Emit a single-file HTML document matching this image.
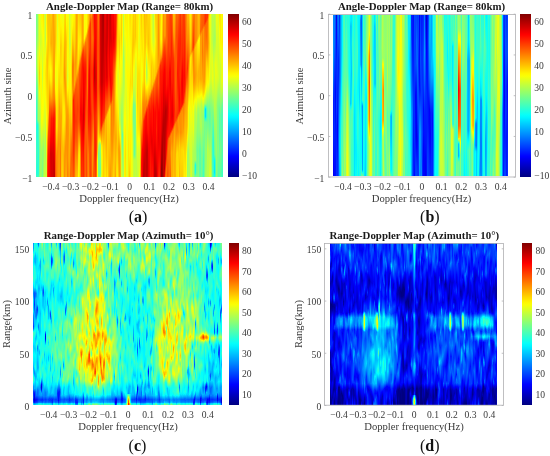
<!DOCTYPE html><html><head><meta charset="utf-8"><style>
*{margin:0;padding:0}
html,body{width:550px;height:456px;background:#fff;overflow:hidden}
body{position:relative;font-family:'Liberation Serif',serif}
.hm{position:absolute;overflow:hidden}
.hm i{position:absolute;top:0;bottom:0;width:1px;display:block}
.cb{position:absolute;background:linear-gradient(to top,#000080,#000090,#0000a0,#0000b0,#0000c0,#0000d0,#0000e1,#0000f1,#0002ff,#0012ff,#0022ff,#0033ff,#0043ff,#0053ff,#0063ff,#0073ff,#0084ff,#0094ff,#00a4ff,#00b4ff,#00c4ff,#00d4ff,#00e5ff,#00f5ff,#06fff9,#16ffe9,#26ffd9,#37ffc8,#47ffb8,#57ffa8,#67ff98,#77ff88,#88ff77,#98ff67,#a8ff57,#b8ff47,#c8ff37,#d9ff26,#e9ff16,#f9ff06,#fff500,#ffe500,#ffd500,#ffc400,#ffb400,#ffa400,#ff9400,#ff8400,#ff7300,#ff6300,#ff5300,#ff4300,#ff3300,#ff2200,#ff1200,#ff0200,#f10000,#e10000,#d00000,#c00000,#b00000,#a00000,#900000,#800000)}
svg{position:absolute;left:0;top:0}
#w{position:absolute;left:0;top:0;width:550px;height:456px;background:#fff;filter:blur(0.35px)}
</style></head><body><div id="w"><div class="hm" style="left:36px;top:14px;width:187px;height:163px"><i style="left:0px;background:linear-gradient(#74ff8b 0px,#96ff69 50.5px,#7aff85 64.5px,#4bffb4 82.5px,#32ffcd 107.5px,#26ffd9 112.5px,#3dffc2 138.5px,#26ffd9 159.5px,#39ffc6 163px)"></i><i style="left:1px;background:linear-gradient(#8aff75 0px,#8eff71 20.5px,#caff35 42.5px,#c1ff3e 52.5px,#6fff90 75.5px,#65ff9a 89.5px,#68ff97 105.5px,#4effb1 107.5px,#1dffe2 110.5px,#16ffe9 112.5px,#38ffc7 138.5px,#1dffe2 158.5px,#42ffbd 163px)"></i><i style="left:2px;background:linear-gradient(#c8ff37 0px,#c1ff3e 25.5px,#ebff14 47.5px,#ddff22 66.5px,#b0ff4f 91.5px,#a5ff5a 105.5px,#8aff75 107.5px,#56ffa9 110.5px,#4affb5 112.5px,#2bffd4 142.5px,#2bffd4 159.5px,#44ffbb 163px)"></i><i style="left:3px;background:linear-gradient(#eeff11 0px,#e1ff1e 26.5px,#fffc00 40.5px,#ffd000 58.5px,#ffd600 67.5px,#fbff04 78.5px,#b8ff47 93.5px,#a0ff5f 107.5px,#8bff74 113.5px,#71ff8e 134.5px,#7cff83 161.5px,#7eff81 163px)"></i><i style="left:4px;background:linear-gradient(#edff12 0px,#cfff30 28.5px,#efff10 48.5px,#fff900 58.5px,#fffa00 69.5px,#eeff11 78.5px,#ceff31 95.5px,#c2ff3d 110.5px,#9aff65 131.5px,#9aff65 163px)"></i><i style="left:5px;background:linear-gradient(#fff600 0px,#f7ff08 11.5px,#daff25 26.5px,#f8ff07 53.5px,#fff800 71.5px,#faff05 107.5px,#a4ff5b 137.5px,#8dff72 163px)"></i><i style="left:6px;background:linear-gradient(#fff400 0px,#f9ff06 16.5px,#c4ff3b 59.5px,#ddff22 72.5px,#fffe00 86.5px,#faff05 105.5px,#94ff6b 138.5px,#73ff8c 163px)"></i><i style="left:7px;background:linear-gradient(#ffe600 0px,#fffe00 21.5px,#eaff15 41.5px,#feff01 71.5px,#f9ff06 95.5px,#dbff24 111.5px,#97ff68 133.5px,#97ff68 145.5px,#a5ff5a 163px)"></i><i style="left:8px;background:linear-gradient(#d7ff28 0px,#e1ff1e 34.5px,#fffc00 53.5px,#f9ff06 78.5px,#dcff23 100.5px,#d5ff2a 116.5px,#b1ff4e 135.5px,#c8ff37 163px)"></i><i style="left:9px;background:linear-gradient(#c4ff3b 0px,#beff41 25.5px,#f1ff0e 41.5px,#fff900 47.5px,#ffe900 59.5px,#faff05 85.5px,#a8ff57 125.5px,#a2ff5d 139.5px,#c8ff37 161.5px,#c8ff37 163px)"></i><i style="left:10px;background:linear-gradient(#fff700 0px,#ffff00 26.5px,#ffd400 45.5px,#ffd800 67.5px,#ffff00 102.5px,#f2ff0d 123.5px,#d2ff2d 147.5px,#d2ff2d 163px)"></i><i style="left:11px;background:linear-gradient(#ffc900 0px,#ffd900 25.5px,#ffc200 47.5px,#ffe000 103.5px,#ffcd00 116.5px,#ff8500 128.5px,#ff4800 145.5px,#ff2d00 163px)"></i><i style="left:12px;background:linear-gradient(#ffc600 0px,#ffca00 36.5px,#ffe700 55.5px,#ffca00 82.5px,#ffc400 97.5px,#ff7600 110.5px,#ff4a00 117.5px,#ff0e00 140.5px,#ff0200 163px)"></i><i style="left:13px;background:linear-gradient(#ffbf00 0px,#ffd700 35.5px,#fff200 52.5px,#ffdc00 64.5px,#ff8000 88.5px,#ff4a00 98.5px,#ff3c00 105.5px,#ff3500 120.5px,#ff0200 143.5px,#f70000 163px)"></i><i style="left:14px;background:linear-gradient(#ffc800 0px,#ffbb00 29.5px,#ffe900 45.5px,#fffe00 56.5px,#ffed00 66.5px,#ff9300 85.5px,#ff5400 95.5px,#ff3100 105.5px,#ff1700 119.5px,#f90000 128.5px,#d90000 139.5px,#e50000 163px)"></i><i style="left:15px;background:linear-gradient(#ffce00 0px,#ffb400 18.5px,#ffad00 29.5px,#fff300 56.5px,#ffed00 66.5px,#ffac00 82.5px,#ff4d00 95.5px,#ff1a00 104.5px,#fb0000 125.5px,#d50000 140.5px,#d70000 163px)"></i><i style="left:16px;background:linear-gradient(#ffb000 0px,#ffb200 28.5px,#ffd200 57.5px,#ffbc00 70.5px,#ff9000 84.5px,#ff1e00 104.5px,#fb0000 125.5px,#db0000 139.5px,#d50000 163px)"></i><i style="left:17px;background:linear-gradient(#ffa100 0px,#ffa800 27.5px,#ffa200 63.5px,#ff8200 84.5px,#ff0f00 104.5px,#fa0000 119.5px,#e40000 132.5px,#cd0000 148.5px,#c80000 163px)"></i><i style="left:18px;background:linear-gradient(#ffbd00 0px,#ffa700 23.5px,#ffa300 39.5px,#ffac00 63.5px,#ff9200 79.5px,#ff7a00 85.5px,#ff2b00 98.5px,#ff1700 105.5px,#ff0d00 124.5px,#fa0000 133.5px,#c40000 159.5px,#c30000 163px)"></i><i style="left:19px;background:linear-gradient(#ffc700 0px,#ffbf00 27.5px,#fcff03 54.5px,#f2ff0d 65.5px,#fff800 74.5px,#ffcf00 84.5px,#ff8a00 94.5px,#ff6a00 104.5px,#ff6d00 117.5px,#ff4f00 135.5px,#ff5300 163px)"></i><i style="left:20px;background:linear-gradient(#ffe200 0px,#ffe900 25.5px,#fff200 42.5px,#f8ff07 53.5px,#efff10 66.5px,#fffa00 78.5px,#ffe000 95.5px,#ffe100 112.5px,#ffbb00 127.5px,#ff8b00 142.5px,#ff7500 163px)"></i><i style="left:21px;background:linear-gradient(#ddff22 0px,#e8ff17 24.5px,#fdff02 43.5px,#f7ff08 67.5px,#fff700 76.5px,#ffd900 96.5px,#ffd400 112.5px,#ffa600 128.5px,#ff8b00 137.5px,#ff8c00 153.5px,#ff9100 163px)"></i><i style="left:22px;background:linear-gradient(#fff100 0px,#f9ff06 16.5px,#f4ff0b 29.5px,#fff700 46.5px,#ffb400 101.5px,#ffa300 117.5px,#ff8f00 129.5px,#ff9c00 163px)"></i><i style="left:23px;background:linear-gradient(#fff100 0px,#fffc00 35.5px,#ffcf00 73.5px,#ffa300 93.5px,#ffa700 115.5px,#ff9400 129.5px,#ff9e00 163px)"></i><i style="left:24px;background:linear-gradient(#fbff04 0px,#fff400 12.5px,#ffce00 33.5px,#ffe000 67.5px,#ffab00 99.5px,#ff9900 118.5px,#ff7a00 138.5px,#ff7900 163px)"></i><i style="left:25px;background:linear-gradient(#f6ff09 0px,#fff900 11.5px,#ffd500 31.5px,#ffe300 68.5px,#ffc200 87.5px,#ffa900 102.5px,#ffb400 128.5px,#ffc500 157.5px,#ffc500 163px)"></i><i style="left:26px;background:linear-gradient(#edff12 0px,#fffa00 15.5px,#ffeb00 32.5px,#ffe400 68.5px,#ffda00 97.5px,#ffdd00 113.5px,#ffbf00 133.5px,#ffd600 163px)"></i><i style="left:27px;background:linear-gradient(#eeff11 0px,#fffa00 17.5px,#ffc600 58.5px,#ffd200 73.5px,#fff100 95.5px,#ffe800 112.5px,#ffb900 140.5px,#ffbd00 163px)"></i><i style="left:28px;background:linear-gradient(#ffe400 0px,#ffce00 16.5px,#ffad00 36.5px,#ff9400 63.5px,#ffb700 76.5px,#ffe800 92.5px,#ffea00 106.5px,#ffc300 124.5px,#ff9a00 141.5px,#ff8f00 163px)"></i><i style="left:29px;background:linear-gradient(#ffd900 0px,#ffb400 30.5px,#ffb900 49.5px,#ff9c00 70.5px,#ffaf00 86.5px,#ffc900 102.5px,#ffb700 115.5px,#ff9100 133.5px,#ff9c00 149.5px,#ffa600 163px)"></i><i style="left:30px;background:linear-gradient(#f6ff09 0px,#fff900 10.5px,#ffcd00 27.5px,#ffd300 63.5px,#ffab00 88.5px,#ff8e00 114.5px,#ff9400 136.5px,#ffad00 163px)"></i><i style="left:31px;background:linear-gradient(#fbff04 0px,#fff100 17.5px,#fff500 30.5px,#f7ff08 40.5px,#d8ff27 62.5px,#edff12 71.5px,#fff800 76.5px,#ffa200 95.5px,#ff9200 109.5px,#ff8d00 146.5px,#ff7f00 163px)"></i><i style="left:32px;background:linear-gradient(#f4ff0b 0px,#fff900 31.5px,#efff10 64.5px,#fff900 73.5px,#ffa300 101.5px,#ff9500 119.5px,#ffa300 143.5px,#ff9000 163px)"></i><i style="left:33px;background:linear-gradient(#ccff33 0px,#c7ff38 27.5px,#fffa00 52.5px,#fff500 64.5px,#fff100 82.5px,#ffb900 106.5px,#ffb300 125.5px,#ffa800 152.5px,#ff9d00 163px)"></i><i style="left:34px;background:linear-gradient(#e7ff18 0px,#cfff30 29.5px,#fffd00 54.5px,#fff500 76.5px,#ff9600 125.5px,#ff6400 163px)"></i><i style="left:35px;background:linear-gradient(#edff12 0px,#fff900 24.5px,#ffdc00 55.5px,#ffe000 94.5px,#ffc400 107.5px,#ff7900 128.5px,#ff5e00 144.5px,#ff6f00 163px)"></i><i style="left:36px;background:linear-gradient(#f6ff09 0px,#fff900 11.5px,#ffb200 34.5px,#ff7800 52.5px,#ff7b00 62.5px,#ffa300 80.5px,#ff8200 86.5px,#ff6a00 111.5px,#ff5200 140.5px,#ff6700 163px)"></i><i style="left:37px;background:linear-gradient(#fffd00 0px,#ffd300 25.5px,#ff7b00 50.5px,#ff8700 75.5px,#ff1c00 86.5px,#ff1f00 101.5px,#ff2b00 120.5px,#ff2f00 137.5px,#ff5500 161.5px,#ff5500 163px)"></i><i style="left:38px;background:linear-gradient(#fff200 0px,#ffd100 33.5px,#ffa500 50.5px,#ffae00 70.5px,#ff4200 81.5px,#ff2200 101.5px,#ff3000 123.5px,#ff7100 163px)"></i><i style="left:39px;background:linear-gradient(#ffcd00 0px,#ffbf00 27.5px,#ff9800 48.5px,#ffa800 65.5px,#ff5300 75.5px,#ff3500 107.5px,#ff5500 123.5px,#ff8e00 143.5px,#ffab00 163px)"></i><i style="left:40px;background:linear-gradient(#ffa500 0px,#ff9f00 37.5px,#ffb200 59.5px,#ff5a00 70.5px,#ff3900 107.5px,#ff5c00 126.5px,#ffb400 158.5px,#ffb800 163px)"></i><i style="left:41px;background:linear-gradient(#ffb000 0px,#ffcb00 39.5px,#ffce00 54.5px,#ff6e00 65.5px,#ff3a00 94.5px,#ff4800 110.5px,#ff7900 134.5px,#ffbf00 160.5px,#ffc100 163px)"></i><i style="left:42px;background:linear-gradient(#ffd400 0px,#ffeb00 18.5px,#fff900 32.5px,#ffdd00 49.5px,#ff7000 60.5px,#ff4600 95.5px,#ff5500 108.5px,#ffa500 127.5px,#ffdb00 140.5px,#fffc00 163px)"></i><i style="left:43px;background:linear-gradient(#ffca00 0px,#ffe100 15.5px,#fff400 27.5px,#ffdd00 39.5px,#ffca00 44.5px,#ff5800 54.5px,#ff4800 65.5px,#ff3b00 105.5px,#ff5f00 114.5px,#ffd900 133.5px,#ffee00 141.5px,#ffe400 163px)"></i><i style="left:44px;background:linear-gradient(#ffc500 0px,#ffdd00 15.5px,#fff000 26.5px,#ffd800 37.5px,#ffca00 40.5px,#ff7a00 46.5px,#ff5300 50.5px,#ff1400 84.5px,#fd0000 97.5px,#ff0700 106.5px,#ff5000 123.5px,#ff8a00 138.5px,#ff9a00 163px)"></i><i style="left:45px;background:linear-gradient(#ffb800 0px,#ffcd00 26.5px,#ffb600 36.5px,#ff4700 44.5px,#ff2500 58.5px,#ff0b00 85.5px,#f80000 99.5px,#ff0700 116.5px,#ff3400 163px)"></i><i style="left:46px;background:linear-gradient(#ffa500 0px,#ffa800 26.5px,#ff9a00 32.5px,#ff3200 40.5px,#ff1100 53.5px,#ff1a00 82.5px,#f90000 101.5px,#f10000 115.5px,#ff0600 125.5px,#ff2a00 147.5px,#ff3800 163px)"></i><i style="left:47px;background:linear-gradient(#ffbf00 0px,#ffbf00 24.5px,#ffb400 28.5px,#ff4300 36.5px,#ff0700 54.5px,#f70000 71.5px,#d40000 101.5px,#e40000 115.5px,#ff0400 127.5px,#ff1f00 147.5px,#ff2a00 163px)"></i><i style="left:48px;background:linear-gradient(#f3ff0c 0px,#faff05 22.5px,#fffd00 24.5px,#ff9800 30.5px,#ff7500 32.5px,#ff2400 48.5px,#ff0a00 59.5px,#f80000 90.5px,#fd0000 105.5px,#ff2d00 122.5px,#ff4d00 136.5px,#ff4800 163px)"></i><i style="left:49px;background:linear-gradient(#fffb00 0px,#fffc00 20.5px,#ffe400 22.5px,#ff7b00 28.5px,#ff2000 50.5px,#ff0c00 61.5px,#ff2500 85.5px,#ff5600 116.5px,#ff5f00 148.5px,#ff6600 163px)"></i><i style="left:50px;background:linear-gradient(#faff05 0px,#feff01 17.5px,#ff9000 24.5px,#ff7c00 29.5px,#ff3f00 54.5px,#ff3f00 70.5px,#ff6000 116.5px,#ff4700 143.5px,#ff4700 163px)"></i><i style="left:51px;background:linear-gradient(#ffe400 0px,#ffde00 13.5px,#ff7a00 21.5px,#ff7600 58.5px,#ff7700 72.5px,#ff4a00 97.5px,#ff5c00 116.5px,#ff7300 143.5px,#ff7000 163px)"></i><i style="left:52px;background:linear-gradient(#ffc500 0px,#ffc100 9.5px,#ff6100 17.5px,#ff5c00 36.5px,#ff1f00 61.5px,#ff0900 86.5px,#ff1400 107.5px,#ff4e00 126.5px,#ff7b00 140.5px,#ff8b00 163px)"></i><i style="left:53px;background:linear-gradient(#ff9e00 0px,#ff9d00 5.5px,#ff4700 13.5px,#ff3e00 32.5px,#ff0c00 49.5px,#f80000 55.5px,#ea0000 72.5px,#ff0400 97.5px,#ff4d00 132.5px,#ff5b00 156.5px,#ff6000 163px)"></i><i style="left:54px;background:linear-gradient(#ff8600 0px,#ff8000 2.5px,#ff3600 9.5px,#ff1f00 64.5px,#ff0900 99.5px,#ff4500 136.5px,#ff3d00 163px)"></i><i style="left:55px;background:linear-gradient(#ffac00 0px,#ff7300 5.5px,#ff5e00 28.5px,#ff3400 55.5px,#ff4000 82.5px,#ff2d00 101.5px,#ff6100 135.5px,#ff5500 163px)"></i><i style="left:56px;background:linear-gradient(#ff6e00 0px,#ff5d00 2.5px,#ff7000 23.5px,#ff3200 58.5px,#ff4000 77.5px,#ff5000 104.5px,#ff8f00 133.5px,#ff9000 150.5px,#ff8800 163px)"></i><i style="left:57px;background:linear-gradient(#ff3300 0px,#ff5700 24.5px,#ff3a00 37.5px,#ff0500 55.5px,#ff0400 68.5px,#ff3500 93.5px,#ff8900 120.5px,#ff8b00 132.5px,#ff5a00 159.5px,#ff5a00 163px)"></i><i style="left:58px;background:linear-gradient(#ff0200 0px,#ff0c00 23.5px,#f90000 32.5px,#c00000 53.5px,#c20000 64.5px,#ff0100 83.5px,#ff2400 105.5px,#ff3500 141.5px,#ff5900 163px)"></i><i style="left:59px;background:linear-gradient(#ff1200 0px,#f90000 30.5px,#d30000 62.5px,#e80000 77.5px,#ff0600 88.5px,#ff2a00 104.5px,#ff2300 121.5px,#ff1e00 137.5px,#ff4400 163px)"></i><i style="left:60px;background:linear-gradient(#ff1b00 0px,#ff0c00 44.5px,#f70000 54.5px,#ee0000 66.5px,#ff0400 81.5px,#ff3700 101.5px,#ff3e00 139.5px,#ff6000 147.5px,#ff7100 163px)"></i><i style="left:61px;background:linear-gradient(#ff5000 0px,#ff4c00 26.5px,#ff4e00 78.5px,#ff7800 109.5px,#ffb600 133.5px,#ffff00 146.5px,#faff05 163px)"></i><i style="left:62px;background:linear-gradient(#ff7600 0px,#ff5200 32.5px,#ff5900 57.5px,#ff5400 74.5px,#ff7700 90.5px,#ffd600 120.5px,#ffeb00 125.5px,#f6ff09 127.5px,#baff45 131.5px,#70ff8f 139.5px,#77ff88 163px)"></i><i style="left:63px;background:linear-gradient(#ff3900 0px,#ff2f00 45.5px,#ff2c00 72.5px,#ff5400 87.5px,#ff7d00 102.5px,#ffa500 118.5px,#ffcc00 122.5px,#fff100 125.5px,#f5ff0a 126.5px,#a6ff59 129.5px,#8cff73 131.5px,#6eff91 158.5px,#78ff87 163px)"></i><i style="left:64px;background:linear-gradient(#d40000 0px,#e00000 56.5px,#e50000 68.5px,#ff0400 80.5px,#ff2e00 99.5px,#ff3e00 109.5px,#ff5300 114.5px,#ff8a00 118.5px,#ffde00 125.5px,#fff300 126.5px,#ecff13 127.5px,#9fff60 130.5px,#94ff6b 131.5px,#69ff96 158.5px,#89ff76 161.5px,#96ff69 163px)"></i><i style="left:65px;background:linear-gradient(#c80000 0px,#c40000 59.5px,#ca0000 70.5px,#f20000 87.5px,#ff0600 101.5px,#ff1c00 111.5px,#ff7500 117.5px,#ff9600 121.5px,#ffb700 126.5px,#ffee00 131.5px,#faff05 136.5px,#e1ff1e 147.5px,#dcff23 159.5px,#ebff14 163px)"></i><i style="left:66px;background:linear-gradient(#ae0000 0px,#cc0000 68.5px,#ff0200 89.5px,#ff3000 108.5px,#ff4b00 110.5px,#ff8e00 114.5px,#ffe300 133.5px,#fff000 143.5px,#ffe600 163px)"></i><i style="left:67px;background:linear-gradient(#a90000 0px,#be0000 31.5px,#e00000 67.5px,#ff0500 81.5px,#ff3800 106.5px,#ff8c00 111.5px,#ffc900 132.5px,#ffce00 149.5px,#ffd000 163px)"></i><i style="left:68px;background:linear-gradient(#e30000 0px,#e20000 38.5px,#e10000 60.5px,#ec0000 71.5px,#ff0500 81.5px,#ff3b00 102.5px,#ff3c00 103.5px,#ff9200 109.5px,#ffd600 135.5px,#ffdf00 163px)"></i><i style="left:69px;background:linear-gradient(#f20000 0px,#dd0000 31.5px,#f70000 65.5px,#ff1300 73.5px,#ff5700 91.5px,#ff6300 100.5px,#ff8b00 103.5px,#ffb800 106.5px,#ffbf00 129.5px,#ffe600 159.5px,#ffe700 163px)"></i><i style="left:70px;background:linear-gradient(#d70000 0px,#cd0000 39.5px,#e10000 63.5px,#ff0300 71.5px,#ff5400 87.5px,#ff6a00 98.5px,#ffb700 103.5px,#ffaa00 126.5px,#ffd300 163px)"></i><i style="left:71px;background:linear-gradient(#c70000 0px,#d10000 24.5px,#f10000 42.5px,#ea0000 62.5px,#ff0600 70.5px,#ff5700 87.5px,#ff6b00 95.5px,#ffc600 100.5px,#ffce00 102.5px,#ffce00 143.5px,#ffe600 163px)"></i><i style="left:72px;background:linear-gradient(#e80000 0px,#ff0400 38.5px,#ff1d00 66.5px,#ff6c00 88.5px,#ff7200 92.5px,#ffd300 98.5px,#ffc500 133.5px,#ffbb00 154.5px,#ffbc00 163px)"></i><i style="left:73px;background:linear-gradient(#d20000 0px,#df0000 31.5px,#ff0600 61.5px,#ff3400 73.5px,#ff7600 88.5px,#ff8200 90.5px,#ffe100 95.5px,#ffdc00 107.5px,#ffa100 163px)"></i><i style="left:74px;background:linear-gradient(#c80000 0px,#d70000 23.5px,#ff0400 40.5px,#ff0400 50.5px,#f30000 66.5px,#ff0500 72.5px,#ff4700 87.5px,#ffa500 92.5px,#ffb200 97.5px,#ffac00 119.5px,#ffb500 141.5px,#ff9400 163px)"></i><i style="left:75px;background:linear-gradient(#f00000 0px,#e40000 26.5px,#ff0600 42.5px,#ff0b00 59.5px,#ff0b00 74.5px,#ff1c00 81.5px,#ff3c00 86.5px,#ff7600 90.5px,#ff7e00 103.5px,#ff8b00 121.5px,#ffa800 145.5px,#ffae00 163px)"></i><i style="left:76px;background:linear-gradient(#fa0000 0px,#f40000 28.5px,#ff0700 40.5px,#ff2000 58.5px,#ff2300 69.5px,#ff7c00 86.5px,#ff8900 87.5px,#ff8d00 105.5px,#ff8f00 127.5px,#ffbe00 159.5px,#ffbf00 163px)"></i><i style="left:77px;background:linear-gradient(#f90000 0px,#e80000 24.5px,#ff0200 33.5px,#ff3c00 49.5px,#ff5e00 71.5px,#ff7500 82.5px,#ff8b00 111.5px,#ffcd00 152.5px,#ffd200 163px)"></i><i style="left:78px;background:linear-gradient(#ff1400 0px,#fb0000 23.5px,#ff0a00 31.5px,#ff4300 47.5px,#ff7800 60.5px,#ff8c00 70.5px,#ff9c00 106.5px,#ffc900 144.5px,#ffc200 163px)"></i><i style="left:79px;background:linear-gradient(#ff1500 0px,#ff0f00 19.5px,#ff3300 33.5px,#ff6a00 46.5px,#ffae00 57.5px,#ffcf00 83.5px,#ffa900 124.5px,#ffb700 146.5px,#ffa700 163px)"></i><i style="left:80px;background:linear-gradient(#ff3500 0px,#ff7d00 30.5px,#ff9900 37.5px,#ffd600 48.5px,#fff900 61.5px,#fffc00 78.5px,#ffbf00 111.5px,#ffad00 124.5px,#ffdf00 156.5px,#ffe100 163px)"></i><i style="left:81px;background:linear-gradient(#ffa500 0px,#ffd400 31.5px,#faff05 50.5px,#e8ff17 62.5px,#f7ff08 81.5px,#fff300 90.5px,#ffdd00 107.5px,#ffc900 134.5px,#ffee00 163px)"></i><i style="left:82px;background:linear-gradient(#ffeb00 0px,#ffd400 26.5px,#fff700 43.5px,#f1ff0e 50.5px,#dfff20 63.5px,#e6ff19 84.5px,#fffa00 98.5px,#ffc600 119.5px,#ffa100 135.5px,#ffac00 146.5px,#ffc700 163px)"></i><i style="left:83px;background:linear-gradient(#fffd00 0px,#ffe700 14.5px,#ffca00 28.5px,#ffd700 41.5px,#fcff03 60.5px,#c2ff3d 98.5px,#c7ff38 106.5px,#f7ff08 115.5px,#fff200 118.5px,#ffa500 132.5px,#ff9b00 138.5px,#ff9f00 163px)"></i><i style="left:84px;background:linear-gradient(#fff400 0px,#ffe900 24.5px,#fcff03 45.5px,#f8ff07 67.5px,#c4ff3b 92.5px,#beff41 106.5px,#e6ff19 117.5px,#fff900 123.5px,#ffbf00 138.5px,#ffb300 163px)"></i><i style="left:85px;background:linear-gradient(#ffd100 0px,#ffcc00 21.5px,#fffd00 48.5px,#e0ff1f 69.5px,#9aff65 101.5px,#97ff68 118.5px,#97ff68 123.5px,#c7ff38 142.5px,#cdff32 159.5px,#dbff24 163px)"></i><i style="left:86px;background:linear-gradient(#fff300 0px,#fffc00 25.5px,#ceff31 66.5px,#b3ff4c 87.5px,#9cff63 105.5px,#92ff6d 115.5px,#63ff9c 120.5px,#74ff8b 131.5px,#b2ff4d 157.5px,#c0ff3f 163px)"></i><i style="left:87px;background:linear-gradient(#bfff40 0px,#c0ff3f 21.5px,#9bff64 44.5px,#b0ff4f 67.5px,#c5ff3a 86.5px,#cdff32 116.5px,#b4ff4b 121.5px,#acff53 153.5px,#b4ff4b 161.5px,#b7ff48 163px)"></i><i style="left:88px;background:linear-gradient(#f4ff0b 0px,#ecff13 20.5px,#bbff44 46.5px,#bdff42 68.5px,#feff01 105.5px,#fff400 143.5px,#fff700 163px)"></i><i style="left:89px;background:linear-gradient(#ffeb00 0px,#faff05 19.5px,#e6ff19 33.5px,#efff10 57.5px,#e5ff1a 79.5px,#fffe00 106.5px,#ffeb00 126.5px,#ffde00 141.5px,#ffed00 163px)"></i><i style="left:90px;background:linear-gradient(#fff200 0px,#fdff02 33.5px,#fffa00 54.5px,#efff10 68.5px,#ddff22 85.5px,#efff10 116.5px,#fffd00 133.5px,#e0ff1f 163px)"></i><i style="left:91px;background:linear-gradient(#fff100 0px,#fff900 21.5px,#f0ff0f 43.5px,#fff800 62.5px,#f8ff07 80.5px,#e9ff16 106.5px,#eaff15 163px)"></i><i style="left:92px;background:linear-gradient(#ffff00 0px,#f0ff0f 43.5px,#fff800 60.5px,#fff800 74.5px,#f0ff0f 94.5px,#faff05 108.5px,#ffe600 132.5px,#ffe300 163px)"></i><i style="left:93px;background:linear-gradient(#ffe600 0px,#faff05 31.5px,#f0ff0f 47.5px,#fff900 61.5px,#ffea00 81.5px,#fff500 110.5px,#fff100 141.5px,#ffc600 161.5px,#ffc500 163px)"></i><i style="left:94px;background:linear-gradient(#ffdf00 0px,#fffc00 37.5px,#ffdd00 68.5px,#fff200 84.5px,#f9ff06 93.5px,#f4ff0b 105.5px,#fff500 119.5px,#ffe400 161.5px,#ffe400 163px)"></i><i style="left:95px;background:linear-gradient(#fff200 0px,#ffeb00 55.5px,#ffe700 70.5px,#faff05 85.5px,#edff12 99.5px,#fffa00 120.5px,#fffe00 140.5px,#ebff14 163px)"></i><i style="left:96px;background:linear-gradient(#ffea00 0px,#ffc900 35.5px,#ffde00 72.5px,#faff05 82.5px,#c0ff3f 95.5px,#b9ff46 104.5px,#deff21 129.5px,#eaff15 155.5px,#e9ff16 163px)"></i><i style="left:97px;background:linear-gradient(#ffce00 0px,#ffc500 30.5px,#ffe600 45.5px,#faff05 55.5px,#d4ff2b 71.5px,#93ff6c 86.5px,#71ff8e 91.5px,#71ff8e 104.5px,#97ff68 125.5px,#96ff69 141.5px,#c5ff3a 146.5px,#c3ff3c 163px)"></i><i style="left:98px;background:linear-gradient(#ffd700 0px,#ffcf00 28.5px,#fff700 46.5px,#f3ff0c 54.5px,#d6ff29 70.5px,#9cff63 86.5px,#75ff8a 90.5px,#65ff9a 140.5px,#7eff81 142.5px,#b1ff4e 145.5px,#b9ff46 147.5px,#b8ff47 163px)"></i><i style="left:99px;background:linear-gradient(#ffc800 0px,#ffc800 22.5px,#fff100 35.5px,#f7ff08 40.5px,#d4ff2b 53.5px,#cdff32 75.5px,#b1ff4e 86.5px,#8aff75 91.5px,#79ff86 109.5px,#86ff79 136.5px,#90ff6f 141.5px,#b8ff47 146.5px,#c7ff38 163px)"></i><i style="left:100px;background:linear-gradient(#ffe400 0px,#ffe300 25.5px,#faff05 39.5px,#ddff22 56.5px,#eaff15 72.5px,#fffb00 84.5px,#f8ff07 104.5px,#beff41 133.5px,#b8ff47 163px)"></i><i style="left:101px;background:linear-gradient(#ffe700 0px,#ffe700 26.5px,#ffef00 47.5px,#ffcd00 81.5px,#fff000 118.5px,#f8ff07 127.5px,#d1ff2e 146.5px,#c0ff3f 163px)"></i><i style="left:102px;background:linear-gradient(#fff200 0px,#fffd00 17.5px,#ebff14 32.5px,#fffb00 44.5px,#ffdf00 59.5px,#ffdb00 88.5px,#ffe600 114.5px,#fcff03 124.5px,#d2ff2d 139.5px,#d2ff2d 163px)"></i><i style="left:103px;background:linear-gradient(#e6ff19 0px,#eaff15 33.5px,#fffa00 44.5px,#ffe000 59.5px,#ffd700 92.5px,#ffcd00 108.5px,#ffec00 120.5px,#faff05 126.5px,#dcff23 138.5px,#dbff24 151.5px,#feff01 163px)"></i><i style="left:104px;background:linear-gradient(#ffe600 0px,#fff600 34.5px,#ffe800 72.5px,#ffbb00 106.5px,#ffb700 120.5px,#ffc500 136.5px,#ffa900 163px)"></i><i style="left:105px;background:linear-gradient(#ffca00 0px,#ffe000 19.5px,#f9ff06 50.5px,#efff10 66.5px,#fff800 81.5px,#ffbe00 106.5px,#ff7400 121.5px,#ff5a00 126.5px,#ff1400 146.5px,#ff0d00 151.5px,#ff1a00 163px)"></i><i style="left:106px;background:linear-gradient(#ffea00 0px,#ffe600 34.5px,#fcff03 57.5px,#fff600 66.5px,#ff9b00 89.5px,#ff8a00 101.5px,#ff8600 106.5px,#ff3400 126.5px,#ff0000 135.5px,#f30000 163px)"></i><i style="left:107px;background:linear-gradient(#ffdc00 0px,#fff300 32.5px,#ffdd00 67.5px,#ff8b00 88.5px,#ff7400 96.5px,#ff7000 102.5px,#ff3900 107.5px,#ff0900 121.5px,#f70000 133.5px,#bb0000 161.5px,#bb0000 163px)"></i><i style="left:108px;background:linear-gradient(#ffb900 0px,#ffd800 42.5px,#ffc900 67.5px,#ff8b00 88.5px,#ff7900 95.5px,#ff7700 98.5px,#ff1800 106.5px,#fa0000 125.5px,#c90000 149.5px,#c30000 163px)"></i><i style="left:109px;background:linear-gradient(#ffc800 0px,#ffc500 28.5px,#fcff03 55.5px,#f9ff06 65.5px,#fff500 70.5px,#ff9200 87.5px,#ff8400 90.5px,#ff7e00 95.5px,#ff1400 102.5px,#fb0000 115.5px,#d20000 139.5px,#cd0000 163px)"></i><i style="left:110px;background:linear-gradient(#ffbf00 0px,#ffe100 28.5px,#f9ff06 37.5px,#b3ff4c 50.5px,#aaff55 58.5px,#c1ff3e 65.5px,#fffb00 73.5px,#ff8700 87.5px,#ff8500 91.5px,#ff2600 97.5px,#ff1300 98.5px,#ff0a00 101.5px,#fb0000 116.5px,#c10000 138.5px,#bf0000 163px)"></i><i style="left:111px;background:linear-gradient(#ffcd00 0px,#ffd600 30.5px,#fffa00 41.5px,#cfff30 57.5px,#d3ff2c 64.5px,#ffff00 72.5px,#ff9000 89.5px,#ff3300 95.5px,#ff0e00 116.5px,#f50000 122.5px,#c70000 136.5px,#c60000 152.5px,#ca0000 163px)"></i><i style="left:112px;background:linear-gradient(#ffda00 0px,#ffc200 29.5px,#ffe100 44.5px,#fbff04 56.5px,#f2ff0d 64.5px,#fff800 70.5px,#ffa200 84.5px,#ff3600 91.5px,#ff2000 101.5px,#ff1200 118.5px,#f90000 130.5px,#eb0000 151.5px,#ea0000 163px)"></i><i style="left:113px;background:linear-gradient(#ffd400 0px,#ffd400 33.5px,#fffa00 61.5px,#ffe900 70.5px,#ffb200 80.5px,#ff3f00 87.5px,#ff1900 95.5px,#ff0e00 106.5px,#f90000 134.5px,#ff0400 163px)"></i><i style="left:114px;background:linear-gradient(#ffed00 0px,#ffe200 45.5px,#ffe100 66.5px,#ffba00 77.5px,#ff4700 84.5px,#ff1200 99.5px,#f90000 115.5px,#fb0000 128.5px,#ff1900 151.5px,#ff1700 163px)"></i><i style="left:115px;background:linear-gradient(#edff12 0px,#f7ff08 28.5px,#fff500 35.5px,#ffc800 52.5px,#ffc000 69.5px,#ffad00 74.5px,#ff4b00 80.5px,#ff3100 85.5px,#ff1200 97.5px,#ff0300 112.5px,#e80000 127.5px,#ff0500 143.5px,#ff1100 161.5px,#ff1100 163px)"></i><i style="left:116px;background:linear-gradient(#cdff32 0px,#dbff24 26.5px,#fffd00 37.5px,#ffd800 48.5px,#ffd500 61.5px,#ffc800 70.5px,#ff9d00 73.5px,#ff5a00 77.5px,#ff1d00 92.5px,#ff1400 103.5px,#ff0800 116.5px,#ef0000 126.5px,#ed0000 137.5px,#ff0500 147.5px,#ff1b00 163px)"></i><i style="left:117px;background:linear-gradient(#bbff44 0px,#c9ff36 24.5px,#fff900 41.5px,#ffd000 55.5px,#ffc400 67.5px,#ff5600 74.5px,#ff0000 95.5px,#fb0000 105.5px,#fa0000 127.5px,#eb0000 141.5px,#fa0000 163px)"></i><i style="left:118px;background:linear-gradient(#eeff11 0px,#e4ff1b 26.5px,#fffb00 40.5px,#ffd500 56.5px,#ffcf00 64.5px,#ff7100 70.5px,#ff6100 74.5px,#ff0c00 98.5px,#f90000 124.5px,#c70000 148.5px,#bc0000 163px)"></i><i style="left:119px;background:linear-gradient(#ffcc00 0px,#fff100 27.5px,#ffc700 56.5px,#ffc200 61.5px,#ff6700 67.5px,#ff3700 83.5px,#ff0600 98.5px,#fa0000 126.5px,#b80000 159.5px,#b60000 163px)"></i><i style="left:120px;background:linear-gradient(#ffcc00 0px,#ffd300 30.5px,#ffc200 52.5px,#ffc200 57.5px,#ff6200 64.5px,#ff1500 88.5px,#ff1300 100.5px,#ff2100 116.5px,#fa0000 137.5px,#c80000 158.5px,#c50000 163px)"></i><i style="left:121px;background:linear-gradient(#ffbe00 0px,#ffb500 35.5px,#ffaf00 54.5px,#ff5b00 61.5px,#ff4900 72.5px,#ff0b00 91.5px,#ff0700 104.5px,#f30000 163px)"></i><i style="left:122px;background:linear-gradient(#ff9900 0px,#ff9200 25.5px,#ff9400 40.5px,#ffa900 51.5px,#ff6800 57.5px,#ff6900 69.5px,#ff3700 83.5px,#ff0000 98.5px,#eb0000 124.5px,#ff0400 143.5px,#ff1d00 161.5px,#ff1d00 163px)"></i><i style="left:123px;background:linear-gradient(#ffbe00 0px,#ffa200 44.5px,#ff9700 48.5px,#ff4900 54.5px,#ff3900 72.5px,#ff0000 98.5px,#f40000 129.5px,#ff0700 140.5px,#ff2500 158.5px,#ff2700 163px)"></i><i style="left:124px;background:linear-gradient(#ffd100 0px,#ffec00 24.5px,#ffd000 33.5px,#ff9200 44.5px,#ff2a00 51.5px,#ff1800 59.5px,#ff1000 84.5px,#fd0000 112.5px,#ee0000 147.5px,#df0000 163px)"></i><i style="left:125px;background:linear-gradient(#fffb00 0px,#fffa00 25.5px,#ffd100 35.5px,#ffac00 40.5px,#ff6800 45.5px,#ff3e00 48.5px,#ff1f00 57.5px,#ff0d00 76.5px,#fa0000 87.5px,#e70000 114.5px,#920000 155.5px,#8f0000 163px)"></i><i style="left:126px;background:linear-gradient(#ffd900 0px,#ffb600 27.5px,#ff9d00 33.5px,#ff4f00 43.5px,#ff3f00 44.5px,#ff1800 57.5px,#fa0000 90.5px,#cb0000 111.5px,#b00000 127.5px,#9e0000 163px)"></i><i style="left:127px;background:linear-gradient(#ff9500 0px,#ff9200 14.5px,#ff8400 25.5px,#ff3700 40.5px,#ff0200 60.5px,#b40000 114.5px,#c80000 145.5px,#c50000 163px)"></i><i style="left:128px;background:linear-gradient(#ffa600 0px,#ff9c00 21.5px,#ff4500 33.5px,#fe0000 55.5px,#f00000 78.5px,#bc0000 105.5px,#b70000 125.5px,#ba0000 146.5px,#b10000 154.5px,#f90000 163px)"></i><i style="left:129px;background:linear-gradient(#ffa500 0px,#ff9000 21.5px,#ff6f00 26.5px,#ff2300 44.5px,#ff0a00 59.5px,#fa0000 78.5px,#b80000 97.5px,#bd0000 113.5px,#d50000 135.5px,#d30000 144.5px,#ff0500 150.5px,#ff6d00 163px)"></i><i style="left:130px;background:linear-gradient(#ff6c00 0px,#ff6d00 28.5px,#ff2500 54.5px,#ff1b00 70.5px,#fc0000 80.5px,#c20000 96.5px,#c70000 106.5px,#f90000 130.5px,#ff0300 134.5px,#ff7300 154.5px,#ff7200 163px)"></i><i style="left:131px;background:linear-gradient(#ff5c00 0px,#ff5d00 25.5px,#ff2200 55.5px,#ff1000 70.5px,#fa0000 77.5px,#d30000 93.5px,#d70000 103.5px,#ff0400 117.5px,#ff1400 124.5px,#ff2a00 126.5px,#ff5700 136.5px,#ff6800 144.5px,#ff5100 163px)"></i><i style="left:132px;background:linear-gradient(#ff5b00 0px,#ff2a00 51.5px,#fc0000 78.5px,#f40000 98.5px,#ff0600 111.5px,#ff1700 121.5px,#ff1f00 122.5px,#ff5000 124.5px,#ff6200 126.5px,#ff7900 134.5px,#ff6300 156.5px,#ff6300 163px)"></i><i style="left:133px;background:linear-gradient(#ff4900 0px,#ff4200 36.5px,#ff1800 50.5px,#fd0000 58.5px,#fe0000 71.5px,#ff1600 91.5px,#ff0f00 115.5px,#ff1100 119.5px,#ff1f00 120.5px,#ff7b00 124.5px,#ff7100 146.5px,#ff7400 163px)"></i><i style="left:134px;background:linear-gradient(#ff3a00 0px,#ff3e00 25.5px,#ff3200 40.5px,#fb0000 57.5px,#ef0000 70.5px,#ff0200 88.5px,#fe0000 107.5px,#ff1400 117.5px,#ff7200 121.5px,#ff8200 122.5px,#ff7f00 129.5px,#ff8800 139.5px,#ff6300 160.5px,#ff6200 163px)"></i><i style="left:135px;background:linear-gradient(#ff4600 0px,#ff2200 30.5px,#ff2300 62.5px,#fb0000 88.5px,#eb0000 103.5px,#ff0500 112.5px,#ff1300 115.5px,#ff7f00 119.5px,#ff8b00 120.5px,#ff9500 128.5px,#ffb100 138.5px,#ffaa00 163px)"></i><i style="left:136px;background:linear-gradient(#ff6e00 0px,#ff2800 44.5px,#ff1b00 68.5px,#fa0000 84.5px,#e30000 101.5px,#ff0100 112.5px,#ff1000 113.5px,#ff8000 117.5px,#ff8a00 127.5px,#ffa700 138.5px,#ffb200 163px)"></i><i style="left:137px;background:linear-gradient(#ffbc00 0px,#ff9f00 17.5px,#ff6800 30.5px,#ff2e00 44.5px,#ff1d00 59.5px,#ff1800 81.5px,#fe0000 102.5px,#ff1000 110.5px,#ff8100 115.5px,#ff9a00 125.5px,#ffb500 137.5px,#ffc000 163px)"></i><i style="left:138px;background:linear-gradient(#ffb900 0px,#ff9600 24.5px,#ff4a00 48.5px,#ff4300 60.5px,#ff3a00 75.5px,#ff1f00 95.5px,#ff3100 107.5px,#ff3400 108.5px,#ff8700 112.5px,#ff9900 114.5px,#ffb700 126.5px,#ffb100 154.5px,#ffb500 163px)"></i><i style="left:139px;background:linear-gradient(#ff8e00 0px,#ff6300 26.5px,#ff5700 52.5px,#ff6000 69.5px,#ff3e00 102.5px,#ff4400 106.5px,#ff8a00 110.5px,#ffb700 146.5px,#ffb700 163px)"></i><i style="left:140px;background:linear-gradient(#ff6300 0px,#ff4c00 21.5px,#ff5c00 47.5px,#ff3e00 97.5px,#ff3300 103.5px,#ff5b00 106.5px,#ff7a00 108.5px,#ff8800 119.5px,#ffd800 140.5px,#ffdb00 160.5px,#ffda00 163px)"></i><i style="left:141px;background:linear-gradient(#ff6600 0px,#ff2d00 44.5px,#ff1400 59.5px,#ff2b00 74.5px,#ff4000 88.5px,#ff2d00 101.5px,#ff8800 106.5px,#ff8000 115.5px,#ffdd00 138.5px,#ffe000 154.5px,#ffdd00 163px)"></i><i style="left:142px;background:linear-gradient(#ff5a00 0px,#ff2500 29.5px,#ff1300 72.5px,#ff2700 98.5px,#ff2c00 99.5px,#ff8f00 103.5px,#ff9900 105.5px,#ff9000 117.5px,#ffd100 138.5px,#ffe700 163px)"></i><i style="left:143px;background:linear-gradient(#ff4500 0px,#ff2600 26.5px,#ff1d00 41.5px,#ff2600 61.5px,#ff0300 83.5px,#ff1100 96.5px,#ff1e00 97.5px,#ff8600 101.5px,#ffa100 118.5px,#ffd200 131.5px,#ffd600 141.5px,#ffb800 161.5px,#ffb700 163px)"></i><i style="left:144px;background:linear-gradient(#ff3200 0px,#ff2000 29.5px,#ff2f00 61.5px,#ff1a00 86.5px,#ff1e00 94.5px,#ff8f00 99.5px,#ff8e00 118.5px,#ffce00 135.5px,#ffd400 146.5px,#ffcd00 163px)"></i><i style="left:145px;background:linear-gradient(#ff5400 0px,#ff3700 24.5px,#ff2b00 46.5px,#ff0300 68.5px,#ff0c00 83.5px,#ff1b00 92.5px,#ff8300 96.5px,#ff9000 97.5px,#ff9500 118.5px,#ffd700 135.5px,#ffd900 145.5px,#ffca00 163px)"></i><i style="left:146px;background:linear-gradient(#ff4900 0px,#ff2300 41.5px,#fb0000 57.5px,#f10000 72.5px,#ff0600 84.5px,#ff1200 89.5px,#ff1d00 90.5px,#ff8800 94.5px,#ff9700 100.5px,#ff9f00 118.5px,#ffda00 135.5px,#ffd900 145.5px,#ffcb00 163px)"></i><i style="left:147px;background:linear-gradient(#ff3700 0px,#ff3100 34.5px,#ff0c00 61.5px,#ff1500 84.5px,#ff2f00 88.5px,#ff7f00 92.5px,#ff9600 113.5px,#ffe100 137.5px,#ffdf00 163px)"></i><i style="left:148px;background:linear-gradient(#ff3f00 0px,#ff0700 61.5px,#ff1a00 77.5px,#ff6d00 88.5px,#ff8a00 90.5px,#ffa100 103.5px,#ffe800 150.5px,#fff100 163px)"></i><i style="left:149px;background:linear-gradient(#ff6c00 0px,#ff3d00 38.5px,#ff2800 64.5px,#ff2e00 70.5px,#ff9100 86.5px,#ffb200 102.5px,#ffd200 134.5px,#ffee00 163px)"></i><i style="left:150px;background:linear-gradient(#ff8800 0px,#ff8600 26.5px,#ff4300 58.5px,#ff4900 63.5px,#ff9c00 78.5px,#ffb100 102.5px,#ffbf00 119.5px,#fdff02 141.5px,#f0ff0f 163px)"></i><i style="left:151px;background:linear-gradient(#ffb500 0px,#ff8e00 24.5px,#ff2f00 54.5px,#ff6600 66.5px,#ff7f00 71.5px,#ffc100 95.5px,#ffcf00 111.5px,#fff600 121.5px,#f0ff0f 125.5px,#aaff55 138.5px,#9dff62 150.5px,#9fff60 163px)"></i><i style="left:152px;background:linear-gradient(#ffb800 0px,#ff8400 29.5px,#ff5b00 47.5px,#ff8a00 63.5px,#ff9c00 72.5px,#fffd00 93.5px,#f9ff06 102.5px,#f6ff09 113.5px,#c3ff3c 127.5px,#9dff62 138.5px,#a2ff5d 151.5px,#adff52 163px)"></i><i style="left:153px;background:linear-gradient(#ffdc00 0px,#ffad00 24.5px,#ff8700 41.5px,#ff9f00 44.5px,#ffc500 55.5px,#ffc400 67.5px,#ffeb00 82.5px,#f9ff06 88.5px,#dcff23 99.5px,#d4ff2b 121.5px,#9eff61 163px)"></i><i style="left:154px;background:linear-gradient(#fff200 0px,#ffd500 25.5px,#ffae00 39.5px,#ffe800 43.5px,#fff100 47.5px,#ffdc00 63.5px,#ffed00 82.5px,#f8ff07 94.5px,#dbff24 123.5px,#caff35 157.5px,#c8ff37 163px)"></i><i style="left:155px;background:linear-gradient(#ffd500 0px,#ffb500 26.5px,#ff9500 37.5px,#ffd900 41.5px,#ffdc00 43.5px,#ffcf00 58.5px,#fff700 87.5px,#f4ff0b 101.5px,#d4ff2b 126.5px,#d7ff28 163px)"></i><i style="left:156px;background:linear-gradient(#ff9b00 0px,#ff7900 18.5px,#ff5c00 33.5px,#ff5e00 35.5px,#ffa400 39.5px,#ffce00 61.5px,#fff900 83.5px,#eaff15 97.5px,#dfff20 113.5px,#bbff44 135.5px,#abff54 163px)"></i><i style="left:157px;background:linear-gradient(#ff7a00 0px,#ff5500 16.5px,#ff3800 30.5px,#ff3d00 33.5px,#ff7c00 37.5px,#ff9d00 68.5px,#fcff03 92.5px,#edff12 101.5px,#eaff15 114.5px,#acff53 138.5px,#a6ff59 163px)"></i><i style="left:158px;background:linear-gradient(#ff7400 0px,#ff6600 30.5px,#ffa400 35.5px,#ff8f00 64.5px,#ffb300 74.5px,#fbff04 87.5px,#c6ff39 97.5px,#b0ff4f 123.5px,#a3ff5c 145.5px,#63ff9c 151.5px,#5bffa4 158.5px,#81ff7e 163px)"></i><i style="left:159px;background:linear-gradient(#ff9600 0px,#ff8600 28.5px,#ffc200 33.5px,#ff9e00 61.5px,#ffaf00 70.5px,#ffef00 82.5px,#f9ff06 85.5px,#bcff43 95.5px,#adff52 103.5px,#9fff60 136.5px,#a5ff5a 145.5px,#97ff68 146.5px,#23ffdc 150.5px,#15ffea 151.5px,#1bffe4 158.5px,#2bffd4 159.5px,#86ff79 163px)"></i><i style="left:160px;background:linear-gradient(#ff9300 0px,#ff8e00 26.5px,#ffc800 30.5px,#ffcb00 34.5px,#ffab00 59.5px,#ffb700 68.5px,#fff400 82.5px,#faff05 85.5px,#c2ff3d 98.5px,#98ff67 119.5px,#7eff81 134.5px,#82ff7d 146.5px,#5dffa2 151.5px,#6bff94 159.5px,#8aff75 163px)"></i><i style="left:161px;background:linear-gradient(#ffa500 0px,#ffa200 23.5px,#ffa500 24.5px,#ffe600 28.5px,#ffdb00 39.5px,#ffb800 61.5px,#ffc700 71.5px,#fff000 79.5px,#faff05 82.5px,#abff54 95.5px,#9cff63 103.5px,#87ff78 120.5px,#67ff98 137.5px,#78ff87 163px)"></i><i style="left:162px;background:linear-gradient(#ffba00 0px,#ffb200 21.5px,#ffb900 22.5px,#fffe00 26.5px,#ffd500 42.5px,#ffb200 57.5px,#ffb500 67.5px,#ffd600 76.5px,#fdff02 82.5px,#a7ff58 94.5px,#95ff6a 101.5px,#90ff6f 117.5px,#70ff8f 135.5px,#86ff79 163px)"></i><i style="left:163px;background:linear-gradient(#ffae00 0px,#ffb000 19.5px,#ffda00 22.5px,#fff700 24.5px,#ffe000 36.5px,#ffb300 52.5px,#ffb500 64.5px,#ffe400 77.5px,#faff05 82.5px,#b0ff4f 94.5px,#a0ff5f 102.5px,#94ff6b 115.5px,#5cffa3 136.5px,#64ff9b 163px)"></i><i style="left:164px;background:linear-gradient(#ff7f00 0px,#ff6800 17.5px,#ff9f00 22.5px,#ffaa00 64.5px,#ffd400 74.5px,#feff01 81.5px,#beff41 91.5px,#acff53 99.5px,#acff53 111.5px,#5cffa3 137.5px,#5affa5 163px)"></i><i style="left:165px;background:linear-gradient(#ff6400 0px,#ff6100 15.5px,#ff9b00 20.5px,#ffab00 55.5px,#ffad00 65.5px,#ffd500 74.5px,#ffff00 80.5px,#b4ff4b 90.5px,#9fff60 97.5px,#adff52 112.5px,#79ff86 138.5px,#71ff8e 163px)"></i><i style="left:166px;background:linear-gradient(#ff6000 0px,#ff5900 13.5px,#ff8700 17.5px,#ff7900 38.5px,#ffa100 62.5px,#ffbd00 72.5px,#faff05 83.5px,#abff54 94.5px,#99ff66 101.5px,#8bff74 118.5px,#57ffa8 163px)"></i><i style="left:167px;background:linear-gradient(#ff5900 0px,#ff5c00 11.5px,#ff9500 15.5px,#ff9a00 27.5px,#ff9300 43.5px,#ff9f00 67.5px,#ffce00 78.5px,#ffff00 84.5px,#a4ff5b 95.5px,#91ff6e 102.5px,#8dff72 114.5px,#6aff95 131.5px,#45ffba 146.5px,#42ffbd 163px)"></i><i style="left:168px;background:linear-gradient(#ff4600 0px,#ff3d00 9.5px,#ff7900 13.5px,#ff9500 60.5px,#ff9e00 67.5px,#ffd800 77.5px,#ffff00 81.5px,#b1ff4e 89.5px,#48ffb7 94.5px,#3affc5 96.5px,#33ffcc 102.5px,#60ff9f 106.5px,#74ff8b 108.5px,#71ff8e 132.5px,#69ff96 150.5px,#72ff8d 163px)"></i><i style="left:169px;background:linear-gradient(#ff2f00 0px,#ff2a00 7.5px,#ff6600 11.5px,#ff7e00 30.5px,#ff9b00 44.5px,#ffb900 61.5px,#ffd500 70.5px,#ffff00 77.5px,#9eff61 89.5px,#84ff7b 90.5px,#10ffef 93.5px,#00eeff 94.5px,#00deff 95.5px,#00e0ff 102.5px,#00eeff 103.5px,#0bfff4 104.5px,#61ff9e 107.5px,#71ff8e 108.5px,#8eff71 130.5px,#94ff6b 150.5px,#a1ff5e 163px)"></i><i style="left:170px;background:linear-gradient(#ff3700 0px,#ff3400 5.5px,#ff6a00 9.5px,#ff6a00 22.5px,#ff8b00 35.5px,#ffcd00 48.5px,#ffe300 59.5px,#fff000 68.5px,#fbff04 72.5px,#91ff6e 89.5px,#38ffc7 94.5px,#2effd1 96.5px,#29ffd6 102.5px,#4affb5 105.5px,#6cff93 108.5px,#aaff55 159.5px,#abff54 163px)"></i><i style="left:171px;background:linear-gradient(#ff3600 0px,#ff3900 3.5px,#ff6f00 7.5px,#ff8300 33.5px,#ffdf00 54.5px,#fffb00 68.5px,#d7ff28 76.5px,#61ff9e 94.5px,#56ffa9 102.5px,#95ff6a 121.5px,#baff45 134.5px,#b6ff49 163px)"></i><i style="left:172px;background:linear-gradient(#ff8100 0px,#ffae00 5.5px,#ffa200 28.5px,#fff500 66.5px,#f6ff09 70.5px,#7bff84 91.5px,#64ff9b 100.5px,#77ff88 114.5px,#b4ff4b 136.5px,#b6ff49 163px)"></i><i style="left:173px;background:linear-gradient(#ffd500 0px,#fff500 3.5px,#ffd400 29.5px,#ffea00 45.5px,#fcff03 60.5px,#dfff20 70.5px,#63ff9c 94.5px,#56ffa9 103.5px,#72ff8d 116.5px,#b6ff49 140.5px,#d4ff2b 161.5px,#d4ff2b 163px)"></i><i style="left:174px;background:linear-gradient(#fbff04 0px,#f3ff0c 2.5px,#d9ff26 63.5px,#adff52 79.5px,#67ff98 99.5px,#67ff98 111.5px,#96ff69 128.5px,#c7ff38 145.5px,#d8ff27 163px)"></i><i style="left:175px;background:linear-gradient(#cdff32 0px,#c9ff36 25.5px,#e2ff1d 48.5px,#d5ff2a 66.5px,#81ff7e 93.5px,#78ff87 110.5px,#8bff74 131.5px,#a7ff58 156.5px,#a8ff57 163px)"></i><i style="left:176px;background:linear-gradient(#b0ff4f 0px,#bbff44 25.5px,#e6ff19 46.5px,#edff12 65.5px,#c8ff37 77.5px,#7eff81 95.5px,#3bffc4 131.5px,#45ffba 145.5px,#5cffa3 163px)"></i><i style="left:177px;background:linear-gradient(#bfff40 0px,#a7ff58 29.5px,#e0ff1f 61.5px,#d2ff2d 74.5px,#49ffb6 115.5px,#26ffd9 128.5px,#29ffd6 144.5px,#35ffca 160.5px,#3cffc3 163px)"></i><i style="left:178px;background:linear-gradient(#b4ff4b 0px,#a1ff5e 25.5px,#d7ff28 50.5px,#c9ff36 66.5px,#b6ff49 95.5px,#8dff72 117.5px,#5bffa4 140.5px,#3effc1 142.5px,#07fff8 145.5px,#00f8ff 148.5px,#00e8ff 158.5px,#01fffe 160.5px,#21ffde 163px)"></i><i style="left:179px;background:linear-gradient(#cbff34 0px,#acff53 24.5px,#cbff34 37.5px,#eeff11 51.5px,#e6ff19 63.5px,#bdff42 84.5px,#81ff7e 140.5px,#4cffb3 146.5px,#40ffbf 159.5px,#59ffa6 163px)"></i><i style="left:180px;background:linear-gradient(#f1ff0e 0px,#deff21 19.5px,#d5ff2a 33.5px,#ebff14 58.5px,#d6ff29 71.5px,#a4ff5b 91.5px,#9fff60 119.5px,#89ff76 163px)"></i><i style="left:181px;background:linear-gradient(#f2ff0d 0px,#deff21 21.5px,#d5ff2a 37.5px,#e2ff1d 61.5px,#c7ff38 72.5px,#89ff76 89.5px,#81ff7e 101.5px,#7dff82 147.5px,#78ff87 163px)"></i><i style="left:182px;background:linear-gradient(#e3ff1c 0px,#ceff31 45.5px,#d6ff29 64.5px,#9cff63 80.5px,#76ff89 94.5px,#7aff85 116.5px,#87ff78 135.5px,#56ffa9 161.5px,#56ffa9 163px)"></i><i style="left:183px;background:linear-gradient(#ffe600 0px,#faff05 16.5px,#d7ff28 47.5px,#c6ff39 64.5px,#a6ff59 78.5px,#5affa5 99.5px,#55ffaa 116.5px,#6dff92 141.5px,#60ff9f 163px)"></i><i style="left:184px;background:linear-gradient(#ffe700 0px,#ffec00 23.5px,#f8ff07 33.5px,#ceff31 51.5px,#c5ff3a 71.5px,#92ff6d 87.5px,#63ff9c 101.5px,#5fffa0 115.5px,#79ff86 136.5px,#5cffa3 163px)"></i><i style="left:185px;background:linear-gradient(#f8ff07 0px,#fff800 28.5px,#f5ff0a 38.5px,#e6ff19 53.5px,#e9ff16 67.5px,#c4ff3b 77.5px,#5bffa4 96.5px,#4affb5 106.5px,#57ffa8 122.5px,#66ff99 137.5px,#49ffb6 163px)"></i><i style="left:186px;background:linear-gradient(#fffb00 0px,#ffeb00 27.5px,#faff05 40.5px,#ebff14 54.5px,#ecff13 66.5px,#c6ff39 75.5px,#65ff9a 91.5px,#50ffaf 100.5px,#5dffa2 128.5px,#3dffc2 163px)"></i></div><div class="hm" style="left:333px;top:15px;width:175px;height:161px"><i style="left:0px;background:linear-gradient(#0085ff 0px,#0093ff 42.5px,#006eff 63.5px,#001fff 85.5px,#001cff 101.5px,#0022ff 123.5px,#0000fb 150.5px,#0000f2 161px)"></i><i style="left:1px;background:linear-gradient(#007dff 0px,#0071ff 28.5px,#0040ff 52.5px,#0028ff 70.5px,#0029ff 87.5px,#002cff 109.5px,#0008ff 154.5px,#0008ff 161px)"></i><i style="left:2px;background:linear-gradient(#0056ff 0px,#003fff 35.5px,#002cff 52.5px,#0001ff 77.5px,#0008ff 101.5px,#001cff 122.5px,#0009ff 150.5px,#000bff 161px)"></i><i style="left:3px;background:linear-gradient(#0000e5 0px,#0005ff 23.5px,#0025ff 46.5px,#002dff 75.5px,#003dff 90.5px,#001bff 116.5px,#002eff 150.5px,#002dff 161px)"></i><i style="left:4px;background:linear-gradient(#0061ff 0px,#0040ff 32.5px,#0031ff 58.5px,#001cff 78.5px,#000fff 97.5px,#0000fb 110.5px,#0007ff 125.5px,#0028ff 147.5px,#0029ff 161px)"></i><i style="left:5px;background:linear-gradient(#007bff 0px,#0065ff 18.5px,#0021ff 45.5px,#0022ff 60.5px,#0064ff 120.5px,#0058ff 145.5px,#004eff 161px)"></i><i style="left:6px;background:linear-gradient(#002bff 0px,#0050ff 30.5px,#004eff 54.5px,#00b6ff 108.5px,#00d5ff 126.5px,#00caff 142.5px,#00b2ff 161px)"></i><i style="left:7px;background:linear-gradient(#008bff 0px,#0091ff 46.5px,#0098ff 65.5px,#00e9ff 104.5px,#00f4ff 137.5px,#00e1ff 161px)"></i><i style="left:8px;background:linear-gradient(#00c7ff 0px,#00c8ff 38.5px,#00fcff 81.5px,#4affb5 120.5px,#5affa5 161px)"></i><i style="left:9px;background:linear-gradient(#00f2ff 0px,#00fbff 33.5px,#18ffe7 48.5px,#3effc1 69.5px,#48ffb7 105.5px,#52ffad 130.5px,#93ff6c 157.5px,#94ff6b 161px)"></i><i style="left:10px;background:linear-gradient(#44ffbb 0px,#40ffbf 44.5px,#57ffa8 72.5px,#7bff84 130.5px,#6aff95 161px)"></i><i style="left:11px;background:linear-gradient(#45ffba 0px,#58ffa7 29.5px,#55ffaa 52.5px,#80ff7f 93.5px,#8aff75 117.5px,#a0ff5f 139.5px,#97ff68 161px)"></i><i style="left:12px;background:linear-gradient(#1dffe2 0px,#39ffc6 21.5px,#5dffa2 53.5px,#69ff96 96.5px,#83ff7c 117.5px,#99ff66 136.5px,#8eff71 161px)"></i><i style="left:13px;background:linear-gradient(#2fffd0 0px,#4bffb4 19.5px,#5bffa4 35.5px,#5affa5 62.5px,#83ff7c 80.5px,#b0ff4f 99.5px,#dcff23 147.5px,#daff25 161px)"></i><i style="left:14px;background:linear-gradient(#20ffdf 0px,#52ffad 54.5px,#7eff81 70.5px,#baff45 88.5px,#e3ff1c 127.5px,#f8ff07 161px)"></i><i style="left:15px;background:linear-gradient(#2bffd4 0px,#20ffdf 35.5px,#24ffdb 55.5px,#4effb1 72.5px,#9fff60 100.5px,#b7ff48 119.5px,#c8ff37 143.5px,#d6ff29 161px)"></i><i style="left:16px;background:linear-gradient(#1cffe3 0px,#0ffff0 37.5px,#01fffe 56.5px,#21ffde 72.5px,#5effa1 98.5px,#75ff8a 124.5px,#9bff64 146.5px,#9cff63 161px)"></i><i style="left:17px;background:linear-gradient(#00f4ff 0px,#00f0ff 5.5px,#00c7ff 11.5px,#00ddff 32.5px,#00efff 52.5px,#00cfff 88.5px,#00e8ff 90.5px,#00f8ff 91.5px,#3affc5 95.5px,#5dffa2 118.5px,#74ff8b 161px)"></i><i style="left:18px;background:linear-gradient(#00e8ff 0px,#00e8ff 5.5px,#00cfff 11.5px,#00deff 28.5px,#00c8ff 58.5px,#00efff 88.5px,#05fffa 90.5px,#47ffb8 95.5px,#56ffa9 110.5px,#34ffcb 137.5px,#3effc1 161px)"></i><i style="left:19px;background:linear-gradient(#00fdff 0px,#0ffff0 12.5px,#35ffca 28.5px,#29ffd6 43.5px,#20ffdf 59.5px,#52ffad 97.5px,#31ffce 142.5px,#31ffce 161px)"></i><i style="left:20px;background:linear-gradient(#31ffce 0px,#32ffcd 28.5px,#55ffaa 59.5px,#3cffc3 78.5px,#15ffea 106.5px,#22ffdd 130.5px,#22ffdd 161px)"></i><i style="left:21px;background:linear-gradient(#0bfff4 0px,#2affd5 50.5px,#10ffef 69.5px,#00f9ff 79.5px,#00e0ff 103.5px,#00e1ff 127.5px,#00e6ff 153.5px,#00e5ff 161px)"></i><i style="left:22px;background:linear-gradient(#24ffdb 0px,#31ffce 42.5px,#0afff5 84.5px,#00f7ff 95.5px,#00f0ff 135.5px,#06fff9 158.5px,#07fff8 161px)"></i><i style="left:23px;background:linear-gradient(#35ffca 0px,#37ffc8 37.5px,#36ffc9 55.5px,#15ffea 86.5px,#09fff6 119.5px,#00f5ff 131.5px,#00f4ff 145.5px,#05fffa 161px)"></i><i style="left:24px;background:linear-gradient(#08fff7 0px,#1fffe0 17.5px,#44ffbb 36.5px,#38ffc7 49.5px,#07fff8 72.5px,#0cfff3 85.5px,#35ffca 107.5px,#29ffd6 122.5px,#0ffff0 140.5px,#20ffdf 161px)"></i><i style="left:25px;background:linear-gradient(#00f5ff 0px,#00f1ff 58.5px,#00f6ff 73.5px,#08fff7 81.5px,#2bffd4 99.5px,#20ffdf 125.5px,#00fbff 156.5px,#00faff 161px)"></i><i style="left:26px;background:linear-gradient(#00f6ff 0px,#00eaff 11.5px,#00e9ff 51.5px,#00e9ff 60.5px,#00d9ff 81.5px,#05fffa 104.5px,#16ffe9 131.5px,#1bffe4 161px)"></i><i style="left:27px;background:linear-gradient(#00c3ff 0px,#0080ff 5.5px,#007bff 8.5px,#00b1ff 46.5px,#00b9ff 49.5px,#00f8ff 53.5px,#12ffed 55.5px,#16ffe9 79.5px,#00fbff 116.5px,#06fff9 141.5px,#1cffe3 161px)"></i><i style="left:28px;background:linear-gradient(#006bff 0px,#0059ff 7.5px,#007dff 39.5px,#0084ff 49.5px,#00abff 56.5px,#00eeff 85.5px,#00d2ff 91.5px,#00f6ff 113.5px,#00faff 137.5px,#1dffe2 154.5px,#64ff9b 161px)"></i><i style="left:29px;background:linear-gradient(#00caff 0px,#00cbff 35.5px,#05fffa 64.5px,#34ffcb 84.5px,#29ffd6 85.5px,#0ffff0 86.5px,#00f4ff 87.5px,#00a1ff 90.5px,#0093ff 91.5px,#009bff 111.5px,#009aff 134.5px,#00abff 154.5px,#00beff 155.5px,#08fff7 157.5px,#76ff89 161px)"></i><i style="left:30px;background:linear-gradient(#4cffb3 0px,#4dffb2 56.5px,#4bffb4 84.5px,#09fff6 91.5px,#18ffe7 120.5px,#04fffb 148.5px,#05fffa 154.5px,#49ffb6 161px)"></i><i style="left:31px;background:linear-gradient(#2bffd4 0px,#3cffc3 23.5px,#5bffa4 45.5px,#47ffb8 68.5px,#1affe5 102.5px,#00faff 141.5px,#00e4ff 161px)"></i><i style="left:32px;background:linear-gradient(#49ffb6 0px,#4cffb3 36.5px,#20ffdf 54.5px,#00ffff 69.5px,#00edff 118.5px,#00d4ff 156.5px,#00d4ff 161px)"></i><i style="left:33px;background:linear-gradient(#76ff89 0px,#85ff7a 35.5px,#6aff95 48.5px,#00feff 72.5px,#00f2ff 83.5px,#06fff9 96.5px,#16ffe9 114.5px,#05fffa 141.5px,#1cffe3 161px)"></i><i style="left:34px;background:linear-gradient(#8dff72 0px,#9fff60 27.5px,#abff54 48.5px,#90ff6f 69.5px,#63ff9c 92.5px,#67ff98 128.5px,#6aff95 149.5px,#70ff8f 161px)"></i><i style="left:35px;background:linear-gradient(#b4ff4b 0px,#c1ff3e 21.5px,#fffa00 33.5px,#ffd400 41.5px,#ffb000 67.5px,#ffcf00 105.5px,#faff05 113.5px,#92ff6d 129.5px,#97ff68 161px)"></i><i style="left:36px;background:linear-gradient(#e7ff18 0px,#e3ff1c 16.5px,#fffb00 19.5px,#ff8100 40.5px,#ff5100 67.5px,#ff6a00 88.5px,#ff8700 105.5px,#feff01 122.5px,#c0ff3f 130.5px,#d1ff2e 161px)"></i><i style="left:37px;background:linear-gradient(#a9ff56 0px,#92ff6d 19.5px,#85ff7a 28.5px,#b2ff4d 42.5px,#ecff13 67.5px,#e0ff1f 105.5px,#d9ff26 108.5px,#f4ff0b 130.5px,#e9ff16 161px)"></i><i style="left:38px;background:linear-gradient(#71ff8e 0px,#71ff8e 36.5px,#6cff93 57.5px,#9eff61 92.5px,#bfff40 118.5px,#daff25 143.5px,#daff25 161px)"></i><i style="left:39px;background:linear-gradient(#30ffcf 0px,#37ffc8 37.5px,#3bffc4 54.5px,#78ff87 82.5px,#7bff84 126.5px,#74ff8b 161px)"></i><i style="left:40px;background:linear-gradient(#2dffd2 0px,#18ffe7 11.5px,#00fbff 22.5px,#00f0ff 36.5px,#06fff9 52.5px,#1fffe0 81.5px,#2fffd0 106.5px,#58ffa7 161px)"></i><i style="left:41px;background:linear-gradient(#00ecff 0px,#00e9ff 5.5px,#00c8ff 11.5px,#00cfff 32.5px,#00dbff 51.5px,#00d2ff 68.5px,#00fcff 73.5px,#13ffec 77.5px,#64ff9b 110.5px,#6cff93 126.5px,#68ff97 153.5px,#69ff96 161px)"></i><i style="left:42px;background:linear-gradient(#0efff1 0px,#09fff6 5.5px,#00eeff 9.5px,#00e0ff 14.5px,#00d8ff 37.5px,#00cfff 68.5px,#04fffb 74.5px,#3affc5 97.5px,#39ffc6 119.5px,#31ffce 161px)"></i><i style="left:43px;background:linear-gradient(#63ff9c 0px,#39ffc6 67.5px,#49ffb6 102.5px,#2fffd0 137.5px,#35ffca 161px)"></i><i style="left:44px;background:linear-gradient(#29ffd6 0px,#4fffb0 55.5px,#5fffa0 77.5px,#44ffbb 107.5px,#60ff9f 137.5px,#59ffa6 161px)"></i><i style="left:45px;background:linear-gradient(#86ff79 0px,#48ffb7 49.5px,#4affb5 81.5px,#2dffd2 105.5px,#4cffb3 135.5px,#3bffc4 161px)"></i><i style="left:46px;background:linear-gradient(#87ff78 0px,#79ff86 33.5px,#7dff82 59.5px,#59ffa6 81.5px,#16ffe9 108.5px,#17ffe8 124.5px,#2effd1 154.5px,#2effd1 161px)"></i><i style="left:47px;background:linear-gradient(#5affa5 0px,#6aff95 24.5px,#7bff84 42.5px,#5affa5 63.5px,#0efff1 92.5px,#00f8ff 99.5px,#00e9ff 112.5px,#04fffb 133.5px,#00f7ff 161px)"></i><i style="left:48px;background:linear-gradient(#7bff84 0px,#8fff70 32.5px,#78ff87 49.5px,#1bffe4 88.5px,#11ffee 105.5px,#27ffd8 135.5px,#2effd1 161px)"></i><i style="left:49px;background:linear-gradient(#b4ff4b 0px,#b1ff4e 31.5px,#a4ff5b 42.5px,#fffb00 49.5px,#ffde00 58.5px,#ffb600 75.5px,#ffc000 94.5px,#ffb700 105.5px,#fffe00 114.5px,#a3ff5c 125.5px,#8bff74 143.5px,#6eff91 159.5px,#6eff91 161px)"></i><i style="left:50px;background:linear-gradient(#a3ff5c 0px,#a0ff5f 43.5px,#f8ff07 49.5px,#fff400 52.5px,#ff8600 75.5px,#ff9700 94.5px,#ffab00 105.5px,#feff01 113.5px,#b0ff4f 121.5px,#b7ff48 161px)"></i><i style="left:51px;background:linear-gradient(#8dff72 0px,#9bff64 43.5px,#91ff6e 66.5px,#99ff66 88.5px,#5bffa4 130.5px,#6bff94 144.5px,#88ff77 161px)"></i><i style="left:52px;background:linear-gradient(#8eff71 0px,#92ff6d 37.5px,#72ff8d 69.5px,#9cff63 100.5px,#89ff76 116.5px,#52ffad 139.5px,#5cffa3 161px)"></i><i style="left:53px;background:linear-gradient(#91ff6e 0px,#97ff68 36.5px,#7eff81 59.5px,#7dff82 85.5px,#7eff81 104.5px,#8cff73 127.5px,#60ff9f 159.5px,#60ff9f 161px)"></i><i style="left:54px;background:linear-gradient(#9eff61 0px,#b7ff48 61.5px,#97ff68 76.5px,#58ffa7 97.5px,#52ffad 111.5px,#88ff77 143.5px,#8eff71 161px)"></i><i style="left:55px;background:linear-gradient(#97ff68 0px,#8aff75 52.5px,#77ff88 89.5px,#5affa5 111.5px,#79ff86 142.5px,#71ff8e 161px)"></i><i style="left:56px;background:linear-gradient(#a6ff59 0px,#9fff60 46.5px,#66ff99 97.5px,#5effa1 108.5px,#7bff84 125.5px,#99ff66 141.5px,#9dff62 161px)"></i><i style="left:57px;background:linear-gradient(#70ff8f 0px,#72ff8d 25.5px,#87ff78 46.5px,#55ffaa 94.5px,#49ffb6 95.5px,#07fff8 98.5px,#00d0ff 101.5px,#00cfff 118.5px,#02fffd 144.5px,#09fff6 154.5px,#25ffda 156.5px,#71ff8e 161px)"></i><i style="left:58px;background:linear-gradient(#8eff71 0px,#91ff6e 36.5px,#60ff9f 69.5px,#22ffdd 94.5px,#05fffa 96.5px,#00bcff 100.5px,#00b3ff 102.5px,#00c3ff 119.5px,#00edff 143.5px,#00f1ff 154.5px,#09fff6 156.5px,#45ffba 161px)"></i><i style="left:59px;background:linear-gradient(#6cff93 0px,#43ffbc 38.5px,#37ffc8 58.5px,#3effc1 79.5px,#31ffce 105.5px,#30ffcf 134.5px,#2cffd3 159.5px,#2dffd2 161px)"></i><i style="left:60px;background:linear-gradient(#2effd1 0px,#1effe1 39.5px,#46ffb9 78.5px,#4bffb4 105.5px,#5effa1 161px)"></i><i style="left:61px;background:linear-gradient(#2affd5 0px,#30ffcf 36.5px,#4fffb0 86.5px,#74ff8b 155.5px,#73ff8c 161px)"></i><i style="left:62px;background:linear-gradient(#6aff95 0px,#7aff85 41.5px,#6eff91 66.5px,#8dff72 102.5px,#7bff84 161px)"></i><i style="left:63px;background:linear-gradient(#b7ff48 0px,#b0ff4f 36.5px,#abff54 55.5px,#9aff65 76.5px,#a9ff56 108.5px,#7aff85 142.5px,#78ff87 161px)"></i><i style="left:64px;background:linear-gradient(#d4ff2b 0px,#d9ff26 27.5px,#f1ff0e 49.5px,#d9ff26 70.5px,#98ff67 103.5px,#8aff75 150.5px,#88ff77 161px)"></i><i style="left:65px;background:linear-gradient(#cfff30 0px,#f8ff07 38.5px,#fff100 53.5px,#faff05 70.5px,#b0ff4f 98.5px,#b0ff4f 113.5px,#d9ff26 156.5px,#d9ff26 161px)"></i><i style="left:66px;background:linear-gradient(#c6ff39 0px,#e6ff19 44.5px,#fffd00 60.5px,#f4ff0b 97.5px,#f3ff0c 118.5px,#d5ff2a 144.5px,#d7ff28 161px)"></i><i style="left:67px;background:linear-gradient(#ebff14 0px,#fffe00 23.5px,#f5ff0a 47.5px,#f9ff06 66.5px,#e0ff1f 92.5px,#faff05 151.5px,#fcff03 161px)"></i><i style="left:68px;background:linear-gradient(#fff700 0px,#f6ff09 21.5px,#dbff24 87.5px,#d9ff26 105.5px,#dfff20 125.5px,#cbff34 158.5px,#caff35 161px)"></i><i style="left:69px;background:linear-gradient(#adff52 0px,#c8ff37 47.5px,#afff50 88.5px,#caff35 110.5px,#d8ff27 126.5px,#adff52 158.5px,#adff52 161px)"></i><i style="left:70px;background:linear-gradient(#bfff40 0px,#a5ff5a 35.5px,#9cff63 57.5px,#72ff8d 80.5px,#8dff72 136.5px,#72ff8d 161px)"></i><i style="left:71px;background:linear-gradient(#8eff71 0px,#7dff82 60.5px,#50ffaf 103.5px,#5dffa2 125.5px,#82ff7d 152.5px,#83ff7c 161px)"></i><i style="left:72px;background:linear-gradient(#4fffb0 0px,#64ff9b 26.5px,#62ff9d 79.5px,#58ffa7 99.5px,#69ff96 120.5px,#41ffbe 145.5px,#45ffba 161px)"></i><i style="left:73px;background:linear-gradient(#6bff94 0px,#36ffc9 71.5px,#55ffaa 126.5px,#45ffba 158.5px,#45ffba 161px)"></i><i style="left:74px;background:linear-gradient(#3bffc4 0px,#4dffb2 27.5px,#27ffd8 62.5px,#2bffd4 103.5px,#4fffb0 128.5px,#37ffc8 161px)"></i><i style="left:75px;background:linear-gradient(#00e1ff 0px,#00f8ff 32.5px,#05fffa 53.5px,#2dffd2 74.5px,#20ffdf 105.5px,#30ffcf 129.5px,#32ffcd 152.5px,#36ffc9 161px)"></i><i style="left:76px;background:linear-gradient(#00ebff 0px,#00e4ff 24.5px,#00d7ff 42.5px,#05fffa 66.5px,#1affe5 85.5px,#06fff9 118.5px,#3cffc3 159.5px,#3cffc3 161px)"></i><i style="left:77px;background:linear-gradient(#00d2ff 0px,#00b3ff 23.5px,#00a4ff 42.5px,#00c2ff 64.5px,#00f3ff 88.5px,#00ecff 107.5px,#00daff 129.5px,#00f6ff 145.5px,#09fff6 153.5px,#11ffee 161px)"></i><i style="left:78px;background:linear-gradient(#001eff 0px,#0035ff 16.5px,#005fff 37.5px,#007dff 76.5px,#00a9ff 104.5px,#00b7ff 132.5px,#00b1ff 161px)"></i><i style="left:79px;background:linear-gradient(#001aff 0px,#0010ff 28.5px,#002fff 55.5px,#007bff 97.5px,#0074ff 117.5px,#0058ff 159.5px,#0058ff 161px)"></i><i style="left:80px;background:linear-gradient(#0008ff 0px,#0021ff 56.5px,#0036ff 81.5px,#0013ff 129.5px,#0025ff 161px)"></i><i style="left:81px;background:linear-gradient(#0049ff 0px,#0039ff 52.5px,#002fff 73.5px,#002fff 122.5px,#0018ff 145.5px,#0005ff 161px)"></i><i style="left:82px;background:linear-gradient(#0043ff 0px,#003bff 32.5px,#0046ff 50.5px,#0026ff 65.5px,#0000fe 80.5px,#000cff 121.5px,#0037ff 149.5px,#003aff 161px)"></i><i style="left:83px;background:linear-gradient(#003fff 0px,#0066ff 28.5px,#0057ff 48.5px,#0022ff 67.5px,#000bff 76.5px,#0000fa 102.5px,#0000e7 119.5px,#0003ff 132.5px,#0039ff 151.5px,#0041ff 161px)"></i><i style="left:84px;background:linear-gradient(#0035ff 0px,#006aff 48.5px,#0050ff 76.5px,#0028ff 106.5px,#0006ff 125.5px,#0016ff 139.5px,#0035ff 158.5px,#0036ff 161px)"></i><i style="left:85px;background:linear-gradient(#0043ff 0px,#0040ff 24.5px,#0029ff 48.5px,#0046ff 73.5px,#0053ff 91.5px,#003cff 120.5px,#0038ff 148.5px,#0033ff 161px)"></i><i style="left:86px;background:linear-gradient(#0000f7 0px,#0005ff 47.5px,#000aff 70.5px,#0071ff 104.5px,#009aff 120.5px,#009eff 161px)"></i><i style="left:87px;background:linear-gradient(#002dff 0px,#0040ff 26.5px,#0048ff 44.5px,#0023ff 75.5px,#0096ff 116.5px,#0097ff 129.5px,#0081ff 154.5px,#0081ff 161px)"></i><i style="left:88px;background:linear-gradient(#0015ff 0px,#0029ff 32.5px,#003aff 56.5px,#003eff 72.5px,#003bff 81.5px,#0061ff 116.5px,#006aff 137.5px,#008cff 159.5px,#008cff 161px)"></i><i style="left:89px;background:linear-gradient(#001eff 0px,#0030ff 33.5px,#002dff 63.5px,#0040ff 121.5px,#0023ff 150.5px,#0024ff 161px)"></i><i style="left:90px;background:linear-gradient(#002bff 0px,#003cff 23.5px,#0054ff 44.5px,#0039ff 68.5px,#0005ff 94.5px,#000eff 116.5px,#0000f8 132.5px,#0002ff 161px)"></i><i style="left:91px;background:linear-gradient(#007aff 0px,#0093ff 37.5px,#006cff 63.5px,#001eff 100.5px,#0000fd 147.5px,#0000fd 161px)"></i><i style="left:92px;background:linear-gradient(#001aff 0px,#0031ff 16.5px,#0055ff 35.5px,#004cff 56.5px,#001eff 96.5px,#0010ff 128.5px,#0000f9 143.5px,#0000ec 161px)"></i><i style="left:93px;background:linear-gradient(#0000c6 0px,#0000e1 18.5px,#0002ff 38.5px,#0028ff 79.5px,#0019ff 111.5px,#0013ff 135.5px,#0005ff 161px)"></i><i style="left:94px;background:linear-gradient(#0008ff 0px,#0013ff 32.5px,#0012ff 59.5px,#0019ff 89.5px,#001fff 114.5px,#0042ff 150.5px,#0045ff 161px)"></i><i style="left:95px;background:linear-gradient(#0044ff 0px,#005cff 26.5px,#003dff 65.5px,#000fff 86.5px,#000dff 106.5px,#0030ff 138.5px,#003aff 161px)"></i><i style="left:96px;background:linear-gradient(#00b0ff 0px,#00acff 27.5px,#0083ff 55.5px,#004aff 75.5px,#0000fb 94.5px,#0009ff 128.5px,#0034ff 161px)"></i><i style="left:97px;background:linear-gradient(#00c4ff 0px,#0091ff 60.5px,#0063ff 78.5px,#0013ff 97.5px,#0000fd 119.5px,#000aff 135.5px,#0025ff 158.5px,#0025ff 161px)"></i><i style="left:98px;background:linear-gradient(#00a4ff 0px,#00a2ff 27.5px,#00b9ff 49.5px,#00a2ff 62.5px,#0020ff 96.5px,#0027ff 143.5px,#002bff 161px)"></i><i style="left:99px;background:linear-gradient(#00d5ff 0px,#00ceff 39.5px,#00abff 60.5px,#005aff 79.5px,#0010ff 99.5px,#0008ff 108.5px,#001dff 133.5px,#0027ff 161px)"></i><i style="left:100px;background:linear-gradient(#2cffd3 0px,#1fffe0 24.5px,#00f9ff 41.5px,#00a7ff 72.5px,#007fff 88.5px,#0063ff 126.5px,#0074ff 159.5px,#0074ff 161px)"></i><i style="left:101px;background:linear-gradient(#1cffe3 0px,#00f9ff 62.5px,#00ebff 105.5px,#00d5ff 130.5px,#00e0ff 161px)"></i><i style="left:102px;background:linear-gradient(#42ffbd 0px,#39ffc6 29.5px,#1affe5 55.5px,#31ffce 101.5px,#08fff7 140.5px,#06fff9 161px)"></i><i style="left:103px;background:linear-gradient(#c0ff3f 0px,#9eff61 47.5px,#1cffe3 121.5px,#0ffff0 145.5px,#00fcff 159.5px,#00fcff 161px)"></i><i style="left:104px;background:linear-gradient(#b4ff4b 0px,#baff45 36.5px,#12ffed 123.5px,#06fff9 161px)"></i><i style="left:105px;background:linear-gradient(#7cff83 0px,#94ff6b 16.5px,#b9ff46 35.5px,#afff50 51.5px,#44ffbb 98.5px,#26ffd9 119.5px,#3bffc4 143.5px,#4fffb0 161px)"></i><i style="left:106px;background:linear-gradient(#a9ff56 0px,#b1ff4e 23.5px,#80ff7f 54.5px,#7eff81 86.5px,#7aff85 107.5px,#a2ff5d 136.5px,#95ff6a 161px)"></i><i style="left:107px;background:linear-gradient(#a0ff5f 0px,#b2ff4d 32.5px,#afff50 57.5px,#c7ff38 116.5px,#cfff30 141.5px,#c0ff3f 161px)"></i><i style="left:108px;background:linear-gradient(#a2ff5d 0px,#c4ff3b 33.5px,#baff45 61.5px,#bcff43 83.5px,#b7ff48 101.5px,#dcff23 127.5px,#c6ff39 161px)"></i><i style="left:109px;background:linear-gradient(#6cff93 0px,#84ff7b 12.5px,#c1ff3e 31.5px,#ccff33 47.5px,#c4ff3b 76.5px,#b9ff46 115.5px,#caff35 146.5px,#c4ff3b 161px)"></i><i style="left:110px;background:linear-gradient(#63ff9c 0px,#96ff69 52.5px,#a2ff5d 104.5px,#b7ff48 134.5px,#bfff40 161px)"></i><i style="left:111px;background:linear-gradient(#0ffff0 0px,#43ffbc 41.5px,#5bffa4 65.5px,#6fff90 84.5px,#8bff74 102.5px,#7fff80 130.5px,#9fff60 159.5px,#9fff60 161px)"></i><i style="left:112px;background:linear-gradient(#1fffe0 0px,#2effd1 29.5px,#41ffbe 62.5px,#5dffa2 134.5px,#6fff90 161px)"></i><i style="left:113px;background:linear-gradient(#15ffea 0px,#37ffc8 63.5px,#85ff7a 128.5px,#73ff8c 144.5px,#5bffa4 161px)"></i><i style="left:114px;background:linear-gradient(#31ffce 0px,#19ffe6 16.5px,#00faff 29.5px,#00f6ff 41.5px,#08fff7 49.5px,#52ffad 72.5px,#55ffaa 85.5px,#46ffb9 103.5px,#64ff9b 127.5px,#3effc1 159.5px,#3effc1 161px)"></i><i style="left:115px;background:linear-gradient(#27ffd8 0px,#3effc1 33.5px,#1effe1 48.5px,#03fffc 61.5px,#13ffec 71.5px,#6aff95 95.5px,#84ff7b 112.5px,#74ff8b 130.5px,#6aff95 147.5px,#6fff90 161px)"></i><i style="left:116px;background:linear-gradient(#14ffeb 0px,#11ffee 32.5px,#1cffe3 57.5px,#5affa5 84.5px,#7cff83 146.5px,#83ff7c 161px)"></i><i style="left:117px;background:linear-gradient(#34ffcb 0px,#1dffe2 29.5px,#0ffff0 46.5px,#28ffd7 61.5px,#86ff79 89.5px,#90ff6f 104.5px,#8dff72 136.5px,#96ff69 161px)"></i><i style="left:118px;background:linear-gradient(#52ffad 0px,#25ffda 39.5px,#32ffcd 63.5px,#62ff9d 80.5px,#e2ff1d 118.5px,#e5ff1a 134.5px,#c8ff37 161px)"></i><i style="left:119px;background:linear-gradient(#3fffc0 0px,#3cffc3 24.5px,#19ffe6 27.5px,#00fcff 29.5px,#00e7ff 31.5px,#00f0ff 65.5px,#06fff9 75.5px,#2fffd0 94.5px,#32ffcd 108.5px,#3effc1 109.5px,#c4ff3b 114.5px,#d2ff2d 115.5px,#ddff22 139.5px,#b9ff46 161px)"></i><i style="left:120px;background:linear-gradient(#4affb5 0px,#53ffac 24.5px,#31ffce 27.5px,#08fff7 30.5px,#03fffc 33.5px,#1dffe2 65.5px,#1effe1 98.5px,#20ffdf 108.5px,#2cffd3 109.5px,#a4ff5b 114.5px,#afff50 115.5px,#8eff71 158.5px,#8eff71 161px)"></i><i style="left:121px;background:linear-gradient(#33ffcc 0px,#4cffb3 17.5px,#5dffa2 29.5px,#53ffac 51.5px,#4dffb2 71.5px,#62ff9d 102.5px,#5fffa0 121.5px,#50ffaf 144.5px,#55ffaa 161px)"></i><i style="left:122px;background:linear-gradient(#7eff81 0px,#69ff96 33.5px,#44ffbb 63.5px,#67ff98 97.5px,#4fffb0 114.5px,#38ffc7 130.5px,#39ffc6 161px)"></i><i style="left:123px;background:linear-gradient(#4affb5 0px,#57ffa8 33.5px,#36ffc9 71.5px,#3effc1 101.5px,#36ffc9 120.5px,#77ff88 152.5px,#7aff85 161px)"></i><i style="left:124px;background:linear-gradient(#7eff81 0px,#6fff90 36.5px,#6eff91 66.5px,#52ffad 104.5px,#4cffb3 124.5px,#3fffc0 131.5px,#50ffaf 142.5px,#68ff97 149.5px,#72ff8d 161px)"></i><i style="left:125px;background:linear-gradient(#a1ff5e 0px,#9fff60 13.5px,#ecff13 20.5px,#fff800 26.5px,#ff8800 46.5px,#ff2000 65.5px,#fb0000 74.5px,#ff0d00 82.5px,#ff5400 104.5px,#ff6000 110.5px,#ffcd00 122.5px,#fff300 123.5px,#caff35 124.5px,#17ffe8 127.5px,#00dfff 128.5px,#00c5ff 129.5px,#00b1ff 140.5px,#00c0ff 141.5px,#00feff 143.5px,#5dffa2 146.5px,#6dff92 147.5px,#70ff8f 161px)"></i><i style="left:126px;background:linear-gradient(#92ff6d 0px,#a1ff5e 15.5px,#e1ff1e 20.5px,#fffe00 25.5px,#ffae00 41.5px,#ff5300 65.5px,#ff2600 75.5px,#ff4d00 95.5px,#ff6c00 110.5px,#ffdc00 122.5px,#fff600 123.5px,#b6ff49 125.5px,#48ffb7 128.5px,#34ffcb 129.5px,#00fdff 137.5px,#00f4ff 140.5px,#00fdff 141.5px,#59ffa6 146.5px,#61ff9e 148.5px,#5affa5 161px)"></i><i style="left:127px;background:linear-gradient(#7dff82 0px,#84ff7b 12.5px,#b1ff4e 16.5px,#e0ff1f 20.5px,#fffa00 28.5px,#ff9900 60.5px,#ff5200 75.5px,#ff7700 108.5px,#ff8300 111.5px,#ffff00 127.5px,#9bff64 137.5px,#85ff7a 139.5px,#7eff81 161px)"></i><i style="left:128px;background:linear-gradient(#48ffb7 0px,#60ff9f 27.5px,#37ffc8 57.5px,#47ffb8 87.5px,#2affd5 119.5px,#3dffc2 146.5px,#37ffc8 161px)"></i><i style="left:129px;background:linear-gradient(#8fff70 0px,#8dff72 45.5px,#5dffa2 73.5px,#47ffb8 121.5px,#3dffc2 149.5px,#3fffc0 161px)"></i><i style="left:130px;background:linear-gradient(#7fff80 0px,#8eff71 21.5px,#9eff61 36.5px,#82ff7d 49.5px,#5bffa4 64.5px,#53ffac 94.5px,#24ffdb 145.5px,#20ffdf 161px)"></i><i style="left:131px;background:linear-gradient(#75ff8a 0px,#8cff73 32.5px,#52ffad 64.5px,#25ffda 130.5px,#00fbff 151.5px,#00f4ff 161px)"></i><i style="left:132px;background:linear-gradient(#69ff96 0px,#64ff9b 30.5px,#65ff9a 57.5px,#4effb1 98.5px,#42ffbd 123.5px,#12ffed 161px)"></i><i style="left:133px;background:linear-gradient(#5bffa4 0px,#69ff96 48.5px,#4bffb4 66.5px,#20ffdf 86.5px,#27ffd8 103.5px,#2bffd4 119.5px,#07fff8 147.5px,#08fff7 161px)"></i><i style="left:134px;background:linear-gradient(#2effd1 0px,#22ffdd 25.5px,#00faff 32.5px,#00bdff 45.5px,#00c3ff 66.5px,#00c0ff 114.5px,#01fffe 125.5px,#37ffc8 135.5px,#21ffde 161px)"></i><i style="left:135px;background:linear-gradient(#00d1ff 0px,#00dcff 26.5px,#00a1ff 46.5px,#00a8ff 82.5px,#00abff 103.5px,#00a7ff 115.5px,#00ffff 126.5px,#45ffba 135.5px,#29ffd6 161px)"></i><i style="left:136px;background:linear-gradient(#26ffd9 0px,#0efff1 25.5px,#00faff 29.5px,#00afff 45.5px,#00abff 64.5px,#00caff 102.5px,#00daff 115.5px,#04fffb 121.5px,#5fffa0 135.5px,#5cffa3 161px)"></i><i style="left:137px;background:linear-gradient(#a0ff5f 0px,#87ff78 26.5px,#5affa5 53.5px,#6aff95 70.5px,#77ff88 86.5px,#3effc1 130.5px,#4bffb4 161px)"></i><i style="left:138px;background:linear-gradient(#91ff6e 0px,#9fff60 22.5px,#b4ff4b 39.5px,#d7ff28 46.5px,#fffd00 68.5px,#ffed00 86.5px,#fff200 105.5px,#fff600 110.5px,#f6ff09 112.5px,#7fff80 124.5px,#64ff9b 146.5px,#64ff9b 161px)"></i><i style="left:139px;background:linear-gradient(#7cff83 0px,#97ff68 21.5px,#a9ff56 35.5px,#eaff15 46.5px,#fff900 55.5px,#ffa900 79.5px,#ffa000 86.5px,#ffc400 110.5px,#fbff04 116.5px,#70ff8f 129.5px,#84ff7b 161px)"></i><i style="left:140px;background:linear-gradient(#73ff8c 0px,#8bff74 14.5px,#afff50 32.5px,#f2ff0d 45.5px,#fff800 57.5px,#ff9c00 85.5px,#ffb500 110.5px,#fffe00 117.5px,#39ffc6 135.5px,#2effd1 161px)"></i><i style="left:141px;background:linear-gradient(#47ffb8 0px,#5bffa4 41.5px,#54ffab 56.5px,#9dff62 87.5px,#96ff69 102.5px,#5cffa3 109.5px,#01fffe 122.5px,#00daff 129.5px,#00f4ff 139.5px,#00f1ff 161px)"></i><i style="left:142px;background:linear-gradient(#22ffdd 0px,#1effe1 32.5px,#24ffdb 64.5px,#09fff6 102.5px,#00feff 103.5px,#009eff 108.5px,#0094ff 110.5px,#0092ff 130.5px,#00adff 132.5px,#00f4ff 136.5px,#00feff 138.5px,#05fffa 161px)"></i><i style="left:143px;background:linear-gradient(#35ffca 0px,#38ffc7 30.5px,#22ffdd 54.5px,#1cffe3 72.5px,#00f9ff 85.5px,#00e3ff 99.5px,#00e3ff 102.5px,#00c8ff 104.5px,#0082ff 108.5px,#007bff 110.5px,#0079ff 126.5px,#0074ff 130.5px,#008bff 132.5px,#00cbff 136.5px,#00d1ff 138.5px,#00ceff 161px)"></i><i style="left:144px;background:linear-gradient(#3bffc4 0px,#38ffc7 37.5px,#16ffe9 61.5px,#00fbff 71.5px,#00c8ff 90.5px,#00c9ff 104.5px,#00c2ff 110.5px,#00d8ff 128.5px,#00e3ff 133.5px,#00f4ff 139.5px,#08fff7 154.5px,#0cfff3 161px)"></i><i style="left:145px;background:linear-gradient(#35ffca 0px,#34ffcb 54.5px,#00fcff 89.5px,#00f8ff 108.5px,#0efff1 132.5px,#15ffea 161px)"></i><i style="left:146px;background:linear-gradient(#2cffd3 0px,#3bffc4 29.5px,#42ffbd 47.5px,#1bffe4 78.5px,#00f9ff 96.5px,#00e6ff 113.5px,#00e9ff 133.5px,#00b3ff 156.5px,#00b4ff 161px)"></i><i style="left:147px;background:linear-gradient(#58ffa7 0px,#54ffab 32.5px,#2effd1 48.5px,#00fcff 62.5px,#00ceff 80.5px,#0096ff 85.5px,#007bff 125.5px,#0081ff 155.5px,#0095ff 161px)"></i><i style="left:148px;background:linear-gradient(#1bffe4 0px,#3fffc0 31.5px,#30ffcf 46.5px,#00faff 68.5px,#00e1ff 79.5px,#0092ff 85.5px,#0091ff 91.5px,#008cff 110.5px,#0079ff 132.5px,#008cff 161px)"></i><i style="left:149px;background:linear-gradient(#27ffd8 0px,#2dffd2 29.5px,#1effe1 60.5px,#19ffe6 78.5px,#00fbff 84.5px,#00e9ff 92.5px,#00e8ff 114.5px,#00e4ff 140.5px,#00d7ff 156.5px,#00e1ff 161px)"></i><i style="left:150px;background:linear-gradient(#20ffdf 0px,#4cffb3 64.5px,#1bffe4 99.5px,#1fffe0 148.5px,#1bffe4 161px)"></i><i style="left:151px;background:linear-gradient(#59ffa6 0px,#5dffa2 31.5px,#3affc5 59.5px,#2fffd0 102.5px,#0efff1 135.5px,#1affe5 161px)"></i><i style="left:152px;background:linear-gradient(#0afff5 0px,#21ffde 14.5px,#4bffb4 32.5px,#43ffbc 43.5px,#10ffef 64.5px,#00faff 95.5px,#00a4ff 126.5px,#00a5ff 140.5px,#00bbff 161px)"></i><i style="left:153px;background:linear-gradient(#00f4ff 0px,#07fff8 13.5px,#2bffd4 34.5px,#1effe1 50.5px,#00fbff 79.5px,#00c3ff 104.5px,#00b8ff 136.5px,#00ceff 161px)"></i><i style="left:154px;background:linear-gradient(#0dfff2 0px,#0ffff0 25.5px,#17ffe8 45.5px,#13ffec 66.5px,#14ffeb 83.5px,#00f9ff 96.5px,#00ecff 111.5px,#06fff9 134.5px,#32ffcd 158.5px,#32ffcd 161px)"></i><i style="left:155px;background:linear-gradient(#31ffce 0px,#1effe1 40.5px,#3bffc4 71.5px,#33ffcc 96.5px,#3dffc2 118.5px,#2bffd4 142.5px,#36ffc9 161px)"></i><i style="left:156px;background:linear-gradient(#19ffe6 0px,#12ffed 43.5px,#25ffda 69.5px,#2effd1 95.5px,#32ffcd 113.5px,#22ffdd 136.5px,#36ffc9 161px)"></i><i style="left:157px;background:linear-gradient(#45ffba 0px,#43ffbc 79.5px,#38ffc7 103.5px,#5fffa0 151.5px,#5fffa0 161px)"></i><i style="left:158px;background:linear-gradient(#72ff8d 0px,#72ff8d 33.5px,#8bff74 65.5px,#8dff72 101.5px,#59ffa6 132.5px,#3dffc2 161px)"></i><i style="left:159px;background:linear-gradient(#9dff62 0px,#8bff74 31.5px,#7eff81 69.5px,#90ff6f 91.5px,#75ff8a 105.5px,#42ffbd 123.5px,#46ffb9 136.5px,#69ff96 158.5px,#6aff95 161px)"></i><i style="left:160px;background:linear-gradient(#7fff80 0px,#76ff89 31.5px,#95ff6a 57.5px,#7eff81 86.5px,#4affb5 122.5px,#57ffa8 135.5px,#8eff71 157.5px,#90ff6f 161px)"></i><i style="left:161px;background:linear-gradient(#89ff76 0px,#98ff67 28.5px,#a8ff57 51.5px,#a9ff56 65.5px,#81ff7e 79.5px,#4bffb4 95.5px,#45ffba 109.5px,#6bff94 154.5px,#6bff94 161px)"></i><i style="left:162px;background:linear-gradient(#b8ff47 0px,#ddff22 33.5px,#ccff33 51.5px,#65ff9a 103.5px,#63ff9c 118.5px,#8fff70 142.5px,#89ff76 161px)"></i><i style="left:163px;background:linear-gradient(#d2ff2d 0px,#aaff55 55.5px,#97ff68 76.5px,#c0ff3f 120.5px,#d7ff28 138.5px,#c8ff37 161px)"></i><i style="left:164px;background:linear-gradient(#e1ff1e 0px,#f0ff0f 27.5px,#cfff30 53.5px,#deff21 87.5px,#d4ff2b 122.5px,#dcff23 144.5px,#d2ff2d 161px)"></i><i style="left:165px;background:linear-gradient(#f2ff0d 0px,#d3ff2c 44.5px,#efff10 71.5px,#c2ff3d 108.5px,#beff41 161px)"></i><i style="left:166px;background:linear-gradient(#c1ff3e 0px,#e5ff1a 81.5px,#c2ff3d 103.5px,#88ff77 133.5px,#8aff75 151.5px,#8fff70 161px)"></i><i style="left:167px;background:linear-gradient(#bcff43 0px,#bbff44 32.5px,#b7ff48 49.5px,#55ffaa 95.5px,#48ffb7 118.5px,#3effc1 136.5px,#2dffd2 157.5px,#2cffd3 161px)"></i><i style="left:168px;background:linear-gradient(#7eff81 0px,#84ff7b 29.5px,#9bff64 49.5px,#82ff7d 64.5px,#2cffd3 102.5px,#23ffdc 119.5px,#22ffdd 137.5px,#0bfff4 161px)"></i><i style="left:169px;background:linear-gradient(#00e0ff 0px,#00e4ff 28.5px,#00e8ff 49.5px,#00efff 65.5px,#00cdff 79.5px,#0092ff 98.5px,#0089ff 115.5px,#008eff 148.5px,#008cff 161px)"></i><i style="left:170px;background:linear-gradient(#0048ff 0px,#0045ff 27.5px,#002bff 54.5px,#002eff 78.5px,#001dff 96.5px,#0025ff 124.5px,#0018ff 150.5px,#001bff 161px)"></i><i style="left:171px;background:linear-gradient(#0030ff 0px,#0024ff 24.5px,#0005ff 56.5px,#0000f9 85.5px,#000bff 107.5px,#002fff 143.5px,#0045ff 161px)"></i><i style="left:172px;background:linear-gradient(#004bff 0px,#0055ff 30.5px,#0030ff 77.5px,#0037ff 102.5px,#001fff 126.5px,#0044ff 161px)"></i><i style="left:173px;background:linear-gradient(#002bff 0px,#0046ff 27.5px,#0049ff 42.5px,#0020ff 71.5px,#0028ff 96.5px,#0013ff 122.5px,#0018ff 161px)"></i><i style="left:174px;background:linear-gradient(#0043ff 0px,#004dff 36.5px,#0006ff 70.5px,#001bff 122.5px,#002dff 150.5px,#002dff 161px)"></i></div><div class="hm" style="left:33px;top:243px;width:189px;height:162px"><i style="left:0px;background:linear-gradient(#0096ff 0px,#00abff 5.5px,#00fbff 9.5px,#37ffc8 11.5px,#00f4ff 16.5px,#00ebff 19.5px,#11ffee 23.5px,#14ffeb 30.5px,#3cffc3 35.5px,#00fbff 40.5px,#00c1ff 45.5px,#0083ff 50.5px,#009fff 53.5px,#00d7ff 56.5px,#00c9ff 64.5px,#00ecff 68.5px,#0095ff 72.5px,#0064ff 79.5px,#003fff 83.5px,#0065ff 85.5px,#01fffe 88.5px,#3bffc4 89.5px,#45ffba 91.5px,#00ffff 98.5px,#00ceff 103.5px,#06fff9 111.5px,#00f5ff 117.5px,#00acff 125.5px,#00cfff 129.5px,#0efff1 132.5px,#3cffc3 135.5px,#38ffc7 137.5px,#06fff9 139.5px,#0097ff 143.5px,#0083ff 146.5px,#003eff 148.5px,#002eff 150.5px,#0040ff 154.5px,#0015ff 156.5px,#0035ff 158.5px,#0058ff 159.5px,#00c2ff 160.5px,#12ffed 162px)"></i><i style="left:1px;background:linear-gradient(#0ffff0 0px,#36ffc9 6.5px,#06fff9 11.5px,#00c0ff 15.5px,#00c1ff 18.5px,#08fff7 22.5px,#25ffda 23.5px,#2cffd3 28.5px,#24ffdb 34.5px,#10ffef 42.5px,#00f1ff 44.5px,#009dff 47.5px,#005dff 49.5px,#004dff 52.5px,#004fff 56.5px,#002fff 61.5px,#0059ff 65.5px,#00b2ff 71.5px,#00c9ff 78.5px,#00c2ff 83.5px,#05fffa 87.5px,#35ffca 90.5px,#00fcff 95.5px,#00e7ff 101.5px,#00cdff 105.5px,#02fffd 110.5px,#00f1ff 115.5px,#00e8ff 119.5px,#00f4ff 123.5px,#00e2ff 125.5px,#0097ff 128.5px,#008cff 130.5px,#00b1ff 132.5px,#00ebff 134.5px,#00fdff 137.5px,#00b6ff 143.5px,#00b6ff 145.5px,#001eff 149.5px,#0000fd 151.5px,#0000c5 156.5px,#0000ef 158.5px,#0014ff 159.5px,#007fff 160.5px,#00ccff 162px)"></i><i style="left:2px;background:linear-gradient(#16ffe9 0px,#1fffe0 6.5px,#02fffd 8.5px,#00beff 12.5px,#00b0ff 19.5px,#00f1ff 23.5px,#22ffdd 29.5px,#1affe5 35.5px,#00e6ff 38.5px,#00e2ff 44.5px,#0062ff 50.5px,#0076ff 53.5px,#00b3ff 56.5px,#00aeff 62.5px,#00b3ff 64.5px,#0081ff 69.5px,#0085ff 73.5px,#00c6ff 77.5px,#00dbff 82.5px,#0cfff3 86.5px,#18ffe7 89.5px,#00f0ff 92.5px,#00c5ff 95.5px,#00f0ff 101.5px,#00ceff 106.5px,#02fffd 112.5px,#00f2ff 118.5px,#26ffd9 123.5px,#02fffd 126.5px,#00b4ff 130.5px,#00aeff 133.5px,#00d5ff 138.5px,#00aeff 145.5px,#005eff 148.5px,#004aff 153.5px,#0000fe 156.5px,#0001ff 157.5px,#0035ff 159.5px,#009bff 160.5px,#00e6ff 162px)"></i><i style="left:3px;background:linear-gradient(#0cfff3 0px,#2affd5 7.5px,#00fdff 11.5px,#00d5ff 15.5px,#00e5ff 22.5px,#03fffc 34.5px,#00d8ff 39.5px,#0afff5 43.5px,#01fffe 45.5px,#008fff 50.5px,#009eff 53.5px,#00c1ff 55.5px,#009cff 62.5px,#005cff 66.5px,#006dff 72.5px,#009bff 75.5px,#00d2ff 77.5px,#01fffe 86.5px,#00beff 93.5px,#00ddff 96.5px,#0cfff3 98.5px,#32ffcd 101.5px,#00f6ff 107.5px,#00edff 114.5px,#00ddff 119.5px,#00e6ff 125.5px,#00beff 133.5px,#00feff 138.5px,#00e2ff 142.5px,#0093ff 148.5px,#006cff 152.5px,#0006ff 156.5px,#0023ff 158.5px,#0045ff 159.5px,#00aeff 160.5px,#00fcff 162px)"></i><i style="left:4px;background:linear-gradient(#00ceff 0px,#05fffa 2.5px,#17ffe8 8.5px,#00eeff 13.5px,#00e2ff 17.5px,#00f0ff 22.5px,#00f3ff 30.5px,#00d7ff 36.5px,#00f0ff 44.5px,#00c7ff 53.5px,#00dcff 60.5px,#00ceff 61.5px,#004bff 64.5px,#0032ff 66.5px,#006dff 69.5px,#00dbff 73.5px,#00faff 76.5px,#00ddff 83.5px,#00fcff 85.5px,#13ffec 86.5px,#00f6ff 95.5px,#21ffde 100.5px,#00ecff 101.5px,#0095ff 103.5px,#007dff 105.5px,#00a5ff 107.5px,#00d8ff 109.5px,#00ccff 114.5px,#00afff 120.5px,#00afff 125.5px,#01fffe 131.5px,#00f5ff 134.5px,#00d9ff 136.5px,#04fffb 139.5px,#00d8ff 142.5px,#007aff 146.5px,#0067ff 149.5px,#0069ff 152.5px,#0016ff 156.5px,#0033ff 158.5px,#0052ff 159.5px,#00b7ff 160.5px,#03fffc 162px)"></i><i style="left:5px;background:linear-gradient(#0051ff 0px,#0089ff 2.5px,#00f1ff 4.5px,#25ffda 5.5px,#2bffd4 9.5px,#04fffb 16.5px,#00f7ff 21.5px,#00e1ff 25.5px,#06fff9 30.5px,#00e7ff 40.5px,#00b1ff 45.5px,#00e8ff 61.5px,#00c6ff 67.5px,#00f9ff 78.5px,#0081ff 82.5px,#007dff 84.5px,#00afff 86.5px,#00f5ff 88.5px,#0afff5 93.5px,#00caff 106.5px,#00e9ff 113.5px,#00b9ff 124.5px,#00e6ff 128.5px,#0cfff3 131.5px,#00d7ff 141.5px,#007bff 147.5px,#007bff 152.5px,#002fff 156.5px,#0053ff 158.5px,#0077ff 159.5px,#00e2ff 160.5px,#33ffcc 162px)"></i><i style="left:6px;background:linear-gradient(#02fffd 0px,#45ffba 6.5px,#27ffd8 15.5px,#2effd1 17.5px,#00f1ff 19.5px,#00c1ff 22.5px,#00f5ff 28.5px,#00d6ff 35.5px,#00f3ff 39.5px,#00b3ff 45.5px,#00d2ff 49.5px,#00ecff 53.5px,#00dcff 59.5px,#00d7ff 65.5px,#00d9ff 72.5px,#00d9ff 78.5px,#00bbff 88.5px,#00ffff 94.5px,#00e3ff 100.5px,#09fff6 104.5px,#04fffb 105.5px,#00b8ff 108.5px,#00b6ff 110.5px,#03fffc 113.5px,#0cfff3 116.5px,#10ffef 125.5px,#1effe1 130.5px,#00fcff 133.5px,#00d5ff 137.5px,#009fff 146.5px,#009cff 151.5px,#0060ff 154.5px,#0036ff 156.5px,#0058ff 158.5px,#007dff 159.5px,#00e8ff 160.5px,#3affc5 162px)"></i><i style="left:7px;background:linear-gradient(#3cffc3 0px,#3bffc4 6.5px,#1effe1 13.5px,#09fff6 14.5px,#00aeff 18.5px,#00a5ff 23.5px,#00feff 34.5px,#00efff 42.5px,#00e6ff 47.5px,#01fffe 52.5px,#00e8ff 59.5px,#00e7ff 65.5px,#00c0ff 70.5px,#00d2ff 74.5px,#00d8ff 81.5px,#00d0ff 88.5px,#06fff9 93.5px,#21ffde 105.5px,#00ffff 110.5px,#46ffb9 117.5px,#25ffda 124.5px,#4bffb4 131.5px,#05fffa 138.5px,#008cff 142.5px,#0074ff 144.5px,#00acff 148.5px,#009cff 152.5px,#0036ff 156.5px,#003dff 157.5px,#007fff 159.5px,#00efff 160.5px,#45ffba 162px)"></i><i style="left:8px;background:linear-gradient(#7bff84 0px,#3affc5 9.5px,#25ffda 18.5px,#19ffe6 24.5px,#56ffa9 30.5px,#53ffac 32.5px,#19ffe6 36.5px,#00f7ff 40.5px,#00c9ff 44.5px,#00e3ff 47.5px,#00fdff 48.5px,#15ffea 50.5px,#00efff 57.5px,#00f1ff 63.5px,#00fbff 74.5px,#2bffd4 82.5px,#00fcff 89.5px,#07fff8 95.5px,#30ffcf 100.5px,#15ffea 107.5px,#41ffbe 114.5px,#06fff9 120.5px,#1fffe0 127.5px,#1fffe0 133.5px,#08fff7 134.5px,#00c5ff 136.5px,#0000fb 141.5px,#0000d0 143.5px,#0000df 145.5px,#0000fc 146.5px,#008dff 149.5px,#00adff 150.5px,#009bff 152.5px,#002fff 156.5px,#0034ff 157.5px,#0074ff 159.5px,#00e2ff 160.5px,#36ffc9 162px)"></i><i style="left:9px;background:linear-gradient(#aeff51 0px,#37ffc8 8.5px,#2effd1 17.5px,#22ffdd 28.5px,#24ffdb 34.5px,#0ffff0 40.5px,#00edff 42.5px,#0095ff 47.5px,#0093ff 50.5px,#00c8ff 54.5px,#00d0ff 62.5px,#05fffa 67.5px,#06fff9 85.5px,#18ffe7 102.5px,#2bffd4 107.5px,#3dffc2 111.5px,#00ffff 116.5px,#00e4ff 119.5px,#0cfff3 122.5px,#3affc5 125.5px,#22ffdd 128.5px,#00f7ff 131.5px,#00dcff 135.5px,#007fff 141.5px,#0086ff 144.5px,#009fff 146.5px,#0087ff 152.5px,#0025ff 156.5px,#0042ff 158.5px,#0064ff 159.5px,#00ccff 160.5px,#1bffe4 162px)"></i><i style="left:10px;background:linear-gradient(#1fffe0 0px,#4affb5 7.5px,#23ffdc 12.5px,#00faff 14.5px,#00cfff 17.5px,#00f8ff 20.5px,#34ffcb 22.5px,#0dfff2 31.5px,#36ffc9 37.5px,#00faff 41.5px,#0055ff 47.5px,#0042ff 49.5px,#0076ff 52.5px,#00b6ff 54.5px,#00d5ff 64.5px,#0cfff3 68.5px,#2effd1 72.5px,#16ffe9 79.5px,#10ffef 84.5px,#04fffb 90.5px,#21ffde 106.5px,#38ffc7 111.5px,#0cfff3 119.5px,#2fffd0 124.5px,#18ffe7 135.5px,#16ffe9 137.5px,#01fffe 138.5px,#00beff 142.5px,#00acff 147.5px,#0084ff 153.5px,#0041ff 156.5px,#0047ff 157.5px,#0087ff 159.5px,#00f5ff 160.5px,#49ffb6 162px)"></i><i style="left:11px;background:linear-gradient(#65ff9a 0px,#74ff8b 12.5px,#49ffb6 16.5px,#0ffff0 18.5px,#0dfff2 20.5px,#4dffb2 23.5px,#32ffcd 37.5px,#00feff 45.5px,#00d3ff 51.5px,#00e1ff 57.5px,#00dfff 61.5px,#00cbff 66.5px,#07fff8 73.5px,#47ffb8 82.5px,#0afff5 90.5px,#00f3ff 98.5px,#0ffff0 103.5px,#21ffde 105.5px,#06fff9 107.5px,#00c5ff 111.5px,#09fff6 119.5px,#22ffdd 128.5px,#39ffc6 132.5px,#00f6ff 141.5px,#0094ff 147.5px,#007dff 153.5px,#0043ff 156.5px,#0079ff 159.5px,#00d8ff 160.5px,#20ffdf 162px)"></i><i style="left:12px;background:linear-gradient(#36ffc9 0px,#3cffc3 6.5px,#57ffa8 12.5px,#37ffc8 18.5px,#57ffa8 22.5px,#45ffba 37.5px,#00f6ff 45.5px,#00d1ff 49.5px,#00e3ff 54.5px,#00ccff 58.5px,#0bfff4 71.5px,#37ffc8 83.5px,#11ffee 87.5px,#0081ff 89.5px,#0010ff 91.5px,#0000da 93.5px,#0000eb 95.5px,#0009ff 96.5px,#00e0ff 101.5px,#04fffb 102.5px,#22ffdd 105.5px,#00fcff 116.5px,#1cffe3 121.5px,#00f2ff 125.5px,#04fffb 127.5px,#34ffcb 131.5px,#00faff 140.5px,#007aff 149.5px,#0071ff 153.5px,#0034ff 156.5px,#004eff 158.5px,#006aff 159.5px,#00cdff 160.5px,#17ffe8 162px)"></i><i style="left:13px;background:linear-gradient(#19ffe6 0px,#34ffcb 5.5px,#4cffb3 10.5px,#4cffb3 17.5px,#64ff9b 23.5px,#1affe5 30.5px,#1fffe0 36.5px,#31ffce 41.5px,#00f5ff 46.5px,#00faff 57.5px,#00eeff 62.5px,#12ffed 66.5px,#38ffc7 71.5px,#18ffe7 80.5px,#08fff7 87.5px,#25ffda 107.5px,#00f3ff 113.5px,#00deff 117.5px,#00faff 122.5px,#00f2ff 126.5px,#15ffea 132.5px,#00f3ff 136.5px,#00d3ff 143.5px,#0093ff 149.5px,#0085ff 153.5px,#0044ff 156.5px,#005bff 158.5px,#0077ff 159.5px,#00d8ff 160.5px,#22ffdd 162px)"></i><i style="left:14px;background:linear-gradient(#06fff9 0px,#29ffd6 6.5px,#44ffbb 11.5px,#36ffc9 16.5px,#62ff9d 22.5px,#40ffbf 26.5px,#06fff9 31.5px,#38ffc7 40.5px,#00f9ff 48.5px,#00feff 53.5px,#008fff 58.5px,#0090ff 60.5px,#00c1ff 62.5px,#00e8ff 63.5px,#0bfff4 71.5px,#0bfff4 78.5px,#20ffdf 83.5px,#0ffff0 88.5px,#4bffb4 94.5px,#26ffd9 102.5px,#20ffdf 107.5px,#00fcff 113.5px,#13ffec 130.5px,#00fdff 135.5px,#12ffed 139.5px,#00f9ff 142.5px,#00a3ff 148.5px,#00a4ff 152.5px,#0053ff 156.5px,#0068ff 158.5px,#0082ff 159.5px,#00e1ff 160.5px,#29ffd6 162px)"></i><i style="left:15px;background:linear-gradient(#2fffd0 0px,#48ffb7 10.5px,#4effb1 18.5px,#63ff9c 23.5px,#24ffdb 30.5px,#50ffaf 38.5px,#2fffd0 46.5px,#00f9ff 58.5px,#00ecff 60.5px,#00a4ff 63.5px,#00a6ff 66.5px,#00bdff 71.5px,#00ceff 75.5px,#01fffe 77.5px,#31ffce 82.5px,#24ffdb 89.5px,#47ffb8 94.5px,#3effc1 95.5px,#01fffe 97.5px,#00e1ff 99.5px,#00f6ff 101.5px,#30ffcf 103.5px,#0dfff2 108.5px,#00f0ff 111.5px,#00bbff 114.5px,#00c0ff 116.5px,#0bfff4 119.5px,#36ffc9 126.5px,#0bfff4 134.5px,#1dffe2 139.5px,#00f1ff 145.5px,#00b3ff 152.5px,#003eff 156.5px,#0055ff 158.5px,#0072ff 159.5px,#00d6ff 160.5px,#21ffde 162px)"></i><i style="left:16px;background:linear-gradient(#6cff93 0px,#75ff8a 5.5px,#17ffe8 11.5px,#21ffde 14.5px,#31ffce 17.5px,#3dffc2 29.5px,#2affd5 47.5px,#00faff 51.5px,#00f4ff 56.5px,#10ffef 64.5px,#00e7ff 67.5px,#00beff 70.5px,#00d5ff 73.5px,#00feff 76.5px,#49ffb6 81.5px,#44ffbb 85.5px,#29ffd6 89.5px,#5dffa2 95.5px,#37ffc8 102.5px,#19ffe6 108.5px,#00f6ff 112.5px,#0efff1 118.5px,#40ffbf 123.5px,#0bfff4 131.5px,#00f2ff 142.5px,#00d2ff 149.5px,#00a0ff 152.5px,#0045ff 155.5px,#003aff 157.5px,#0074ff 159.5px,#00deff 160.5px,#2effd1 162px)"></i><i style="left:17px;background:linear-gradient(#48ffb7 0px,#7aff85 6.5px,#22ffdd 12.5px,#00fdff 14.5px,#00f9ff 17.5px,#1dffe2 23.5px,#40ffbf 29.5px,#1fffe0 38.5px,#00f8ff 43.5px,#00c9ff 51.5px,#0bfff4 59.5px,#06fff9 64.5px,#00f8ff 66.5px,#0068ff 69.5px,#003cff 71.5px,#0048ff 73.5px,#0089ff 75.5px,#00f2ff 77.5px,#27ffd8 83.5px,#23ffdc 89.5px,#44ffbb 95.5px,#3effc1 101.5px,#1dffe2 109.5px,#04fffb 110.5px,#00dfff 113.5px,#00eaff 120.5px,#00c4ff 125.5px,#00d6ff 127.5px,#0efff1 129.5px,#1effe1 133.5px,#00f3ff 141.5px,#00c9ff 145.5px,#00adff 151.5px,#0031ff 156.5px,#004cff 158.5px,#006cff 159.5px,#00d1ff 160.5px,#1dffe2 162px)"></i><i style="left:18px;background:linear-gradient(#009bff 0px,#00cdff 3.5px,#02fffd 5.5px,#1cffe3 7.5px,#03fffc 9.5px,#004eff 15.5px,#0031ff 18.5px,#0051ff 21.5px,#00adff 24.5px,#11ffee 26.5px,#4dffb2 27.5px,#5effa1 32.5px,#38ffc7 35.5px,#00f6ff 38.5px,#00cfff 42.5px,#00f9ff 54.5px,#1fffe0 62.5px,#04fffb 71.5px,#00b6ff 75.5px,#00b6ff 78.5px,#00f1ff 81.5px,#0efff1 85.5px,#37ffc8 90.5px,#1fffe0 97.5px,#63ff9c 112.5px,#10ffef 122.5px,#2fffd0 135.5px,#1cffe3 138.5px,#00e3ff 141.5px,#00b6ff 144.5px,#00cbff 150.5px,#0088ff 153.5px,#0041ff 155.5px,#002fff 157.5px,#0057ff 159.5px,#00b3ff 160.5px,#00f5ff 162px)"></i><i style="left:19px;background:linear-gradient(#6aff95 0px,#1effe1 12.5px,#00e4ff 13.5px,#008bff 15.5px,#0065ff 17.5px,#0077ff 19.5px,#00e3ff 22.5px,#15ffea 23.5px,#46ffb9 24.5px,#56ffa9 27.5px,#4affb5 34.5px,#02fffd 38.5px,#00e8ff 42.5px,#04fffb 49.5px,#32ffcd 60.5px,#44ffbb 67.5px,#37ffc8 72.5px,#38ffc7 90.5px,#27ffd8 96.5px,#62ff9d 107.5px,#42ffbd 109.5px,#00f4ff 112.5px,#00d1ff 115.5px,#07fff8 121.5px,#39ffc6 127.5px,#23ffdc 129.5px,#00f4ff 131.5px,#00c8ff 134.5px,#00e9ff 141.5px,#00d1ff 144.5px,#00dbff 149.5px,#00a7ff 152.5px,#0024ff 156.5px,#0023ff 158.5px,#002dff 159.5px,#0079ff 160.5px,#00adff 162px)"></i><i style="left:20px;background:linear-gradient(#85ff7a 0px,#26ffd9 13.5px,#1effe1 15.5px,#00faff 17.5px,#04fffb 19.5px,#5affa5 23.5px,#4bffb4 30.5px,#4affb5 34.5px,#00f9ff 38.5px,#00e0ff 41.5px,#00ebff 43.5px,#00adff 45.5px,#009cff 47.5px,#01fffe 55.5px,#4affb5 72.5px,#52ffad 77.5px,#4bffb4 85.5px,#3cffc3 103.5px,#54ffab 108.5px,#2effd1 114.5px,#34ffcb 126.5px,#00fcff 129.5px,#0efff1 132.5px,#26ffd9 133.5px,#00f5ff 140.5px,#00d8ff 146.5px,#00c8ff 150.5px,#008bff 153.5px,#0051ff 155.5px,#0044ff 156.5px,#0067ff 158.5px,#008aff 159.5px,#00f3ff 160.5px,#43ffbc 162px)"></i><i style="left:21px;background:linear-gradient(#63ff9c 0px,#53ffac 5.5px,#6bff94 10.5px,#51ffae 18.5px,#67ff98 23.5px,#23ffdc 31.5px,#09fff6 39.5px,#0efff1 41.5px,#00e6ff 44.5px,#01fffe 48.5px,#00eeff 53.5px,#11ffee 61.5px,#1bffe4 74.5px,#00f9ff 77.5px,#1affe5 80.5px,#2effd1 82.5px,#62ff9d 89.5px,#47ffb8 96.5px,#5effa1 106.5px,#61ff9e 114.5px,#00f9ff 124.5px,#00f0ff 127.5px,#12ffed 129.5px,#23ffdc 132.5px,#00f3ff 141.5px,#00c0ff 146.5px,#00aaff 152.5px,#004cff 156.5px,#006dff 158.5px,#0091ff 159.5px,#00fcff 160.5px,#4effb1 162px)"></i><i style="left:22px;background:linear-gradient(#39ffc6 0px,#62ff9d 4.5px,#77ff88 13.5px,#92ff6d 21.5px,#73ff8c 25.5px,#2effd1 31.5px,#0afff5 49.5px,#3affc5 57.5px,#18ffe7 65.5px,#00feff 75.5px,#20ffdf 82.5px,#4affb5 88.5px,#00f2ff 92.5px,#00c5ff 94.5px,#00ceff 96.5px,#14ffeb 98.5px,#47ffb8 99.5px,#6aff95 101.5px,#6cff93 106.5px,#79ff86 114.5px,#33ffcc 122.5px,#12ffed 138.5px,#00eaff 141.5px,#00b1ff 145.5px,#00a0ff 152.5px,#003eff 156.5px,#0055ff 158.5px,#0072ff 159.5px,#00d6ff 160.5px,#20ffdf 162px)"></i><i style="left:23px;background:linear-gradient(#00b6ff 0px,#00fdff 3.5px,#6aff95 6.5px,#70ff8f 12.5px,#a6ff59 19.5px,#7cff83 24.5px,#3bffc4 32.5px,#3affc5 37.5px,#02fffd 44.5px,#10ffef 58.5px,#12ffed 69.5px,#05fffa 74.5px,#35ffca 80.5px,#33ffcc 85.5px,#5cffa3 89.5px,#3cffc3 95.5px,#5dffa2 101.5px,#41ffbe 107.5px,#6cff93 114.5px,#46ffb9 123.5px,#26ffd9 131.5px,#1bffe4 138.5px,#00eeff 141.5px,#00baff 145.5px,#0092ff 152.5px,#003fff 156.5px,#0059ff 158.5px,#0076ff 159.5px,#00d9ff 160.5px,#23ffdc 162px)"></i><i style="left:24px;background:linear-gradient(#78ff87 0px,#69ff96 6.5px,#66ff99 11.5px,#87ff78 17.5px,#38ffc7 24.5px,#59ffa6 33.5px,#43ffbc 37.5px,#00fcff 42.5px,#00e8ff 56.5px,#0bfff4 59.5px,#19ffe6 63.5px,#1bffe4 74.5px,#4cffb3 80.5px,#1dffe2 85.5px,#6bff94 100.5px,#2affd5 109.5px,#4bffb4 116.5px,#37ffc8 123.5px,#0cfff3 128.5px,#40ffbf 137.5px,#08fff7 141.5px,#004bff 147.5px,#0029ff 150.5px,#003dff 154.5px,#0042ff 157.5px,#007dff 159.5px,#00e7ff 160.5px,#36ffc9 162px)"></i><i style="left:25px;background:linear-gradient(#07fff8 0px,#4bffb4 7.5px,#41ffbe 11.5px,#74ff8b 17.5px,#66ff99 28.5px,#4cffb3 33.5px,#00faff 39.5px,#00f1ff 45.5px,#00e5ff 52.5px,#00e6ff 57.5px,#12ffed 61.5px,#4fffb0 69.5px,#36ffc9 74.5px,#1fffe0 78.5px,#2dffd2 92.5px,#44ffbb 102.5px,#64ff9b 107.5px,#5effa1 114.5px,#1effe1 119.5px,#2fffd0 125.5px,#26ffd9 130.5px,#42ffbd 135.5px,#00f0ff 138.5px,#007aff 144.5px,#0017ff 149.5px,#000dff 154.5px,#0006ff 157.5px,#0035ff 159.5px,#0093ff 160.5px,#00d6ff 162px)"></i><i style="left:26px;background:linear-gradient(#00a4ff 0px,#00aeff 4.5px,#00f4ff 8.5px,#74ff8b 16.5px,#6dff92 26.5px,#40ffbf 30.5px,#05fffa 33.5px,#00e0ff 36.5px,#02fffd 39.5px,#17ffe8 41.5px,#12ffed 47.5px,#00e4ff 51.5px,#00e2ff 55.5px,#0dfff2 61.5px,#49ffb6 67.5px,#42ffbd 74.5px,#2cffd3 78.5px,#71ff8e 85.5px,#5affa5 95.5px,#49ffb6 103.5px,#7dff82 111.5px,#5bffa4 115.5px,#1affe5 119.5px,#23ffdc 122.5px,#3affc5 126.5px,#1dffe2 132.5px,#00f9ff 136.5px,#00d0ff 140.5px,#0021ff 148.5px,#001eff 151.5px,#0032ff 154.5px,#0037ff 157.5px,#0064ff 159.5px,#00c2ff 160.5px,#06fff9 162px)"></i><i style="left:27px;background:linear-gradient(#0026ff 0px,#004aff 3.5px,#00aeff 8.5px,#00dfff 15.5px,#00d9ff 19.5px,#00f9ff 21.5px,#4effb1 24.5px,#19ffe6 32.5px,#10ffef 36.5px,#1fffe0 41.5px,#00f7ff 47.5px,#00bcff 53.5px,#02fffd 62.5px,#49ffb6 72.5px,#45ffba 79.5px,#84ff7b 86.5px,#5bffa4 90.5px,#3affc5 93.5px,#57ffa8 100.5px,#44ffbb 105.5px,#81ff7e 111.5px,#64ff9b 115.5px,#30ffcf 119.5px,#2dffd2 120.5px,#00fcff 122.5px,#0090ff 128.5px,#0092ff 131.5px,#00d9ff 134.5px,#00faff 135.5px,#1bffe4 136.5px,#0efff1 139.5px,#00f0ff 142.5px,#0082ff 146.5px,#0070ff 149.5px,#0084ff 152.5px,#0040ff 156.5px,#0057ff 158.5px,#0073ff 159.5px,#00d5ff 160.5px,#1dffe2 162px)"></i><i style="left:28px;background:linear-gradient(#7bff84 0px,#80ff7f 6.5px,#4affb5 11.5px,#75ff8a 18.5px,#73ff8c 19.5px,#04fffb 24.5px,#06fff9 27.5px,#34ffcb 31.5px,#11ffee 36.5px,#0afff5 42.5px,#00d7ff 47.5px,#00b4ff 53.5px,#00d9ff 57.5px,#07fff8 60.5px,#2fffd0 75.5px,#73ff8c 80.5px,#66ff99 86.5px,#45ffba 90.5px,#41ffbe 92.5px,#3effc1 96.5px,#54ffab 103.5px,#58ffa7 107.5px,#9aff65 112.5px,#89ff76 115.5px,#39ffc6 120.5px,#44ffbb 124.5px,#5affa5 128.5px,#20ffdf 136.5px,#00f5ff 142.5px,#00c5ff 152.5px,#0059ff 156.5px,#006fff 158.5px,#008cff 159.5px,#00efff 160.5px,#3bffc4 162px)"></i><i style="left:29px;background:linear-gradient(#7dff82 0px,#62ff9d 7.5px,#3dffc2 12.5px,#62ff9d 19.5px,#4fffb0 25.5px,#47ffb8 31.5px,#12ffed 38.5px,#00f6ff 43.5px,#00d4ff 49.5px,#00d8ff 58.5px,#0ffff0 63.5px,#4cffb3 70.5px,#40ffbf 77.5px,#47ffb8 78.5px,#0dfff2 83.5px,#00f2ff 89.5px,#00f1ff 92.5px,#00ffff 93.5px,#1cffe3 95.5px,#61ff9e 102.5px,#4bffb4 114.5px,#38ffc7 118.5px,#5fffa0 122.5px,#51ffae 128.5px,#12ffed 131.5px,#24ffdb 133.5px,#65ff9a 135.5px,#72ff8d 137.5px,#04fffb 144.5px,#00e0ff 151.5px,#0095ff 154.5px,#005fff 156.5px,#0070ff 158.5px,#0089ff 159.5px,#00e7ff 160.5px,#2dffd2 162px)"></i><i style="left:30px;background:linear-gradient(#27ffd8 0px,#2affd5 6.5px,#00feff 9.5px,#00adff 13.5px,#00a9ff 16.5px,#00ffff 23.5px,#23ffdc 26.5px,#33ffcc 32.5px,#15ffea 39.5px,#0bfff4 49.5px,#00f5ff 54.5px,#00e5ff 59.5px,#08fff7 63.5px,#36ffc9 69.5px,#23ffdc 76.5px,#6aff95 88.5px,#54ffab 91.5px,#34ffcb 95.5px,#50ffaf 101.5px,#45ffba 107.5px,#55ffaa 114.5px,#02fffd 117.5px,#0099ff 121.5px,#00a0ff 123.5px,#08fff7 126.5px,#68ff97 128.5px,#86ff79 133.5px,#77ff88 137.5px,#00fdff 142.5px,#00beff 147.5px,#00b5ff 152.5px,#0054ff 156.5px,#0060ff 158.5px,#0074ff 159.5px,#00ccff 160.5px,#09fff6 162px)"></i><i style="left:31px;background:linear-gradient(#49ffb6 0px,#47ffb8 3.5px,#0efff1 6.5px,#00b5ff 9.5px,#005eff 13.5px,#005bff 16.5px,#009dff 19.5px,#00f0ff 21.5px,#25ffda 22.5px,#33ffcc 24.5px,#00f5ff 31.5px,#0afff5 35.5px,#36ffc9 40.5px,#24ffdb 47.5px,#05fffa 52.5px,#2cffd3 58.5px,#03fffc 63.5px,#27ffd8 71.5px,#24ffdb 75.5px,#65ff9a 80.5px,#6cff93 88.5px,#44ffbb 93.5px,#52ffad 98.5px,#31ffce 103.5px,#5dffa2 109.5px,#47ffb8 113.5px,#2fffd0 116.5px,#20ffdf 120.5px,#01fffe 123.5px,#12ffed 125.5px,#5bffa4 128.5px,#71ff8e 131.5px,#5bffa4 137.5px,#00f6ff 142.5px,#00d5ff 144.5px,#00e6ff 150.5px,#00c7ff 152.5px,#005eff 155.5px,#004aff 156.5px,#0060ff 158.5px,#007dff 159.5px,#00e2ff 160.5px,#2bffd4 162px)"></i><i style="left:32px;background:linear-gradient(#80ff7f 0px,#60ff9f 4.5px,#2dffd2 8.5px,#49ffb6 16.5px,#10ffef 26.5px,#14ffeb 33.5px,#43ffbc 39.5px,#05fffa 55.5px,#1dffe2 60.5px,#00feff 61.5px,#0079ff 65.5px,#0057ff 67.5px,#0061ff 69.5px,#009eff 71.5px,#05fffa 73.5px,#7bff84 79.5px,#69ff96 85.5px,#67ff98 89.5px,#43ffbc 93.5px,#6fff90 99.5px,#71ff8e 105.5px,#84ff7b 110.5px,#79ff86 115.5px,#80ff7f 119.5px,#58ffa7 124.5px,#7cff83 130.5px,#51ffae 135.5px,#4dffb2 139.5px,#00fcff 144.5px,#00e6ff 151.5px,#00b9ff 153.5px,#0070ff 155.5px,#005bff 156.5px,#0073ff 158.5px,#0086ff 159.5px,#00e1ff 160.5px,#29ffd6 162px)"></i><i style="left:33px;background:linear-gradient(#64ff9b 0px,#38ffc7 3.5px,#00faff 6.5px,#0afff5 9.5px,#4affb5 11.5px,#4affb5 16.5px,#1cffe3 29.5px,#61ff9e 36.5px,#4effb1 41.5px,#07fff8 48.5px,#00f8ff 57.5px,#0095ff 61.5px,#0096ff 64.5px,#00fdff 69.5px,#0bfff4 72.5px,#7fff80 78.5px,#87ff78 88.5px,#4cffb3 91.5px,#1bffe4 94.5px,#30ffcf 96.5px,#87ff78 101.5px,#90ff6f 104.5px,#6bff94 110.5px,#76ff89 121.5px,#5effa1 138.5px,#00f7ff 143.5px,#00e6ff 147.5px,#00dbff 151.5px,#0054ff 156.5px,#0059ff 157.5px,#0096ff 159.5px,#01fffe 160.5px,#53ffac 162px)"></i><i style="left:34px;background:linear-gradient(#7cff83 0px,#6fff90 4.5px,#2effd1 11.5px,#33ffcc 17.5px,#66ff99 25.5px,#3cffc3 31.5px,#34ffcb 36.5px,#00f5ff 46.5px,#00e8ff 50.5px,#13ffec 53.5px,#4bffb4 68.5px,#4affb5 73.5px,#97ff68 79.5px,#6aff95 86.5px,#30ffcf 92.5px,#6cff93 99.5px,#8cff73 101.5px,#73ff8c 104.5px,#32ffcd 108.5px,#43ffbc 114.5px,#80ff7f 124.5px,#70ff8f 131.5px,#8aff75 136.5px,#6dff92 138.5px,#03fffc 142.5px,#00dfff 145.5px,#00c3ff 151.5px,#007dff 154.5px,#004fff 156.5px,#0066ff 158.5px,#0081ff 159.5px,#00e2ff 160.5px,#27ffd8 162px)"></i><i style="left:35px;background:linear-gradient(#3cffc3 0px,#7eff81 4.5px,#76ff89 9.5px,#24ffdb 15.5px,#7aff85 25.5px,#49ffb6 31.5px,#3dffc2 37.5px,#11ffee 44.5px,#00fdff 58.5px,#64ff9b 66.5px,#56ffa9 70.5px,#49ffb6 74.5px,#70ff8f 80.5px,#4effb1 88.5px,#56ffa9 94.5px,#b7ff48 100.5px,#a6ff59 102.5px,#63ff9c 106.5px,#52ffad 110.5px,#20ffdf 114.5px,#3bffc4 117.5px,#71ff8e 121.5px,#72ff8d 127.5px,#9cff63 133.5px,#6dff92 136.5px,#00f9ff 140.5px,#00c8ff 143.5px,#00aaff 151.5px,#0075ff 154.5px,#0048ff 156.5px,#0057ff 158.5px,#006cff 159.5px,#00c5ff 160.5px,#00fdff 162px)"></i><i style="left:36px;background:linear-gradient(#16ffe9 0px,#7aff85 8.5px,#69ff96 12.5px,#4affb5 16.5px,#6fff90 21.5px,#97ff68 24.5px,#84ff7b 27.5px,#46ffb9 32.5px,#3bffc4 48.5px,#00ffff 53.5px,#00e7ff 57.5px,#00feff 59.5px,#56ffa9 65.5px,#56ffa9 68.5px,#2affd5 72.5px,#3effc1 75.5px,#8cff73 80.5px,#84ff7b 83.5px,#49ffb6 87.5px,#6eff91 96.5px,#9aff65 106.5px,#3bffc4 114.5px,#5affa5 118.5px,#83ff7c 122.5px,#75ff8a 129.5px,#73ff8c 133.5px,#02fffd 139.5px,#00d7ff 143.5px,#00e4ff 148.5px,#00c9ff 150.5px,#0035ff 155.5px,#002cff 157.5px,#0060ff 159.5px,#00c4ff 160.5px,#09fff6 162px)"></i><i style="left:37px;background:linear-gradient(#6eff91 0px,#9fff60 8.5px,#74ff8b 11.5px,#07fff8 16.5px,#07fff8 20.5px,#79ff86 26.5px,#87ff78 28.5px,#41ffbe 33.5px,#53ffac 41.5px,#02fffd 53.5px,#19ffe6 57.5px,#4bffb4 63.5px,#5bffa4 65.5px,#55ffaa 71.5px,#2cffd3 76.5px,#4cffb3 79.5px,#8aff75 82.5px,#81ff7e 85.5px,#37ffc8 91.5px,#3effc1 97.5px,#65ff9a 99.5px,#c6ff39 102.5px,#dbff24 105.5px,#7dff82 111.5px,#7eff81 125.5px,#55ffaa 128.5px,#7bff84 131.5px,#5effa1 135.5px,#05fffa 141.5px,#00d9ff 150.5px,#0099ff 153.5px,#003fff 156.5px,#0054ff 158.5px,#0072ff 159.5px,#00d6ff 160.5px,#23ffdc 162px)"></i><i style="left:38px;background:linear-gradient(#21ffde 0px,#68ff97 4.5px,#8cff73 6.5px,#8aff75 7.5px,#03fffc 11.5px,#00ecff 14.5px,#07fff8 16.5px,#83ff7c 22.5px,#54ffab 29.5px,#43ffbc 31.5px,#02fffd 34.5px,#00c5ff 38.5px,#00e5ff 42.5px,#0dfff2 45.5px,#0bfff4 50.5px,#45ffba 56.5px,#7bff84 68.5px,#80ff7f 71.5px,#07fff8 76.5px,#02fffd 78.5px,#6dff92 83.5px,#84ff7b 87.5px,#68ff97 96.5px,#b2ff4d 104.5px,#96ff69 107.5px,#5affa5 110.5px,#67ff98 113.5px,#88ff77 116.5px,#70ff8f 129.5px,#13ffec 142.5px,#00fdff 146.5px,#00e6ff 150.5px,#009fff 153.5px,#0048ff 156.5px,#004dff 157.5px,#008cff 159.5px,#00f9ff 160.5px,#51ffae 162px)"></i><i style="left:39px;background:linear-gradient(#18ffe7 0px,#69ff96 7.5px,#42ffbd 20.5px,#6aff95 26.5px,#8fff70 30.5px,#72ff8d 32.5px,#05fffa 36.5px,#00efff 40.5px,#0cfff3 44.5px,#26ffd9 50.5px,#4dffb2 54.5px,#2effd1 60.5px,#70ff8f 68.5px,#59ffa6 73.5px,#3bffc4 77.5px,#84ff7b 87.5px,#8fff70 93.5px,#a9ff56 98.5px,#5fffa0 110.5px,#90ff6f 118.5px,#6eff91 125.5px,#7bff84 130.5px,#2cffd3 142.5px,#01fffe 149.5px,#00c6ff 152.5px,#0060ff 155.5px,#004eff 156.5px,#0066ff 158.5px,#0085ff 159.5px,#00eaff 160.5px,#32ffcd 162px)"></i><i style="left:40px;background:linear-gradient(#5effa1 0px,#52ffad 5.5px,#70ff8f 8.5px,#2affd5 13.5px,#00f2ff 15.5px,#0092ff 19.5px,#008bff 21.5px,#00b4ff 23.5px,#0dfff2 25.5px,#7dff82 27.5px,#9aff65 28.5px,#8fff70 31.5px,#52ffad 35.5px,#62ff9d 41.5px,#23ffdc 48.5px,#28ffd7 60.5px,#77ff88 66.5px,#56ffa9 72.5px,#a7ff58 80.5px,#91ff6e 88.5px,#7dff82 93.5px,#77ff88 102.5px,#58ffa7 106.5px,#bbff44 119.5px,#abff54 121.5px,#52ffad 126.5px,#00f5ff 133.5px,#00c4ff 137.5px,#00baff 140.5px,#00fbff 144.5px,#0bfff4 146.5px,#00ecff 150.5px,#008aff 154.5px,#0058ff 156.5px,#0067ff 158.5px,#007bff 159.5px,#00d3ff 160.5px,#12ffed 162px)"></i><i style="left:41px;background:linear-gradient(#49ffb6 0px,#57ffa8 4.5px,#5cffa3 6.5px,#12ffed 11.5px,#00f5ff 16.5px,#00e4ff 20.5px,#0dfff2 22.5px,#56ffa9 26.5px,#76ff89 29.5px,#62ff9d 35.5px,#81ff7e 41.5px,#62ff9d 47.5px,#2fffd0 50.5px,#2dffd2 53.5px,#0bfff4 60.5px,#29ffd6 63.5px,#79ff86 67.5px,#e0ff1f 80.5px,#abff54 87.5px,#abff54 93.5px,#7cff83 98.5px,#70ff8f 102.5px,#48ffb7 106.5px,#afff50 112.5px,#97ff68 115.5px,#6fff90 118.5px,#75ff8a 122.5px,#2affd5 128.5px,#20ffdf 133.5px,#00f9ff 137.5px,#00e1ff 144.5px,#03fffc 149.5px,#00e4ff 152.5px,#0071ff 156.5px,#0080ff 158.5px,#0097ff 159.5px,#00f3ff 160.5px,#33ffcc 162px)"></i><i style="left:42px;background:linear-gradient(#03fffc 0px,#29ffd6 6.5px,#35ffca 7.5px,#04fffb 11.5px,#12ffed 24.5px,#65ff9a 29.5px,#63ff9c 39.5px,#39ffc6 46.5px,#1dffe2 53.5px,#02fffd 57.5px,#2affd5 61.5px,#46ffb9 64.5px,#38ffc7 68.5px,#54ffab 70.5px,#dbff24 75.5px,#dcff23 78.5px,#9dff62 84.5px,#afff50 88.5px,#c8ff37 91.5px,#95ff6a 97.5px,#90ff6f 101.5px,#62ff9d 105.5px,#8eff71 111.5px,#70ff8f 114.5px,#37ffc8 117.5px,#45ffba 120.5px,#68ff97 124.5px,#44ffbb 129.5px,#61ff9e 133.5px,#4cffb3 138.5px,#19ffe6 141.5px,#18ffe7 149.5px,#00f9ff 151.5px,#0045ff 155.5px,#0021ff 157.5px,#002bff 159.5px,#00a8ff 162px)"></i><i style="left:43px;background:linear-gradient(#3dffc2 0px,#77ff88 14.5px,#44ffbb 20.5px,#10ffef 24.5px,#06fff9 29.5px,#43ffbc 32.5px,#73ff8c 34.5px,#4affb5 39.5px,#03fffc 49.5px,#21ffde 55.5px,#33ffcc 59.5px,#7fff80 64.5px,#83ff7c 70.5px,#d6ff29 76.5px,#b9ff46 82.5px,#bdff42 88.5px,#92ff6d 95.5px,#d1ff2e 100.5px,#afff50 106.5px,#66ff99 111.5px,#7bff84 114.5px,#a6ff59 118.5px,#9bff64 124.5px,#90ff6f 125.5px,#2dffd2 128.5px,#15ffea 130.5px,#43ffbc 133.5px,#92ff6d 136.5px,#86ff79 138.5px,#08fff7 143.5px,#00f3ff 151.5px,#00abff 153.5px,#0030ff 156.5px,#001dff 159.5px,#0092ff 162px)"></i><i style="left:44px;background:linear-gradient(#70ff8f 0px,#74ff8b 6.5px,#6dff92 12.5px,#6cff93 21.5px,#6fff90 27.5px,#a2ff5d 32.5px,#93ff6c 35.5px,#46ffb9 40.5px,#1affe5 49.5px,#63ff9c 55.5px,#58ffa7 63.5px,#9cff63 70.5px,#acff53 76.5px,#84ff7b 82.5px,#86ff79 89.5px,#beff41 94.5px,#c4ff3b 99.5px,#f1ff0e 104.5px,#d1ff2e 107.5px,#90ff6f 111.5px,#d5ff2a 117.5px,#b3ff4c 125.5px,#47ffb8 130.5px,#4effb1 132.5px,#9cff63 135.5px,#9bff64 138.5px,#22ffdd 144.5px,#00f2ff 151.5px,#00c3ff 153.5px,#0040ff 156.5px,#0021ff 159.5px,#009bff 162px)"></i><i style="left:45px;background:linear-gradient(#29ffd6 0px,#46ffb9 4.5px,#6dff92 6.5px,#3dffc2 21.5px,#7dff82 29.5px,#98ff67 32.5px,#40ffbf 37.5px,#4fffb0 42.5px,#17ffe8 46.5px,#24ffdb 49.5px,#65ff9a 54.5px,#50ffaf 64.5px,#90ff6f 69.5px,#acff53 78.5px,#99ff66 88.5px,#d3ff2c 93.5px,#b7ff48 97.5px,#94ff6b 101.5px,#b9ff46 106.5px,#afff50 111.5px,#f2ff0d 115.5px,#e4ff1b 121.5px,#e4ff1b 125.5px,#70ff8f 130.5px,#57ffa8 135.5px,#56ffa9 139.5px,#1bffe4 146.5px,#00f9ff 151.5px,#00a3ff 154.5px,#006dff 156.5px,#0082ff 158.5px,#009eff 159.5px,#02fffd 160.5px,#48ffb7 162px)"></i><i style="left:46px;background:linear-gradient(#9cff63 0px,#6aff95 12.5px,#57ffa8 16.5px,#29ffd6 20.5px,#69ff96 26.5px,#56ffa9 40.5px,#20ffdf 46.5px,#4affb5 52.5px,#12ffed 59.5px,#49ffb6 68.5px,#a9ff56 73.5px,#a4ff5b 76.5px,#63ff9c 81.5px,#64ff9b 85.5px,#95ff6a 88.5px,#fffd00 92.5px,#fdff02 95.5px,#b2ff4d 100.5px,#c8ff37 104.5px,#e7ff18 108.5px,#d8ff27 112.5px,#fff600 116.5px,#ffcf00 126.5px,#fff400 128.5px,#53ffac 134.5px,#21ffde 138.5px,#13ffec 150.5px,#00f4ff 152.5px,#007aff 156.5px,#008cff 158.5px,#00a7ff 159.5px,#08fff7 160.5px,#4dffb2 162px)"></i><i style="left:47px;background:linear-gradient(#efff10 0px,#d3ff2c 3.5px,#6bff94 9.5px,#99ff66 14.5px,#64ff9b 20.5px,#8bff74 26.5px,#58ffa7 37.5px,#06fff9 44.5px,#27ffd8 47.5px,#64ff9b 50.5px,#66ff99 59.5px,#6dff92 63.5px,#52ffad 68.5px,#8aff75 73.5px,#92ff6d 78.5px,#a0ff5f 83.5px,#97ff68 87.5px,#ffff00 92.5px,#e9ff16 95.5px,#b7ff48 98.5px,#c2ff3d 101.5px,#f9ff06 104.5px,#ffa500 109.5px,#ffbe00 112.5px,#f7ff08 115.5px,#daff25 117.5px,#ddff22 122.5px,#bfff40 133.5px,#c4ff3b 135.5px,#86ff79 138.5px,#42ffbd 141.5px,#00f9ff 152.5px,#008aff 155.5px,#0074ff 156.5px,#0086ff 158.5px,#009dff 159.5px,#00f9ff 160.5px,#37ffc8 162px)"></i><i style="left:48px;background:linear-gradient(#fbff04 0px,#ebff14 4.5px,#91ff6e 9.5px,#c2ff3d 15.5px,#8dff72 23.5px,#8cff73 29.5px,#5affa5 36.5px,#10ffef 42.5px,#2cffd3 47.5px,#a2ff5d 55.5px,#87ff78 60.5px,#4effb1 67.5px,#d9ff26 83.5px,#b2ff4d 88.5px,#e7ff18 92.5px,#cdff32 95.5px,#9eff61 98.5px,#bbff44 101.5px,#fff700 104.5px,#ff7000 109.5px,#ff6300 111.5px,#fff900 121.5px,#c4ff3b 125.5px,#b6ff49 135.5px,#87ff78 138.5px,#4cffb3 141.5px,#2effd1 148.5px,#04fffb 151.5px,#00cdff 153.5px,#0067ff 156.5px,#005eff 159.5px,#00a6ff 160.5px,#00caff 162px)"></i><i style="left:49px;background:linear-gradient(#b0ff4f 0px,#96ff69 4.5px,#6cff93 8.5px,#a7ff58 16.5px,#8fff70 19.5px,#5fffa0 22.5px,#67ff98 25.5px,#8aff75 29.5px,#31ffce 42.5px,#25ffda 47.5px,#77ff88 51.5px,#e8ff17 56.5px,#fcff03 59.5px,#bbff44 64.5px,#91ff6e 68.5px,#c2ff3d 76.5px,#fff800 81.5px,#ffe600 87.5px,#feff01 93.5px,#8bff74 98.5px,#85ff7a 100.5px,#cfff30 103.5px,#ffee00 105.5px,#ffba00 108.5px,#ffd000 111.5px,#ffff00 113.5px,#d4ff2b 116.5px,#c3ff3c 122.5px,#abff54 126.5px,#b1ff4e 130.5px,#8cff73 135.5px,#7fff80 138.5px,#2fffd0 142.5px,#00f9ff 149.5px,#00cbff 152.5px,#0059ff 156.5px,#0065ff 158.5px,#0079ff 159.5px,#00d3ff 160.5px,#1dffe2 162px)"></i><i style="left:50px;background:linear-gradient(#9fff60 0px,#ccff33 3.5px,#b0ff4f 10.5px,#c7ff38 19.5px,#97ff68 27.5px,#7aff85 30.5px,#3fffc0 34.5px,#5bffa4 40.5px,#69ff96 44.5px,#5bffa4 48.5px,#96ff69 52.5px,#dbff24 55.5px,#adff52 65.5px,#84ff7b 69.5px,#c4ff3b 80.5px,#bdff42 85.5px,#fffe00 92.5px,#fff600 95.5px,#ecff13 97.5px,#a4ff5b 101.5px,#c5ff3a 104.5px,#fbff04 107.5px,#d1ff2e 113.5px,#fff400 120.5px,#f2ff0d 123.5px,#c6ff39 127.5px,#c1ff3e 130.5px,#94ff6b 134.5px,#92ff6d 138.5px,#2cffd3 142.5px,#1cffe3 145.5px,#20ffdf 147.5px,#02fffd 148.5px,#0029ff 155.5px,#0015ff 157.5px,#0023ff 159.5px,#006cff 160.5px,#00cbff 162px)"></i><i style="left:51px;background:linear-gradient(#4affb5 0px,#c4ff3b 5.5px,#ceff31 7.5px,#9bff64 10.5px,#b1ff4e 13.5px,#e9ff16 17.5px,#f1ff0e 19.5px,#c8ff37 21.5px,#40ffbf 25.5px,#20ffdf 27.5px,#58ffa7 32.5px,#84ff7b 36.5px,#75ff8a 48.5px,#d6ff29 59.5px,#b8ff47 67.5px,#bfff40 73.5px,#ccff33 78.5px,#97ff68 83.5px,#c6ff39 87.5px,#fffd00 91.5px,#ffe300 95.5px,#f5ff0a 98.5px,#adff52 102.5px,#caff35 105.5px,#f1ff0e 108.5px,#eeff11 113.5px,#fff000 117.5px,#ffdf00 123.5px,#f9ff06 126.5px,#78ff87 131.5px,#73ff8c 134.5px,#90ff6f 137.5px,#0afff5 142.5px,#00feff 152.5px,#008cff 156.5px,#009fff 158.5px,#00b8ff 159.5px,#19ffe6 160.5px,#65ff9a 162px)"></i><i style="left:52px;background:linear-gradient(#9cff63 0px,#e9ff16 5.5px,#b4ff4b 10.5px,#ccff33 13.5px,#f9ff06 16.5px,#e2ff1d 18.5px,#39ffc6 25.5px,#28ffd7 28.5px,#6fff90 36.5px,#72ff8d 40.5px,#69ff96 44.5px,#b0ff4f 52.5px,#c9ff36 63.5px,#fffd00 67.5px,#e2ff1d 74.5px,#e4ff1b 78.5px,#bdff42 85.5px,#d3ff2c 89.5px,#fcff03 93.5px,#f8ff07 97.5px,#ffe900 101.5px,#edff12 104.5px,#e7ff18 108.5px,#fff300 112.5px,#ffe700 115.5px,#f6ff09 120.5px,#fff200 126.5px,#f5ff0a 129.5px,#d7ff28 133.5px,#d5ff2a 137.5px,#89ff76 140.5px,#19ffe6 144.5px,#0efff1 147.5px,#22ffdd 151.5px,#00fbff 153.5px,#0096ff 156.5px,#00a1ff 158.5px,#00b8ff 159.5px,#15ffea 160.5px,#55ffaa 162px)"></i><i style="left:53px;background:linear-gradient(#b2ff4d 0px,#e9ff16 5.5px,#cfff30 9.5px,#90ff6f 13.5px,#acff53 18.5px,#5cffa3 24.5px,#67ff98 31.5px,#89ff76 35.5px,#51ffae 41.5px,#73ff8c 47.5px,#bbff44 56.5px,#b2ff4d 60.5px,#fffe00 66.5px,#ffd900 69.5px,#fff200 73.5px,#deff21 79.5px,#a7ff58 84.5px,#71ff8e 88.5px,#96ff69 91.5px,#fdff02 95.5px,#ffb200 98.5px,#ffab00 100.5px,#fffc00 103.5px,#b3ff4c 106.5px,#aeff51 108.5px,#fff700 112.5px,#ffd200 116.5px,#ffaa00 121.5px,#fffc00 126.5px,#d0ff2f 134.5px,#c5ff3a 138.5px,#4bffb4 144.5px,#2bffd4 149.5px,#0afff5 150.5px,#0074ff 156.5px,#0086ff 158.5px,#009cff 159.5px,#00f6ff 160.5px,#31ffce 162px)"></i><i style="left:54px;background:linear-gradient(#82ff7d 0px,#7dff82 5.5px,#a2ff5d 9.5px,#70ff8f 13.5px,#7bff84 15.5px,#aaff55 18.5px,#73ff8c 23.5px,#8eff71 27.5px,#6bff94 31.5px,#3effc1 34.5px,#33ffcc 39.5px,#60ff9f 42.5px,#d0ff2f 47.5px,#fffc00 51.5px,#e7ff18 55.5px,#acff53 58.5px,#a9ff56 63.5px,#fff700 68.5px,#ff9a00 72.5px,#ffa800 75.5px,#fffe00 82.5px,#90ff6f 89.5px,#8cff73 91.5px,#d0ff2f 94.5px,#fff200 96.5px,#ffe700 98.5px,#fffa00 99.5px,#b6ff49 102.5px,#acff53 104.5px,#fff700 112.5px,#ff9e00 117.5px,#ffa000 120.5px,#ffff00 126.5px,#b4ff4b 131.5px,#c2ff3d 137.5px,#66ff99 144.5px,#49ffb6 149.5px,#00f1ff 151.5px,#0096ff 154.5px,#007cff 156.5px,#00b5ff 159.5px,#10ffef 160.5px,#48ffb7 162px)"></i><i style="left:55px;background:linear-gradient(#4bffb4 0px,#83ff7c 4.5px,#ceff31 8.5px,#6cff93 13.5px,#6dff92 15.5px,#b2ff4d 19.5px,#ccff33 28.5px,#62ff9d 36.5px,#68ff97 39.5px,#cdff32 45.5px,#ffff00 49.5px,#fff300 53.5px,#edff12 55.5px,#8bff74 60.5px,#99ff66 65.5px,#cbff34 69.5px,#fdff02 71.5px,#ffda00 73.5px,#ffde00 75.5px,#fcff03 77.5px,#dbff24 80.5px,#fcff03 86.5px,#edff12 92.5px,#daff25 97.5px,#b5ff4a 104.5px,#f5ff0a 107.5px,#ff8b00 111.5px,#ff6b00 115.5px,#ff6b00 118.5px,#ff9400 120.5px,#fdff02 123.5px,#d4ff2b 125.5px,#daff25 137.5px,#a3ff5c 140.5px,#4affb5 144.5px,#40ffbf 150.5px,#00f6ff 153.5px,#00a3ff 156.5px,#00b7ff 158.5px,#00d4ff 159.5px,#39ffc6 160.5px,#8eff71 162px)"></i><i style="left:56px;background:linear-gradient(#22ffdd 0px,#6bff94 3.5px,#ecff13 6.5px,#fff100 8.5px,#eaff15 11.5px,#aeff51 16.5px,#dbff24 21.5px,#d1ff2e 25.5px,#d0ff2f 28.5px,#94ff6b 34.5px,#b5ff4a 48.5px,#fcff03 54.5px,#f2ff0d 62.5px,#acff53 70.5px,#98ff67 76.5px,#76ff89 80.5px,#96ff69 83.5px,#faff05 87.5px,#ffe100 90.5px,#feff01 93.5px,#cfff30 95.5px,#ccff33 97.5px,#fffa00 101.5px,#ffc800 106.5px,#ff4100 111.5px,#ff3f00 114.5px,#ff6200 118.5px,#fff100 123.5px,#fff600 126.5px,#fff600 129.5px,#ddff22 134.5px,#e5ff1a 138.5px,#7bff84 142.5px,#34ffcb 145.5px,#07fff8 152.5px,#009eff 156.5px,#00a3ff 157.5px,#00dfff 159.5px,#4bffb4 160.5px,#afff50 162px)"></i><i style="left:57px;background:linear-gradient(#5dffa2 0px,#8fff70 3.5px,#feff01 7.5px,#f8ff07 9.5px,#87ff78 14.5px,#82ff7d 20.5px,#a8ff57 27.5px,#93ff6c 31.5px,#bcff43 34.5px,#f2ff0d 37.5px,#e4ff1b 40.5px,#60ff9f 48.5px,#4affb5 52.5px,#77ff88 55.5px,#eeff11 59.5px,#ffee00 61.5px,#fffc00 63.5px,#a5ff5a 69.5px,#a5ff5a 72.5px,#e6ff19 76.5px,#dfff20 78.5px,#7eff81 83.5px,#86ff79 86.5px,#deff21 94.5px,#f3ff0c 103.5px,#a7ff58 109.5px,#bfff40 112.5px,#faff05 114.5px,#ff9600 117.5px,#ff9f00 119.5px,#ffe400 123.5px,#ffeb00 128.5px,#ecff13 131.5px,#f7ff08 134.5px,#ffea00 137.5px,#fff800 138.5px,#a6ff59 141.5px,#3bffc4 144.5px,#0bfff4 147.5px,#00f0ff 152.5px,#0082ff 156.5px,#0098ff 158.5px,#00b5ff 159.5px,#1bffe4 160.5px,#61ff9e 162px)"></i><i style="left:58px;background:linear-gradient(#ffcb00 0px,#ffff00 3.5px,#f3ff0c 5.5px,#ffde00 8.5px,#fff500 10.5px,#bbff44 13.5px,#b4ff4b 15.5px,#cbff34 18.5px,#82ff7d 23.5px,#aeff51 28.5px,#98ff67 33.5px,#beff41 39.5px,#87ff78 47.5px,#5dffa2 51.5px,#7dff82 55.5px,#9fff60 59.5px,#8bff74 64.5px,#a4ff5b 69.5px,#a5ff5a 73.5px,#e7ff18 77.5px,#d9ff26 80.5px,#c3ff3c 84.5px,#bfff40 88.5px,#b8ff47 92.5px,#fff500 97.5px,#ffcd00 99.5px,#ffd300 102.5px,#fffa00 104.5px,#5effa1 109.5px,#5cffa3 111.5px,#aaff55 113.5px,#e5ff1a 114.5px,#ffe900 115.5px,#ffa900 117.5px,#ff9e00 120.5px,#ffb200 125.5px,#fcff03 129.5px,#deff21 132.5px,#f9ff06 134.5px,#ffc900 137.5px,#ffcc00 138.5px,#f5ff0a 140.5px,#4affb5 144.5px,#1dffe2 147.5px,#0dfff2 151.5px,#00f8ff 152.5px,#0084ff 156.5px,#0096ff 158.5px,#00aeff 159.5px,#0cfff3 160.5px,#43ffbc 162px)"></i><i style="left:59px;background:linear-gradient(#ffed00 0px,#f0ff0f 3.5px,#ebff14 5.5px,#fdff02 6.5px,#ffb100 9.5px,#ffad00 11.5px,#ffe200 15.5px,#ffed00 19.5px,#dcff23 23.5px,#a0ff5f 31.5px,#beff41 36.5px,#52ffad 47.5px,#78ff87 53.5px,#9cff63 58.5px,#6aff95 63.5px,#99ff66 68.5px,#94ff6b 72.5px,#fcff03 77.5px,#fff000 85.5px,#ecff13 93.5px,#e4ff1b 97.5px,#fff500 99.5px,#ffbb00 102.5px,#ffbb00 105.5px,#f3ff0c 108.5px,#d0ff2f 110.5px,#e4ff1b 112.5px,#ffff00 113.5px,#ff9100 117.5px,#ff6400 121.5px,#ff8300 124.5px,#ffdc00 128.5px,#ffda00 131.5px,#ffa800 136.5px,#ffce00 138.5px,#fffc00 139.5px,#26ffd9 143.5px,#0bfff4 144.5px,#12ffed 146.5px,#40ffbf 149.5px,#00f5ff 153.5px,#009fff 156.5px,#00b8ff 158.5px,#00d8ff 159.5px,#3fffc0 160.5px,#97ff68 162px)"></i><i style="left:60px;background:linear-gradient(#abff54 0px,#fff800 9.5px,#fff400 12.5px,#fffa00 16.5px,#ffbb00 22.5px,#ffc700 24.5px,#fdff02 26.5px,#a3ff5c 29.5px,#a2ff5d 31.5px,#f4ff0b 35.5px,#f0ff0f 38.5px,#7cff83 45.5px,#5bffa4 48.5px,#b7ff48 59.5px,#91ff6e 65.5px,#f2ff0d 79.5px,#f7ff08 85.5px,#ffc400 89.5px,#ff9800 91.5px,#ffa500 94.5px,#ffe800 99.5px,#ffff00 113.5px,#ffed00 117.5px,#ff8300 121.5px,#ff8100 123.5px,#ffde00 127.5px,#ffe100 129.5px,#ffc500 132.5px,#fcff03 136.5px,#8bff74 142.5px,#03fffc 150.5px,#009dff 156.5px,#00bfff 158.5px,#00e1ff 159.5px,#4cffb3 160.5px,#afff50 162px)"></i><i style="left:61px;background:linear-gradient(#caff35 0px,#ffff00 7.5px,#f8ff07 19.5px,#fff700 23.5px,#e3ff1c 25.5px,#74ff8b 29.5px,#68ff97 33.5px,#89ff76 45.5px,#6bff94 52.5px,#8eff71 55.5px,#cfff30 59.5px,#c6ff39 65.5px,#fffe00 70.5px,#d2ff2d 74.5px,#c0ff3f 77.5px,#edff12 81.5px,#beff41 85.5px,#dcff23 87.5px,#fff900 88.5px,#ffa000 90.5px,#ff7a00 92.5px,#ffa200 95.5px,#ffcf00 98.5px,#ffe600 103.5px,#fbff04 106.5px,#fff300 109.5px,#ffd100 113.5px,#ffcf00 119.5px,#ff6b00 129.5px,#ff6d00 130.5px,#ffaa00 132.5px,#fdff02 134.5px,#baff45 136.5px,#66ff99 144.5px,#64ff9b 149.5px,#32ffcd 152.5px,#12ffed 153.5px,#00c4ff 155.5px,#00aeff 156.5px,#00bbff 158.5px,#00d4ff 159.5px,#37ffc8 160.5px,#9cff63 162px)"></i><i style="left:62px;background:linear-gradient(#91ff6e 0px,#84ff7b 5.5px,#c0ff3f 9.5px,#fff900 12.5px,#ffdd00 14.5px,#f7ff08 19.5px,#8aff75 24.5px,#84ff7b 28.5px,#8bff74 32.5px,#58ffa7 37.5px,#4fffb0 43.5px,#edff12 56.5px,#fff400 62.5px,#ffad00 67.5px,#ffbc00 71.5px,#f9ff06 77.5px,#caff35 81.5px,#54ffab 85.5px,#52ffad 86.5px,#68ff97 87.5px,#fff800 90.5px,#ffb600 92.5px,#ffa600 95.5px,#ffa200 102.5px,#fbff04 107.5px,#edff12 110.5px,#ffee00 113.5px,#ffa900 119.5px,#ff9700 123.5px,#ff3b00 128.5px,#ff5200 130.5px,#ffe800 134.5px,#f5ff0a 135.5px,#99ff66 140.5px,#3dffc2 143.5px,#32ffcd 144.5px,#53ffac 146.5px,#3cffc3 151.5px,#0efff1 153.5px,#00adff 156.5px,#00adff 157.5px,#00e0ff 159.5px,#49ffb6 160.5px,#a7ff58 162px)"></i><i style="left:63px;background:linear-gradient(#ffe000 0px,#ffa300 12.5px,#ffb400 15.5px,#fff300 18.5px,#96ff69 23.5px,#9bff64 26.5px,#d8ff27 31.5px,#bfff40 33.5px,#57ffa8 37.5px,#31ffce 41.5px,#56ffa9 50.5px,#f4ff0b 55.5px,#ff7e00 65.5px,#ff8700 68.5px,#ffcf00 72.5px,#ffc900 78.5px,#f5ff0a 82.5px,#ccff33 86.5px,#fff500 91.5px,#ffa700 96.5px,#ff9000 100.5px,#ffb700 103.5px,#fff800 105.5px,#a3ff5c 108.5px,#a3ff5c 109.5px,#ffff00 112.5px,#ffa100 115.5px,#ff8d00 118.5px,#ffda00 124.5px,#ffe700 129.5px,#efff10 131.5px,#a1ff5e 134.5px,#70ff8f 141.5px,#55ffaa 147.5px,#00faff 153.5px,#00a5ff 156.5px,#00a7ff 157.5px,#00dfff 159.5px,#49ffb6 160.5px,#aaff55 162px)"></i><i style="left:64px;background:linear-gradient(#89ff76 0px,#c2ff3d 2.5px,#ecff13 3.5px,#ffcf00 5.5px,#ffc200 6.5px,#fff500 9.5px,#d3ff2c 12.5px,#e6ff19 14.5px,#feff01 15.5px,#ffe600 17.5px,#f4ff0b 20.5px,#8cff73 25.5px,#87ff78 27.5px,#dfff20 31.5px,#e1ff1e 33.5px,#7fff80 37.5px,#76ff89 39.5px,#87ff78 43.5px,#18ffe7 49.5px,#2fffd0 51.5px,#faff05 56.5px,#ff9900 61.5px,#ff9f00 65.5px,#ffd200 70.5px,#fff100 73.5px,#ffb400 78.5px,#fff100 84.5px,#ffd400 87.5px,#ff8f00 91.5px,#ffa100 95.5px,#ffd700 100.5px,#faff05 102.5px,#7fff80 107.5px,#8aff75 109.5px,#fffe00 112.5px,#ffbe00 114.5px,#ffa800 117.5px,#ffc700 126.5px,#f9ff06 129.5px,#9eff61 133.5px,#afff50 136.5px,#d7ff28 139.5px,#c4ff3b 142.5px,#2fffd0 148.5px,#18ffe7 152.5px,#03fffc 153.5px,#00abff 156.5px,#00bcff 158.5px,#00d7ff 159.5px,#3affc5 160.5px,#8bff74 162px)"></i><i style="left:65px;background:linear-gradient(#abff54 0px,#f4ff0b 3.5px,#ffcb00 6.5px,#ffdb00 8.5px,#f1ff0e 10.5px,#bdff42 13.5px,#abff54 18.5px,#66ff99 25.5px,#9fff60 32.5px,#7bff84 38.5px,#7cff83 42.5px,#08fff7 48.5px,#06fff9 50.5px,#34ffcb 52.5px,#fffd00 57.5px,#ffdc00 59.5px,#ffd900 68.5px,#f1ff0e 72.5px,#f1ff0e 75.5px,#ffe800 77.5px,#ffcd00 80.5px,#fff600 84.5px,#ffd300 87.5px,#ff8700 90.5px,#ff8100 92.5px,#fffc00 98.5px,#dcff23 106.5px,#e9ff16 110.5px,#fff200 112.5px,#ffda00 115.5px,#ffef00 121.5px,#ffe500 124.5px,#efff10 128.5px,#fffd00 130.5px,#ffa600 134.5px,#ff9600 138.5px,#ffbf00 141.5px,#f0ff0f 143.5px,#5dffa2 147.5px,#29ffd6 152.5px,#0efff1 153.5px,#00a6ff 156.5px,#00b0ff 158.5px,#00c7ff 159.5px,#26ffd9 160.5px,#6aff95 162px)"></i><i style="left:66px;background:linear-gradient(#ffe400 0px,#ffad00 6.5px,#ffc700 8.5px,#faff05 10.5px,#9dff62 13.5px,#82ff7d 16.5px,#a6ff59 25.5px,#eaff15 33.5px,#fff500 36.5px,#fcff03 44.5px,#a4ff5b 49.5px,#bfff40 52.5px,#e6ff19 55.5px,#e7ff18 63.5px,#fff900 68.5px,#ddff22 71.5px,#7eff81 76.5px,#83ff7c 80.5px,#acff53 84.5px,#faff05 87.5px,#ffa900 90.5px,#ffa700 92.5px,#fff100 96.5px,#ffe000 104.5px,#ffbd00 110.5px,#ffa200 113.5px,#ffb700 116.5px,#ffed00 120.5px,#fff500 124.5px,#daff25 128.5px,#fff600 133.5px,#f3ff0c 135.5px,#bdff42 139.5px,#b2ff4d 142.5px,#47ffb8 149.5px,#21ffde 152.5px,#03fffc 153.5px,#009bff 156.5px,#00a5ff 158.5px,#00bcff 159.5px,#1affe5 160.5px,#58ffa7 162px)"></i><i style="left:67px;background:linear-gradient(#fdff02 0px,#ffbb00 5.5px,#ffc900 7.5px,#f5ff0a 9.5px,#83ff7c 12.5px,#61ff9e 14.5px,#96ff69 23.5px,#c0ff3f 28.5px,#b7ff48 32.5px,#d9ff26 38.5px,#eaff15 41.5px,#b6ff49 46.5px,#fff800 53.5px,#fff700 56.5px,#e9ff16 61.5px,#fffe00 67.5px,#8cff73 75.5px,#aaff55 79.5px,#daff25 86.5px,#fdff02 88.5px,#ffd800 91.5px,#ffe700 96.5px,#ffbc00 100.5px,#fff600 106.5px,#ffc500 110.5px,#ff5700 115.5px,#ff4300 119.5px,#ffb900 125.5px,#ffc900 129.5px,#f0ff0f 132.5px,#80ff7f 136.5px,#71ff8e 139.5px,#87ff78 142.5px,#25ffda 151.5px,#00edff 153.5px,#0087ff 156.5px,#0091ff 158.5px,#00a5ff 159.5px,#01fffe 160.5px,#30ffcf 162px)"></i><i style="left:68px;background:linear-gradient(#6bff94 0px,#a8ff57 2.5px,#fffd00 4.5px,#ffce00 6.5px,#ffe400 8.5px,#feff01 9.5px,#a5ff5a 12.5px,#87ff78 16.5px,#72ff8d 22.5px,#abff54 28.5px,#84ff7b 33.5px,#d5ff2a 39.5px,#c3ff3c 42.5px,#97ff68 45.5px,#aaff55 47.5px,#fffd00 51.5px,#ffe100 55.5px,#f3ff0c 60.5px,#eaff15 67.5px,#e1ff1e 70.5px,#fdff02 72.5px,#ffbd00 76.5px,#ffb400 80.5px,#feff01 85.5px,#f7ff08 88.5px,#ffe200 93.5px,#f6ff09 97.5px,#deff21 103.5px,#c1ff3e 106.5px,#fff200 110.5px,#ffb300 114.5px,#ffbc00 119.5px,#ffbc00 123.5px,#ff7300 127.5px,#ff7600 130.5px,#fff300 138.5px,#7cff83 143.5px,#17ffe8 151.5px,#00fdff 152.5px,#0091ff 155.5px,#007cff 156.5px,#0090ff 158.5px,#00acff 159.5px,#0ffff0 160.5px,#4effb1 162px)"></i><i style="left:69px;background:linear-gradient(#9dff62 0px,#dfff20 5.5px,#c5ff3a 12.5px,#bbff44 24.5px,#86ff79 31.5px,#2fffd0 36.5px,#46ffb9 38.5px,#aaff55 41.5px,#c0ff3f 47.5px,#f4ff0b 51.5px,#fffc00 56.5px,#c6ff39 62.5px,#fffe00 67.5px,#f9ff06 74.5px,#f4ff0b 85.5px,#ffe200 87.5px,#ff9400 90.5px,#ff8300 92.5px,#ffb000 95.5px,#fbff04 98.5px,#97ff68 102.5px,#82ff7d 105.5px,#b5ff4a 108.5px,#ffff00 111.5px,#ffdb00 114.5px,#f9ff06 122.5px,#fff400 125.5px,#ff7b00 133.5px,#ff7600 135.5px,#ffa300 137.5px,#ecff13 139.5px,#59ffa6 142.5px,#2dffd2 144.5px,#01fffe 151.5px,#0076ff 156.5px,#0090ff 158.5px,#00b0ff 159.5px,#18ffe7 160.5px,#61ff9e 162px)"></i><i style="left:70px;background:linear-gradient(#abff54 0px,#99ff66 5.5px,#40ffbf 11.5px,#4bffb4 14.5px,#afff50 18.5px,#f0ff0f 21.5px,#deff21 25.5px,#b7ff48 31.5px,#34ffcb 37.5px,#48ffb7 40.5px,#71ff8e 44.5px,#89ff76 49.5px,#fffc00 54.5px,#fff500 56.5px,#e6ff19 58.5px,#b2ff4d 61.5px,#b9ff46 64.5px,#d0ff2f 68.5px,#a2ff5d 74.5px,#8cff73 82.5px,#c2ff3d 85.5px,#fff800 87.5px,#ffb200 90.5px,#ffc100 93.5px,#fff400 95.5px,#9fff60 99.5px,#a3ff5c 102.5px,#c3ff3c 106.5px,#c5ff3a 111.5px,#fff200 114.5px,#ff9700 118.5px,#ff7000 122.5px,#ffb400 128.5px,#ff8b00 134.5px,#ffb000 136.5px,#f9ff06 138.5px,#94ff6b 140.5px,#46ffb9 143.5px,#17ffe8 144.5px,#00f3ff 145.5px,#00ccff 147.5px,#00daff 152.5px,#0073ff 156.5px,#0076ff 158.5px,#0083ff 159.5px,#00d3ff 160.5px,#1fffe0 162px)"></i><i style="left:71px;background:linear-gradient(#8cff73 0px,#90ff6f 4.5px,#2affd5 11.5px,#2effd1 15.5px,#a8ff57 21.5px,#a2ff5d 24.5px,#83ff7c 28.5px,#8bff74 33.5px,#78ff87 37.5px,#bbff44 42.5px,#77ff88 48.5px,#7dff82 55.5px,#f9ff06 62.5px,#fbff04 66.5px,#97ff68 72.5px,#b4ff4b 77.5px,#7aff85 81.5px,#91ff6e 83.5px,#f9ff06 87.5px,#ffa900 96.5px,#ffe600 110.5px,#ffec00 113.5px,#ff9000 117.5px,#ff6b00 119.5px,#ff7100 121.5px,#ffc900 126.5px,#ffd700 131.5px,#ffc100 135.5px,#ffe900 137.5px,#eeff11 138.5px,#85ff7a 141.5px,#48ffb7 146.5px,#12ffed 150.5px,#00fbff 152.5px,#008fff 156.5px,#00a4ff 158.5px,#00c2ff 159.5px,#28ffd7 160.5px,#7aff85 162px)"></i><i style="left:72px;background:linear-gradient(#95ff6a 0px,#93ff6c 5.5px,#6cff93 10.5px,#7bff84 26.5px,#6eff91 31.5px,#72ff8d 35.5px,#68ff97 39.5px,#aaff55 44.5px,#94ff6b 46.5px,#29ffd6 50.5px,#16ffe9 52.5px,#30ffcf 54.5px,#adff52 59.5px,#aeff51 62.5px,#79ff86 73.5px,#fcff03 86.5px,#ffea00 90.5px,#ff8e00 96.5px,#ffab00 99.5px,#f4ff0b 103.5px,#c2ff3d 106.5px,#dfff20 109.5px,#fffb00 112.5px,#e7ff18 125.5px,#dcff23 129.5px,#bbff44 133.5px,#b7ff48 137.5px,#45ffba 144.5px,#2affd5 151.5px,#00f8ff 153.5px,#0093ff 156.5px,#00a0ff 158.5px,#00b9ff 159.5px,#1bffe4 160.5px,#62ff9d 162px)"></i><i style="left:73px;background:linear-gradient(#57ffa8 0px,#7bff84 11.5px,#9aff65 15.5px,#5affa5 24.5px,#32ffcd 26.5px,#0afff5 27.5px,#00c3ff 30.5px,#00e4ff 33.5px,#00fcff 34.5px,#95ff6a 42.5px,#96ff69 44.5px,#20ffdf 49.5px,#25ffda 51.5px,#60ff9f 55.5px,#63ff9c 60.5px,#65ff9a 65.5px,#88ff77 72.5px,#adff52 77.5px,#99ff66 84.5px,#c1ff3e 87.5px,#fff200 90.5px,#ffaf00 95.5px,#ffb300 97.5px,#fffd00 100.5px,#c8ff37 103.5px,#d7ff28 106.5px,#ffff00 108.5px,#ffcb00 111.5px,#ffde00 113.5px,#fff800 114.5px,#abff54 118.5px,#8eff71 123.5px,#c8ff37 129.5px,#83ff7c 138.5px,#30ffcf 144.5px,#0cfff3 151.5px,#00f8ff 152.5px,#0082ff 156.5px,#0098ff 158.5px,#00b6ff 159.5px,#1bffe4 160.5px,#66ff99 162px)"></i><i style="left:74px;background:linear-gradient(#0bfff4 0px,#48ffb7 5.5px,#64ff9b 11.5px,#74ff8b 16.5px,#83ff7c 24.5px,#1cffe3 30.5px,#31ffce 33.5px,#6eff91 37.5px,#69ff96 41.5px,#3dffc2 48.5px,#53ffac 60.5px,#45ffba 66.5px,#61ff9e 68.5px,#dbff24 72.5px,#ebff14 74.5px,#6cff93 81.5px,#45ffba 85.5px,#6cff93 89.5px,#e3ff1c 98.5px,#fbff04 105.5px,#fff800 108.5px,#ffb700 113.5px,#ffd700 116.5px,#fff800 117.5px,#9dff62 121.5px,#93ff6c 124.5px,#eaff15 130.5px,#d9ff26 133.5px,#33ffcc 141.5px,#20ffdf 145.5px,#00f9ff 151.5px,#0075ff 156.5px,#008cff 158.5px,#00a8ff 159.5px,#0afff5 160.5px,#4effb1 162px)"></i><i style="left:75px;background:linear-gradient(#006bff 0px,#009fff 3.5px,#00e9ff 5.5px,#14ffeb 6.5px,#80ff7f 9.5px,#a1ff5e 11.5px,#8cff73 18.5px,#4fffb0 22.5px,#5effa1 25.5px,#7aff85 27.5px,#51ffae 31.5px,#76ff89 40.5px,#8dff72 46.5px,#95ff6a 50.5px,#7fff80 59.5px,#6fff90 63.5px,#2effd1 67.5px,#37ffc8 69.5px,#9cff63 74.5px,#92ff6d 77.5px,#40ffbf 82.5px,#49ffb6 87.5px,#7bff84 91.5px,#f5ff0a 96.5px,#ffed00 99.5px,#f3ff0c 102.5px,#daff25 105.5px,#fff500 110.5px,#ffb300 115.5px,#ffc600 118.5px,#f8ff07 121.5px,#afff50 125.5px,#71ff8e 137.5px,#29ffd6 141.5px,#2effd1 146.5px,#02fffd 151.5px,#00afff 154.5px,#007aff 156.5px,#0091ff 158.5px,#00afff 159.5px,#15ffea 160.5px,#62ff9d 162px)"></i><i style="left:76px;background:linear-gradient(#aaff55 0px,#87ff78 4.5px,#9aff65 6.5px,#fcff03 10.5px,#fbff04 12.5px,#7aff85 19.5px,#72ff8d 22.5px,#92ff6d 24.5px,#5effa1 33.5px,#7eff81 38.5px,#46ffb9 44.5px,#7aff85 62.5px,#5bffa4 64.5px,#31ffce 66.5px,#42ffbd 69.5px,#5fffa0 71.5px,#3affc5 75.5px,#19ffe6 78.5px,#30ffcf 81.5px,#a4ff5b 86.5px,#aaff55 89.5px,#9eff61 92.5px,#ffff00 97.5px,#fbff04 99.5px,#93ff6c 104.5px,#98ff67 106.5px,#f5ff0a 110.5px,#ffa900 115.5px,#ffc800 119.5px,#f6ff09 125.5px,#a2ff5d 130.5px,#62ff9d 137.5px,#1bffe4 140.5px,#18ffe7 142.5px,#31ffce 145.5px,#00f9ff 151.5px,#00a4ff 154.5px,#006eff 156.5px,#0086ff 158.5px,#00a5ff 159.5px,#0efff1 160.5px,#5cffa3 162px)"></i><i style="left:77px;background:linear-gradient(#deff21 0px,#a2ff5d 6.5px,#f8ff07 11.5px,#f4ff0b 13.5px,#7cff83 19.5px,#2cffd3 22.5px,#17ffe8 25.5px,#42ffbd 31.5px,#32ffcd 36.5px,#5fffa0 42.5px,#46ffb9 52.5px,#7dff82 63.5px,#8cff73 68.5px,#98ff67 71.5px,#40ffbf 77.5px,#4effb1 81.5px,#a2ff5d 87.5px,#93ff6c 89.5px,#5affa5 92.5px,#69ff96 94.5px,#f5ff0a 98.5px,#fff600 101.5px,#ddff22 106.5px,#fffa00 112.5px,#efff10 115.5px,#baff45 119.5px,#e9ff16 125.5px,#a7ff58 129.5px,#b1ff4e 134.5px,#d6ff29 137.5px,#cbff34 138.5px,#53ffac 142.5px,#35ffca 145.5px,#00ffff 151.5px,#006cff 156.5px,#0080ff 158.5px,#009bff 159.5px,#00feff 160.5px,#43ffbc 162px)"></i><i style="left:78px;background:linear-gradient(#c4ff3b 0px,#c1ff3e 5.5px,#b1ff4e 10.5px,#a2ff5d 13.5px,#09fff6 17.5px,#00c3ff 20.5px,#00ecff 30.5px,#20ffdf 34.5px,#2fffd0 37.5px,#40ffbf 51.5px,#5effa1 54.5px,#40ffbf 63.5px,#7aff85 82.5px,#68ff97 89.5px,#4dffb2 92.5px,#71ff8e 95.5px,#e3ff1c 99.5px,#f2ff0d 102.5px,#b6ff49 109.5px,#a0ff5f 115.5px,#75ff8a 120.5px,#9bff64 124.5px,#c6ff39 132.5px,#efff10 136.5px,#d2ff2d 138.5px,#39ffc6 142.5px,#09fff6 144.5px,#00b5ff 152.5px,#006dff 156.5px,#0086ff 158.5px,#00a5ff 159.5px,#0cfff3 160.5px,#59ffa6 162px)"></i><i style="left:79px;background:linear-gradient(#8cff73 0px,#9aff65 8.5px,#c4ff3b 12.5px,#9eff61 15.5px,#56ffa9 19.5px,#55ffaa 31.5px,#33ffcc 43.5px,#8cff73 50.5px,#65ff9a 57.5px,#0cfff3 66.5px,#27ffd8 70.5px,#77ff88 76.5px,#8cff73 83.5px,#6cff93 91.5px,#dcff23 98.5px,#c1ff3e 102.5px,#b2ff4d 106.5px,#aaff55 110.5px,#4cffb3 116.5px,#60ff9f 121.5px,#a8ff57 126.5px,#9aff65 129.5px,#7cff83 132.5px,#91ff6e 137.5px,#05fffa 143.5px,#00bcff 150.5px,#009dff 153.5px,#0058ff 156.5px,#0077ff 158.5px,#009bff 159.5px,#08fff7 160.5px,#5affa5 162px)"></i><i style="left:80px;background:linear-gradient(#b3ff4c 0px,#52ffad 6.5px,#4affb5 9.5px,#8aff75 15.5px,#7fff80 20.5px,#3bffc4 33.5px,#28ffd7 36.5px,#42ffbd 40.5px,#3cffc3 45.5px,#6cff93 50.5px,#5fffa0 57.5px,#3affc5 60.5px,#3cffc3 68.5px,#91ff6e 77.5px,#a7ff58 84.5px,#81ff7e 90.5px,#d4ff2b 96.5px,#89ff76 103.5px,#a5ff5a 109.5px,#67ff98 114.5px,#6aff95 120.5px,#50ffaf 125.5px,#3effc1 129.5px,#1dffe2 133.5px,#2affd5 135.5px,#00f7ff 139.5px,#00e8ff 144.5px,#00dfff 147.5px,#00b4ff 152.5px,#0058ff 156.5px,#0077ff 158.5px,#009bff 159.5px,#08fff7 160.5px,#5bffa4 162px)"></i><i style="left:81px;background:linear-gradient(#abff54 0px,#3effc1 6.5px,#52ffad 9.5px,#b0ff4f 15.5px,#48ffb7 26.5px,#2fffd0 32.5px,#00fdff 34.5px,#00a3ff 38.5px,#0094ff 41.5px,#00d0ff 48.5px,#04fffb 53.5px,#15ffea 60.5px,#00efff 65.5px,#00f3ff 69.5px,#11ffee 71.5px,#7dff82 75.5px,#8fff70 80.5px,#a4ff5b 90.5px,#a9ff56 95.5px,#a1ff5e 102.5px,#acff53 108.5px,#7fff80 114.5px,#87ff78 119.5px,#54ffab 126.5px,#0bfff4 129.5px,#00bdff 133.5px,#00dcff 136.5px,#05fffa 138.5px,#12ffed 139.5px,#00e5ff 142.5px,#00e8ff 145.5px,#00fdff 148.5px,#00b2ff 152.5px,#0044ff 156.5px,#004eff 158.5px,#005eff 159.5px,#00b1ff 160.5px,#00e7ff 162px)"></i><i style="left:82px;background:linear-gradient(#94ff6b 0px,#49ffb6 6.5px,#65ff9a 11.5px,#91ff6e 14.5px,#70ff8f 22.5px,#43ffbc 27.5px,#1dffe2 35.5px,#00feff 36.5px,#00c7ff 39.5px,#00d5ff 42.5px,#03fffc 46.5px,#0ffff0 49.5px,#11ffee 56.5px,#00f9ff 60.5px,#1bffe4 66.5px,#64ff9b 73.5px,#93ff6c 82.5px,#90ff6f 92.5px,#8dff72 97.5px,#a7ff58 109.5px,#5dffa2 117.5px,#4dffb2 121.5px,#8cff73 125.5px,#bdff42 128.5px,#adff52 132.5px,#65ff9a 138.5px,#00faff 143.5px,#00eaff 150.5px,#00c7ff 152.5px,#0022ff 155.5px,#0000fe 156.5px,#0000d3 159.5px,#0006ff 160.5px,#002bff 162px)"></i><i style="left:83px;background:linear-gradient(#a0ff5f 0px,#65ff9a 5.5px,#7aff85 12.5px,#96ff69 16.5px,#65ff9a 20.5px,#4cffb3 23.5px,#6dff92 28.5px,#4cffb3 32.5px,#00fcff 36.5px,#06fff9 38.5px,#3cffc3 40.5px,#45ffba 42.5px,#00f9ff 48.5px,#0ffff0 53.5px,#77ff88 60.5px,#7aff85 62.5px,#10ffef 66.5px,#00f5ff 68.5px,#00f3ff 76.5px,#14ffeb 79.5px,#5effa1 85.5px,#56ffa9 89.5px,#89ff76 97.5px,#5effa1 103.5px,#81ff7e 107.5px,#a8ff57 111.5px,#71ff8e 118.5px,#99ff66 125.5px,#a3ff5c 129.5px,#00fcff 143.5px,#00d3ff 151.5px,#009eff 153.5px,#0022ff 155.5px,#0000fd 156.5px,#0000ed 158.5px,#0000ef 159.5px,#006dff 162px)"></i><i style="left:84px;background:linear-gradient(#aeff51 0px,#63ff9c 6.5px,#86ff79 11.5px,#c0ff3f 16.5px,#b9ff46 18.5px,#4cffb3 24.5px,#4dffb2 27.5px,#5fffa0 28.5px,#41ffbe 33.5px,#6dff92 40.5px,#38ffc7 45.5px,#00f8ff 50.5px,#0ffff0 55.5px,#3effc1 59.5px,#27ffd8 67.5px,#37ffc8 70.5px,#00f8ff 72.5px,#0087ff 76.5px,#007bff 79.5px,#04fffb 85.5px,#28ffd7 87.5px,#59ffa6 92.5px,#75ff8a 95.5px,#46ffb9 99.5px,#29ffd6 102.5px,#54ffab 106.5px,#92ff6d 111.5px,#35ffca 139.5px,#00f4ff 143.5px,#00c4ff 148.5px,#00b2ff 152.5px,#004aff 156.5px,#0061ff 158.5px,#007eff 159.5px,#00e1ff 160.5px,#27ffd8 162px)"></i><i style="left:85px;background:linear-gradient(#5affa5 0px,#43ffbc 5.5px,#71ff8e 9.5px,#c6ff39 15.5px,#daff25 18.5px,#d1ff2e 19.5px,#0cfff3 23.5px,#00bcff 25.5px,#00aaff 27.5px,#0bfff4 30.5px,#30ffcf 31.5px,#63ff9c 40.5px,#46ffb9 47.5px,#42ffbd 54.5px,#15ffea 57.5px,#2bffd4 60.5px,#42ffbd 61.5px,#3cffc3 70.5px,#58ffa7 74.5px,#1cffe3 77.5px,#23ffdc 79.5px,#59ffa6 81.5px,#40ffbf 98.5px,#5fffa0 108.5px,#58ffa7 117.5px,#08fff7 121.5px,#05fffa 124.5px,#3affc5 129.5px,#6aff95 138.5px,#00fdff 145.5px,#00cfff 151.5px,#0080ff 154.5px,#004eff 156.5px,#0064ff 158.5px,#0080ff 159.5px,#00e3ff 160.5px,#2bffd4 162px)"></i><i style="left:86px;background:linear-gradient(#24ffdb 0px,#3effc1 4.5px,#a6ff59 10.5px,#90ff6f 14.5px,#48ffb7 17.5px,#00f9ff 19.5px,#005cff 23.5px,#0023ff 26.5px,#002dff 29.5px,#00b8ff 34.5px,#00fbff 36.5px,#42ffbd 38.5px,#53ffac 40.5px,#34ffcb 46.5px,#3effc1 54.5px,#1dffe2 61.5px,#70ff8f 76.5px,#42ffbd 83.5px,#67ff98 89.5px,#3affc5 95.5px,#78ff87 103.5px,#27ffd8 113.5px,#09fff6 116.5px,#5dffa2 122.5px,#5affa5 124.5px,#01fffe 131.5px,#06fff9 136.5px,#39ffc6 140.5px,#00ffff 144.5px,#00d4ff 151.5px,#0087ff 154.5px,#0055ff 156.5px,#006eff 158.5px,#008cff 159.5px,#00f1ff 160.5px,#3cffc3 162px)"></i><i style="left:87px;background:linear-gradient(#6cff93 0px,#61ff9e 5.5px,#81ff7e 10.5px,#38ffc7 17.5px,#06fff9 20.5px,#10ffef 23.5px,#59ffa6 27.5px,#2affd5 33.5px,#46ffb9 41.5px,#09fff6 53.5px,#1affe5 59.5px,#2cffd3 72.5px,#04fffb 74.5px,#00acff 80.5px,#00c6ff 84.5px,#0bfff4 91.5px,#5bffa4 94.5px,#82ff7d 100.5px,#77ff88 104.5px,#00fdff 110.5px,#00d6ff 114.5px,#00fbff 117.5px,#4dffb2 122.5px,#56ffa9 129.5px,#26ffd9 135.5px,#2bffd4 139.5px,#00f4ff 143.5px,#00bbff 149.5px,#00a6ff 152.5px,#0046ff 156.5px,#0059ff 158.5px,#0071ff 159.5px,#00cdff 160.5px,#0efff1 162px)"></i><i style="left:88px;background:linear-gradient(#d4ff2b 0px,#97ff68 5.5px,#4fffb0 13.5px,#00fcff 15.5px,#00cbff 17.5px,#00c9ff 19.5px,#00f3ff 21.5px,#3affc5 23.5px,#56ffa9 28.5px,#45ffba 34.5px,#33ffcc 35.5px,#0bfff4 36.5px,#00b2ff 39.5px,#00b1ff 41.5px,#00ebff 43.5px,#1affe5 44.5px,#49ffb6 45.5px,#31ffce 48.5px,#06fff9 52.5px,#0efff1 58.5px,#00ebff 68.5px,#10ffef 71.5px,#39ffc6 77.5px,#2cffd3 84.5px,#00ffff 86.5px,#00e0ff 89.5px,#00faff 91.5px,#5bffa4 94.5px,#57ffa8 97.5px,#2cffd3 102.5px,#42ffbd 112.5px,#3dffc2 117.5px,#59ffa6 121.5px,#1cffe3 124.5px,#1bffe4 126.5px,#2cffd3 127.5px,#00f8ff 135.5px,#00f4ff 142.5px,#00ccff 147.5px,#0058ff 150.5px,#0009ff 156.5px,#003dff 159.5px,#0096ff 160.5px,#00d6ff 162px)"></i><i style="left:89px;background:linear-gradient(#b8ff47 0px,#c5ff3a 4.5px,#7fff80 10.5px,#74ff8b 15.5px,#2dffd2 18.5px,#37ffc8 24.5px,#48ffb7 31.5px,#12ffed 41.5px,#50ffaf 46.5px,#37ffc8 49.5px,#00f9ff 54.5px,#00e4ff 60.5px,#08fff7 65.5px,#2dffd2 70.5px,#64ff9b 74.5px,#63ff9c 77.5px,#01fffe 83.5px,#19ffe6 94.5px,#12ffed 101.5px,#4fffb0 110.5px,#42ffbd 116.5px,#78ff87 123.5px,#03fffc 133.5px,#00e1ff 147.5px,#0012ff 155.5px,#0011ff 157.5px,#0042ff 159.5px,#00a0ff 160.5px,#00e4ff 162px)"></i><i style="left:90px;background:linear-gradient(#c9ff36 0px,#e2ff1d 4.5px,#84ff7b 10.5px,#4affb5 14.5px,#1bffe4 21.5px,#41ffbe 28.5px,#4affb5 36.5px,#1dffe2 44.5px,#2bffd4 51.5px,#05fffa 56.5px,#5fffa0 74.5px,#51ffae 79.5px,#00fbff 87.5px,#19ffe6 100.5px,#57ffa8 107.5px,#31ffce 113.5px,#25ffda 117.5px,#50ffaf 122.5px,#00fcff 141.5px,#00f8ff 148.5px,#00bdff 152.5px,#0059ff 155.5px,#0047ff 156.5px,#005eff 158.5px,#0079ff 159.5px,#00daff 160.5px,#22ffdd 162px)"></i><i style="left:91px;background:linear-gradient(#83ff7c 0px,#bdff42 5.5px,#21ffde 14.5px,#1affe5 18.5px,#3affc5 25.5px,#35ffca 31.5px,#56ffa9 38.5px,#5dffa2 47.5px,#05fffa 56.5px,#3effc1 70.5px,#2bffd4 72.5px,#04fffb 73.5px,#00d4ff 75.5px,#00e2ff 77.5px,#00feff 78.5px,#4effb1 80.5px,#5cffa3 82.5px,#1dffe2 89.5px,#22ffdd 95.5px,#12ffed 99.5px,#45ffba 106.5px,#15ffea 112.5px,#00fcff 117.5px,#35ffca 122.5px,#18ffe7 129.5px,#40ffbf 135.5px,#01fffe 143.5px,#04fffb 149.5px,#008dff 154.5px,#0053ff 156.5px,#0064ff 158.5px,#007eff 159.5px,#00ddff 160.5px,#24ffdb 162px)"></i><i style="left:92px;background:linear-gradient(#6cff93 0px,#a6ff59 4.5px,#6cff93 9.5px,#8bff74 14.5px,#4effb1 19.5px,#75ff8a 26.5px,#45ffba 32.5px,#69ff96 43.5px,#63ff9c 47.5px,#2cffd3 54.5px,#1cffe3 64.5px,#2bffd4 67.5px,#00fbff 69.5px,#0095ff 73.5px,#0096ff 75.5px,#00d1ff 77.5px,#01fffe 78.5px,#36ffc9 79.5px,#45ffba 81.5px,#29ffd6 88.5px,#2effd1 95.5px,#00faff 100.5px,#00e4ff 104.5px,#0cfff3 107.5px,#19ffe6 109.5px,#00f8ff 118.5px,#39ffc6 124.5px,#34ffcb 130.5px,#57ffa8 135.5px,#43ffbc 138.5px,#02fffd 142.5px,#00faff 145.5px,#14ffeb 149.5px,#06fff9 151.5px,#00cfff 153.5px,#006dff 156.5px,#007aff 158.5px,#008fff 159.5px,#00e9ff 160.5px,#2bffd4 162px)"></i><i style="left:93px;background:linear-gradient(#33ffcc 0px,#81ff7e 6.5px,#aaff55 14.5px,#49ffb6 18.5px,#47ffb8 21.5px,#62ff9d 24.5px,#62ff9d 26.5px,#00f7ff 31.5px,#00f2ff 33.5px,#04fffb 34.5px,#51ffae 37.5px,#34ffcb 44.5px,#23ffdc 54.5px,#21ffde 60.5px,#0bfff4 65.5px,#00f6ff 72.5px,#00ebff 75.5px,#08fff7 77.5px,#2cffd3 79.5px,#16ffe9 86.5px,#3affc5 92.5px,#1cffe3 100.5px,#14ffeb 104.5px,#34ffcb 110.5px,#0bfff4 118.5px,#0afff5 123.5px,#47ffb8 135.5px,#36ffc9 138.5px,#00f5ff 141.5px,#00d0ff 144.5px,#00f9ff 149.5px,#0efff1 152.5px,#00dbff 156.5px,#06fff9 159.5px,#57ffa8 160.5px,#89ff76 162px)"></i><i style="left:94px;background:linear-gradient(#26ffd9 0px,#68ff97 7.5px,#aeff51 11.5px,#a3ff5c 13.5px,#48ffb7 17.5px,#44ffbb 20.5px,#67ff98 23.5px,#4cffb3 28.5px,#40ffbf 33.5px,#00fcff 39.5px,#00f6ff 42.5px,#00bfff 45.5px,#00c1ff 47.5px,#09fff6 50.5px,#3bffc4 52.5px,#3affc5 56.5px,#10ffef 61.5px,#12ffed 65.5px,#00eeff 71.5px,#10ffef 76.5px,#1cffe3 80.5px,#00f7ff 85.5px,#12ffed 89.5px,#35ffca 100.5px,#42ffbd 107.5px,#26ffd9 113.5px,#0ffff0 118.5px,#00f3ff 123.5px,#32ffcd 137.5px,#00ffff 141.5px,#00d9ff 145.5px,#00caff 150.5px,#31ffce 151.5px,#adff52 155.5px,#d5ff2a 158.5px,#caff35 159.5px,#f0ff0f 160.5px,#f1ff0e 162px)"></i><i style="left:95px;background:linear-gradient(#00faff 0px,#0afff5 6.5px,#5cffa3 9.5px,#99ff66 11.5px,#9dff62 14.5px,#a1ff5e 18.5px,#b0ff4f 21.5px,#69ff96 29.5px,#13ffec 41.5px,#4dffb2 55.5px,#03fffc 65.5px,#00e2ff 73.5px,#0afff5 81.5px,#17ffe8 88.5px,#00e9ff 93.5px,#07fff8 98.5px,#45ffba 104.5px,#1cffe3 111.5px,#1cffe3 135.5px,#02fffd 138.5px,#00a8ff 147.5px,#009aff 150.5px,#34ffcb 151.5px,#f4ff0b 154.5px,#ff7100 157.5px,#ff5300 158.5px,#ff4d00 159.5px,#ff1c00 160.5px,#ff1700 162px)"></i><i style="left:96px;background:linear-gradient(#44ffbb 0px,#60ff9f 6.5px,#b3ff4c 15.5px,#bbff44 20.5px,#43ffbc 32.5px,#46ffb9 39.5px,#00ffff 46.5px,#0ffff0 56.5px,#00ecff 63.5px,#00ecff 69.5px,#00e1ff 72.5px,#009dff 77.5px,#00b6ff 80.5px,#03fffc 83.5px,#22ffdd 89.5px,#03fffc 95.5px,#23ffdc 102.5px,#47ffb8 107.5px,#27ffd8 117.5px,#2fffd0 136.5px,#00f9ff 139.5px,#00b3ff 143.5px,#00b6ff 150.5px,#1effe1 151.5px,#fffc00 158.5px,#ffed00 159.5px,#ffaa00 160.5px,#ff8f00 162px)"></i><i style="left:97px;background:linear-gradient(#92ff6d 0px,#70ff8f 4.5px,#98ff67 10.5px,#9cff63 15.5px,#cbff34 21.5px,#b1ff4e 25.5px,#1cffe3 32.5px,#11ffee 35.5px,#27ffd8 40.5px,#07fff8 46.5px,#0afff5 52.5px,#00f7ff 58.5px,#00f4ff 68.5px,#00f7ff 71.5px,#00ccff 74.5px,#00ddff 78.5px,#06fff9 84.5px,#43ffbc 96.5px,#11ffee 102.5px,#3fffc0 108.5px,#26ffd9 121.5px,#2affd5 134.5px,#30ffcf 137.5px,#00f8ff 140.5px,#00c4ff 143.5px,#00d7ff 149.5px,#00cfff 150.5px,#00e9ff 151.5px,#00d0ff 156.5px,#00f6ff 158.5px,#0ffff0 159.5px,#68ff97 160.5px,#a2ff5d 162px)"></i><i style="left:98px;background:linear-gradient(#75ff8a 0px,#56ffa9 5.5px,#71ff8e 10.5px,#60ff9f 17.5px,#92ff6d 23.5px,#52ffad 33.5px,#10ffef 39.5px,#0cfff3 52.5px,#06fff9 57.5px,#1effe1 61.5px,#00fcff 74.5px,#09fff6 84.5px,#2fffd0 97.5px,#13ffec 101.5px,#40ffbf 107.5px,#13ffec 115.5px,#00f8ff 119.5px,#19ffe6 123.5px,#3effc1 127.5px,#08fff7 134.5px,#0ffff0 138.5px,#00eaff 143.5px,#00e1ff 148.5px,#00baff 152.5px,#005eff 156.5px,#0076ff 158.5px,#0091ff 159.5px,#00f2ff 160.5px,#3affc5 162px)"></i><i style="left:99px;background:linear-gradient(#70ff8f 0px,#3effc1 8.5px,#5affa5 13.5px,#4cffb3 18.5px,#7aff85 23.5px,#6aff95 30.5px,#6fff90 34.5px,#10ffef 40.5px,#1cffe3 50.5px,#07fff8 56.5px,#2affd5 61.5px,#00ffff 63.5px,#00d5ff 66.5px,#00feff 70.5px,#0ffff0 77.5px,#06fff9 83.5px,#34ffcb 99.5px,#26ffd9 108.5px,#49ffb6 113.5px,#01fffe 118.5px,#18ffe7 122.5px,#2effd1 126.5px,#00f7ff 131.5px,#00dcff 139.5px,#00beff 144.5px,#00beff 151.5px,#007cff 154.5px,#004aff 156.5px,#0062ff 158.5px,#007fff 159.5px,#00e3ff 160.5px,#2fffd0 162px)"></i><i style="left:100px;background:linear-gradient(#54ffab 0px,#76ff89 3.5px,#4bffb4 8.5px,#a3ff5c 14.5px,#a5ff5a 16.5px,#81ff7e 21.5px,#8eff71 29.5px,#87ff78 33.5px,#19ffe6 42.5px,#01fffe 57.5px,#15ffea 61.5px,#1dffe2 65.5px,#26ffd9 68.5px,#00fbff 81.5px,#00c1ff 86.5px,#008eff 95.5px,#00a7ff 97.5px,#00e8ff 99.5px,#14ffeb 100.5px,#19ffe6 102.5px,#11ffee 107.5px,#47ffb8 113.5px,#0afff5 123.5px,#00d2ff 131.5px,#06fff9 136.5px,#00f3ff 140.5px,#00c1ff 144.5px,#00bcff 151.5px,#0078ff 154.5px,#0049ff 156.5px,#0066ff 158.5px,#0088ff 159.5px,#00f1ff 160.5px,#40ffbf 162px)"></i><i style="left:101px;background:linear-gradient(#2cffd3 0px,#1bffe4 7.5px,#5dffa2 11.5px,#9aff65 15.5px,#9dff62 19.5px,#50ffaf 25.5px,#88ff77 32.5px,#54ffab 37.5px,#00f3ff 42.5px,#00d3ff 45.5px,#00f3ff 49.5px,#01fffe 51.5px,#00deff 55.5px,#0cfff3 59.5px,#0efff1 68.5px,#0bfff4 74.5px,#16ffe9 80.5px,#07fff8 88.5px,#17ffe8 93.5px,#00efff 99.5px,#00d2ff 103.5px,#08fff7 109.5px,#43ffbc 118.5px,#00faff 126.5px,#00ccff 132.5px,#09fff6 136.5px,#29ffd6 138.5px,#01fffe 142.5px,#0096ff 152.5px,#003aff 156.5px,#005dff 158.5px,#0082ff 159.5px,#00eeff 160.5px,#40ffbf 162px)"></i><i style="left:102px;background:linear-gradient(#53ffac 0px,#0bfff4 6.5px,#44ffbb 10.5px,#6cff93 13.5px,#82ff7d 22.5px,#00f7ff 42.5px,#00edff 46.5px,#16ffe9 51.5px,#0efff1 57.5px,#31ffce 62.5px,#06fff9 73.5px,#06fff9 90.5px,#0ffff0 95.5px,#00edff 99.5px,#00d4ff 102.5px,#01fffe 108.5px,#0bfff4 115.5px,#27ffd8 120.5px,#00fbff 127.5px,#00ceff 132.5px,#00fcff 136.5px,#1bffe4 139.5px,#13ffec 147.5px,#00e5ff 150.5px,#009bff 153.5px,#0057ff 155.5px,#0046ff 156.5px,#0063ff 158.5px,#0086ff 159.5px,#00efff 160.5px,#3fffc0 162px)"></i><i style="left:103px;background:linear-gradient(#9fff60 0px,#43ffbc 6.5px,#64ff9b 11.5px,#83ff7c 21.5px,#49ffb6 28.5px,#0ffff0 34.5px,#00d8ff 37.5px,#09fff6 41.5px,#0dfff2 55.5px,#4cffb3 62.5px,#2effd1 74.5px,#00f8ff 78.5px,#00d8ff 81.5px,#09fff6 90.5px,#23ffdc 96.5px,#00faff 102.5px,#10ffef 111.5px,#2cffd3 120.5px,#25ffda 125.5px,#00fbff 133.5px,#00e2ff 137.5px,#10ffef 144.5px,#17ffe8 147.5px,#00e2ff 148.5px,#006cff 151.5px,#0017ff 155.5px,#0017ff 157.5px,#004aff 159.5px,#00a9ff 160.5px,#00edff 162px)"></i><i style="left:104px;background:linear-gradient(#42ffbd 0px,#3effc1 10.5px,#71ff8e 16.5px,#40ffbf 26.5px,#03fffc 33.5px,#0afff5 38.5px,#48ffb7 42.5px,#3bffc4 47.5px,#17ffe8 53.5px,#2fffd0 59.5px,#00fcff 66.5px,#14ffeb 71.5px,#26ffd9 75.5px,#05fffa 77.5px,#00baff 81.5px,#00c5ff 85.5px,#08fff7 90.5px,#0bfff4 93.5px,#00caff 98.5px,#005cff 106.5px,#006dff 109.5px,#00ddff 114.5px,#04fffb 118.5px,#26ffd9 120.5px,#11ffee 124.5px,#00eeff 128.5px,#00d2ff 136.5px,#00ddff 140.5px,#001bff 144.5px,#0000f9 146.5px,#000eff 148.5px,#006dff 152.5px,#0069ff 154.5px,#0042ff 156.5px,#0065ff 158.5px,#008aff 159.5px,#00f5ff 160.5px,#46ffb9 162px)"></i><i style="left:105px;background:linear-gradient(#7cff83 0px,#8cff73 7.5px,#6cff93 12.5px,#70ff8f 17.5px,#27ffd8 23.5px,#35ffca 33.5px,#3effc1 38.5px,#6fff90 43.5px,#53ffac 47.5px,#00f6ff 52.5px,#00bdff 57.5px,#00f2ff 61.5px,#00c6ff 69.5px,#00ffff 72.5px,#00f8ff 75.5px,#00bcff 79.5px,#00d1ff 88.5px,#04fffb 91.5px,#18ffe7 95.5px,#03fffc 106.5px,#00eeff 111.5px,#0efff1 118.5px,#19ffe6 123.5px,#00fbff 130.5px,#00faff 139.5px,#00d2ff 142.5px,#0095ff 144.5px,#0090ff 146.5px,#00acff 148.5px,#009aff 151.5px,#0039ff 155.5px,#002eff 156.5px,#0039ff 157.5px,#0082ff 159.5px,#00f3ff 160.5px,#4affb5 162px)"></i><i style="left:106px;background:linear-gradient(#00b2ff 0px,#08fff7 3.5px,#7eff81 6.5px,#92ff6d 7.5px,#64ff9b 12.5px,#7dff82 17.5px,#3effc1 22.5px,#3affc5 31.5px,#41ffbe 37.5px,#6bff94 42.5px,#00fbff 54.5px,#00f7ff 58.5px,#00fbff 61.5px,#00cdff 66.5px,#04fffb 72.5px,#00ecff 75.5px,#00d0ff 78.5px,#01fffe 84.5px,#00d4ff 89.5px,#00f5ff 93.5px,#007bff 97.5px,#005bff 100.5px,#0084ff 103.5px,#00e2ff 106.5px,#04fffb 115.5px,#37ffc8 123.5px,#00f9ff 130.5px,#14ffeb 137.5px,#00eeff 140.5px,#00b3ff 145.5px,#0081ff 152.5px,#0034ff 155.5px,#0028ff 156.5px,#0032ff 157.5px,#007bff 159.5px,#00eeff 160.5px,#46ffb9 162px)"></i><i style="left:107px;background:linear-gradient(#6fff90 0px,#32ffcd 8.5px,#2cffd3 13.5px,#94ff6b 23.5px,#95ff6a 26.5px,#34ffcb 31.5px,#28ffd7 35.5px,#63ff9c 42.5px,#4affb5 49.5px,#59ffa6 59.5px,#00feff 65.5px,#0cfff3 68.5px,#25ffda 72.5px,#00faff 76.5px,#12ffed 80.5px,#3effc1 84.5px,#00fcff 90.5px,#13ffec 94.5px,#24ffdb 97.5px,#02fffd 100.5px,#00c9ff 104.5px,#07fff8 111.5px,#26ffd9 119.5px,#44ffbb 123.5px,#28ffd7 126.5px,#02fffd 128.5px,#00a8ff 132.5px,#00c3ff 134.5px,#0afff5 136.5px,#25ffda 137.5px,#01fffe 140.5px,#00a7ff 145.5px,#0086ff 152.5px,#0023ff 156.5px,#0030ff 158.5px,#0043ff 159.5px,#009bff 160.5px,#00d9ff 162px)"></i><i style="left:108px;background:linear-gradient(#afff50 0px,#abff54 5.5px,#6dff92 10.5px,#67ff98 16.5px,#d0ff2f 22.5px,#d3ff2c 25.5px,#9cff63 28.5px,#3affc5 32.5px,#2bffd4 35.5px,#3cffc3 41.5px,#30ffcf 43.5px,#0cfff3 44.5px,#00ebff 46.5px,#11ffee 48.5px,#35ffca 49.5px,#50ffaf 57.5px,#37ffc8 63.5px,#22ffdd 68.5px,#13ffec 77.5px,#59ffa6 83.5px,#45ffba 87.5px,#10ffef 94.5px,#09fff6 100.5px,#00fdff 106.5px,#19ffe6 114.5px,#5bffa4 123.5px,#25ffda 127.5px,#00ffff 129.5px,#00e2ff 133.5px,#00eeff 138.5px,#009aff 143.5px,#009fff 146.5px,#0070ff 149.5px,#0068ff 153.5px,#0032ff 156.5px,#0043ff 158.5px,#0059ff 159.5px,#00b5ff 160.5px,#00f7ff 162px)"></i><i style="left:109px;background:linear-gradient(#b2ff4d 0px,#9cff63 5.5px,#62ff9d 9.5px,#7fff80 12.5px,#c6ff39 16.5px,#e3ff1c 21.5px,#b6ff49 25.5px,#40ffbf 32.5px,#00feff 45.5px,#0bfff4 52.5px,#00a4ff 56.5px,#00a3ff 58.5px,#0efff1 61.5px,#1affe5 63.5px,#06fff9 71.5px,#49ffb6 84.5px,#31ffce 88.5px,#08fff7 90.5px,#0dfff2 92.5px,#23ffdc 94.5px,#27ffd8 100.5px,#00faff 105.5px,#1effe1 118.5px,#48ffb7 124.5px,#1cffe3 131.5px,#00ffff 135.5px,#00b1ff 139.5px,#00c3ff 141.5px,#00dbff 142.5px,#00dfff 146.5px,#00ddff 150.5px,#00bfff 152.5px,#003cff 156.5px,#0047ff 158.5px,#005cff 159.5px,#00b6ff 160.5px,#00f8ff 162px)"></i><i style="left:110px;background:linear-gradient(#b5ff4a 0px,#46ffb9 9.5px,#4effb1 13.5px,#dbff24 22.5px,#c5ff3a 25.5px,#47ffb8 31.5px,#22ffdd 36.5px,#00f4ff 42.5px,#00ecff 47.5px,#00fdff 52.5px,#00a8ff 56.5px,#00a3ff 59.5px,#07fff8 63.5px,#22ffdd 69.5px,#04fffb 72.5px,#00c7ff 75.5px,#00d4ff 77.5px,#08fff7 79.5px,#2dffd2 83.5px,#00f5ff 97.5px,#00f4ff 104.5px,#00feff 118.5px,#05fffa 125.5px,#3affc5 130.5px,#3bffc4 138.5px,#00feff 142.5px,#00d9ff 145.5px,#00c9ff 151.5px,#0071ff 154.5px,#0036ff 156.5px,#0043ff 158.5px,#0059ff 159.5px,#00b5ff 160.5px,#00f8ff 162px)"></i><i style="left:111px;background:linear-gradient(#7fff80 0px,#72ff8d 5.5px,#7bff84 9.5px,#20ffdf 13.5px,#1cffe3 15.5px,#baff45 23.5px,#bbff44 26.5px,#2affd5 37.5px,#05fffa 40.5px,#00e4ff 43.5px,#0dfff2 53.5px,#19ffe6 58.5px,#0afff5 63.5px,#30ffcf 68.5px,#1effe1 75.5px,#00fdff 79.5px,#1bffe4 91.5px,#00f4ff 97.5px,#00f7ff 116.5px,#00caff 123.5px,#00fbff 126.5px,#1bffe4 128.5px,#20ffdf 132.5px,#3dffc2 134.5px,#18ffe7 138.5px,#00ecff 140.5px,#00a6ff 144.5px,#00abff 151.5px,#005cff 154.5px,#0029ff 156.5px,#0040ff 158.5px,#005dff 159.5px,#00c0ff 160.5px,#0afff5 162px)"></i><i style="left:112px;background:linear-gradient(#35ffca 0px,#79ff86 3.5px,#d2ff2d 6.5px,#e2ff1d 9.5px,#84ff7b 12.5px,#72ff8d 15.5px,#77ff88 19.5px,#68ff97 23.5px,#17ffe8 28.5px,#2bffd4 31.5px,#50ffaf 33.5px,#00ffff 39.5px,#00d3ff 44.5px,#05fffa 54.5px,#03fffc 69.5px,#53ffac 74.5px,#4bffb4 77.5px,#10ffef 84.5px,#18ffe7 97.5px,#25ffda 101.5px,#0afff5 106.5px,#26ffd9 111.5px,#00f2ff 115.5px,#00f0ff 122.5px,#10ffef 125.5px,#30ffcf 127.5px,#00f7ff 130.5px,#00f3ff 132.5px,#0cfff3 135.5px,#00d4ff 138.5px,#00a8ff 141.5px,#00a4ff 144.5px,#00c6ff 148.5px,#001dff 155.5px,#0020ff 157.5px,#0060ff 159.5px,#00caff 160.5px,#18ffe7 162px)"></i><i style="left:113px;background:linear-gradient(#75ff8a 0px,#dfff20 4.5px,#eaff15 6.5px,#acff53 10.5px,#bbff44 12.5px,#f5ff0a 15.5px,#efff10 17.5px,#56ffa9 24.5px,#43ffbc 31.5px,#06fff9 38.5px,#00f6ff 44.5px,#1dffe2 47.5px,#39ffc6 50.5px,#23ffdc 58.5px,#1cffe3 64.5px,#04fffb 68.5px,#58ffa7 75.5px,#4bffb4 79.5px,#00ffff 84.5px,#00b5ff 87.5px,#0085ff 94.5px,#00a4ff 96.5px,#00ecff 98.5px,#2affd5 100.5px,#24ffdb 110.5px,#05fffa 116.5px,#30ffcf 126.5px,#2cffd3 129.5px,#2bffd4 131.5px,#00f4ff 139.5px,#00c4ff 143.5px,#00d9ff 149.5px,#00b2ff 152.5px,#0056ff 155.5px,#0044ff 156.5px,#0060ff 158.5px,#0080ff 159.5px,#00e7ff 160.5px,#35ffca 162px)"></i><i style="left:114px;background:linear-gradient(#a5ff5a 0px,#e9ff16 4.5px,#d2ff2d 7.5px,#a9ff56 10.5px,#ccff33 13.5px,#edff12 15.5px,#e2ff1d 17.5px,#73ff8c 22.5px,#62ff9d 26.5px,#77ff88 30.5px,#34ffcb 35.5px,#10ffef 39.5px,#38ffc7 45.5px,#73ff8c 51.5px,#4dffb2 60.5px,#33ffcc 65.5px,#00ffff 68.5px,#00cdff 72.5px,#00dcff 78.5px,#06fff9 82.5px,#00ecff 86.5px,#00abff 90.5px,#00aeff 92.5px,#08fff7 95.5px,#2affd5 99.5px,#1fffe0 109.5px,#18ffe7 113.5px,#41ffbe 119.5px,#2dffd2 123.5px,#00fbff 125.5px,#00ceff 128.5px,#00e1ff 131.5px,#12ffed 134.5px,#19ffe6 137.5px,#00f0ff 139.5px,#00b9ff 142.5px,#00d0ff 144.5px,#00e6ff 145.5px,#00cbff 150.5px,#0092ff 153.5px,#0045ff 156.5px,#0064ff 158.5px,#0087ff 159.5px,#00f1ff 160.5px,#41ffbe 162px)"></i><i style="left:115px;background:linear-gradient(#7fff80 0px,#9aff65 7.5px,#d7ff28 14.5px,#b7ff48 17.5px,#81ff7e 20.5px,#85ff7a 23.5px,#a8ff57 28.5px,#99ff66 30.5px,#54ffab 32.5px,#00faff 34.5px,#00bdff 36.5px,#00b0ff 38.5px,#09fff6 43.5px,#71ff8e 49.5px,#79ff86 54.5px,#05fffa 67.5px,#25ffda 72.5px,#18ffe7 76.5px,#3dffc2 81.5px,#40ffbf 88.5px,#0dfff2 94.5px,#19ffe6 107.5px,#33ffcc 120.5px,#13ffec 121.5px,#00e3ff 122.5px,#0028ff 126.5px,#0006ff 128.5px,#001eff 130.5px,#0088ff 134.5px,#00a5ff 137.5px,#0084ff 142.5px,#00a0ff 144.5px,#00d7ff 146.5px,#00d8ff 148.5px,#00a1ff 152.5px,#004dff 155.5px,#003eff 156.5px,#0060ff 158.5px,#0084ff 159.5px,#00f0ff 160.5px,#41ffbe 162px)"></i><i style="left:116px;background:linear-gradient(#1affe5 0px,#60ff9f 4.5px,#dfff20 10.5px,#edff12 13.5px,#85ff7a 21.5px,#96ff69 24.5px,#c4ff3b 27.5px,#b6ff49 29.5px,#6fff90 31.5px,#0cfff3 33.5px,#00a2ff 36.5px,#009cff 39.5px,#00e5ff 43.5px,#02fffd 44.5px,#44ffbb 46.5px,#7aff85 52.5px,#64ff9b 57.5px,#05fffa 65.5px,#10ffef 69.5px,#47ffb8 75.5px,#05fffa 90.5px,#1dffe2 98.5px,#1fffe0 104.5px,#21ffde 106.5px,#00ffff 108.5px,#00fdff 111.5px,#33ffcc 114.5px,#20ffdf 126.5px,#30ffcf 132.5px,#00f2ff 137.5px,#009aff 142.5px,#00a1ff 144.5px,#00cdff 146.5px,#00aaff 152.5px,#0047ff 156.5px,#005eff 158.5px,#007bff 159.5px,#00dfff 160.5px,#29ffd6 162px)"></i><i style="left:117px;background:linear-gradient(#6bff94 0px,#64ff9b 5.5px,#d6ff29 11.5px,#d5ff2a 14.5px,#7dff82 20.5px,#5effa1 29.5px,#1cffe3 37.5px,#27ffd8 46.5px,#49ffb6 59.5px,#18ffe7 66.5px,#21ffde 69.5px,#05fffa 72.5px,#2cffd3 75.5px,#54ffab 77.5px,#46ffb9 83.5px,#00fcff 88.5px,#00edff 92.5px,#16ffe9 95.5px,#42ffbd 99.5px,#2bffd4 103.5px,#0bfff4 104.5px,#00acff 108.5px,#00a9ff 110.5px,#00f4ff 113.5px,#3effc1 116.5px,#36ffc9 119.5px,#00f5ff 122.5px,#00cdff 125.5px,#00e7ff 134.5px,#09fff6 139.5px,#00b7ff 148.5px,#00aeff 152.5px,#004fff 156.5px,#0064ff 158.5px,#007eff 159.5px,#00deff 160.5px,#25ffda 162px)"></i><i style="left:118px;background:linear-gradient(#b5ff4a 0px,#79ff86 6.5px,#62ff9d 12.5px,#35ffca 17.5px,#45ffba 24.5px,#39ffc6 31.5px,#27ffd8 40.5px,#06fff9 49.5px,#28ffd7 56.5px,#37ffc8 66.5px,#00f5ff 75.5px,#0dfff2 79.5px,#61ff9e 82.5px,#52ffad 85.5px,#03fffc 89.5px,#06fff9 93.5px,#2effd1 98.5px,#00f1ff 101.5px,#00b5ff 104.5px,#00b2ff 107.5px,#00f0ff 110.5px,#3cffc3 112.5px,#62ff9d 113.5px,#84ff7b 117.5px,#7bff84 119.5px,#35ffca 121.5px,#0bfff4 122.5px,#00d2ff 124.5px,#00d8ff 126.5px,#14ffeb 128.5px,#39ffc6 129.5px,#3affc5 133.5px,#00f4ff 140.5px,#00e7ff 148.5px,#00b5ff 152.5px,#004dff 156.5px,#0064ff 158.5px,#007dff 159.5px,#00d3ff 160.5px,#13ffec 162px)"></i><i style="left:119px;background:linear-gradient(#6aff95 0px,#99ff66 9.5px,#67ff98 15.5px,#8eff71 21.5px,#62ff9d 31.5px,#0efff1 48.5px,#21ffde 54.5px,#06fff9 59.5px,#2fffd0 65.5px,#22ffdd 68.5px,#39ffc6 70.5px,#00fcff 75.5px,#15ffea 78.5px,#44ffbb 81.5px,#17ffe8 86.5px,#00ecff 89.5px,#00cfff 93.5px,#06fff9 102.5px,#5affa5 113.5px,#4bffb4 121.5px,#3effc1 125.5px,#77ff88 131.5px,#0efff1 142.5px,#00b8ff 145.5px,#00a4ff 148.5px,#00b8ff 152.5px,#004eff 156.5px,#004dff 158.5px,#0057ff 159.5px,#00e2ff 162px)"></i><i style="left:120px;background:linear-gradient(#4effb1 0px,#77ff88 5.5px,#abff54 9.5px,#75ff8a 15.5px,#85ff7a 22.5px,#70ff8f 31.5px,#3bffc4 37.5px,#40ffbf 48.5px,#52ffad 53.5px,#3dffc2 60.5px,#5cffa3 68.5px,#2effd1 71.5px,#00feff 73.5px,#00e7ff 75.5px,#0afff5 78.5px,#34ffcb 81.5px,#2effd1 83.5px,#00fdff 85.5px,#00e0ff 88.5px,#0bfff4 92.5px,#59ffa6 96.5px,#6dff92 101.5px,#29ffd6 109.5px,#16ffe9 122.5px,#00f2ff 127.5px,#0ffff0 131.5px,#75ff8a 135.5px,#72ff8d 138.5px,#06fff9 145.5px,#00c5ff 152.5px,#0064ff 156.5px,#007eff 158.5px,#009eff 159.5px,#05fffa 160.5px,#53ffac 162px)"></i><i style="left:121px;background:linear-gradient(#6fff90 0px,#82ff7d 5.5px,#8cff73 8.5px,#49ffb6 14.5px,#7bff84 18.5px,#9cff63 21.5px,#8fff70 23.5px,#3effc1 26.5px,#3bffc4 29.5px,#54ffab 31.5px,#33ffcc 37.5px,#5effa1 48.5px,#88ff77 54.5px,#4dffb2 61.5px,#74ff8b 65.5px,#9dff62 69.5px,#74ff8b 72.5px,#35ffca 74.5px,#05fffa 75.5px,#00daff 77.5px,#00fcff 79.5px,#3dffc2 84.5px,#3effc1 90.5px,#8dff72 97.5px,#85ff7a 100.5px,#44ffbb 106.5px,#33ffcc 121.5px,#52ffad 130.5px,#68ff97 138.5px,#00ffff 144.5px,#00d9ff 149.5px,#00c9ff 152.5px,#005dff 156.5px,#0076ff 158.5px,#0095ff 159.5px,#00faff 160.5px,#48ffb7 162px)"></i><i style="left:122px;background:linear-gradient(#006dff 0px,#00a2ff 3.5px,#06fff9 6.5px,#31ffce 8.5px,#2bffd4 10.5px,#00fdff 13.5px,#07fff8 16.5px,#3effc1 20.5px,#34ffcb 22.5px,#06fff9 24.5px,#00b3ff 28.5px,#00b4ff 31.5px,#00eeff 34.5px,#0ffff0 35.5px,#35ffca 36.5px,#5bffa4 43.5px,#9aff65 50.5px,#8eff71 56.5px,#4dffb2 61.5px,#5dffa2 64.5px,#8eff71 68.5px,#6eff91 72.5px,#3cffc3 76.5px,#53ffac 79.5px,#88ff77 83.5px,#87ff78 91.5px,#caff35 97.5px,#b0ff4f 100.5px,#81ff7e 104.5px,#59ffa6 113.5px,#63ff9c 121.5px,#4bffb4 127.5px,#78ff87 135.5px,#5dffa2 138.5px,#01fffe 143.5px,#09fff6 150.5px,#00e7ff 152.5px,#0083ff 155.5px,#0071ff 156.5px,#0077ff 157.5px,#00baff 159.5px,#2affd5 160.5px,#87ff78 162px)"></i><i style="left:123px;background:linear-gradient(#1bffe4 0px,#47ffb8 3.5px,#7aff85 5.5px,#6dff92 10.5px,#01fffe 17.5px,#0efff1 21.5px,#20ffdf 24.5px,#06fff9 30.5px,#10ffef 39.5px,#00feff 44.5px,#30ffcf 47.5px,#beff41 51.5px,#a4ff5b 56.5px,#45ffba 62.5px,#76ff89 69.5px,#69ff96 79.5px,#93ff6c 87.5px,#98ff67 91.5px,#d4ff2b 95.5px,#bcff43 97.5px,#2effd1 102.5px,#16ffe9 105.5px,#4affb5 108.5px,#6bff94 109.5px,#82ff7d 118.5px,#70ff8f 125.5px,#64ff9b 131.5px,#2dffd2 135.5px,#2affd5 138.5px,#00f6ff 142.5px,#00e9ff 145.5px,#00fcff 151.5px,#00aaff 154.5px,#0077ff 156.5px,#007cff 157.5px,#00bdff 159.5px,#2dffd2 160.5px,#8aff75 162px)"></i><i style="left:124px;background:linear-gradient(#62ff9d 0px,#9cff63 4.5px,#b1ff4e 6.5px,#25ffda 19.5px,#53ffac 25.5px,#63ff9c 31.5px,#86ff79 37.5px,#78ff87 40.5px,#4cffb3 43.5px,#56ffa9 46.5px,#95ff6a 51.5px,#86ff79 58.5px,#67ff98 65.5px,#72ff8d 81.5px,#b3ff4c 88.5px,#c5ff3a 96.5px,#c2ff3d 101.5px,#63ff9c 104.5px,#50ffaf 106.5px,#78ff87 109.5px,#62ff9d 114.5px,#75ff8a 121.5px,#5dffa2 127.5px,#23ffdc 132.5px,#07fff8 140.5px,#00d1ff 145.5px,#00d1ff 151.5px,#008eff 154.5px,#005eff 156.5px,#0075ff 158.5px,#0091ff 159.5px,#00f3ff 160.5px,#3affc5 162px)"></i><i style="left:125px;background:linear-gradient(#6cff93 0px,#94ff6b 4.5px,#5affa5 14.5px,#55ffaa 21.5px,#9cff63 30.5px,#9cff63 35.5px,#50ffaf 47.5px,#68ff97 52.5px,#3bffc4 56.5px,#7fff80 70.5px,#61ff9e 81.5px,#bcff43 88.5px,#ecff13 97.5px,#b3ff4c 106.5px,#a5ff5a 109.5px,#6bff94 114.5px,#96ff69 121.5px,#2affd5 130.5px,#00fbff 133.5px,#00edff 140.5px,#00b5ff 144.5px,#00acff 146.5px,#007fff 149.5px,#0080ff 153.5px,#0050ff 156.5px,#0065ff 158.5px,#007fff 159.5px,#00dfff 160.5px,#1effe1 162px)"></i><i style="left:126px;background:linear-gradient(#adff52 0px,#76ff89 13.5px,#6bff94 18.5px,#7aff85 24.5px,#aaff55 29.5px,#39ffc6 40.5px,#58ffa7 49.5px,#86ff79 54.5px,#78ff87 61.5px,#48ffb7 66.5px,#82ff7d 78.5px,#fffc00 95.5px,#e8ff17 100.5px,#fffa00 107.5px,#d3ff2c 116.5px,#caff35 122.5px,#75ff8a 127.5px,#13ffec 132.5px,#0ffff0 136.5px,#15ffea 140.5px,#00edff 143.5px,#00d8ff 146.5px,#0030ff 156.5px,#004dff 158.5px,#0069ff 159.5px,#00c9ff 160.5px,#0dfff2 162px)"></i><i style="left:127px;background:linear-gradient(#67ff98 0px,#79ff86 4.5px,#b1ff4e 7.5px,#55ffaa 14.5px,#67ff98 18.5px,#37ffc8 22.5px,#4effb1 25.5px,#93ff6c 28.5px,#70ff8f 31.5px,#28ffd7 35.5px,#42ffbd 40.5px,#83ff7c 57.5px,#97ff68 60.5px,#4fffb0 66.5px,#7dff82 75.5px,#acff53 78.5px,#8fff70 85.5px,#deff21 92.5px,#e1ff1e 101.5px,#ffef00 105.5px,#f7ff08 108.5px,#c2ff3d 112.5px,#e1ff1e 118.5px,#a4ff5b 128.5px,#17ffe8 141.5px,#00f2ff 149.5px,#00d6ff 152.5px,#0063ff 156.5px,#006fff 158.5px,#0084ff 159.5px,#00deff 160.5px,#13ffec 162px)"></i><i style="left:128px;background:linear-gradient(#d5ff2a 0px,#8eff71 6.5px,#4cffb3 10.5px,#4cffb3 17.5px,#59ffa6 22.5px,#50ffaf 27.5px,#62ff9d 30.5px,#2affd5 35.5px,#5affa5 46.5px,#79ff86 50.5px,#5cffa3 56.5px,#80ff7f 62.5px,#6aff95 68.5px,#80ff7f 74.5px,#fbff04 80.5px,#eeff11 85.5px,#d5ff2a 89.5px,#fffe00 94.5px,#98ff67 101.5px,#ddff22 107.5px,#d0ff2f 113.5px,#fff000 118.5px,#f3ff0c 122.5px,#78ff87 132.5px,#4dffb2 137.5px,#10ffef 142.5px,#00f2ff 148.5px,#00d2ff 152.5px,#0072ff 156.5px,#008aff 158.5px,#00a7ff 159.5px,#0bfff4 160.5px,#54ffab 162px)"></i><i style="left:129px;background:linear-gradient(#a0ff5f 0px,#46ffb9 8.5px,#66ff99 12.5px,#6fff90 15.5px,#48ffb7 19.5px,#5fffa0 25.5px,#29ffd6 31.5px,#1fffe0 39.5px,#1fffe0 42.5px,#90ff6f 48.5px,#8dff72 51.5px,#5fffa0 55.5px,#76ff89 58.5px,#a8ff57 62.5px,#a0ff5f 76.5px,#e0ff1f 80.5px,#fff500 82.5px,#ffd700 85.5px,#ffff00 92.5px,#eaff15 98.5px,#b5ff4a 102.5px,#e0ff1f 112.5px,#fff100 115.5px,#ffd600 119.5px,#ffeb00 125.5px,#fffe00 128.5px,#75ff8a 133.5px,#56ffa9 137.5px,#04fffb 147.5px,#00efff 152.5px,#0081ff 156.5px,#0089ff 158.5px,#009dff 159.5px,#00f7ff 160.5px,#4cffb3 162px)"></i><i style="left:130px;background:linear-gradient(#82ff7d 0px,#42ffbd 6.5px,#63ff9c 10.5px,#79ff86 14.5px,#16ffe9 21.5px,#21ffde 34.5px,#00f8ff 38.5px,#00fbff 41.5px,#2dffd2 43.5px,#94ff6b 46.5px,#abff54 48.5px,#78ff87 54.5px,#abff54 59.5px,#88ff77 65.5px,#e2ff1d 71.5px,#f5ff0a 77.5px,#ffd000 81.5px,#ff7f00 87.5px,#ff8900 89.5px,#fcff03 93.5px,#ccff33 96.5px,#c7ff38 101.5px,#98ff67 109.5px,#a7ff58 112.5px,#f6ff09 117.5px,#d3ff2c 123.5px,#fff500 126.5px,#ffce00 129.5px,#f2ff0d 133.5px,#52ffad 141.5px,#17ffe8 151.5px,#06fff9 152.5px,#00c4ff 154.5px,#007fff 156.5px,#0079ff 157.5px,#009eff 159.5px,#00fcff 160.5px,#4fffb0 162px)"></i><i style="left:131px;background:linear-gradient(#0002ff 0px,#0028ff 2.5px,#00aaff 5.5px,#00e5ff 6.5px,#26ffd9 7.5px,#61ff9e 10.5px,#78ff87 14.5px,#38ffc7 23.5px,#31ffce 30.5px,#45ffba 35.5px,#0dfff2 40.5px,#18ffe7 42.5px,#72ff8d 45.5px,#acff53 47.5px,#d4ff2b 51.5px,#b0ff4f 56.5px,#baff45 60.5px,#6bff94 66.5px,#94ff6b 69.5px,#c7ff38 72.5px,#e8ff17 77.5px,#fff000 79.5px,#ffa000 86.5px,#ff7a00 89.5px,#ffb000 92.5px,#f8ff07 95.5px,#9cff63 100.5px,#95ff6a 105.5px,#afff50 111.5px,#dfff20 115.5px,#c6ff39 117.5px,#4dffb2 121.5px,#56ffa9 123.5px,#f0ff0f 127.5px,#ffc900 129.5px,#ffaf00 131.5px,#ffce00 133.5px,#ffef00 134.5px,#bdff42 136.5px,#52ffad 139.5px,#39ffc6 142.5px,#3dffc2 147.5px,#00f9ff 152.5px,#0092ff 156.5px,#0099ff 157.5px,#00dcff 159.5px,#4cffb3 160.5px,#b6ff49 162px)"></i><i style="left:132px;background:linear-gradient(#00c2ff 0px,#00e4ff 3.5px,#00fcff 4.5px,#25ffda 7.5px,#93ff6c 12.5px,#9cff63 15.5px,#68ff97 22.5px,#77ff88 31.5px,#55ffaa 38.5px,#5bffa4 44.5px,#adff52 48.5px,#e8ff17 51.5px,#e3ff1c 54.5px,#97ff68 62.5px,#5fffa0 66.5px,#8bff74 70.5px,#e1ff1e 79.5px,#bcff43 84.5px,#edff12 86.5px,#ffbf00 88.5px,#ffb500 90.5px,#fff700 93.5px,#b6ff49 98.5px,#c6ff39 105.5px,#8cff73 114.5px,#7dff82 120.5px,#b2ff4d 123.5px,#fff400 126.5px,#ffce00 129.5px,#ffdd00 131.5px,#fff500 132.5px,#c2ff3d 134.5px,#2dffd2 138.5px,#0ffff0 140.5px,#19ffe6 148.5px,#00f9ff 151.5px,#007eff 156.5px,#0084ff 157.5px,#00c2ff 159.5px,#2fffd0 160.5px,#8bff74 162px)"></i><i style="left:133px;background:linear-gradient(#1cffe3 0px,#69ff96 10.5px,#a2ff5d 15.5px,#8dff72 19.5px,#75ff8a 23.5px,#99ff66 29.5px,#75ff8a 38.5px,#53ffac 43.5px,#91ff6e 47.5px,#d6ff29 51.5px,#d8ff27 55.5px,#c5ff3a 60.5px,#d6ff29 69.5px,#fff700 73.5px,#ffaf00 78.5px,#ffbc00 80.5px,#ffe000 81.5px,#e2ff1d 82.5px,#7eff81 84.5px,#66ff99 85.5px,#6eff91 87.5px,#b4ff4b 91.5px,#afff50 95.5px,#7eff81 99.5px,#b7ff48 104.5px,#73ff8c 112.5px,#98ff67 115.5px,#fbff04 119.5px,#faff05 125.5px,#ffde00 129.5px,#fbff04 132.5px,#21ffde 139.5px,#00fbff 142.5px,#00eaff 145.5px,#01fffe 151.5px,#00d7ff 153.5px,#0093ff 155.5px,#0080ff 156.5px,#0084ff 157.5px,#00c1ff 159.5px,#24ffdb 160.5px,#7cff83 162px)"></i><i style="left:134px;background:linear-gradient(#58ffa7 0px,#30ffcf 8.5px,#54ffab 12.5px,#93ff6c 16.5px,#93ff6c 23.5px,#9eff61 26.5px,#5dffa2 31.5px,#7aff85 36.5px,#88ff77 42.5px,#62ff9d 48.5px,#9eff61 52.5px,#c7ff38 55.5px,#caff35 64.5px,#fff800 70.5px,#ffbc00 75.5px,#ffa700 80.5px,#ffff00 87.5px,#a0ff5f 100.5px,#edff12 104.5px,#e4ff1b 107.5px,#8aff75 112.5px,#9cff63 114.5px,#fff200 117.5px,#ffbe00 119.5px,#ffd500 123.5px,#fffb00 127.5px,#acff53 133.5px,#8dff72 138.5px,#32ffcd 142.5px,#01fffe 143.5px,#00c7ff 145.5px,#00c6ff 148.5px,#00e0ff 152.5px,#0078ff 156.5px,#0097ff 158.5px,#00b9ff 159.5px,#24ffdb 160.5px,#78ff87 162px)"></i><i style="left:135px;background:linear-gradient(#87ff78 0px,#2effd1 12.5px,#acff53 24.5px,#8cff73 27.5px,#58ffa7 30.5px,#5dffa2 33.5px,#c5ff3a 41.5px,#aeff51 44.5px,#50ffaf 48.5px,#4affb5 50.5px,#78ff87 54.5px,#69ff96 60.5px,#84ff7b 65.5px,#f4ff0b 71.5px,#f3ff0c 75.5px,#d4ff2b 79.5px,#f7ff08 82.5px,#ffc300 86.5px,#ffff00 99.5px,#c5ff3a 102.5px,#ceff31 107.5px,#88ff77 111.5px,#91ff6e 113.5px,#fcff03 117.5px,#fff200 120.5px,#d5ff2a 127.5px,#e8ff17 134.5px,#c9ff36 138.5px,#0dfff2 144.5px,#00e1ff 148.5px,#00c5ff 152.5px,#006fff 156.5px,#0089ff 158.5px,#00a5ff 159.5px,#08fff7 160.5px,#48ffb7 162px)"></i><i style="left:136px;background:linear-gradient(#5fffa0 0px,#7bff84 5.5px,#2affd5 8.5px,#19ffe6 11.5px,#50ffaf 14.5px,#74ff8b 16.5px,#aeff51 23.5px,#8fff70 26.5px,#62ff9d 29.5px,#80ff7f 44.5px,#71ff8e 49.5px,#95ff6a 55.5px,#74ff8b 60.5px,#a6ff59 65.5px,#fffd00 68.5px,#ffbd00 70.5px,#ffb900 72.5px,#fffc00 76.5px,#bdff42 80.5px,#bfff40 83.5px,#fff300 87.5px,#ffd000 90.5px,#ffe900 94.5px,#f2ff0d 96.5px,#dfff20 102.5px,#a6ff59 109.5px,#afff50 112.5px,#dfff20 116.5px,#cfff30 120.5px,#97ff68 126.5px,#b8ff47 129.5px,#fffc00 133.5px,#f2ff0d 137.5px,#70ff8f 141.5px,#0efff1 144.5px,#00e7ff 147.5px,#00e2ff 152.5px,#00aaff 154.5px,#0067ff 156.5px,#006dff 158.5px,#007dff 159.5px,#00d3ff 160.5px,#1dffe2 162px)"></i><i style="left:137px;background:linear-gradient(#58ffa7 0px,#9eff61 5.5px,#c7ff38 22.5px,#c9ff36 25.5px,#1affe5 38.5px,#25ffda 41.5px,#68ff97 47.5px,#91ff6e 52.5px,#caff35 57.5px,#cfff30 60.5px,#6eff91 65.5px,#84ff7b 68.5px,#b8ff47 71.5px,#beff41 78.5px,#eeff11 88.5px,#ffda00 93.5px,#ffe900 97.5px,#fdff02 102.5px,#e2ff1d 110.5px,#fffe00 115.5px,#6dff92 123.5px,#67ff98 126.5px,#b0ff4f 132.5px,#8cff73 138.5px,#0efff1 145.5px,#02fffd 152.5px,#0094ff 156.5px,#00aaff 158.5px,#00c8ff 159.5px,#2fffd0 160.5px,#84ff7b 162px)"></i><i style="left:138px;background:linear-gradient(#6bff94 0px,#b6ff49 7.5px,#a1ff5e 13.5px,#afff50 18.5px,#9fff60 23.5px,#a5ff5a 28.5px,#2fffd0 35.5px,#37ffc8 39.5px,#6cff93 44.5px,#4cffb3 50.5px,#7aff85 53.5px,#c5ff3a 56.5px,#d5ff2a 60.5px,#c2ff3d 66.5px,#bcff43 70.5px,#7eff81 75.5px,#a4ff5b 78.5px,#e1ff1e 81.5px,#d5ff2a 84.5px,#c1ff3e 88.5px,#e0ff1f 91.5px,#ffef00 93.5px,#ffdf00 95.5px,#f8ff07 97.5px,#a3ff5c 100.5px,#8fff70 103.5px,#ccff33 110.5px,#fffc00 112.5px,#ffce00 114.5px,#ffe000 116.5px,#feff01 117.5px,#9cff63 120.5px,#73ff8c 123.5px,#7eff81 131.5px,#54ffab 136.5px,#4fffb0 139.5px,#10ffef 144.5px,#01fffe 152.5px,#009eff 156.5px,#00a1ff 157.5px,#00dbff 159.5px,#45ffba 160.5px,#a6ff59 162px)"></i><i style="left:139px;background:linear-gradient(#7dff82 0px,#b6ff49 6.5px,#62ff9d 14.5px,#7dff82 22.5px,#a4ff5b 27.5px,#82ff7d 31.5px,#67ff98 33.5px,#93ff6c 40.5px,#64ff9b 46.5px,#17ffe8 51.5px,#29ffd6 55.5px,#b0ff4f 63.5px,#f6ff09 67.5px,#e3ff1c 70.5px,#9eff61 74.5px,#9fff60 77.5px,#f3ff0c 82.5px,#ecff13 85.5px,#b8ff47 89.5px,#f9ff06 95.5px,#dcff23 103.5px,#e7ff18 108.5px,#fff300 114.5px,#fbff04 115.5px,#8eff71 119.5px,#8dff72 121.5px,#e6ff19 127.5px,#e2ff1d 130.5px,#5fffa0 136.5px,#14ffeb 142.5px,#1bffe4 148.5px,#00fdff 151.5px,#008aff 156.5px,#00a3ff 158.5px,#00c0ff 159.5px,#23ffdc 160.5px,#70ff8f 162px)"></i><i style="left:140px;background:linear-gradient(#9fff60 0px,#9cff63 8.5px,#64ff9b 15.5px,#8eff71 22.5px,#94ff6b 28.5px,#7bff84 32.5px,#acff53 36.5px,#e3ff1c 40.5px,#dbff24 43.5px,#9cff63 45.5px,#40ffbf 48.5px,#3bffc4 51.5px,#c3ff3c 61.5px,#e0ff1f 70.5px,#c7ff38 74.5px,#97ff68 79.5px,#a0ff5f 85.5px,#98ff67 88.5px,#eaff15 93.5px,#efff10 99.5px,#fffc00 100.5px,#ffa100 104.5px,#ffa100 106.5px,#fff000 110.5px,#fdff02 114.5px,#9aff65 119.5px,#b4ff4b 122.5px,#efff10 128.5px,#edff12 131.5px,#15ffea 140.5px,#11ffee 144.5px,#2bffd4 148.5px,#00f4ff 152.5px,#008bff 155.5px,#0076ff 156.5px,#008aff 158.5px,#00a7ff 159.5px,#0bfff4 160.5px,#4fffb0 162px)"></i><i style="left:141px;background:linear-gradient(#a8ff57 0px,#9dff62 6.5px,#9fff60 10.5px,#6bff94 15.5px,#8aff75 20.5px,#73ff8c 25.5px,#25ffda 29.5px,#3cffc3 31.5px,#89ff76 33.5px,#c9ff36 37.5px,#cdff32 45.5px,#87ff78 54.5px,#aaff55 61.5px,#b2ff4d 65.5px,#faff05 71.5px,#d0ff2f 74.5px,#84ff7b 77.5px,#81ff7e 79.5px,#edff12 84.5px,#e6ff19 89.5px,#d7ff28 97.5px,#feff01 100.5px,#ffe400 103.5px,#f9ff06 107.5px,#81ff7e 115.5px,#8cff73 118.5px,#bbff44 123.5px,#d0ff2f 127.5px,#fcff03 130.5px,#f3ff0c 132.5px,#37ffc8 140.5px,#1dffe2 144.5px,#2affd5 150.5px,#08fff7 152.5px,#0079ff 156.5px,#0078ff 157.5px,#00a7ff 159.5px,#0cfff3 160.5px,#52ffad 162px)"></i><i style="left:142px;background:linear-gradient(#9eff61 0px,#73ff8c 5.5px,#77ff88 10.5px,#54ffab 14.5px,#90ff6f 20.5px,#45ffba 29.5px,#72ff8d 33.5px,#adff52 36.5px,#aaff55 40.5px,#53ffac 47.5px,#61ff9e 51.5px,#bfff40 58.5px,#b1ff4e 62.5px,#a2ff5d 65.5px,#ceff31 68.5px,#feff01 70.5px,#ffd800 73.5px,#ffe000 78.5px,#ffcf00 81.5px,#fff900 83.5px,#adff52 86.5px,#a2ff5d 97.5px,#bdff42 101.5px,#a7ff58 106.5px,#b1ff4e 110.5px,#9dff62 114.5px,#d8ff27 119.5px,#beff41 126.5px,#d4ff2b 131.5px,#90ff6f 138.5px,#21ffde 144.5px,#28ffd7 151.5px,#00f0ff 153.5px,#009fff 155.5px,#0088ff 156.5px,#0098ff 158.5px,#00b2ff 159.5px,#14ffeb 160.5px,#59ffa6 162px)"></i><i style="left:143px;background:linear-gradient(#83ff7c 0px,#53ffac 13.5px,#74ff8b 22.5px,#89ff76 27.5px,#a8ff57 30.5px,#86ff79 33.5px,#5bffa4 36.5px,#87ff78 41.5px,#55ffaa 45.5px,#2cffd3 48.5px,#44ffbb 51.5px,#d3ff2c 58.5px,#daff25 61.5px,#9cff63 67.5px,#aeff51 70.5px,#fffd00 75.5px,#ffeb00 79.5px,#f1ff0e 82.5px,#97ff68 85.5px,#97ff68 87.5px,#f9ff06 91.5px,#ffc800 96.5px,#ffda00 99.5px,#fdff02 101.5px,#c6ff39 104.5px,#d3ff2c 106.5px,#feff01 108.5px,#ffe600 111.5px,#f5ff0a 119.5px,#abff54 123.5px,#c1ff3e 128.5px,#d8ff27 132.5px,#a3ff5c 138.5px,#2fffd0 144.5px,#3bffc4 149.5px,#05fffa 152.5px,#0093ff 155.5px,#007eff 156.5px,#008fff 159.5px,#00d5ff 160.5px,#0ffff0 162px)"></i><i style="left:144px;background:linear-gradient(#67ff98 0px,#8cff73 5.5px,#61ff9e 10.5px,#7dff82 16.5px,#67ff98 26.5px,#26ffd9 35.5px,#50ffaf 39.5px,#74ff8b 43.5px,#5fffa0 50.5px,#80ff7f 54.5px,#bdff42 58.5px,#fff400 70.5px,#fff500 73.5px,#dcff23 80.5px,#a4ff5b 84.5px,#b1ff4e 86.5px,#faff05 89.5px,#ffd200 93.5px,#ffdf00 97.5px,#f9ff06 99.5px,#90ff6f 103.5px,#8bff74 105.5px,#f6ff09 110.5px,#f5ff0a 114.5px,#b4ff4b 123.5px,#d2ff2d 131.5px,#67ff98 139.5px,#41ffbe 144.5px,#56ffa9 148.5px,#28ffd7 151.5px,#0afff5 152.5px,#007fff 156.5px,#0091ff 158.5px,#00acff 159.5px,#0ffff0 160.5px,#55ffaa 162px)"></i><i style="left:145px;background:linear-gradient(#00ecff 0px,#10ffef 2.5px,#75ff8a 6.5px,#a2ff5d 14.5px,#82ff7d 20.5px,#6eff91 24.5px,#25ffda 30.5px,#a3ff5c 41.5px,#8aff75 46.5px,#84ff7b 55.5px,#91ff6e 61.5px,#f9ff06 67.5px,#ffbe00 72.5px,#fff200 77.5px,#eaff15 79.5px,#8aff75 84.5px,#88ff77 87.5px,#adff52 91.5px,#7dff82 99.5px,#62ff9d 103.5px,#9bff64 108.5px,#70ff8f 113.5px,#9bff64 120.5px,#fffb00 125.5px,#f2ff0d 128.5px,#39ffc6 136.5px,#09fff6 140.5px,#22ffdd 144.5px,#5bffa4 147.5px,#48ffb7 150.5px,#13ffec 152.5px,#00edff 153.5px,#009dff 155.5px,#0086ff 156.5px,#0098ff 158.5px,#00b5ff 159.5px,#1affe5 160.5px,#66ff99 162px)"></i><i style="left:146px;background:linear-gradient(#00a7ff 0px,#00e1ff 3.5px,#00fdff 4.5px,#95ff6a 11.5px,#c4ff3b 16.5px,#aaff55 22.5px,#62ff9d 27.5px,#71ff8e 30.5px,#a4ff5b 35.5px,#a5ff5a 43.5px,#72ff8d 48.5px,#6cff93 57.5px,#8dff72 64.5px,#f7ff08 69.5px,#ffe500 74.5px,#ffff00 77.5px,#b8ff47 82.5px,#beff41 87.5px,#c7ff38 90.5px,#8fff70 95.5px,#7dff82 100.5px,#6fff90 103.5px,#ceff31 109.5px,#b9ff46 116.5px,#8dff72 120.5px,#e6ff19 125.5px,#cbff34 128.5px,#81ff7e 132.5px,#68ff97 137.5px,#52ffad 138.5px,#00ecff 140.5px,#0097ff 142.5px,#0077ff 144.5px,#00b0ff 147.5px,#00faff 150.5px,#00f3ff 152.5px,#0093ff 155.5px,#0081ff 156.5px,#009cff 158.5px,#00bdff 159.5px,#26ffd9 160.5px,#7bff84 162px)"></i><i style="left:147px;background:linear-gradient(#4affb5 0px,#89ff76 11.5px,#dcff23 17.5px,#c9ff36 22.5px,#98ff67 30.5px,#adff52 44.5px,#75ff8a 54.5px,#9dff62 57.5px,#c6ff39 60.5px,#beff41 65.5px,#f2ff0d 70.5px,#d1ff2e 74.5px,#8aff75 85.5px,#cfff30 91.5px,#ddff22 96.5px,#daff25 98.5px,#b5ff4a 102.5px,#e5ff1a 107.5px,#fff100 109.5px,#ffc900 112.5px,#ffdb00 114.5px,#efff10 116.5px,#80ff7f 119.5px,#6eff91 121.5px,#bdff42 125.5px,#b3ff4c 129.5px,#71ff8e 138.5px,#20ffdf 143.5px,#00f5ff 150.5px,#00bdff 153.5px,#0071ff 156.5px,#0088ff 158.5px,#00a3ff 159.5px,#05fffa 160.5px,#45ffba 162px)"></i><i style="left:148px;background:linear-gradient(#4dffb2 0px,#97ff68 10.5px,#95ff6a 12.5px,#51ffae 15.5px,#4affb5 18.5px,#90ff6f 22.5px,#a4ff5b 29.5px,#9dff62 35.5px,#97ff68 39.5px,#71ff8e 45.5px,#9fff60 55.5px,#afff50 57.5px,#6aff95 62.5px,#83ff7c 65.5px,#d0ff2f 68.5px,#b8ff47 71.5px,#46ffb9 75.5px,#45ffba 77.5px,#c2ff3d 82.5px,#d7ff28 87.5px,#f9ff06 90.5px,#84ff7b 104.5px,#a4ff5b 112.5px,#9eff61 117.5px,#b2ff4d 121.5px,#b3ff4c 126.5px,#c4ff3b 132.5px,#8eff71 136.5px,#35ffca 141.5px,#17ffe8 148.5px,#00ecff 151.5px,#0068ff 156.5px,#007aff 158.5px,#0091ff 159.5px,#00eeff 160.5px,#24ffdb 162px)"></i><i style="left:149px;background:linear-gradient(#4bffb4 0px,#5affa5 4.5px,#a3ff5c 9.5px,#95ff6a 13.5px,#66ff99 20.5px,#84ff7b 26.5px,#afff50 37.5px,#86ff79 44.5px,#acff53 51.5px,#aaff55 58.5px,#50ffaf 63.5px,#54ffab 66.5px,#8eff71 70.5px,#55ffaa 77.5px,#87ff78 80.5px,#e8ff17 84.5px,#fff500 87.5px,#faff05 91.5px,#ccff33 96.5px,#88ff77 103.5px,#73ff8c 108.5px,#6bff94 112.5px,#81ff7e 121.5px,#5bffa4 126.5px,#73ff8c 134.5px,#12ffed 144.5px,#00f3ff 150.5px,#00c2ff 153.5px,#0069ff 156.5px,#007dff 158.5px,#0097ff 159.5px,#00f4ff 160.5px,#2fffd0 162px)"></i><i style="left:150px;background:linear-gradient(#76ff89 0px,#65ff9a 5.5px,#29ffd6 11.5px,#6bff94 21.5px,#5fffa0 27.5px,#9eff61 32.5px,#8aff75 36.5px,#7eff81 41.5px,#aaff55 50.5px,#8eff71 56.5px,#c2ff3d 61.5px,#45ffba 65.5px,#00fdff 67.5px,#00d6ff 69.5px,#00eaff 71.5px,#0cfff3 72.5px,#62ff9d 74.5px,#8dff72 77.5px,#9fff60 86.5px,#75ff8a 92.5px,#c0ff3f 98.5px,#abff54 104.5px,#6eff91 110.5px,#8eff71 118.5px,#64ff9b 133.5px,#23ffdc 137.5px,#01fffe 145.5px,#09fff6 149.5px,#00eeff 151.5px,#0066ff 156.5px,#007eff 158.5px,#009bff 159.5px,#00feff 160.5px,#42ffbd 162px)"></i><i style="left:151px;background:linear-gradient(#9aff65 0px,#6bff94 7.5px,#b3ff4c 15.5px,#70ff8f 24.5px,#6eff91 32.5px,#4cffb3 37.5px,#7bff84 45.5px,#5fffa0 52.5px,#b7ff48 62.5px,#aeff51 65.5px,#61ff9e 67.5px,#0efff1 69.5px,#00e7ff 71.5px,#00fbff 73.5px,#74ff8b 77.5px,#86ff79 79.5px,#3affc5 86.5px,#48ffb7 91.5px,#92ff6d 95.5px,#fffd00 99.5px,#ffd100 102.5px,#ffe900 106.5px,#fffb00 107.5px,#7cff83 112.5px,#6aff95 115.5px,#6fff90 121.5px,#5effa1 130.5px,#12ffed 140.5px,#00f7ff 144.5px,#17ffe8 148.5px,#01fffe 150.5px,#00b3ff 153.5px,#0071ff 155.5px,#0061ff 156.5px,#0079ff 158.5px,#0095ff 159.5px,#00f7ff 160.5px,#39ffc6 162px)"></i><i style="left:152px;background:linear-gradient(#40ffbf 0px,#74ff8b 5.5px,#e7ff18 11.5px,#ecff13 14.5px,#9aff65 18.5px,#58ffa7 21.5px,#5dffa2 24.5px,#92ff6d 28.5px,#72ff8d 38.5px,#80ff7f 47.5px,#7dff82 52.5px,#91ff6e 59.5px,#61ff9e 72.5px,#8aff75 80.5px,#5bffa4 88.5px,#81ff7e 92.5px,#fffe00 97.5px,#ffc500 101.5px,#ffbe00 105.5px,#f5ff0a 109.5px,#98ff67 113.5px,#8cff73 118.5px,#84ff7b 122.5px,#34ffcb 132.5px,#37ffc8 138.5px,#06fff9 143.5px,#22ffdd 148.5px,#00f3ff 151.5px,#0075ff 155.5px,#0062ff 157.5px,#008aff 159.5px,#00e5ff 160.5px,#1affe5 162px)"></i><i style="left:153px;background:linear-gradient(#00f9ff 0px,#00a8ff 6.5px,#00b6ff 9.5px,#09fff6 13.5px,#4affb5 17.5px,#49ffb6 19.5px,#32ffcd 23.5px,#58ffa7 26.5px,#8aff75 29.5px,#77ff88 32.5px,#4affb5 36.5px,#5bffa4 44.5px,#74ff8b 51.5px,#b5ff4a 57.5px,#b6ff49 66.5px,#8eff71 71.5px,#b7ff48 78.5px,#95ff6a 87.5px,#d8ff27 91.5px,#fffc00 93.5px,#ffe500 96.5px,#fffd00 98.5px,#c4ff3b 102.5px,#dfff20 109.5px,#abff54 119.5px,#a2ff5d 123.5px,#48ffb7 129.5px,#58ffa7 135.5px,#01fffe 144.5px,#00faff 149.5px,#00b7ff 153.5px,#006bff 156.5px,#0083ff 158.5px,#009fff 159.5px,#02fffd 160.5px,#47ffb8 162px)"></i><i style="left:154px;background:linear-gradient(#53ffac 0px,#6cff93 12.5px,#28ffd7 16.5px,#1effe1 22.5px,#4fffb0 26.5px,#88ff77 29.5px,#86ff79 31.5px,#3dffc2 36.5px,#74ff8b 51.5px,#e1ff1e 62.5px,#f6ff09 65.5px,#c9ff36 72.5px,#b8ff47 77.5px,#9cff63 81.5px,#a1ff5e 85.5px,#6eff91 89.5px,#9cff63 92.5px,#dcff23 95.5px,#c1ff3e 98.5px,#8bff74 102.5px,#b6ff49 105.5px,#e7ff18 108.5px,#b4ff4b 112.5px,#94ff6b 116.5px,#88ff77 122.5px,#6eff91 123.5px,#05fffa 125.5px,#00baff 127.5px,#00aaff 129.5px,#00f9ff 132.5px,#71ff8e 136.5px,#68ff97 138.5px,#00f4ff 143.5px,#00daff 147.5px,#00d4ff 151.5px,#0093ff 154.5px,#0065ff 156.5px,#007eff 158.5px,#009dff 159.5px,#02fffd 160.5px,#4bffb4 162px)"></i><i style="left:155px;background:linear-gradient(#06fff9 0px,#1dffe2 11.5px,#37ffc8 13.5px,#50ffaf 24.5px,#7bff84 29.5px,#61ff9e 41.5px,#84ff7b 45.5px,#aeff51 49.5px,#82ff7d 56.5px,#74ff8b 60.5px,#b9ff46 67.5px,#b9ff46 73.5px,#d5ff2a 77.5px,#77ff88 84.5px,#6eff91 87.5px,#9dff62 90.5px,#d7ff28 93.5px,#baff45 96.5px,#97ff68 100.5px,#b3ff4c 103.5px,#e7ff18 106.5px,#dcff23 108.5px,#5affa5 113.5px,#2dffd2 120.5px,#03fffc 122.5px,#00b3ff 126.5px,#00aaff 130.5px,#00dbff 138.5px,#0094ff 144.5px,#00d3ff 150.5px,#00cbff 152.5px,#0060ff 156.5px,#0076ff 158.5px,#0092ff 159.5px,#00f5ff 160.5px,#3affc5 162px)"></i><i style="left:156px;background:linear-gradient(#009aff 0px,#0afff5 12.5px,#6cff93 16.5px,#76ff89 17.5px,#2effd1 22.5px,#3fffc0 28.5px,#32ffcd 32.5px,#49ffb6 37.5px,#47ffb8 42.5px,#9fff60 48.5px,#80ff7f 52.5px,#5cffa3 56.5px,#8eff71 70.5px,#99ff66 74.5px,#bbff44 78.5px,#9fff60 83.5px,#cbff34 89.5px,#fffb00 92.5px,#ffee00 94.5px,#ecff13 96.5px,#bdff42 99.5px,#acff53 106.5px,#4cffb3 112.5px,#41ffbe 114.5px,#89ff76 119.5px,#80ff7f 122.5px,#00f7ff 128.5px,#00d2ff 131.5px,#00f5ff 134.5px,#52ffad 138.5px,#31ffce 141.5px,#00fbff 144.5px,#00f7ff 151.5px,#009bff 154.5px,#0064ff 156.5px,#007eff 158.5px,#009eff 159.5px,#06fff9 160.5px,#53ffac 162px)"></i><i style="left:157px;background:linear-gradient(#59ffa6 0px,#86ff79 8.5px,#82ff7d 10.5px,#5cffa3 13.5px,#76ff89 17.5px,#49ffb6 19.5px,#03fffc 21.5px,#00d9ff 23.5px,#00e6ff 26.5px,#08fff7 29.5px,#58ffa7 37.5px,#72ff8d 42.5px,#87ff78 47.5px,#3dffc2 54.5px,#7cff83 63.5px,#89ff76 70.5px,#72ff8d 76.5px,#bbff44 84.5px,#ecff13 90.5px,#fffe00 91.5px,#ffdd00 93.5px,#fff300 95.5px,#a9ff56 99.5px,#95ff6a 104.5px,#12ffed 108.5px,#00e6ff 110.5px,#00edff 112.5px,#03fffc 113.5px,#5affa5 117.5px,#7aff85 123.5px,#10ffef 132.5px,#30ffcf 139.5px,#16ffe9 145.5px,#01fffe 150.5px,#00bcff 153.5px,#0075ff 155.5px,#0062ff 156.5px,#007bff 158.5px,#009bff 159.5px,#02fffd 160.5px,#4effb1 162px)"></i><i style="left:158px;background:linear-gradient(#6cff93 0px,#92ff6d 7.5px,#77ff88 11.5px,#55ffaa 14.5px,#77ff88 17.5px,#1bffe4 23.5px,#34ffcb 27.5px,#60ff9f 33.5px,#57ffa8 42.5px,#66ff99 47.5px,#48ffb7 53.5px,#d9ff26 63.5px,#ceff31 67.5px,#6aff95 75.5px,#78ff87 79.5px,#afff50 84.5px,#abff54 89.5px,#f5ff0a 93.5px,#e1ff1e 95.5px,#60ff9f 99.5px,#38ffc7 103.5px,#44ffbb 106.5px,#aaff55 115.5px,#8aff75 119.5px,#5fffa0 121.5px,#60ff9f 123.5px,#97ff68 126.5px,#7eff81 129.5px,#37ffc8 134.5px,#1fffe0 140.5px,#24ffdb 145.5px,#00feff 147.5px,#00bbff 151.5px,#0080ff 154.5px,#0057ff 156.5px,#0072ff 158.5px,#0090ff 159.5px,#00f5ff 160.5px,#3effc1 162px)"></i><i style="left:159px;background:linear-gradient(#00a4ff 0px,#00dbff 3.5px,#00f9ff 4.5px,#4affb5 7.5px,#79ff86 12.5px,#61ff9e 15.5px,#39ffc6 19.5px,#47ffb8 24.5px,#58ffa7 31.5px,#64ff9b 37.5px,#48ffb7 40.5px,#28ffd7 43.5px,#51ffae 49.5px,#5affa5 53.5px,#b0ff4f 60.5px,#f9ff06 64.5px,#e7ff18 68.5px,#a5ff5a 75.5px,#6dff92 80.5px,#aaff55 89.5px,#e6ff19 93.5px,#d0ff2f 95.5px,#00ffff 101.5px,#00d9ff 103.5px,#00e9ff 105.5px,#09fff6 106.5px,#79ff86 111.5px,#a3ff5c 117.5px,#9dff62 122.5px,#b5ff4a 125.5px,#6dff92 132.5px,#5cffa3 136.5px,#0dfff2 141.5px,#00efff 146.5px,#00a3ff 153.5px,#0059ff 156.5px,#0071ff 158.5px,#008eff 159.5px,#00f1ff 160.5px,#38ffc7 162px)"></i><i style="left:160px;background:linear-gradient(#76ff89 0px,#59ffa6 6.5px,#87ff78 11.5px,#5bffa4 15.5px,#38ffc7 18.5px,#00f9ff 24.5px,#0afff5 27.5px,#37ffc8 30.5px,#98ff67 44.5px,#6bff94 47.5px,#14ffeb 51.5px,#1effe1 54.5px,#5fffa0 60.5px,#d5ff2a 65.5px,#e1ff1e 70.5px,#bdff42 74.5px,#86ff79 78.5px,#8eff71 81.5px,#e9ff16 87.5px,#f8ff07 94.5px,#3dffc2 101.5px,#2effd1 104.5px,#50ffaf 110.5px,#33ffcc 115.5px,#68ff97 121.5px,#46ffb9 128.5px,#47ffb8 131.5px,#78ff87 134.5px,#6bff94 136.5px,#00fdff 140.5px,#00d0ff 143.5px,#00ecff 149.5px,#00d0ff 152.5px,#0095ff 154.5px,#0033ff 156.5px,#0013ff 159.5px,#0080ff 162px)"></i><i style="left:161px;background:linear-gradient(#6cff93 0px,#96ff69 10.5px,#41ffbe 18.5px,#4cffb3 25.5px,#38ffc7 29.5px,#5effa1 34.5px,#62ff9d 40.5px,#7fff80 46.5px,#70ff8f 52.5px,#96ff69 56.5px,#7eff81 61.5px,#92ff6d 69.5px,#c6ff39 73.5px,#a1ff5e 80.5px,#bfff40 85.5px,#88ff77 94.5px,#14ffeb 99.5px,#14ffeb 101.5px,#4effb1 105.5px,#36ffc9 108.5px,#01fffe 110.5px,#0098ff 114.5px,#0057ff 121.5px,#0070ff 123.5px,#09fff6 127.5px,#62ff9d 130.5px,#5fffa0 134.5px,#0dfff2 141.5px,#0dfff2 148.5px,#00f4ff 150.5px,#00dbff 151.5px,#0037ff 154.5px,#0000fc 156.5px,#0014ff 159.5px,#00aaff 162px)"></i><i style="left:162px;background:linear-gradient(#5bffa4 0px,#66ff99 7.5px,#40ffbf 22.5px,#6dff92 34.5px,#36ffc9 39.5px,#60ff9f 49.5px,#7eff81 53.5px,#b5ff4a 58.5px,#c6ff39 65.5px,#a2ff5d 73.5px,#8aff75 74.5px,#1bffe4 76.5px,#00e4ff 77.5px,#009bff 79.5px,#008eff 81.5px,#00fbff 87.5px,#39ffc6 90.5px,#77ff88 93.5px,#76ff89 95.5px,#12ffed 99.5px,#22ffdd 101.5px,#9bff64 105.5px,#27ffd8 110.5px,#2bffd4 112.5px,#6fff90 116.5px,#74ff8b 117.5px,#36ffc9 121.5px,#39ffc6 127.5px,#00fbff 131.5px,#04fffb 134.5px,#39ffc6 136.5px,#01fffe 141.5px,#03fffc 147.5px,#0091ff 151.5px,#004cff 155.5px,#004aff 156.5px,#0084ff 158.5px,#00acff 159.5px,#1cffe3 160.5px,#77ff88 162px)"></i><i style="left:163px;background:linear-gradient(#81ff7e 0px,#5bffa4 9.5px,#6fff90 13.5px,#00f8ff 19.5px,#00efff 21.5px,#0efff1 23.5px,#33ffcc 25.5px,#3fffc0 31.5px,#5affa5 35.5px,#50ffaf 40.5px,#7bff84 45.5px,#35ffca 52.5px,#54ffab 55.5px,#aeff51 61.5px,#b0ff4f 65.5px,#a0ff5f 71.5px,#7aff85 78.5px,#3cffc3 85.5px,#44ffbb 89.5px,#76ff89 91.5px,#d2ff2d 94.5px,#c8ff37 96.5px,#93ff6c 98.5px,#83ff7c 105.5px,#28ffd7 110.5px,#38ffc7 113.5px,#6cff93 117.5px,#48ffb7 124.5px,#66ff99 130.5px,#1bffe4 138.5px,#00f6ff 140.5px,#00dcff 144.5px,#00ebff 148.5px,#00c1ff 152.5px,#006dff 155.5px,#005eff 156.5px,#0080ff 158.5px,#00a3ff 159.5px,#0efff1 160.5px,#61ff9e 162px)"></i><i style="left:164px;background:linear-gradient(#4cffb3 0px,#22ffdd 5.5px,#6dff92 9.5px,#a6ff59 12.5px,#6cff93 16.5px,#0bfff4 21.5px,#04fffb 29.5px,#5fffa0 37.5px,#64ff9b 46.5px,#38ffc7 49.5px,#12ffed 53.5px,#9eff61 64.5px,#a3ff5c 70.5px,#c9ff36 77.5px,#7dff82 83.5px,#62ff9d 89.5px,#96ff69 92.5px,#bdff42 94.5px,#b9ff46 95.5px,#32ffcd 99.5px,#21ffde 101.5px,#54ffab 105.5px,#31ffce 112.5px,#43ffbc 118.5px,#29ffd6 129.5px,#24ffdb 135.5px,#00f8ff 139.5px,#00ddff 143.5px,#00f5ff 147.5px,#00ceff 151.5px,#0052ff 156.5px,#006cff 158.5px,#008aff 159.5px,#00eeff 160.5px,#38ffc7 162px)"></i><i style="left:165px;background:linear-gradient(#acff53 0px,#88ff77 5.5px,#89ff76 9.5px,#1bffe4 15.5px,#1cffe3 19.5px,#23ffdc 24.5px,#02fffd 31.5px,#59ffa6 39.5px,#21ffde 48.5px,#28ffd7 53.5px,#85ff7a 59.5px,#8eff71 65.5px,#79ff86 71.5px,#b1ff4e 77.5px,#99ff66 83.5px,#87ff78 87.5px,#7cff83 90.5px,#ccff33 94.5px,#aaff55 96.5px,#5fffa0 99.5px,#60ff9f 106.5px,#1fffe0 112.5px,#4dffb2 123.5px,#05fffa 134.5px,#00ecff 148.5px,#00b2ff 152.5px,#004aff 156.5px,#0060ff 158.5px,#0079ff 159.5px,#00d7ff 160.5px,#1affe5 162px)"></i><i style="left:166px;background:linear-gradient(#39ffc6 0px,#5affa5 9.5px,#1fffe0 15.5px,#51ffae 21.5px,#02fffd 28.5px,#10ffef 36.5px,#45ffba 43.5px,#51ffae 52.5px,#85ff7a 58.5px,#44ffbb 67.5px,#5dffa2 74.5px,#5fffa0 84.5px,#6eff91 89.5px,#a5ff5a 91.5px,#f4ff0b 93.5px,#fffa00 95.5px,#7dff82 99.5px,#55ffaa 103.5px,#3affc5 110.5px,#23ffdc 114.5px,#6bff94 124.5px,#48ffb7 127.5px,#00f9ff 131.5px,#00f7ff 134.5px,#27ffd8 138.5px,#00f1ff 144.5px,#0089ff 153.5px,#0048ff 156.5px,#0065ff 158.5px,#0085ff 159.5px,#00ebff 160.5px,#39ffc6 162px)"></i><i style="left:167px;background:linear-gradient(#00d7ff 0px,#00f6ff 3.5px,#29ffd6 5.5px,#5fffa0 7.5px,#3affc5 13.5px,#73ff8c 21.5px,#4effb1 24.5px,#00ffff 28.5px,#18ffe7 33.5px,#43ffbc 43.5px,#41ffbe 50.5px,#6bff94 59.5px,#35ffca 65.5px,#22ffdd 68.5px,#43ffbc 74.5px,#3affc5 79.5px,#73ff8c 88.5px,#a4ff5b 90.5px,#fbff04 92.5px,#ffc300 94.5px,#ffcc00 95.5px,#fff200 96.5px,#4dffb2 100.5px,#0afff5 103.5px,#0dfff2 106.5px,#28ffd7 110.5px,#19ffe6 115.5px,#5dffa2 122.5px,#3cffc3 127.5px,#0cfff3 133.5px,#25ffda 139.5px,#00fdff 142.5px,#00b5ff 146.5px,#0082ff 152.5px,#0003ff 155.5px,#0000e9 157.5px,#0001ff 159.5px,#0052ff 160.5px,#008fff 162px)"></i><i style="left:168px;background:linear-gradient(#2dffd2 0px,#38ffc7 6.5px,#00feff 11.5px,#33ffcc 15.5px,#5cffa3 19.5px,#60ff9f 23.5px,#21ffde 29.5px,#3affc5 37.5px,#19ffe6 44.5px,#73ff8c 53.5px,#6fff90 58.5px,#36ffc9 62.5px,#4bffb4 68.5px,#3bffc4 76.5px,#3dffc2 80.5px,#99ff66 88.5px,#d1ff2e 90.5px,#fcff03 91.5px,#ffad00 93.5px,#ff9d00 94.5px,#ffad00 95.5px,#ffda00 96.5px,#e9ff16 97.5px,#7eff81 99.5px,#3fffc0 101.5px,#22ffdd 104.5px,#40ffbf 109.5px,#16ffe9 115.5px,#5cffa3 121.5px,#47ffb8 124.5px,#01fffe 129.5px,#12ffed 138.5px,#00f3ff 141.5px,#00c2ff 145.5px,#00b0ff 150.5px,#0022ff 155.5px,#0022ff 157.5px,#0063ff 159.5px,#00cfff 160.5px,#20ffdf 162px)"></i><i style="left:169px;background:linear-gradient(#46ffb9 0px,#66ff99 7.5px,#3bffc4 13.5px,#4affb5 16.5px,#03fffc 20.5px,#0bfff4 24.5px,#4cffb3 27.5px,#33ffcc 31.5px,#43ffbc 36.5px,#00f9ff 42.5px,#10ffef 45.5px,#48ffb7 49.5px,#48ffb7 53.5px,#26ffd9 57.5px,#5affa5 65.5px,#2dffd2 71.5px,#23ffdc 76.5px,#17ffe8 80.5px,#5affa5 86.5px,#8dff72 88.5px,#efff10 90.5px,#ff9200 92.5px,#ff6b00 93.5px,#ff6600 94.5px,#ff8800 95.5px,#f4ff0b 97.5px,#85ff7a 99.5px,#57ffa8 101.5px,#4dffb2 107.5px,#09fff6 115.5px,#23ffdc 119.5px,#41ffbe 122.5px,#00fdff 129.5px,#0bfff4 137.5px,#00ecff 139.5px,#0094ff 144.5px,#00a6ff 148.5px,#00b9ff 151.5px,#0097ff 153.5px,#003fff 156.5px,#0054ff 158.5px,#006fff 159.5px,#00d2ff 160.5px,#1bffe4 162px)"></i><i style="left:170px;background:linear-gradient(#88ff77 0px,#94ff6b 6.5px,#47ffb8 12.5px,#4effb1 15.5px,#78ff87 20.5px,#40ffbf 31.5px,#17ffe8 39.5px,#39ffc6 45.5px,#4effb1 50.5px,#2effd1 59.5px,#50ffaf 65.5px,#2dffd2 71.5px,#34ffcb 76.5px,#2affd5 81.5px,#4dffb2 86.5px,#8bff74 88.5px,#fffb00 90.5px,#ff6800 92.5px,#ff3a00 93.5px,#ff3300 94.5px,#ff5700 95.5px,#ffe600 97.5px,#d0ff2f 98.5px,#6fff90 100.5px,#4cffb3 102.5px,#2cffd3 108.5px,#09fff6 115.5px,#12ffed 121.5px,#00f2ff 137.5px,#0098ff 142.5px,#0073ff 144.5px,#0081ff 147.5px,#00b4ff 151.5px,#0097ff 153.5px,#0042ff 156.5px,#0059ff 158.5px,#0076ff 159.5px,#00daff 160.5px,#25ffda 162px)"></i><i style="left:171px;background:linear-gradient(#a5ff5a 0px,#75ff8a 6.5px,#40ffbf 11.5px,#58ffa7 16.5px,#5bffa4 21.5px,#41ffbe 30.5px,#00fdff 36.5px,#0efff1 41.5px,#32ffcd 47.5px,#1cffe3 52.5px,#28ffd7 56.5px,#07fff8 58.5px,#0095ff 63.5px,#00a0ff 66.5px,#00f5ff 69.5px,#20ffdf 70.5px,#40ffbf 77.5px,#3affc5 83.5px,#67ff98 88.5px,#82ff7d 89.5px,#f1ff0e 91.5px,#ff9c00 93.5px,#ff8c00 94.5px,#ffa100 95.5px,#f0ff0f 97.5px,#73ff8c 99.5px,#2cffd3 101.5px,#14ffeb 104.5px,#00f0ff 119.5px,#00deff 126.5px,#0bfff4 133.5px,#13ffec 138.5px,#00f3ff 140.5px,#009dff 144.5px,#00bdff 150.5px,#008fff 153.5px,#0053ff 155.5px,#0046ff 156.5px,#0050ff 157.5px,#0098ff 159.5px,#09fff6 160.5px,#5fffa0 162px)"></i><i style="left:172px;background:linear-gradient(#79ff86 0px,#49ffb6 7.5px,#42ffbd 14.5px,#11ffee 22.5px,#2cffd3 32.5px,#00fcff 43.5px,#00e1ff 48.5px,#0bfff4 52.5px,#1effe1 57.5px,#00feff 63.5px,#00c0ff 69.5px,#00bcff 73.5px,#00f7ff 76.5px,#3fffc0 79.5px,#40ffbf 83.5px,#75ff8a 87.5px,#feff01 91.5px,#ffa200 93.5px,#ff9700 94.5px,#ffb900 95.5px,#fdff02 96.5px,#64ff9b 98.5px,#3affc5 99.5px,#2effd1 100.5px,#4bffb4 107.5px,#00f8ff 119.5px,#00c1ff 126.5px,#09fff6 132.5px,#0ffff0 138.5px,#04fffb 139.5px,#0039ff 143.5px,#0015ff 145.5px,#002aff 147.5px,#008eff 151.5px,#0094ff 152.5px,#0045ff 155.5px,#003cff 156.5px,#004aff 157.5px,#009cff 159.5px,#14ffeb 160.5px,#6eff91 162px)"></i><i style="left:173px;background:linear-gradient(#48ffb7 0px,#33ffcc 6.5px,#4dffb2 12.5px,#25ffda 18.5px,#24ffdb 19.5px,#00fbff 21.5px,#0071ff 29.5px,#004bff 32.5px,#0060ff 34.5px,#00ceff 37.5px,#00fcff 38.5px,#1effe1 39.5px,#00efff 48.5px,#08fff7 62.5px,#32ffcd 67.5px,#00ffff 69.5px,#00eeff 71.5px,#08fff7 73.5px,#55ffaa 77.5px,#2affd5 85.5px,#48ffb7 87.5px,#96ff69 89.5px,#fff100 91.5px,#ff8500 93.5px,#ff7a00 94.5px,#ff9c00 95.5px,#ffdf00 96.5px,#d1ff2e 97.5px,#58ffa7 99.5px,#24ffdb 101.5px,#25ffda 109.5px,#00faff 115.5px,#0ffff0 119.5px,#1fffe0 123.5px,#00faff 127.5px,#04fffb 134.5px,#00ebff 137.5px,#00d3ff 138.5px,#0037ff 141.5px,#0000ff 143.5px,#0002ff 144.5px,#003cff 146.5px,#00c1ff 149.5px,#0097ff 152.5px,#003aff 155.5px,#001eff 159.5px,#0061ff 160.5px,#008eff 162px)"></i><i style="left:174px;background:linear-gradient(#33ffcc 0px,#26ffd9 6.5px,#34ffcb 11.5px,#00ffff 15.5px,#1bffe4 22.5px,#01fffe 24.5px,#008aff 28.5px,#003fff 31.5px,#0044ff 33.5px,#00f3ff 40.5px,#15ffea 42.5px,#00e8ff 47.5px,#0bfff4 52.5px,#2bffd4 62.5px,#22ffdd 70.5px,#4effb1 81.5px,#2cffd3 86.5px,#3effc1 88.5px,#84ff7b 90.5px,#fffb00 92.5px,#ffc000 93.5px,#ffa500 94.5px,#ffb700 95.5px,#ffeb00 96.5px,#98ff67 98.5px,#57ffa8 100.5px,#10ffef 104.5px,#03fffc 117.5px,#33ffcc 122.5px,#03fffc 129.5px,#19ffe6 137.5px,#0cfff3 138.5px,#00beff 140.5px,#0066ff 143.5px,#006bff 145.5px,#00afff 149.5px,#00a7ff 151.5px,#0074ff 153.5px,#001cff 155.5px,#0000fd 156.5px,#0000f3 159.5px,#0065ff 162px)"></i><i style="left:175px;background:linear-gradient(#00e4ff 0px,#09fff6 4.5px,#34ffcb 8.5px,#24ffdb 10.5px,#01fffe 11.5px,#00aeff 14.5px,#00a5ff 16.5px,#09fff6 20.5px,#3bffc4 22.5px,#4bffb4 25.5px,#04fffb 31.5px,#18ffe7 34.5px,#39ffc6 37.5px,#00faff 46.5px,#13ffec 50.5px,#21ffde 52.5px,#02fffd 54.5px,#00acff 58.5px,#00a9ff 60.5px,#00eeff 63.5px,#22ffdd 65.5px,#00f7ff 69.5px,#00e8ff 75.5px,#09fff6 78.5px,#31ffce 82.5px,#15ffea 87.5px,#35ffca 89.5px,#8dff72 91.5px,#faff05 93.5px,#ffeb00 94.5px,#fff500 95.5px,#e5ff1a 96.5px,#7eff81 98.5px,#61ff9e 99.5px,#44ffbb 104.5px,#03fffc 108.5px,#00d5ff 112.5px,#00d9ff 123.5px,#00ceff 128.5px,#00e3ff 131.5px,#00d7ff 135.5px,#00eaff 139.5px,#00acff 144.5px,#009eff 151.5px,#006fff 153.5px,#001eff 155.5px,#0009ff 156.5px,#0018ff 158.5px,#002dff 159.5px,#0087ff 160.5px,#00c7ff 162px)"></i><i style="left:176px;background:linear-gradient(#00b2ff 0px,#08fff7 5.5px,#34ffcb 12.5px,#3effc1 15.5px,#1effe1 21.5px,#00ffff 27.5px,#1fffe0 34.5px,#40ffbf 39.5px,#2bffd4 44.5px,#43ffbc 51.5px,#35ffca 54.5px,#08fff7 56.5px,#00e2ff 59.5px,#18ffe7 62.5px,#0dfff2 78.5px,#2effd1 85.5px,#33ffcc 89.5px,#66ff99 92.5px,#4bffb4 94.5px,#07fff8 96.5px,#00ccff 98.5px,#00ceff 99.5px,#03fffc 101.5px,#35ffca 103.5px,#0bfff4 108.5px,#0cfff3 113.5px,#00eeff 115.5px,#00b9ff 119.5px,#00c4ff 127.5px,#00c0ff 130.5px,#00abff 132.5px,#00d6ff 135.5px,#00c4ff 138.5px,#007cff 143.5px,#008aff 150.5px,#0002ff 155.5px,#0000f7 157.5px,#001fff 159.5px,#0079ff 160.5px,#00b8ff 162px)"></i><i style="left:177px;background:linear-gradient(#0000d3 0px,#0000fc 3.5px,#005fff 6.5px,#00f0ff 9.5px,#57ffa8 11.5px,#77ff88 16.5px,#1effe1 24.5px,#03fffc 25.5px,#00e4ff 28.5px,#00fbff 30.5px,#21ffde 32.5px,#3cffc3 48.5px,#17ffe8 55.5px,#00eeff 56.5px,#009aff 58.5px,#0084ff 60.5px,#00bbff 62.5px,#00eeff 63.5px,#25ffda 64.5px,#42ffbd 69.5px,#43ffbc 77.5px,#18ffe7 88.5px,#3bffc4 91.5px,#61ff9e 94.5px,#49ffb6 96.5px,#0dfff2 99.5px,#00f8ff 106.5px,#32ffcd 113.5px,#00f6ff 117.5px,#00d2ff 120.5px,#00c9ff 126.5px,#00a1ff 129.5px,#005eff 131.5px,#0050ff 133.5px,#0091ff 136.5px,#00c4ff 138.5px,#0090ff 142.5px,#0064ff 145.5px,#0062ff 148.5px,#0081ff 152.5px,#002fff 156.5px,#003fff 158.5px,#005bff 159.5px,#00bdff 160.5px,#06fff9 162px)"></i><i style="left:178px;background:linear-gradient(#001cff 0px,#0056ff 2.5px,#00f9ff 5.5px,#5bffa4 7.5px,#43ffbc 15.5px,#2fffd0 16.5px,#00feff 17.5px,#0086ff 20.5px,#005cff 22.5px,#0060ff 24.5px,#00afff 27.5px,#00f7ff 29.5px,#23ffdc 31.5px,#29ffd6 38.5px,#3dffc2 43.5px,#06fff9 52.5px,#1cffe3 58.5px,#12ffed 61.5px,#2fffd0 64.5px,#5dffa2 79.5px,#01fffe 86.5px,#0efff1 89.5px,#42ffbd 91.5px,#afff50 94.5px,#b2ff4d 95.5px,#53ffac 98.5px,#04fffb 100.5px,#00b5ff 103.5px,#00bfff 106.5px,#00fcff 111.5px,#00f3ff 118.5px,#00a4ff 130.5px,#00e3ff 137.5px,#00a2ff 141.5px,#006bff 144.5px,#0080ff 152.5px,#002cff 156.5px,#0049ff 158.5px,#0068ff 159.5px,#00cdff 160.5px,#19ffe6 162px)"></i><i style="left:179px;background:linear-gradient(#00fcff 0px,#47ffb8 10.5px,#2bffd4 15.5px,#09fff6 16.5px,#0035ff 21.5px,#0010ff 23.5px,#001fff 25.5px,#0061ff 27.5px,#01fffe 30.5px,#1effe1 31.5px,#14ffeb 39.5px,#25ffda 43.5px,#00f4ff 51.5px,#06fff9 56.5px,#30ffcf 61.5px,#13ffec 70.5px,#33ffcc 75.5px,#52ffad 79.5px,#0dfff2 88.5px,#21ffde 90.5px,#b3ff4c 94.5px,#bcff43 95.5px,#86ff79 97.5px,#2dffd2 100.5px,#00f8ff 103.5px,#00d0ff 108.5px,#00ebff 116.5px,#00abff 123.5px,#00a9ff 131.5px,#00e1ff 137.5px,#008aff 143.5px,#0094ff 150.5px,#006bff 153.5px,#002aff 156.5px,#0048ff 158.5px,#0067ff 159.5px,#00ccff 160.5px,#17ffe8 162px)"></i><i style="left:180px;background:linear-gradient(#66ff99 0px,#66ff99 10.5px,#78ff87 14.5px,#2effd1 22.5px,#2effd1 30.5px,#31ffce 34.5px,#00f8ff 38.5px,#00fcff 42.5px,#00faff 55.5px,#15ffea 61.5px,#09fff6 63.5px,#00b2ff 67.5px,#009fff 70.5px,#00bdff 72.5px,#0cfff3 74.5px,#26ffd9 79.5px,#0ffff0 89.5px,#23ffdc 90.5px,#b7ff48 93.5px,#d9ff26 94.5px,#ddff22 95.5px,#9bff64 97.5px,#58ffa7 99.5px,#0efff1 104.5px,#00c2ff 107.5px,#00d3ff 109.5px,#00efff 110.5px,#00e6ff 115.5px,#00adff 120.5px,#00d7ff 126.5px,#00bdff 132.5px,#00e1ff 138.5px,#00b1ff 144.5px,#00a2ff 150.5px,#0076ff 153.5px,#0032ff 156.5px,#0057ff 158.5px,#007cff 159.5px,#00e7ff 160.5px,#3affc5 162px)"></i><i style="left:181px;background:linear-gradient(#13ffec 0px,#42ffbd 3.5px,#62ff9d 4.5px,#42ffbd 15.5px,#4bffb4 22.5px,#33ffcc 27.5px,#39ffc6 34.5px,#0ffff0 40.5px,#17ffe8 46.5px,#19ffe6 56.5px,#00fcff 60.5px,#00abff 62.5px,#009aff 64.5px,#00cbff 66.5px,#00f0ff 67.5px,#33ffcc 69.5px,#03fffc 76.5px,#00dcff 78.5px,#0090ff 82.5px,#0058ff 87.5px,#0064ff 89.5px,#0085ff 90.5px,#13ffec 92.5px,#5fffa0 93.5px,#92ff6d 94.5px,#a0ff5f 95.5px,#5effa1 98.5px,#15ffea 101.5px,#00f5ff 104.5px,#0098ff 107.5px,#0091ff 109.5px,#00d2ff 111.5px,#00e0ff 114.5px,#00d3ff 121.5px,#00feff 127.5px,#00c5ff 135.5px,#00d5ff 142.5px,#0099ff 152.5px,#003bff 156.5px,#0043ff 157.5px,#0089ff 159.5px,#00f9ff 160.5px,#51ffae 162px)"></i><i style="left:182px;background:linear-gradient(#00ceff 0px,#00f3ff 2.5px,#18ffe7 3.5px,#6bff94 5.5px,#50ffaf 9.5px,#22ffdd 13.5px,#4dffb2 20.5px,#1bffe4 33.5px,#44ffbb 44.5px,#2cffd3 51.5px,#28ffd7 56.5px,#0dfff2 61.5px,#31ffce 68.5px,#00feff 78.5px,#25ffda 84.5px,#00f9ff 86.5px,#00efff 89.5px,#05fffa 90.5px,#91ff6e 93.5px,#a4ff5b 94.5px,#77ff88 96.5px,#00fcff 100.5px,#00deff 103.5px,#00ddff 106.5px,#00d7ff 108.5px,#00ebff 110.5px,#00e3ff 114.5px,#00fdff 119.5px,#00f2ff 124.5px,#00fbff 128.5px,#00aaff 134.5px,#00b3ff 142.5px,#00b0ff 148.5px,#00a8ff 151.5px,#0068ff 154.5px,#003fff 156.5px,#0047ff 157.5px,#0087ff 159.5px,#00f1ff 160.5px,#43ffbc 162px)"></i><i style="left:183px;background:linear-gradient(#2affd5 0px,#62ff9d 7.5px,#00fdff 12.5px,#00edff 15.5px,#10ffef 20.5px,#12ffed 26.5px,#3cffc3 37.5px,#44ffbb 40.5px,#29ffd6 42.5px,#09fff6 43.5px,#00e3ff 46.5px,#0bfff4 49.5px,#24ffdb 52.5px,#08fff7 59.5px,#23ffdc 66.5px,#1bffe4 72.5px,#28ffd7 76.5px,#0ffff0 84.5px,#00e6ff 86.5px,#00d0ff 89.5px,#00ddff 90.5px,#00feff 91.5px,#50ffaf 93.5px,#5cffa3 94.5px,#14ffeb 97.5px,#00ffff 99.5px,#00d6ff 102.5px,#00f2ff 116.5px,#03fffc 119.5px,#00d2ff 123.5px,#00ffff 126.5px,#00e5ff 130.5px,#00b8ff 134.5px,#00c8ff 140.5px,#0092ff 145.5px,#00baff 151.5px,#004bff 155.5px,#003eff 156.5px,#0048ff 157.5px,#0090ff 159.5px,#02fffd 160.5px,#59ffa6 162px)"></i><i style="left:184px;background:linear-gradient(#1cffe3 0px,#3affc5 7.5px,#00faff 12.5px,#00f1ff 16.5px,#00fdff 21.5px,#0dfff2 27.5px,#14ffeb 32.5px,#22ffdd 36.5px,#4fffb0 40.5px,#30ffcf 43.5px,#00faff 46.5px,#09fff6 54.5px,#08fff7 58.5px,#10ffef 65.5px,#1cffe3 78.5px,#00e7ff 79.5px,#0078ff 82.5px,#0041ff 85.5px,#0047ff 88.5px,#0080ff 90.5px,#00ebff 92.5px,#34ffcb 94.5px,#23ffdc 96.5px,#00feff 100.5px,#00dfff 118.5px,#00faff 125.5px,#00c6ff 135.5px,#00daff 139.5px,#0098ff 145.5px,#00aaff 149.5px,#003fff 151.5px,#0000ff 153.5px,#0000df 155.5px,#0000f5 157.5px,#004dff 159.5px,#00c4ff 160.5px,#1dffe2 162px)"></i><i style="left:185px;background:linear-gradient(#12ffed 0px,#32ffcd 5.5px,#49ffb6 9.5px,#2effd1 12.5px,#05fffa 13.5px,#00b0ff 16.5px,#00b5ff 19.5px,#04fffb 22.5px,#05fffa 34.5px,#17ffe8 39.5px,#3affc5 43.5px,#36ffc9 44.5px,#00fdff 46.5px,#00ddff 49.5px,#05fffa 54.5px,#00faff 62.5px,#08fff7 71.5px,#29ffd6 81.5px,#00f1ff 87.5px,#00fbff 89.5px,#72ff8d 94.5px,#6bff94 95.5px,#09fff6 98.5px,#003aff 109.5px,#0045ff 111.5px,#00aaff 114.5px,#00d8ff 115.5px,#00ebff 118.5px,#00fdff 129.5px,#00c3ff 133.5px,#00f7ff 138.5px,#00c4ff 145.5px,#00a5ff 150.5px,#006dff 153.5px,#0034ff 155.5px,#0028ff 156.5px,#0034ff 157.5px,#0083ff 159.5px,#00f9ff 160.5px,#54ffab 162px)"></i><i style="left:186px;background:linear-gradient(#2affd5 0px,#4cffb3 8.5px,#3cffc3 19.5px,#1fffe0 26.5px,#49ffb6 33.5px,#10ffef 39.5px,#31ffce 46.5px,#00feff 51.5px,#00b3ff 57.5px,#00c6ff 61.5px,#08fff7 66.5px,#29ffd6 70.5px,#26ffd9 76.5px,#41ffbe 81.5px,#1dffe2 87.5px,#40ffbf 90.5px,#a1ff5e 93.5px,#aaff55 94.5px,#7cff83 96.5px,#07fff8 100.5px,#0066ff 104.5px,#0033ff 107.5px,#0050ff 111.5px,#00beff 122.5px,#00c6ff 126.5px,#00b0ff 130.5px,#00f1ff 138.5px,#00b9ff 144.5px,#00b1ff 148.5px,#0065ff 153.5px,#0022ff 156.5px,#0046ff 158.5px,#006bff 159.5px,#00d6ff 160.5px,#28ffd7 162px)"></i><i style="left:187px;background:linear-gradient(#59ffa6 0px,#4cffb3 7.5px,#16ffe9 11.5px,#00f4ff 13.5px,#00deff 17.5px,#0cfff3 23.5px,#49ffb6 27.5px,#5fffa0 32.5px,#2dffd2 37.5px,#00fcff 39.5px,#00f8ff 42.5px,#11ffee 45.5px,#00f6ff 50.5px,#00b7ff 56.5px,#07fff8 63.5px,#0ffff0 64.5px,#00ebff 65.5px,#007fff 67.5px,#004fff 69.5px,#005cff 72.5px,#00c3ff 78.5px,#00f5ff 80.5px,#17ffe8 82.5px,#22ffdd 87.5px,#51ffae 90.5px,#aaff55 93.5px,#aeff51 94.5px,#76ff89 96.5px,#12ffed 99.5px,#00f8ff 102.5px,#0cfff3 112.5px,#00e8ff 121.5px,#00d6ff 126.5px,#00bdff 131.5px,#00d8ff 138.5px,#009aff 144.5px,#0090ff 151.5px,#004eff 154.5px,#0022ff 156.5px,#0031ff 158.5px,#004aff 159.5px,#00aaff 160.5px,#00f1ff 162px)"></i><i style="left:188px;background:linear-gradient(#84ff7b 0px,#4fffb0 8.5px,#47ffb8 12.5px,#31ffce 13.5px,#06fff9 14.5px,#00adff 17.5px,#00b1ff 19.5px,#00ecff 21.5px,#18ffe7 22.5px,#62ff9d 24.5px,#76ff89 30.5px,#24ffdb 42.5px,#00fbff 46.5px,#18ffe7 52.5px,#00efff 57.5px,#00d2ff 60.5px,#0053ff 65.5px,#005aff 67.5px,#00a0ff 69.5px,#10ffef 71.5px,#05fffa 88.5px,#4fffb0 91.5px,#99ff66 93.5px,#a6ff59 94.5px,#97ff68 95.5px,#12ffed 99.5px,#00feff 102.5px,#2affd5 110.5px,#00efff 115.5px,#00b4ff 121.5px,#00c8ff 123.5px,#00f1ff 126.5px,#00f6ff 133.5px,#00f6ff 138.5px,#00a7ff 143.5px,#00a1ff 149.5px,#0073ff 152.5px,#0058ff 153.5px,#0021ff 154.5px,#0000f4 155.5px,#0000d3 157.5px,#0000e4 159.5px,#0032ff 160.5px,#0065ff 162px)"></i></div><div class="hm" style="left:330px;top:243px;width:167px;height:162px"><i style="left:0px;background:linear-gradient(#0000e4 0px,#0002ff 5.5px,#002aff 9.5px,#0027ff 11.5px,#0056ff 14.5px,#003eff 17.5px,#0000f1 20.5px,#0000b7 23.5px,#0000ec 28.5px,#0000da 33.5px,#0000d5 36.5px,#0000a5 40.5px,#0000ea 47.5px,#0000ed 55.5px,#0000b2 58.5px,#000085 60.5px,#000082 65.5px,#0000b1 71.5px,#0000d6 77.5px,#0000fb 83.5px,#0021ff 99.5px,#0023ff 101.5px,#0048ff 103.5px,#0033ff 105.5px,#0000ee 107.5px,#0000a6 109.5px,#00009d 118.5px,#00008a 121.5px,#0000d5 125.5px,#0000dc 128.5px,#0000bf 130.5px,#0000d8 136.5px,#0000f3 139.5px,#0000a5 146.5px,#000080 154.5px,#000080 162px)"></i><i style="left:1px;background:linear-gradient(#0023ff 0px,#0009ff 7.5px,#0000f4 14.5px,#0000b4 20.5px,#0000cc 23.5px,#0005ff 26.5px,#0014ff 29.5px,#0000f7 32.5px,#0000ae 38.5px,#0000c4 42.5px,#0000f1 47.5px,#0000e2 51.5px,#0006ff 54.5px,#0000fe 56.5px,#000080 61.5px,#000090 65.5px,#0006ff 75.5px,#001fff 95.5px,#0027ff 101.5px,#0000f3 106.5px,#0000c8 111.5px,#0000cf 119.5px,#000094 124.5px,#0000ad 131.5px,#0000a5 136.5px,#0000cf 140.5px,#0000de 149.5px,#000092 157.5px,#0000a1 162px)"></i><i style="left:2px;background:linear-gradient(#0044ff 0px,#0012ff 4.5px,#001bff 7.5px,#0000fc 10.5px,#0002ff 17.5px,#000dff 23.5px,#002fff 25.5px,#0023ff 27.5px,#0000f1 29.5px,#0000a6 33.5px,#0000a2 37.5px,#0000ec 45.5px,#0000ca 52.5px,#000086 63.5px,#0000a9 67.5px,#0000ff 71.5px,#002dff 74.5px,#0007ff 89.5px,#0000eb 94.5px,#0000fe 96.5px,#0025ff 99.5px,#0000f8 105.5px,#0000c5 110.5px,#0000c9 113.5px,#0007ff 116.5px,#000cff 119.5px,#0000f1 121.5px,#0000b1 125.5px,#0000bb 132.5px,#0000bf 136.5px,#0000f6 139.5px,#0000a0 154.5px,#0000dd 159.5px,#0000e2 162px)"></i><i style="left:3px;background:linear-gradient(#0040ff 0px,#000bff 17.5px,#0029ff 25.5px,#0000f9 30.5px,#0000e3 34.5px,#0004ff 40.5px,#0000ce 46.5px,#000bff 50.5px,#004aff 53.5px,#0048ff 55.5px,#0000fa 58.5px,#0000a0 61.5px,#000091 63.5px,#0000e5 72.5px,#0000f9 81.5px,#0010ff 85.5px,#0000ec 87.5px,#0000bc 93.5px,#0000c6 96.5px,#0000ed 98.5px,#0000c7 108.5px,#0006ff 118.5px,#0000fd 122.5px,#0014ff 125.5px,#0003ff 126.5px,#0000d6 128.5px,#0000cd 140.5px,#00008e 146.5px,#0000be 152.5px,#0000bd 156.5px,#0000b0 162px)"></i><i style="left:4px;background:linear-gradient(#002aff 0px,#0052ff 7.5px,#0000fe 15.5px,#001aff 21.5px,#0020ff 28.5px,#0000f9 43.5px,#0000e6 48.5px,#0000f7 49.5px,#005eff 53.5px,#0066ff 55.5px,#0041ff 57.5px,#0000f2 59.5px,#0000a4 61.5px,#000095 64.5px,#0000e4 74.5px,#0000e6 79.5px,#0000f5 80.5px,#0043ff 83.5px,#003aff 85.5px,#0000fd 87.5px,#0000be 89.5px,#0000c9 100.5px,#0000c1 106.5px,#0002ff 111.5px,#0035ff 116.5px,#0034ff 122.5px,#0000fb 129.5px,#0000a3 136.5px,#00009a 142.5px,#000092 146.5px,#0000d1 150.5px,#0000c1 153.5px,#000088 158.5px,#000080 162px)"></i><i style="left:5px;background:linear-gradient(#006eff 0px,#003cff 7.5px,#0008ff 13.5px,#0030ff 22.5px,#000dff 29.5px,#0000c7 37.5px,#0003ff 50.5px,#0000ea 57.5px,#0000b4 62.5px,#0000c6 68.5px,#0000fe 72.5px,#0030ff 76.5px,#0041ff 83.5px,#0000f9 88.5px,#0000d5 90.5px,#000cff 103.5px,#0000f1 107.5px,#002aff 110.5px,#001bff 113.5px,#0000fd 115.5px,#0028ff 124.5px,#0000f4 130.5px,#0000bc 135.5px,#0000c6 141.5px,#0000a0 146.5px,#0000b2 151.5px,#0000b6 162px)"></i><i style="left:6px;background:linear-gradient(#004bff 0px,#001fff 8.5px,#0000fd 14.5px,#0000f1 26.5px,#0000a5 38.5px,#0000f9 54.5px,#0000bf 60.5px,#0000d3 62.5px,#0000fc 64.5px,#0000f2 67.5px,#0000df 68.5px,#0006ff 71.5px,#0056ff 75.5px,#0065ff 81.5px,#0002ff 88.5px,#0000f3 91.5px,#000dff 101.5px,#0010ff 110.5px,#0000f0 124.5px,#0000d7 131.5px,#0000ff 139.5px,#0000d6 145.5px,#0002ff 148.5px,#0000bd 155.5px,#0000c2 159.5px,#0000db 162px)"></i><i style="left:7px;background:linear-gradient(#005dff 0px,#004eff 6.5px,#0007ff 12.5px,#002aff 19.5px,#0000f7 27.5px,#0000a7 42.5px,#0000c3 47.5px,#0007ff 52.5px,#0000f2 56.5px,#0000bd 60.5px,#0000e2 70.5px,#0000f8 71.5px,#0065ff 75.5px,#008aff 80.5px,#006cff 83.5px,#0022ff 86.5px,#0000f5 94.5px,#0000f7 104.5px,#0011ff 107.5px,#004bff 112.5px,#0016ff 120.5px,#0000fb 123.5px,#0000d8 132.5px,#0007ff 139.5px,#0000db 148.5px,#0000c9 152.5px,#000099 158.5px,#000098 162px)"></i><i style="left:8px;background:linear-gradient(#004aff 0px,#0051ff 5.5px,#0009ff 11.5px,#0027ff 18.5px,#0000f3 22.5px,#0000d1 26.5px,#0000f1 35.5px,#000089 45.5px,#0000a5 49.5px,#0000e6 55.5px,#0000e1 63.5px,#000bff 70.5px,#0044ff 72.5px,#0079ff 74.5px,#0085ff 82.5px,#004eff 86.5px,#0038ff 91.5px,#0000f3 95.5px,#0000c8 100.5px,#0000ea 106.5px,#001bff 109.5px,#0040ff 114.5px,#0019ff 126.5px,#0000ee 130.5px,#0000e6 135.5px,#0000ff 137.5px,#0023ff 139.5px,#0001ff 141.5px,#00008e 144.5px,#000080 146.5px,#000090 152.5px,#000080 158.5px,#000080 162px)"></i><i style="left:9px;background:linear-gradient(#0088ff 0px,#007dff 5.5px,#000fff 12.5px,#0000e2 18.5px,#0000be 26.5px,#0000e7 33.5px,#0000fd 37.5px,#0000c6 42.5px,#000098 46.5px,#0000b6 52.5px,#0000e3 59.5px,#0000f3 66.5px,#000fff 69.5px,#0085ff 74.5px,#008fff 78.5px,#0077ff 82.5px,#0035ff 86.5px,#0027ff 91.5px,#0000fc 94.5px,#0000c7 99.5px,#0000d0 103.5px,#0005ff 107.5px,#000fff 111.5px,#000cff 124.5px,#0017ff 132.5px,#0038ff 134.5px,#005eff 137.5px,#0045ff 139.5px,#0000f7 141.5px,#000088 144.5px,#000085 162px)"></i><i style="left:10px;background:linear-gradient(#15ffea 0px,#03fffc 1.5px,#00b3ff 3.5px,#007fff 4.5px,#0035ff 8.5px,#0020ff 12.5px,#000fff 18.5px,#0000f3 26.5px,#0000f6 39.5px,#0000e9 44.5px,#0000bd 50.5px,#0000e7 69.5px,#0012ff 71.5px,#009bff 75.5px,#00b8ff 78.5px,#00abff 81.5px,#0064ff 84.5px,#0021ff 87.5px,#0021ff 92.5px,#0000f2 99.5px,#0000f1 104.5px,#0016ff 110.5px,#0000f2 116.5px,#0000e6 126.5px,#000dff 130.5px,#0067ff 134.5px,#0072ff 137.5px,#0049ff 140.5px,#0000f5 143.5px,#0000b6 146.5px,#000093 151.5px,#000090 157.5px,#000080 162px)"></i><i style="left:11px;background:linear-gradient(#0043ff 0px,#000dff 7.5px,#005bff 15.5px,#0022ff 22.5px,#0062ff 25.5px,#0062ff 27.5px,#0008ff 32.5px,#0000c1 38.5px,#0000c1 45.5px,#00009c 50.5px,#0000dc 58.5px,#0000e1 69.5px,#000dff 71.5px,#00a0ff 75.5px,#00bcff 78.5px,#00a6ff 81.5px,#0054ff 84.5px,#0019ff 86.5px,#0009ff 89.5px,#0026ff 97.5px,#0000f7 103.5px,#0007ff 106.5px,#003aff 111.5px,#001eff 117.5px,#0001ff 123.5px,#0020ff 131.5px,#002fff 137.5px,#0041ff 140.5px,#0000fc 144.5px,#00009e 148.5px,#000083 150.5px,#00009b 154.5px,#00008f 157.5px,#0000a5 162px)"></i><i style="left:12px;background:linear-gradient(#004eff 0px,#001cff 9.5px,#000dff 19.5px,#0005ff 22.5px,#003aff 26.5px,#0031ff 33.5px,#0000fc 36.5px,#0000c1 40.5px,#0000ad 50.5px,#0000d9 55.5px,#0000ef 60.5px,#0000dc 67.5px,#0000f7 70.5px,#003dff 72.5px,#0083ff 74.5px,#009fff 77.5px,#0085ff 82.5px,#0053ff 84.5px,#0009ff 86.5px,#0000e2 90.5px,#000cff 96.5px,#003aff 106.5px,#006aff 112.5px,#0055ff 116.5px,#0023ff 121.5px,#005bff 133.5px,#0034ff 137.5px,#0045ff 141.5px,#001eff 144.5px,#0004ff 145.5px,#000081 152.5px,#00008a 160.5px,#00008e 162px)"></i><i style="left:13px;background:linear-gradient(#005fff 0px,#003cff 6.5px,#001eff 11.5px,#0037ff 17.5px,#0000f8 22.5px,#0000e0 25.5px,#000cff 28.5px,#003fff 31.5px,#0032ff 34.5px,#0000f7 37.5px,#0000c7 41.5px,#0000eb 52.5px,#00009d 58.5px,#0000a6 61.5px,#0004ff 65.5px,#0013ff 68.5px,#0002ff 70.5px,#004cff 74.5px,#003fff 82.5px,#0000f9 86.5px,#000dff 97.5px,#0047ff 104.5px,#0087ff 111.5px,#007dff 115.5px,#0025ff 120.5px,#0028ff 130.5px,#004aff 135.5px,#0032ff 140.5px,#0001ff 143.5px,#0000c8 147.5px,#000094 155.5px,#0000bd 162px)"></i><i style="left:14px;background:linear-gradient(#0079ff 0px,#0065ff 5.5px,#002fff 11.5px,#003aff 18.5px,#001cff 22.5px,#0096ff 27.5px,#00a8ff 29.5px,#008eff 31.5px,#0042ff 33.5px,#0008ff 36.5px,#0000c2 40.5px,#0000c4 44.5px,#0000fc 51.5px,#0000d2 58.5px,#0007ff 69.5px,#005eff 74.5px,#003dff 83.5px,#0019ff 86.5px,#002bff 93.5px,#003fff 100.5px,#0062ff 113.5px,#004bff 117.5px,#001cff 119.5px,#0000f9 131.5px,#0047ff 138.5px,#002eff 141.5px,#0000f0 144.5px,#0000ce 147.5px,#0000c0 162px)"></i><i style="left:15px;background:linear-gradient(#00acff 0px,#0075ff 6.5px,#0012ff 14.5px,#0009ff 17.5px,#0069ff 22.5px,#005cff 25.5px,#0029ff 29.5px,#0012ff 33.5px,#0000eb 35.5px,#0000c1 55.5px,#0000fd 64.5px,#0000ef 70.5px,#0004ff 71.5px,#0079ff 75.5px,#0094ff 79.5px,#0083ff 82.5px,#003bff 86.5px,#0030ff 93.5px,#001aff 99.5px,#002fff 111.5px,#002fff 116.5px,#0038ff 119.5px,#000fff 126.5px,#0000e9 131.5px,#0000ff 133.5px,#0053ff 138.5px,#0051ff 140.5px,#0000f6 144.5px,#0000d6 146.5px,#0000e6 153.5px,#0000a3 162px)"></i><i style="left:16px;background:linear-gradient(#0050ff 0px,#0064ff 6.5px,#000aff 15.5px,#0017ff 23.5px,#0021ff 28.5px,#0000f0 32.5px,#0000e2 37.5px,#0000fc 41.5px,#0036ff 43.5px,#0032ff 45.5px,#001aff 46.5px,#0000f3 58.5px,#0001ff 65.5px,#0000d5 70.5px,#0002ff 72.5px,#005aff 75.5px,#009aff 80.5px,#0087ff 83.5px,#0034ff 87.5px,#0007ff 100.5px,#002bff 106.5px,#0027ff 111.5px,#0062ff 116.5px,#0000ff 130.5px,#0007ff 140.5px,#0000b8 146.5px,#0000d2 153.5px,#0000e7 158.5px,#0000ff 162px)"></i><i style="left:17px;background:linear-gradient(#002dff 0px,#0047ff 7.5px,#0008ff 21.5px,#001bff 29.5px,#0000fc 37.5px,#0011ff 47.5px,#0018ff 53.5px,#0000fb 59.5px,#0000f7 66.5px,#0000e3 70.5px,#000eff 72.5px,#0062ff 76.5px,#008bff 81.5px,#006cff 83.5px,#001dff 86.5px,#0018ff 87.5px,#004cff 91.5px,#0042ff 97.5px,#0039ff 102.5px,#0043ff 109.5px,#002cff 115.5px,#0037ff 119.5px,#0000f5 125.5px,#0000e3 132.5px,#0007ff 140.5px,#0000ab 146.5px,#0000b8 154.5px,#0008ff 159.5px,#0021ff 162px)"></i><i style="left:18px;background:linear-gradient(#0038ff 0px,#002cff 5.5px,#0052ff 8.5px,#0013ff 21.5px,#0000f3 23.5px,#0000cc 25.5px,#0000dc 33.5px,#0000f8 40.5px,#0000e6 53.5px,#000dff 58.5px,#0018ff 62.5px,#0000f4 67.5px,#0008ff 69.5px,#0088ff 73.5px,#00a7ff 76.5px,#0085ff 81.5px,#000bff 86.5px,#0011ff 89.5px,#0043ff 95.5px,#0050ff 101.5px,#0067ff 105.5px,#0047ff 110.5px,#001bff 113.5px,#003cff 119.5px,#0003ff 125.5px,#0000f1 135.5px,#0011ff 140.5px,#0000ea 143.5px,#0000ca 145.5px,#0006ff 149.5px,#0000f7 152.5px,#0000b5 156.5px,#0000d8 162px)"></i><i style="left:19px;background:linear-gradient(#005cff 0px,#0068ff 5.5px,#00abff 9.5px,#00abff 12.5px,#0067ff 16.5px,#002fff 19.5px,#0023ff 24.5px,#0000f3 27.5px,#0000da 35.5px,#0000be 45.5px,#0007ff 60.5px,#0000e7 63.5px,#0000b0 67.5px,#0000c3 69.5px,#000bff 71.5px,#006bff 73.5px,#009dff 75.5px,#0088ff 81.5px,#0031ff 87.5px,#002cff 95.5px,#005bff 102.5px,#0037ff 107.5px,#0014ff 112.5px,#0026ff 120.5px,#0000fe 127.5px,#0000f3 134.5px,#002aff 140.5px,#0000f8 144.5px,#0000e8 145.5px,#000dff 147.5px,#0032ff 149.5px,#0024ff 151.5px,#0000f4 153.5px,#0000b3 156.5px,#0000d5 162px)"></i><i style="left:20px;background:linear-gradient(#003dff 0px,#0062ff 6.5px,#00a8ff 12.5px,#0085ff 16.5px,#0043ff 21.5px,#0055ff 25.5px,#0000f8 32.5px,#0000c9 41.5px,#0000de 47.5px,#0000c4 53.5px,#0000f8 59.5px,#0000e8 65.5px,#0004ff 69.5px,#0036ff 71.5px,#00b1ff 74.5px,#00dbff 76.5px,#00dbff 79.5px,#00a6ff 83.5px,#004dff 87.5px,#0022ff 91.5px,#0059ff 99.5px,#000fff 106.5px,#0000ec 111.5px,#0011ff 116.5px,#002bff 118.5px,#000eff 126.5px,#0006ff 140.5px,#0000ba 148.5px,#0000cc 155.5px,#0000f0 162px)"></i><i style="left:21px;background:linear-gradient(#0008ff 0px,#0020ff 6.5px,#0051ff 11.5px,#0047ff 19.5px,#0046ff 24.5px,#0000fa 30.5px,#0000e9 39.5px,#0000f8 46.5px,#0000d2 52.5px,#0005ff 57.5px,#001aff 61.5px,#0002ff 68.5px,#0037ff 70.5px,#00d3ff 74.5px,#00ebff 76.5px,#00d2ff 79.5px,#0042ff 86.5px,#002bff 94.5px,#0037ff 97.5px,#0084ff 101.5px,#007fff 104.5px,#002dff 107.5px,#0012ff 114.5px,#002aff 124.5px,#0029ff 136.5px,#0013ff 141.5px,#0000ec 143.5px,#0000a1 146.5px,#0000a4 151.5px,#0000da 162px)"></i><i style="left:22px;background:linear-gradient(#0031ff 0px,#0008ff 3.5px,#0030ff 8.5px,#0052ff 12.5px,#0016ff 25.5px,#0000f3 30.5px,#0000e8 48.5px,#0000d9 54.5px,#0000e4 60.5px,#0000d9 65.5px,#0000fe 68.5px,#0047ff 71.5px,#009dff 74.5px,#00b7ff 77.5px,#0074ff 83.5px,#002eff 86.5px,#0024ff 87.5px,#0044ff 90.5px,#0033ff 94.5px,#005fff 107.5px,#0029ff 117.5px,#0041ff 124.5px,#0041ff 131.5px,#0052ff 136.5px,#0034ff 139.5px,#0000fe 141.5px,#0000ac 145.5px,#0000bf 151.5px,#0008ff 157.5px,#002aff 162px)"></i><i style="left:23px;background:linear-gradient(#0000fc 0px,#0014ff 5.5px,#005fff 10.5px,#005cff 13.5px,#0022ff 19.5px,#0001ff 30.5px,#0010ff 36.5px,#0000ed 41.5px,#0000c2 48.5px,#0000c2 49.5px,#0000f7 51.5px,#0010ff 54.5px,#0000ef 57.5px,#0000b3 62.5px,#0002ff 67.5px,#0088ff 73.5px,#008eff 76.5px,#006bff 83.5px,#0035ff 86.5px,#0044ff 91.5px,#005aff 96.5px,#0043ff 103.5px,#0099ff 107.5px,#00b0ff 112.5px,#008bff 116.5px,#005aff 120.5px,#005cff 126.5px,#0039ff 134.5px,#0034ff 139.5px,#0000f6 142.5px,#0000a0 146.5px,#0000a6 152.5px,#0000e3 162px)"></i><i style="left:24px;background:linear-gradient(#006dff 0px,#0026ff 4.5px,#001cff 18.5px,#0042ff 24.5px,#0014ff 32.5px,#0000f8 42.5px,#0000ea 49.5px,#0000e7 54.5px,#0000bf 59.5px,#0009ff 68.5px,#003dff 71.5px,#007fff 74.5px,#006dff 81.5px,#000bff 86.5px,#0017ff 89.5px,#006bff 96.5px,#0048ff 104.5px,#0055ff 105.5px,#009fff 108.5px,#0095ff 111.5px,#0052ff 115.5px,#004dff 121.5px,#0018ff 129.5px,#0000f7 133.5px,#0006ff 136.5px,#002dff 139.5px,#0000fb 143.5px,#0000b8 147.5px,#0000ac 152.5px,#0007ff 160.5px,#000bff 162px)"></i><i style="left:25px;background:linear-gradient(#0021ff 0px,#003aff 7.5px,#001fff 19.5px,#0086ff 25.5px,#0085ff 27.5px,#000cff 33.5px,#0017ff 36.5px,#0033ff 39.5px,#0000ff 43.5px,#0000e1 59.5px,#0009ff 63.5px,#002dff 68.5px,#0042ff 71.5px,#0082ff 75.5px,#0097ff 82.5px,#0039ff 87.5px,#002eff 90.5px,#0066ff 94.5px,#0060ff 100.5px,#002cff 106.5px,#0056ff 113.5px,#0076ff 117.5px,#004aff 121.5px,#000eff 126.5px,#0000fe 133.5px,#0028ff 140.5px,#0000fb 143.5px,#0000cf 146.5px,#0000af 155.5px,#0000e0 162px)"></i><i style="left:26px;background:linear-gradient(#0015ff 0px,#0018ff 7.5px,#0014ff 12.5px,#004eff 19.5px,#0003ff 30.5px,#0000f1 42.5px,#0000ca 58.5px,#0006ff 64.5px,#0057ff 71.5px,#008eff 74.5px,#008bff 82.5px,#0021ff 88.5px,#0010ff 92.5px,#004fff 95.5px,#0047ff 102.5px,#003aff 109.5px,#0063ff 119.5px,#0000fe 130.5px,#0006ff 134.5px,#0052ff 140.5px,#0019ff 146.5px,#0000fe 151.5px,#0000b5 157.5px,#0000b6 162px)"></i><i style="left:27px;background:linear-gradient(#0002ff 0px,#0036ff 17.5px,#0062ff 20.5px,#0020ff 30.5px,#002cff 37.5px,#0000f6 43.5px,#0000c6 54.5px,#0000da 65.5px,#0006ff 69.5px,#0083ff 74.5px,#007dff 78.5px,#0048ff 83.5px,#000dff 86.5px,#001cff 102.5px,#0047ff 108.5px,#0085ff 111.5px,#006dff 114.5px,#0051ff 116.5px,#0047ff 123.5px,#0000fa 131.5px,#0000e9 134.5px,#000fff 137.5px,#0041ff 140.5px,#0000f5 153.5px,#0000e7 162px)"></i><i style="left:28px;background:linear-gradient(#000dff 0px,#0018ff 7.5px,#0037ff 12.5px,#0009ff 18.5px,#005dff 33.5px,#003bff 38.5px,#0002ff 42.5px,#0000fa 48.5px,#0000db 63.5px,#0000db 67.5px,#0008ff 70.5px,#0084ff 74.5px,#00a7ff 77.5px,#0086ff 82.5px,#002cff 86.5px,#0014ff 94.5px,#0041ff 105.5px,#0070ff 108.5px,#008eff 110.5px,#0080ff 112.5px,#0062ff 114.5px,#0055ff 119.5px,#0056ff 126.5px,#0000fb 132.5px,#0000ee 136.5px,#0018ff 140.5px,#0000fb 144.5px,#0000af 149.5px,#0000ae 153.5px,#0000c1 158.5px,#0000b7 162px)"></i><i style="left:29px;background:linear-gradient(#0000fc 0px,#0000f5 7.5px,#0036ff 14.5px,#0007ff 18.5px,#002eff 26.5px,#0070ff 29.5px,#0068ff 32.5px,#003dff 34.5px,#0000f6 42.5px,#0000f5 46.5px,#001fff 52.5px,#0000f4 58.5px,#0000df 65.5px,#000bff 69.5px,#00a8ff 74.5px,#00b3ff 80.5px,#008fff 83.5px,#0042ff 86.5px,#0038ff 91.5px,#004bff 107.5px,#006cff 112.5px,#0048ff 119.5px,#005cff 127.5px,#0024ff 131.5px,#0019ff 141.5px,#0000f9 145.5px,#000082 156.5px,#000080 162px)"></i><i style="left:30px;background:linear-gradient(#0007ff 0px,#0000f0 7.5px,#000cff 10.5px,#002fff 15.5px,#0013ff 26.5px,#0000ea 30.5px,#0000dd 36.5px,#0000d3 46.5px,#0001ff 53.5px,#0000e2 62.5px,#0006ff 68.5px,#0045ff 71.5px,#009fff 74.5px,#009dff 78.5px,#007bff 82.5px,#0022ff 86.5px,#004cff 102.5px,#003bff 108.5px,#005cff 116.5px,#005bff 124.5px,#003cff 131.5px,#003dff 140.5px,#0000fd 147.5px,#000081 157.5px,#000080 162px)"></i><i style="left:31px;background:linear-gradient(#0010ff 0px,#0000e9 7.5px,#000aff 12.5px,#003fff 16.5px,#002cff 20.5px,#0024ff 25.5px,#0000f2 28.5px,#0000b9 32.5px,#0000c5 38.5px,#0000f2 44.5px,#0009ff 57.5px,#0011ff 69.5px,#003cff 71.5px,#009aff 74.5px,#00b3ff 77.5px,#00a2ff 81.5px,#0059ff 84.5px,#0023ff 86.5px,#0019ff 90.5px,#0067ff 109.5px,#005dff 128.5px,#005dff 135.5px,#0050ff 140.5px,#0010ff 146.5px,#0000fb 150.5px,#0000af 157.5px,#0000fe 162px)"></i><i style="left:32px;background:linear-gradient(#0021ff 0px,#0000f6 5.5px,#0000ef 9.5px,#0017ff 15.5px,#0055ff 22.5px,#0043ff 26.5px,#0000f5 31.5px,#0000c1 37.5px,#0000dc 42.5px,#000cff 47.5px,#001eff 51.5px,#0000f3 55.5px,#0000d6 59.5px,#0000eb 68.5px,#0000fb 69.5px,#005bff 72.5px,#00abff 75.5px,#00d0ff 80.5px,#00aeff 83.5px,#0050ff 87.5px,#0056ff 94.5px,#008aff 102.5px,#009cff 108.5px,#0061ff 117.5px,#0084ff 126.5px,#0061ff 132.5px,#007bff 140.5px,#0011ff 147.5px,#0000e0 154.5px,#0000b6 162px)"></i><i style="left:33px;background:linear-gradient(#0018ff 0px,#0000fc 6.5px,#003eff 13.5px,#0040ff 18.5px,#0045ff 22.5px,#001cff 32.5px,#0000f4 37.5px,#000bff 45.5px,#001bff 50.5px,#0000f6 54.5px,#0000e2 58.5px,#0011ff 62.5px,#002fff 67.5px,#004cff 68.5px,#03fffc 71.5px,#4bffb4 73.5px,#6dff92 76.5px,#6cff93 82.5px,#44ffbb 84.5px,#00f3ff 86.5px,#0082ff 88.5px,#006eff 89.5px,#0070ff 96.5px,#0074ff 101.5px,#0092ff 107.5px,#0068ff 114.5px,#0080ff 117.5px,#0082ff 120.5px,#0095ff 125.5px,#005cff 140.5px,#0011ff 146.5px,#0000ec 153.5px,#0000ab 162px)"></i><i style="left:34px;background:linear-gradient(#005dff 0px,#0020ff 4.5px,#0024ff 9.5px,#003bff 19.5px,#0018ff 30.5px,#0001ff 37.5px,#0037ff 46.5px,#0000fa 52.5px,#0000e6 56.5px,#0000fe 58.5px,#0042ff 62.5px,#0045ff 67.5px,#006cff 68.5px,#00c4ff 69.5px,#22ffdd 70.5px,#9bff64 72.5px,#d7ff28 74.5px,#fffa00 81.5px,#e0ff1f 83.5px,#9bff64 85.5px,#5bffa4 86.5px,#02fffd 87.5px,#00a9ff 88.5px,#007fff 89.5px,#0055ff 97.5px,#0072ff 105.5px,#00b1ff 120.5px,#008eff 131.5px,#0078ff 134.5px,#009aff 140.5px,#002bff 149.5px,#0000f9 151.5px,#0000b2 154.5px,#000080 160.5px,#000080 162px)"></i><i style="left:35px;background:linear-gradient(#004aff 0px,#000eff 7.5px,#001fff 18.5px,#0053ff 24.5px,#0000ff 30.5px,#000cff 36.5px,#0024ff 42.5px,#0000fa 47.5px,#0000af 52.5px,#0000b9 55.5px,#000aff 59.5px,#002cff 62.5px,#003eff 68.5px,#03fffc 73.5px,#23ffdc 75.5px,#02fffd 83.5px,#006bff 89.5px,#0044ff 95.5px,#006aff 106.5px,#00beff 114.5px,#00c3ff 123.5px,#0088ff 128.5px,#0049ff 136.5px,#0056ff 141.5px,#001eff 145.5px,#0018ff 149.5px,#0000ed 152.5px,#0000c2 156.5px,#0000ce 162px)"></i><i style="left:36px;background:linear-gradient(#0000f9 0px,#0012ff 6.5px,#002eff 11.5px,#0012ff 17.5px,#003cff 24.5px,#0000f6 30.5px,#0000f4 34.5px,#000eff 41.5px,#0000dd 49.5px,#0000ca 54.5px,#0009ff 59.5px,#0040ff 65.5px,#0057ff 69.5px,#00a6ff 72.5px,#00e0ff 74.5px,#00f1ff 77.5px,#00d7ff 82.5px,#007dff 87.5px,#0059ff 96.5px,#0071ff 103.5px,#00a0ff 109.5px,#00bbff 115.5px,#00d7ff 120.5px,#0030ff 133.5px,#0026ff 141.5px,#0017ff 143.5px,#003cff 148.5px,#0000f5 154.5px,#0000ea 157.5px,#0002ff 162px)"></i><i style="left:37px;background:linear-gradient(#0003ff 0px,#002eff 9.5px,#0032ff 14.5px,#001dff 21.5px,#0021ff 26.5px,#0036ff 28.5px,#0000f4 31.5px,#0000db 33.5px,#0000d1 44.5px,#0000f9 46.5px,#002fff 49.5px,#0000f4 52.5px,#0000d9 53.5px,#000cff 60.5px,#0026ff 65.5px,#00b7ff 73.5px,#00deff 76.5px,#00d9ff 81.5px,#0068ff 88.5px,#0070ff 95.5px,#008eff 105.5px,#008eff 113.5px,#00acff 118.5px,#0098ff 125.5px,#007eff 131.5px,#003dff 140.5px,#0000fb 143.5px,#0000de 145.5px,#0001ff 148.5px,#0033ff 152.5px,#002aff 158.5px,#0039ff 162px)"></i><i style="left:38px;background:linear-gradient(#0000dd 0px,#000bff 7.5px,#0019ff 21.5px,#0010ff 28.5px,#0000ea 31.5px,#0000af 37.5px,#0000c7 44.5px,#000aff 58.5px,#0022ff 65.5px,#00a5ff 70.5px,#00c9ff 73.5px,#0097ff 82.5px,#0041ff 86.5px,#0042ff 91.5px,#0085ff 101.5px,#0094ff 108.5px,#00adff 116.5px,#00a8ff 124.5px,#00a3ff 130.5px,#0063ff 139.5px,#0003ff 143.5px,#0000d0 146.5px,#0008ff 151.5px,#0027ff 160.5px,#0027ff 162px)"></i><i style="left:39px;background:linear-gradient(#000bff 0px,#0029ff 7.5px,#000cff 13.5px,#002aff 20.5px,#000bff 30.5px,#0000ef 32.5px,#0000a0 37.5px,#0000ad 40.5px,#0000ea 45.5px,#000aff 56.5px,#0052ff 63.5px,#0065ff 69.5px,#00e2ff 74.5px,#00d4ff 77.5px,#007bff 83.5px,#0041ff 86.5px,#00b8ff 112.5px,#0099ff 120.5px,#00b6ff 126.5px,#0088ff 137.5px,#005dff 140.5px,#0001ff 144.5px,#0000e3 147.5px,#000aff 159.5px,#000fff 162px)"></i><i style="left:40px;background:linear-gradient(#0049ff 0px,#004eff 7.5px,#0025ff 12.5px,#0027ff 18.5px,#0004ff 24.5px,#0000f8 33.5px,#0000ca 38.5px,#0003ff 47.5px,#0009ff 52.5px,#005cff 59.5px,#00c8ff 71.5px,#00f4ff 74.5px,#00c6ff 78.5px,#00adff 82.5px,#0066ff 86.5px,#0091ff 91.5px,#0055ff 98.5px,#007dff 103.5px,#00dcff 110.5px,#00caff 114.5px,#00aaff 118.5px,#00beff 124.5px,#0076ff 132.5px,#0071ff 140.5px,#0000f9 146.5px,#0000d5 151.5px,#000aff 162px)"></i><i style="left:41px;background:linear-gradient(#005aff 0px,#0044ff 5.5px,#004bff 13.5px,#003bff 17.5px,#0000f8 22.5px,#0000f1 28.5px,#0000f2 34.5px,#0000dd 39.5px,#000eff 44.5px,#0018ff 47.5px,#0004ff 51.5px,#0011ff 56.5px,#0075ff 70.5px,#00e4ff 74.5px,#00eaff 77.5px,#00a0ff 83.5px,#006eff 86.5px,#00a9ff 92.5px,#0069ff 99.5px,#007aff 102.5px,#00e5ff 108.5px,#00e9ff 112.5px,#00bdff 118.5px,#00b1ff 124.5px,#0071ff 130.5px,#0087ff 140.5px,#002eff 145.5px,#0000fb 148.5px,#0000ce 153.5px,#0000e5 162px)"></i><i style="left:42px;background:linear-gradient(#000cff 0px,#0056ff 6.5px,#0046ff 10.5px,#0025ff 16.5px,#0000f3 34.5px,#0000df 40.5px,#000fff 45.5px,#0000f4 50.5px,#0000e3 54.5px,#0006ff 58.5px,#0052ff 66.5px,#007bff 70.5px,#00e0ff 74.5px,#00dfff 82.5px,#0090ff 87.5px,#00c2ff 95.5px,#0089ff 101.5px,#00a9ff 104.5px,#00fdff 108.5px,#0bfff4 112.5px,#00cfff 121.5px,#00a7ff 131.5px,#00b3ff 139.5px,#0000fc 151.5px,#0000d9 153.5px,#0000c7 157.5px,#0000a4 162px)"></i><i style="left:43px;background:linear-gradient(#002aff 0px,#004bff 7.5px,#0001ff 17.5px,#001cff 27.5px,#0000f0 38.5px,#000dff 44.5px,#000aff 48.5px,#0000e2 54.5px,#0004ff 59.5px,#00a0ff 71.5px,#00e1ff 74.5px,#00e6ff 80.5px,#02fffd 81.5px,#0ffff0 83.5px,#00f8ff 84.5px,#009eff 87.5px,#0097ff 90.5px,#00b5ff 96.5px,#009aff 101.5px,#00beff 104.5px,#00feff 107.5px,#20ffdf 111.5px,#00f2ff 116.5px,#009eff 126.5px,#00abff 133.5px,#00beff 140.5px,#0043ff 147.5px,#0000f2 155.5px,#0000e8 156.5px,#0001ff 157.5px,#0051ff 160.5px,#005cff 162px)"></i><i style="left:44px;background:linear-gradient(#0000cb 0px,#0000dd 5.5px,#000eff 9.5px,#0024ff 22.5px,#0000f7 36.5px,#0000e3 41.5px,#000dff 45.5px,#001eff 48.5px,#0000f8 52.5px,#0000e1 55.5px,#0000f0 56.5px,#0052ff 59.5px,#0062ff 62.5px,#0046ff 66.5px,#0071ff 70.5px,#00f2ff 74.5px,#2cffd3 77.5px,#1fffe0 81.5px,#00eeff 83.5px,#008cff 86.5px,#007aff 89.5px,#00a4ff 98.5px,#00f0ff 111.5px,#00c9ff 120.5px,#00a2ff 129.5px,#00eaff 133.5px,#00e5ff 136.5px,#00c5ff 138.5px,#00aeff 141.5px,#0030ff 146.5px,#0012ff 150.5px,#0042ff 158.5px,#0074ff 160.5px,#007eff 162px)"></i><i style="left:45px;background:linear-gradient(#0012ff 0px,#0005ff 8.5px,#0025ff 21.5px,#0016ff 30.5px,#000dff 42.5px,#0019ff 50.5px,#0000ee 56.5px,#0000f8 61.5px,#0048ff 66.5px,#00a3ff 70.5px,#00efff 72.5px,#35ffca 74.5px,#5affa5 77.5px,#4affb5 81.5px,#15ffea 83.5px,#00ecff 84.5px,#008fff 87.5px,#0087ff 90.5px,#00c3ff 105.5px,#00b6ff 115.5px,#00cdff 122.5px,#00d2ff 130.5px,#00f9ff 133.5px,#00cfff 136.5px,#00c6ff 140.5px,#001aff 147.5px,#0004ff 150.5px,#0038ff 154.5px,#0064ff 156.5px,#006dff 162px)"></i><i style="left:46px;background:linear-gradient(#002fff 0px,#000dff 13.5px,#001eff 19.5px,#0012ff 22.5px,#0034ff 25.5px,#0018ff 28.5px,#0006ff 30.5px,#001aff 43.5px,#0000f4 47.5px,#0000f6 56.5px,#0000ec 61.5px,#000eff 64.5px,#003fff 67.5px,#0066ff 68.5px,#00f5ff 70.5px,#8bff74 73.5px,#c8ff37 76.5px,#c3ff3c 80.5px,#8aff75 83.5px,#06fff9 86.5px,#0094ff 88.5px,#0084ff 89.5px,#00a0ff 91.5px,#00d5ff 93.5px,#00ddff 95.5px,#00c3ff 98.5px,#00bbff 116.5px,#00f8ff 129.5px,#00caff 137.5px,#00c3ff 140.5px,#001cff 148.5px,#0009ff 150.5px,#003fff 154.5px,#0033ff 156.5px,#0057ff 162px)"></i><i style="left:47px;background:linear-gradient(#0094ff 0px,#0038ff 8.5px,#004aff 14.5px,#0026ff 22.5px,#007bff 26.5px,#006bff 28.5px,#0002ff 32.5px,#0000ec 36.5px,#0000e4 44.5px,#0000c1 49.5px,#0002ff 57.5px,#0000fa 64.5px,#0015ff 67.5px,#0042ff 68.5px,#00f5ff 70.5px,#93ff6c 73.5px,#edff12 77.5px,#ffeb00 81.5px,#fff500 83.5px,#bcff43 85.5px,#80ff7f 86.5px,#2fffd0 87.5px,#00dfff 88.5px,#00beff 89.5px,#00dfff 112.5px,#00c2ff 117.5px,#00e9ff 122.5px,#15ffea 125.5px,#1cffe3 128.5px,#00ffff 130.5px,#0091ff 136.5px,#0063ff 143.5px,#0000fd 149.5px,#0000e6 152.5px,#0012ff 156.5px,#001dff 160.5px,#001aff 162px)"></i><i style="left:48px;background:linear-gradient(#006dff 0px,#0029ff 9.5px,#0027ff 13.5px,#0044ff 16.5px,#0027ff 19.5px,#0017ff 28.5px,#0000f1 31.5px,#0000e3 35.5px,#0000ff 42.5px,#0000e2 47.5px,#0000dd 52.5px,#0006ff 54.5px,#00cfff 63.5px,#00c0ff 66.5px,#00a1ff 69.5px,#00a4ff 72.5px,#00f2ff 75.5px,#37ffc8 79.5px,#4cffb3 82.5px,#00f9ff 86.5px,#00bcff 89.5px,#00a6ff 95.5px,#00e4ff 104.5px,#02fffd 105.5px,#50ffaf 108.5px,#59ffa6 110.5px,#00feff 114.5px,#00e0ff 116.5px,#0efff1 123.5px,#28ffd7 127.5px,#00feff 131.5px,#0079ff 138.5px,#002cff 145.5px,#0000ff 153.5px,#0002ff 159.5px,#0000f7 162px)"></i><i style="left:49px;background:linear-gradient(#0043ff 0px,#0048ff 9.5px,#0021ff 16.5px,#0030ff 28.5px,#000bff 34.5px,#0020ff 44.5px,#001fff 47.5px,#0040ff 51.5px,#005aff 55.5px,#00a8ff 58.5px,#00f2ff 60.5px,#42ffbd 63.5px,#3dffc2 66.5px,#29ffd6 69.5px,#6bff94 73.5px,#62ff9d 75.5px,#06fff9 79.5px,#02fffd 83.5px,#00bfff 87.5px,#00a0ff 93.5px,#00caff 103.5px,#00e9ff 106.5px,#00bcff 112.5px,#00d1ff 120.5px,#00daff 125.5px,#00efff 130.5px,#00a2ff 136.5px,#0025ff 143.5px,#0014ff 146.5px,#0020ff 151.5px,#0000f5 160.5px,#0000f0 162px)"></i><i style="left:50px;background:linear-gradient(#0043ff 0px,#0051ff 7.5px,#0002ff 12.5px,#0000e0 16.5px,#000dff 29.5px,#002aff 35.5px,#002aff 39.5px,#0059ff 44.5px,#0031ff 47.5px,#0013ff 48.5px,#001bff 54.5px,#0039ff 60.5px,#002eff 66.5px,#0038ff 67.5px,#00eeff 73.5px,#00f7ff 76.5px,#00fcff 83.5px,#00c3ff 87.5px,#00b1ff 101.5px,#00b9ff 103.5px,#00e6ff 106.5px,#00d3ff 112.5px,#00e8ff 116.5px,#11ffee 118.5px,#1bffe4 120.5px,#00f7ff 122.5px,#00d1ff 124.5px,#00e1ff 131.5px,#0061ff 141.5px,#0025ff 146.5px,#0000f4 152.5px,#0000c7 157.5px,#0000c0 162px)"></i><i style="left:51px;background:linear-gradient(#0044ff 0px,#0033ff 6.5px,#0000f8 10.5px,#0000db 14.5px,#000dff 27.5px,#0024ff 33.5px,#0000ff 52.5px,#0028ff 62.5px,#0073ff 70.5px,#00c1ff 74.5px,#00d0ff 80.5px,#00d5ff 83.5px,#00a4ff 87.5px,#00baff 93.5px,#009dff 100.5px,#00b9ff 109.5px,#00c4ff 114.5px,#00eaff 119.5px,#00e2ff 124.5px,#00faff 129.5px,#0094ff 137.5px,#007cff 141.5px,#0000fd 149.5px,#0000b2 157.5px,#0000a9 162px)"></i><i style="left:52px;background:linear-gradient(#0025ff 0px,#0019ff 23.5px,#0042ff 30.5px,#0000ff 37.5px,#0018ff 42.5px,#002bff 47.5px,#0010ff 53.5px,#00abff 71.5px,#00deff 74.5px,#00e0ff 80.5px,#00e1ff 83.5px,#00afff 87.5px,#00ccff 94.5px,#00a6ff 103.5px,#00b0ff 111.5px,#06fff9 118.5px,#13ffec 128.5px,#00f3ff 131.5px,#00a7ff 138.5px,#0086ff 141.5px,#0000fd 148.5px,#0000b7 153.5px,#0000c6 162px)"></i><i style="left:53px;background:linear-gradient(#001cff 0px,#0013ff 5.5px,#0072ff 14.5px,#006bff 19.5px,#0049ff 24.5px,#0048ff 30.5px,#0044ff 38.5px,#0014ff 41.5px,#0036ff 49.5px,#0020ff 55.5px,#0071ff 64.5px,#00f6ff 71.5px,#26ffd9 74.5px,#00f8ff 78.5px,#00edff 83.5px,#00b4ff 87.5px,#00bdff 93.5px,#00d3ff 98.5px,#00b6ff 105.5px,#00ddff 112.5px,#0afff5 115.5px,#2fffd0 119.5px,#0cfff3 130.5px,#00b5ff 139.5px,#0012ff 146.5px,#0000f8 152.5px,#0004ff 162px)"></i><i style="left:54px;background:linear-gradient(#0022ff 0px,#0025ff 5.5px,#0049ff 11.5px,#006aff 19.5px,#003aff 27.5px,#0002ff 32.5px,#0022ff 36.5px,#004dff 40.5px,#0013ff 44.5px,#001bff 49.5px,#0005ff 55.5px,#0057ff 64.5px,#03fffc 73.5px,#00f2ff 76.5px,#00deff 79.5px,#00e1ff 83.5px,#00a4ff 87.5px,#0097ff 92.5px,#00a7ff 98.5px,#008eff 104.5px,#00fbff 115.5px,#00efff 131.5px,#00cbff 136.5px,#0087ff 140.5px,#0004ff 145.5px,#000cff 150.5px,#0027ff 160.5px,#0025ff 162px)"></i><i style="left:55px;background:linear-gradient(#000aff 0px,#0018ff 6.5px,#0028ff 12.5px,#0071ff 15.5px,#007dff 18.5px,#0000f4 28.5px,#0000cf 32.5px,#0000d9 43.5px,#0000eb 50.5px,#0000ed 56.5px,#0012ff 60.5px,#003dff 69.5px,#0070ff 71.5px,#00c6ff 74.5px,#09fff6 81.5px,#00f8ff 83.5px,#00a3ff 87.5px,#0092ff 92.5px,#0092ff 97.5px,#0075ff 102.5px,#008bff 104.5px,#00c0ff 107.5px,#00c8ff 110.5px,#00f9ff 117.5px,#08fff7 120.5px,#1dffe2 123.5px,#00faff 126.5px,#00b8ff 129.5px,#00aaff 137.5px,#0077ff 140.5px,#0004ff 144.5px,#0000ed 146.5px,#0011ff 150.5px,#0008ff 162px)"></i><i style="left:56px;background:linear-gradient(#0000f8 0px,#0010ff 6.5px,#0028ff 13.5px,#003dff 17.5px,#006dff 20.5px,#0068ff 23.5px,#0002ff 29.5px,#0004ff 36.5px,#0001ff 41.5px,#0044ff 47.5px,#001bff 51.5px,#0000f6 53.5px,#002bff 61.5px,#0048ff 70.5px,#00c6ff 75.5px,#00fdff 80.5px,#00f3ff 82.5px,#0069ff 87.5px,#005aff 90.5px,#007fff 97.5px,#0076ff 103.5px,#00cbff 109.5px,#00b7ff 119.5px,#00b8ff 126.5px,#009cff 136.5px,#0053ff 140.5px,#0002ff 143.5px,#0000ea 146.5px,#000fff 149.5px,#002bff 154.5px,#0000f4 160.5px,#0000ee 162px)"></i><i style="left:57px;background:linear-gradient(#002aff 0px,#0025ff 7.5px,#0034ff 13.5px,#000eff 22.5px,#0000f6 29.5px,#0000f3 34.5px,#000aff 42.5px,#0012ff 46.5px,#0010ff 54.5px,#0040ff 58.5px,#0022ff 62.5px,#0056ff 68.5px,#0078ff 71.5px,#00dcff 75.5px,#05fffa 78.5px,#0ffff0 81.5px,#00ffff 82.5px,#005cff 87.5px,#003fff 90.5px,#005bff 94.5px,#0094ff 100.5px,#00d2ff 111.5px,#00b9ff 117.5px,#00d4ff 124.5px,#00e3ff 128.5px,#0080ff 138.5px,#0000ff 143.5px,#0000e9 146.5px,#0009ff 149.5px,#0009ff 153.5px,#0000de 156.5px,#00009c 162px)"></i><i style="left:58px;background:linear-gradient(#0028ff 0px,#0030ff 7.5px,#0058ff 14.5px,#0000ff 24.5px,#0000b7 41.5px,#0000f6 49.5px,#0000f7 56.5px,#0024ff 60.5px,#001fff 62.5px,#0060ff 67.5px,#007fff 71.5px,#00fdff 76.5px,#23ffdc 79.5px,#19ffe6 81.5px,#04fffb 82.5px,#0084ff 86.5px,#0055ff 90.5px,#0074ff 94.5px,#009eff 101.5px,#0092ff 108.5px,#00eaff 116.5px,#00e3ff 119.5px,#00c6ff 122.5px,#00cdff 128.5px,#003cff 140.5px,#0000fe 144.5px,#0000f7 153.5px,#0000b4 162px)"></i><i style="left:59px;background:linear-gradient(#0000f4 0px,#0006ff 5.5px,#0053ff 11.5px,#0044ff 16.5px,#0010ff 25.5px,#0000d8 30.5px,#0000d4 38.5px,#0000fd 41.5px,#0052ff 47.5px,#0039ff 53.5px,#002cff 58.5px,#0098ff 63.5px,#009bff 66.5px,#0076ff 69.5px,#00a7ff 72.5px,#00dfff 75.5px,#00f6ff 80.5px,#00e1ff 82.5px,#0075ff 86.5px,#0052ff 89.5px,#0068ff 93.5px,#00bdff 99.5px,#00a8ff 103.5px,#0086ff 108.5px,#00d2ff 114.5px,#00ebff 116.5px,#00d7ff 118.5px,#009bff 121.5px,#0080ff 130.5px,#003eff 140.5px,#0000fe 144.5px,#0000f4 147.5px,#0021ff 155.5px,#0000f2 158.5px,#0000cf 162px)"></i><i style="left:60px;background:linear-gradient(#002cff 0px,#002dff 11.5px,#002cff 18.5px,#0070ff 21.5px,#0060ff 23.5px,#000dff 27.5px,#0001ff 30.5px,#005dff 36.5px,#0055ff 42.5px,#0054ff 44.5px,#006eff 48.5px,#0032ff 58.5px,#0039ff 62.5px,#006eff 66.5px,#005bff 70.5px,#00a8ff 74.5px,#00baff 82.5px,#0072ff 87.5px,#006bff 94.5px,#00adff 101.5px,#00aeff 109.5px,#00c4ff 113.5px,#00a7ff 123.5px,#005dff 131.5px,#0054ff 140.5px,#0005ff 146.5px,#000aff 158.5px,#0013ff 162px)"></i><i style="left:61px;background:linear-gradient(#006eff 0px,#0056ff 10.5px,#006eff 18.5px,#00ccff 21.5px,#00ddff 23.5px,#00b4ff 25.5px,#0031ff 29.5px,#0000f8 36.5px,#0000f0 42.5px,#0014ff 51.5px,#0041ff 58.5px,#003cff 62.5px,#005eff 65.5px,#0047ff 71.5px,#00a1ff 74.5px,#00c8ff 78.5px,#00c6ff 82.5px,#008cff 86.5px,#0099ff 92.5px,#0074ff 100.5px,#009aff 114.5px,#00baff 123.5px,#004fff 131.5px,#0051ff 136.5px,#0077ff 140.5px,#002cff 145.5px,#0000fa 152.5px,#0000c1 159.5px,#0000c6 162px)"></i><i style="left:62px;background:linear-gradient(#007bff 0px,#004dff 14.5px,#0083ff 23.5px,#0000fc 36.5px,#0000d5 44.5px,#0008ff 57.5px,#0044ff 65.5px,#003aff 70.5px,#00b3ff 75.5px,#00d3ff 80.5px,#00b9ff 83.5px,#0086ff 86.5px,#00adff 92.5px,#00cdff 94.5px,#00bdff 96.5px,#00a3ff 98.5px,#0093ff 112.5px,#0080ff 117.5px,#00afff 123.5px,#0082ff 131.5px,#008dff 139.5px,#001dff 145.5px,#0000f8 155.5px,#0000e7 157.5px,#000cff 159.5px,#0028ff 162px)"></i><i style="left:63px;background:linear-gradient(#004aff 0px,#0029ff 9.5px,#001bff 14.5px,#0089ff 25.5px,#0077ff 29.5px,#0001ff 37.5px,#0000c6 41.5px,#0000c7 44.5px,#0005ff 49.5px,#0000f7 57.5px,#0047ff 63.5px,#0028ff 70.5px,#0095ff 76.5px,#00b9ff 81.5px,#00aaff 83.5px,#0064ff 86.5px,#0071ff 90.5px,#0085ff 93.5px,#00a9ff 96.5px,#0097ff 100.5px,#0087ff 112.5px,#0089ff 117.5px,#009eff 120.5px,#00a4ff 126.5px,#0075ff 135.5px,#0029ff 142.5px,#0000f9 145.5px,#0000bd 153.5px,#000085 158.5px,#000080 162px)"></i><i style="left:64px;background:linear-gradient(#0018ff 0px,#0008ff 5.5px,#0038ff 15.5px,#0072ff 18.5px,#0073ff 22.5px,#005eff 25.5px,#002cff 35.5px,#0000f6 40.5px,#0000f8 45.5px,#0010ff 50.5px,#0000ed 56.5px,#0017ff 59.5px,#0045ff 63.5px,#001eff 69.5px,#0063ff 75.5px,#009bff 82.5px,#0075ff 87.5px,#0072ff 93.5px,#0069ff 97.5px,#008dff 102.5px,#005dff 109.5px,#007eff 116.5px,#0074ff 123.5px,#0068ff 129.5px,#000fff 137.5px,#000dff 141.5px,#0000ea 144.5px,#0000d0 147.5px,#0000cb 153.5px,#000080 159.5px,#000080 162px)"></i><i style="left:65px;background:linear-gradient(#0001ff 0px,#0034ff 14.5px,#0077ff 21.5px,#005cff 25.5px,#0026ff 30.5px,#0022ff 36.5px,#0005ff 45.5px,#0005ff 57.5px,#002cff 62.5px,#000dff 69.5px,#003cff 75.5px,#004aff 79.5px,#00acff 90.5px,#0085ff 98.5px,#0089ff 104.5px,#0057ff 109.5px,#006cff 120.5px,#005aff 126.5px,#0053ff 130.5px,#0012ff 135.5px,#0023ff 140.5px,#0001ff 143.5px,#0000e5 145.5px,#0000f9 149.5px,#0000c7 152.5px,#0000b3 157.5px,#000087 162px)"></i><i style="left:66px;background:linear-gradient(#004dff 0px,#0011ff 12.5px,#005bff 21.5px,#0000fa 35.5px,#0000ea 39.5px,#0000fc 44.5px,#0000c9 50.5px,#0000f8 62.5px,#0000ec 67.5px,#0007ff 69.5px,#007cff 74.5px,#0096ff 79.5px,#00bfff 83.5px,#009bff 87.5px,#009eff 91.5px,#0070ff 96.5px,#0088ff 99.5px,#00ceff 103.5px,#00c7ff 106.5px,#006fff 112.5px,#003eff 126.5px,#0055ff 133.5px,#0002ff 143.5px,#0000a3 148.5px,#0000cc 157.5px,#0000bf 162px)"></i><i style="left:67px;background:linear-gradient(#0071ff 0px,#0085ff 5.5px,#0050ff 9.5px,#001aff 13.5px,#0024ff 18.5px,#0032ff 23.5px,#0018ff 32.5px,#0000ef 35.5px,#0000c4 39.5px,#0000a7 51.5px,#0000f8 61.5px,#0000cb 65.5px,#000cff 70.5px,#0073ff 78.5px,#00aaff 81.5px,#0093ff 84.5px,#0066ff 88.5px,#0049ff 93.5px,#0031ff 96.5px,#0070ff 105.5px,#007dff 112.5px,#0047ff 118.5px,#0013ff 121.5px,#0037ff 125.5px,#0079ff 130.5px,#005aff 134.5px,#0001ff 141.5px,#000097 146.5px,#000087 151.5px,#000080 162px)"></i><i style="left:68px;background:linear-gradient(#0067ff 0px,#0071ff 7.5px,#0006ff 14.5px,#000bff 21.5px,#003fff 29.5px,#001dff 35.5px,#0000f1 39.5px,#00009b 47.5px,#0000ac 51.5px,#0000ef 58.5px,#0000ef 62.5px,#0015ff 64.5px,#0018ff 67.5px,#0000fc 72.5px,#0011ff 76.5px,#0027ff 80.5px,#0016ff 87.5px,#0037ff 91.5px,#002fff 94.5px,#0038ff 103.5px,#001eff 113.5px,#0058ff 124.5px,#008dff 129.5px,#007cff 132.5px,#0022ff 138.5px,#0000f7 141.5px,#000084 146.5px,#00008a 152.5px,#0000a0 157.5px,#000092 162px)"></i><i style="left:69px;background:linear-gradient(#0047ff 0px,#0074ff 9.5px,#001aff 16.5px,#000bff 21.5px,#002dff 28.5px,#0016ff 33.5px,#0035ff 37.5px,#001dff 40.5px,#0007ff 41.5px,#00009d 44.5px,#000093 50.5px,#0000c8 59.5px,#0002ff 63.5px,#002eff 67.5px,#0000f5 77.5px,#000bff 90.5px,#0034ff 96.5px,#0002ff 106.5px,#0063ff 122.5px,#0041ff 132.5px,#0000fa 140.5px,#000089 145.5px,#000089 154.5px,#00008c 162px)"></i><i style="left:70px;background:linear-gradient(#0074ff 0px,#0050ff 12.5px,#002bff 15.5px,#0030ff 24.5px,#0000f8 33.5px,#000084 48.5px,#000092 53.5px,#0000ff 61.5px,#0000f3 66.5px,#0000d8 73.5px,#000aff 81.5px,#0033ff 94.5px,#0000f2 102.5px,#0000ea 106.5px,#000aff 109.5px,#004dff 115.5px,#0000fb 131.5px,#0000e9 136.5px,#0000ff 141.5px,#000090 147.5px,#000080 151.5px,#000080 162px)"></i><i style="left:71px;background:linear-gradient(#000dff 0px,#0017ff 10.5px,#0042ff 15.5px,#0037ff 19.5px,#0050ff 23.5px,#0000f6 36.5px,#000080 49.5px,#000086 53.5px,#0000ed 61.5px,#0000d2 66.5px,#0000ba 71.5px,#0007ff 78.5px,#0039ff 84.5px,#0030ff 94.5px,#0000f9 101.5px,#0000e9 107.5px,#0002ff 114.5px,#0000d4 121.5px,#0009ff 139.5px,#0000f1 142.5px,#000089 146.5px,#000087 154.5px,#000080 162px)"></i><i style="left:72px;background:linear-gradient(#0000df 0px,#0010ff 10.5px,#0023ff 18.5px,#0050ff 31.5px,#0017ff 35.5px,#0001ff 36.5px,#0000a2 41.5px,#000080 47.5px,#000088 53.5px,#0005ff 63.5px,#0005ff 67.5px,#0000aa 74.5px,#0000d6 79.5px,#0000eb 84.5px,#0000f5 93.5px,#0000f5 105.5px,#0000a9 112.5px,#0000b9 123.5px,#000bff 135.5px,#000cff 139.5px,#0000fc 140.5px,#000080 146.5px,#000080 162px)"></i><i style="left:73px;background:linear-gradient(#0054ff 0px,#0007ff 12.5px,#001bff 24.5px,#0037ff 30.5px,#0000fa 34.5px,#0000aa 39.5px,#000082 44.5px,#000086 49.5px,#000088 52.5px,#0009ff 63.5px,#0015ff 67.5px,#0000f0 70.5px,#0000a1 76.5px,#0000b8 88.5px,#0000f2 101.5px,#00009f 120.5px,#00009c 125.5px,#0000f6 134.5px,#0000ea 139.5px,#0000ad 142.5px,#000080 149.5px,#000080 162px)"></i><i style="left:74px;background:linear-gradient(#0072ff 0px,#003eff 9.5px,#002fff 16.5px,#005aff 21.5px,#0074ff 24.5px,#0044ff 27.5px,#000cff 29.5px,#0000cd 35.5px,#0000ab 42.5px,#000080 46.5px,#0000e6 63.5px,#0000f0 73.5px,#0016ff 76.5px,#0000f9 79.5px,#0000d8 83.5px,#0000fb 88.5px,#0000d7 91.5px,#0000c0 92.5px,#0000cf 96.5px,#0004ff 100.5px,#0024ff 107.5px,#0027ff 114.5px,#0000fb 118.5px,#0000bf 124.5px,#0000d0 128.5px,#0000fd 131.5px,#002fff 135.5px,#0020ff 139.5px,#0000f3 141.5px,#00008b 145.5px,#000080 153.5px,#000080 162px)"></i><i style="left:75px;background:linear-gradient(#0076ff 0px,#0033ff 13.5px,#0025ff 20.5px,#0028ff 26.5px,#0000f6 30.5px,#0000d0 35.5px,#0000dd 52.5px,#000096 59.5px,#0000bb 64.5px,#0007ff 70.5px,#0000f2 75.5px,#0000d1 80.5px,#0000cf 94.5px,#0005ff 99.5px,#0021ff 105.5px,#002fff 113.5px,#0000fb 117.5px,#0000bb 122.5px,#0000c4 126.5px,#0004ff 130.5px,#001fff 134.5px,#000dff 140.5px,#0000f0 142.5px,#0000aa 146.5px,#0000a5 153.5px,#0000a8 162px)"></i><i style="left:76px;background:linear-gradient(#005bff 0px,#0046ff 17.5px,#005eff 23.5px,#000aff 31.5px,#0000e1 41.5px,#0000e5 50.5px,#000088 58.5px,#00009a 62.5px,#0000dc 68.5px,#0000fb 69.5px,#006bff 72.5px,#0087ff 74.5px,#006aff 76.5px,#0000fa 79.5px,#0000bd 81.5px,#0009ff 101.5px,#0000e8 115.5px,#0000a0 122.5px,#0000b3 125.5px,#000dff 129.5px,#0037ff 132.5px,#0019ff 136.5px,#0000f7 140.5px,#0000ba 146.5px,#0000ac 159.5px,#0000af 162px)"></i><i style="left:77px;background:linear-gradient(#004bff 0px,#0093ff 8.5px,#0075ff 13.5px,#005cff 18.5px,#004fff 23.5px,#0013ff 29.5px,#0005ff 38.5px,#0000e8 49.5px,#000088 56.5px,#000094 60.5px,#0000d0 66.5px,#0000f5 67.5px,#0052ff 71.5px,#005fff 74.5px,#000eff 80.5px,#000dff 86.5px,#0035ff 94.5px,#0000fd 100.5px,#0000b5 108.5px,#0000de 115.5px,#0000bf 122.5px,#0002ff 129.5px,#0025ff 133.5px,#0000f5 138.5px,#000099 146.5px,#000086 154.5px,#000080 162px)"></i><i style="left:78px;background:linear-gradient(#0015ff 0px,#0040ff 4.5px,#0077ff 8.5px,#0062ff 22.5px,#0000f9 34.5px,#0000d8 37.5px,#0000fe 40.5px,#002fff 44.5px,#000aff 47.5px,#0000b9 50.5px,#000080 58.5px,#00008c 63.5px,#0000d9 69.5px,#0000e7 73.5px,#0003ff 76.5px,#0000e5 80.5px,#0006ff 91.5px,#0023ff 95.5px,#0000f8 99.5px,#0000ca 103.5px,#0000de 119.5px,#000aff 124.5px,#0029ff 136.5px,#0004ff 140.5px,#000082 146.5px,#000080 162px)"></i><i style="left:79px;background:linear-gradient(#001aff 0px,#0051ff 7.5px,#0031ff 17.5px,#0054ff 23.5px,#0036ff 29.5px,#0000f3 33.5px,#0000bc 38.5px,#0000a7 54.5px,#0000ac 61.5px,#0000a1 64.5px,#0000e0 68.5px,#0000db 77.5px,#0000d8 82.5px,#0000a3 87.5px,#0000be 91.5px,#0000f4 96.5px,#0000da 104.5px,#0000c5 112.5px,#0000cf 118.5px,#0007ff 124.5px,#0037ff 136.5px,#000fff 140.5px,#0000bd 143.5px,#000084 146.5px,#0000b4 150.5px,#0000a4 155.5px,#00009d 162px)"></i><i style="left:80px;background:linear-gradient(#0048ff 0px,#0055ff 7.5px,#0002ff 12.5px,#0000ea 15.5px,#0000fe 17.5px,#0061ff 22.5px,#005cff 25.5px,#0000f6 30.5px,#0000c0 34.5px,#0000c8 44.5px,#0000c2 47.5px,#0000dc 50.5px,#0000ae 61.5px,#0000f0 80.5px,#0000d5 87.5px,#0000fc 95.5px,#0000d1 104.5px,#0000fd 118.5px,#0020ff 121.5px,#0000f3 124.5px,#0000e6 126.5px,#000fff 131.5px,#0039ff 136.5px,#0020ff 139.5px,#0000ee 141.5px,#0000a1 145.5px,#0000fc 150.5px,#0000ee 152.5px,#00009c 155.5px,#000080 160.5px,#000080 162px)"></i><i style="left:81px;background:linear-gradient(#0049ff 0px,#0045ff 8.5px,#0004ff 12.5px,#0017ff 16.5px,#0071ff 22.5px,#005bff 25.5px,#0006ff 29.5px,#0000d7 34.5px,#0000cf 45.5px,#0000e3 48.5px,#0000a4 51.5px,#0000a1 56.5px,#0000cd 62.5px,#0000b6 68.5px,#0006ff 71.5px,#0021ff 74.5px,#0000f5 78.5px,#0000fa 89.5px,#0000fa 104.5px,#0013ff 113.5px,#008dff 120.5px,#0085ff 122.5px,#0000f8 127.5px,#001aff 136.5px,#0002ff 139.5px,#0000a1 144.5px,#0000a3 147.5px,#0000ea 156.5px,#0000db 162px)"></i><i style="left:82px;background:linear-gradient(#0041ff 0px,#002fff 6.5px,#0041ff 15.5px,#006cff 21.5px,#0014ff 30.5px,#0000f3 37.5px,#0000ce 45.5px,#0000dc 51.5px,#0000b5 56.5px,#0006ff 66.5px,#0028ff 69.5px,#0011ff 72.5px,#0000ee 74.5px,#0000e8 84.5px,#000fff 91.5px,#0011ff 97.5px,#000cff 102.5px,#0037ff 116.5px,#0063ff 121.5px,#0057ff 127.5px,#0011ff 135.5px,#0000f3 139.5px,#000082 144.5px,#00008a 149.5px,#00009b 151.5px,#0000e3 152.5px,#0002ff 153.5px,#0056ff 156.5px,#006cff 158.5px,#0043ff 162px)"></i><i style="left:83px;background:linear-gradient(#07fff8 0px,#00b4ff 14.5px,#0071ff 24.5px,#0067ff 32.5px,#0000f9 48.5px,#0000dc 57.5px,#000cff 64.5px,#0034ff 68.5px,#0082ff 71.5px,#008bff 73.5px,#0057ff 76.5px,#0036ff 78.5px,#002aff 83.5px,#0036ff 89.5px,#0059ff 103.5px,#002dff 112.5px,#0062ff 117.5px,#00aaff 123.5px,#00a2ff 127.5px,#002dff 134.5px,#0000fb 140.5px,#00008d 145.5px,#00009d 148.5px,#0000c7 151.5px,#005dff 152.5px,#00d7ff 154.5px,#12ffed 155.5px,#73ff8c 157.5px,#8dff72 158.5px,#8dff72 159.5px,#4cffb3 162px)"></i><i style="left:84px;background:linear-gradient(#5affa5 0px,#00feff 14.5px,#00f6ff 21.5px,#00b7ff 26.5px,#0077ff 36.5px,#0044ff 42.5px,#0041ff 50.5px,#0019ff 59.5px,#002aff 66.5px,#003cff 68.5px,#00a5ff 71.5px,#00b7ff 73.5px,#0066ff 80.5px,#007bff 89.5px,#0091ff 101.5px,#0045ff 109.5px,#0060ff 114.5px,#00a2ff 118.5px,#00d3ff 120.5px,#00cbff 125.5px,#0097ff 129.5px,#002fff 134.5px,#001dff 138.5px,#0016ff 141.5px,#0000ec 145.5px,#0000ed 147.5px,#001cff 149.5px,#0035ff 151.5px,#00dfff 152.5px,#1fffe0 153.5px,#e5ff1a 156.5px,#ffee00 157.5px,#ffdc00 158.5px,#f8ff07 160.5px,#c3ff3c 162px)"></i><i style="left:85px;background:linear-gradient(#05fffa 0px,#00ddff 4.5px,#008cff 10.5px,#0083ff 17.5px,#0036ff 23.5px,#0042ff 33.5px,#0000fd 39.5px,#0000fd 44.5px,#0038ff 48.5px,#0033ff 51.5px,#0000ff 55.5px,#0000f1 60.5px,#0000d1 62.5px,#0000e0 66.5px,#0001ff 68.5px,#0042ff 72.5px,#002aff 79.5px,#0051ff 86.5px,#0039ff 95.5px,#0026ff 108.5px,#0050ff 118.5px,#00a9ff 122.5px,#0099ff 124.5px,#0075ff 126.5px,#002eff 132.5px,#0000f8 136.5px,#0000e6 142.5px,#0000bf 147.5px,#0000bd 151.5px,#002eff 152.5px,#00dbff 156.5px,#00f8ff 157.5px,#00faff 159.5px,#00bbff 162px)"></i><i style="left:86px;background:linear-gradient(#006aff 0px,#0045ff 5.5px,#001dff 9.5px,#0000f9 18.5px,#0000dc 23.5px,#000bff 32.5px,#0000f5 38.5px,#0000c9 46.5px,#0000fc 49.5px,#002dff 59.5px,#0000ff 62.5px,#0000c5 66.5px,#0000df 69.5px,#0007ff 72.5px,#0000f9 85.5px,#0000ed 90.5px,#000cff 96.5px,#0013ff 104.5px,#003aff 111.5px,#0012ff 118.5px,#0025ff 125.5px,#0000f9 136.5px,#0000d6 140.5px,#000080 145.5px,#000080 151.5px,#0000f4 156.5px,#0021ff 160.5px,#0018ff 162px)"></i><i style="left:87px;background:linear-gradient(#0035ff 0px,#0020ff 14.5px,#002dff 17.5px,#0006ff 23.5px,#0006ff 34.5px,#0007ff 38.5px,#0000c4 48.5px,#0000bd 54.5px,#0000f7 56.5px,#0024ff 59.5px,#0002ff 61.5px,#0000c4 66.5px,#0000de 74.5px,#0000e9 83.5px,#0000ba 89.5px,#0000be 90.5px,#0000fa 93.5px,#0000ed 103.5px,#0001ff 105.5px,#0050ff 110.5px,#004fff 113.5px,#0018ff 119.5px,#001dff 126.5px,#0013ff 128.5px,#0023ff 131.5px,#0000fb 133.5px,#0000c2 141.5px,#000083 145.5px,#000080 157.5px,#0000b2 162px)"></i><i style="left:88px;background:linear-gradient(#0010ff 0px,#0003ff 3.5px,#0013ff 14.5px,#0046ff 17.5px,#0031ff 20.5px,#0009ff 23.5px,#0000f2 27.5px,#0000dd 29.5px,#0000f0 35.5px,#0000f9 43.5px,#0000e2 51.5px,#0000df 57.5px,#0000b3 64.5px,#0000e2 71.5px,#00009a 77.5px,#0000b4 81.5px,#0000cd 85.5px,#0000c4 89.5px,#0000e5 96.5px,#0000b2 102.5px,#0000be 105.5px,#0000fd 108.5px,#0047ff 112.5px,#004fff 116.5px,#0000fa 130.5px,#0000c9 141.5px,#000099 146.5px,#00009d 150.5px,#000080 154.5px,#000080 162px)"></i><i style="left:89px;background:linear-gradient(#0000e8 0px,#000fff 7.5px,#003dff 16.5px,#0007ff 19.5px,#0000ee 27.5px,#0007ff 30.5px,#0000fb 34.5px,#0010ff 42.5px,#0000f4 50.5px,#00009f 60.5px,#0000d7 69.5px,#0000ad 75.5px,#00009e 79.5px,#0000dd 90.5px,#0000b3 100.5px,#0000c8 105.5px,#0008ff 109.5px,#0032ff 113.5px,#0020ff 118.5px,#0000f6 121.5px,#0000bc 126.5px,#0000dd 135.5px,#0000e5 139.5px,#000094 145.5px,#0000b9 152.5px,#0000b3 156.5px,#0000ac 162px)"></i><i style="left:90px;background:linear-gradient(#0000fb 0px,#0028ff 4.5px,#005aff 8.5px,#0053ff 11.5px,#007eff 16.5px,#0026ff 23.5px,#0037ff 31.5px,#0000f6 41.5px,#0000d1 51.5px,#00009c 57.5px,#0000ab 61.5px,#0000dd 67.5px,#0000cf 77.5px,#0000f2 90.5px,#0000b3 96.5px,#0000db 100.5px,#0003ff 103.5px,#0034ff 116.5px,#0012ff 121.5px,#0000e2 124.5px,#0000ba 129.5px,#0000b7 141.5px,#000086 144.5px,#000080 162px)"></i><i style="left:91px;background:linear-gradient(#0020ff 0px,#005fff 8.5px,#0004ff 14.5px,#0000f5 25.5px,#0033ff 34.5px,#000eff 38.5px,#0000ea 41.5px,#0000dc 46.5px,#0000ee 51.5px,#0000c6 55.5px,#0000fe 68.5px,#0000e8 80.5px,#0000fd 89.5px,#0000be 95.5px,#0000de 99.5px,#0004ff 102.5px,#000cff 117.5px,#0000cd 127.5px,#0000a6 133.5px,#0000bd 140.5px,#000081 144.5px,#000080 162px)"></i><i style="left:92px;background:linear-gradient(#0025ff 0px,#001bff 10.5px,#0000f9 15.5px,#001cff 19.5px,#0000f3 23.5px,#0000e2 26.5px,#0009ff 30.5px,#0000f0 34.5px,#0000c0 40.5px,#0000da 53.5px,#0000fe 64.5px,#0000f9 79.5px,#0012ff 91.5px,#0000eb 95.5px,#0000ea 99.5px,#0009ff 100.5px,#002aff 102.5px,#0001ff 105.5px,#0020ff 121.5px,#0021ff 124.5px,#0000f4 127.5px,#0000c9 131.5px,#0000ed 136.5px,#0000fe 140.5px,#0000a7 146.5px,#0000ae 153.5px,#000080 159.5px,#000080 162px)"></i><i style="left:93px;background:linear-gradient(#0014ff 0px,#0000f5 7.5px,#0014ff 14.5px,#0000f7 18.5px,#0024ff 29.5px,#0000f4 37.5px,#0000ed 45.5px,#0006ff 50.5px,#0024ff 55.5px,#0013ff 63.5px,#000fff 69.5px,#0000fc 77.5px,#000cff 88.5px,#000fff 92.5px,#0000e3 95.5px,#0000ca 98.5px,#000aff 105.5px,#0032ff 112.5px,#001cff 124.5px,#0000f4 128.5px,#0000e4 133.5px,#0002ff 140.5px,#0000a1 146.5px,#00009d 153.5px,#00008f 158.5px,#0000b3 162px)"></i><i style="left:94px;background:linear-gradient(#0058ff 0px,#0023ff 14.5px,#0006ff 17.5px,#003fff 26.5px,#0007ff 36.5px,#001bff 55.5px,#000bff 61.5px,#0027ff 68.5px,#0000f3 83.5px,#0000f4 91.5px,#0000c7 97.5px,#0003ff 104.5px,#003dff 109.5px,#0020ff 114.5px,#0013ff 118.5px,#0037ff 125.5px,#0000ff 128.5px,#0000df 132.5px,#0009ff 137.5px,#001bff 141.5px,#0000fb 143.5px,#0000cf 146.5px,#0000af 152.5px,#000080 157.5px,#000080 162px)"></i><i style="left:95px;background:linear-gradient(#0069ff 0px,#0042ff 13.5px,#0020ff 18.5px,#0038ff 24.5px,#000eff 32.5px,#0013ff 41.5px,#0000f0 45.5px,#0000be 51.5px,#0000e5 56.5px,#0007ff 59.5px,#003aff 71.5px,#0006ff 82.5px,#001bff 88.5px,#0000f3 92.5px,#0000e3 95.5px,#000bff 100.5px,#0007ff 108.5px,#0007ff 114.5px,#000fff 120.5px,#003fff 123.5px,#003bff 125.5px,#0006ff 127.5px,#0000d0 131.5px,#0000ec 135.5px,#000dff 139.5px,#0000f2 141.5px,#00009c 146.5px,#000080 155.5px,#000080 162px)"></i><i style="left:96px;background:linear-gradient(#0050ff 0px,#0050ff 4.5px,#00b2ff 10.5px,#00a6ff 12.5px,#003bff 16.5px,#002bff 24.5px,#0000f2 29.5px,#0000ac 45.5px,#000082 50.5px,#0000a0 54.5px,#0000f5 60.5px,#0029ff 69.5px,#0063ff 72.5px,#004aff 75.5px,#0010ff 79.5px,#0036ff 88.5px,#000bff 95.5px,#001dff 102.5px,#001eff 105.5px,#0032ff 107.5px,#000eff 111.5px,#0010ff 119.5px,#0023ff 126.5px,#0009ff 135.5px,#0012ff 140.5px,#0000ec 142.5px,#000097 146.5px,#000080 149.5px,#000081 156.5px,#0000e1 160.5px,#0000e9 162px)"></i><i style="left:97px;background:linear-gradient(#001fff 0px,#0014ff 4.5px,#008bff 10.5px,#0081ff 12.5px,#0054ff 14.5px,#0030ff 25.5px,#0000f2 29.5px,#0000a2 38.5px,#0000a8 50.5px,#0000f0 65.5px,#0003ff 66.5px,#006aff 70.5px,#0073ff 72.5px,#0025ff 75.5px,#0003ff 76.5px,#0000fb 80.5px,#0044ff 87.5px,#001eff 94.5px,#003fff 109.5px,#003bff 115.5px,#0047ff 120.5px,#0030ff 125.5px,#0069ff 132.5px,#003cff 137.5px,#0039ff 140.5px,#0000fc 143.5px,#00009a 147.5px,#000080 150.5px,#000086 154.5px,#0000b7 156.5px,#0001ff 158.5px,#002fff 162px)"></i><i style="left:98px;background:linear-gradient(#0078ff 0px,#0022ff 16.5px,#0002ff 22.5px,#0000f5 33.5px,#0000d4 40.5px,#0000ef 51.5px,#0007ff 68.5px,#003bff 72.5px,#0010ff 79.5px,#0047ff 86.5px,#0020ff 91.5px,#0003ff 98.5px,#0023ff 104.5px,#005aff 111.5px,#0034ff 121.5px,#0011ff 127.5px,#0023ff 138.5px,#0000f2 142.5px,#000099 146.5px,#00008b 151.5px,#0000c1 159.5px,#0000c3 162px)"></i><i style="left:99px;background:linear-gradient(#0093ff 0px,#0048ff 6.5px,#006cff 13.5px,#001eff 20.5px,#0000f7 23.5px,#0000fc 28.5px,#0012ff 34.5px,#0000e8 40.5px,#0000e2 47.5px,#0000c9 51.5px,#0000f3 60.5px,#0000f8 67.5px,#0009ff 68.5px,#005aff 71.5px,#0062ff 73.5px,#0030ff 76.5px,#0053ff 84.5px,#0014ff 103.5px,#004bff 110.5px,#0021ff 119.5px,#0026ff 134.5px,#0002ff 140.5px,#0000ab 146.5px,#0000b9 162px)"></i><i style="left:100px;background:linear-gradient(#0066ff 0px,#0036ff 7.5px,#0053ff 13.5px,#0039ff 18.5px,#0004ff 21.5px,#0000e7 25.5px,#000cff 35.5px,#000eff 41.5px,#0000ee 46.5px,#0001ff 49.5px,#0000d8 52.5px,#0000ba 54.5px,#0000e8 63.5px,#0000ec 68.5px,#0010ff 69.5px,#0071ff 72.5px,#0083ff 74.5px,#006aff 77.5px,#008eff 82.5px,#0000ff 91.5px,#0000fb 95.5px,#0046ff 103.5px,#004bff 110.5px,#0016ff 119.5px,#000dff 141.5px,#0000ee 144.5px,#0000af 152.5px,#0000c6 157.5px,#0000e6 162px)"></i><i style="left:101px;background:linear-gradient(#0064ff 0px,#0039ff 14.5px,#0008ff 21.5px,#0017ff 32.5px,#0000f7 35.5px,#0000e9 47.5px,#0000ae 53.5px,#0000c4 58.5px,#0000f4 61.5px,#0006ff 67.5px,#003fff 70.5px,#00b6ff 74.5px,#00c5ff 77.5px,#00a2ff 81.5px,#0077ff 84.5px,#0009ff 90.5px,#0000e8 95.5px,#000fff 98.5px,#002eff 103.5px,#0055ff 108.5px,#0023ff 117.5px,#002eff 125.5px,#0021ff 131.5px,#003eff 139.5px,#0000fd 144.5px,#0000d8 147.5px,#0000c5 151.5px,#0000b9 154.5px,#0000ed 162px)"></i><i style="left:102px;background:linear-gradient(#0021ff 0px,#0065ff 16.5px,#004aff 20.5px,#0000f6 35.5px,#0000ef 40.5px,#0002ff 47.5px,#0000e4 54.5px,#0009ff 67.5px,#001dff 69.5px,#0099ff 73.5px,#008bff 81.5px,#0075ff 84.5px,#0018ff 90.5px,#0004ff 96.5px,#0043ff 118.5px,#0009ff 130.5px,#0037ff 139.5px,#0000f6 143.5px,#0000bf 146.5px,#0000a5 153.5px,#0000ab 162px)"></i><i style="left:103px;background:linear-gradient(#0040ff 0px,#0069ff 10.5px,#0076ff 18.5px,#0001ff 28.5px,#0000f4 39.5px,#0024ff 55.5px,#0000f6 64.5px,#0000e3 69.5px,#0000fa 70.5px,#005cff 73.5px,#0067ff 75.5px,#005cff 77.5px,#009dff 82.5px,#007cff 85.5px,#001bff 92.5px,#0034ff 98.5px,#0054ff 104.5px,#0037ff 112.5px,#0037ff 122.5px,#0008ff 130.5px,#0013ff 140.5px,#0000e2 143.5px,#0000a8 147.5px,#000089 153.5px,#0000ae 162px)"></i><i style="left:104px;background:linear-gradient(#0073ff 0px,#0089ff 7.5px,#005cff 16.5px,#003cff 24.5px,#0000f5 29.5px,#0000c7 33.5px,#0000e5 44.5px,#0006ff 56.5px,#0000da 70.5px,#000cff 72.5px,#0068ff 75.5px,#00a9ff 80.5px,#00afff 84.5px,#0021ff 89.5px,#0003ff 92.5px,#002aff 97.5px,#0067ff 104.5px,#0047ff 118.5px,#004bff 124.5px,#0032ff 130.5px,#002aff 135.5px,#0000f1 142.5px,#0000cb 147.5px,#0000a6 155.5px,#0000c4 162px)"></i><i style="left:105px;background:linear-gradient(#0043ff 0px,#0037ff 12.5px,#0031ff 18.5px,#0045ff 24.5px,#0019ff 28.5px,#0000f1 30.5px,#0000c3 34.5px,#0000cd 40.5px,#0000b0 46.5px,#0000e4 54.5px,#0000eb 61.5px,#000eff 67.5px,#001aff 70.5px,#0090ff 75.5px,#00b3ff 80.5px,#00b1ff 81.5px,#00cdff 83.5px,#0098ff 86.5px,#0012ff 91.5px,#0000fc 93.5px,#0013ff 97.5px,#0039ff 101.5px,#0036ff 103.5px,#0065ff 108.5px,#002fff 117.5px,#0050ff 126.5px,#0008ff 136.5px,#0000e2 140.5px,#000087 146.5px,#00009a 154.5px,#0000d3 162px)"></i><i style="left:106px;background:linear-gradient(#003cff 0px,#004cff 8.5px,#0025ff 14.5px,#0046ff 20.5px,#0015ff 26.5px,#0000f2 31.5px,#0000d9 36.5px,#0000de 42.5px,#0000d6 48.5px,#0000e1 53.5px,#0000d8 59.5px,#0001ff 68.5px,#0019ff 71.5px,#0065ff 75.5px,#0078ff 82.5px,#003aff 86.5px,#005dff 94.5px,#0039ff 101.5px,#0059ff 108.5px,#0028ff 115.5px,#0018ff 124.5px,#0014ff 129.5px,#0002ff 135.5px,#0000e9 142.5px,#0000be 144.5px,#000080 146.5px,#000087 152.5px,#0000d2 158.5px,#0000d9 162px)"></i><i style="left:107px;background:linear-gradient(#0020ff 0px,#005fff 10.5px,#0059ff 15.5px,#0067ff 18.5px,#0011ff 23.5px,#0000f3 35.5px,#0000e7 46.5px,#0000d8 56.5px,#0008ff 62.5px,#001aff 70.5px,#004dff 74.5px,#0022ff 86.5px,#005eff 94.5px,#0069ff 104.5px,#0062ff 108.5px,#0027ff 114.5px,#001eff 121.5px,#001aff 122.5px,#0064ff 125.5px,#006dff 127.5px,#0000f6 132.5px,#000aff 140.5px,#0000e6 143.5px,#0000bb 146.5px,#0000df 152.5px,#0000ea 158.5px,#0000e1 162px)"></i><i style="left:108px;background:linear-gradient(#002bff 0px,#0034ff 7.5px,#0000f2 29.5px,#0000f9 39.5px,#0008ff 44.5px,#002cff 48.5px,#0000f3 60.5px,#0012ff 66.5px,#0031ff 71.5px,#005aff 74.5px,#0062ff 80.5px,#0063ff 82.5px,#0030ff 86.5px,#0070ff 107.5px,#005aff 113.5px,#0071ff 118.5px,#0022ff 129.5px,#0000fd 135.5px,#0004ff 137.5px,#0042ff 140.5px,#0041ff 143.5px,#0017ff 146.5px,#003eff 152.5px,#001dff 157.5px,#0040ff 162px)"></i><i style="left:109px;background:linear-gradient(#002eff 0px,#0000f9 5.5px,#0000f1 10.5px,#0000f0 16.5px,#0000fd 17.5px,#002bff 19.5px,#0024ff 22.5px,#0000fc 25.5px,#0000f9 32.5px,#004fff 36.5px,#0041ff 39.5px,#0000ff 42.5px,#000dff 45.5px,#0043ff 51.5px,#002eff 56.5px,#0000f9 60.5px,#0006ff 64.5px,#007eff 74.5px,#0066ff 80.5px,#005bff 83.5px,#002eff 86.5px,#0043ff 90.5px,#0066ff 95.5px,#0028ff 102.5px,#006cff 113.5px,#00d2ff 118.5px,#00ccff 120.5px,#007dff 123.5px,#000cff 135.5px,#0027ff 142.5px,#0051ff 145.5px,#003eff 149.5px,#0014ff 154.5px,#0000ff 155.5px,#0000cc 159.5px,#0000c5 162px)"></i><i style="left:110px;background:linear-gradient(#002bff 0px,#0022ff 11.5px,#0005ff 17.5px,#002eff 21.5px,#0013ff 24.5px,#0000f8 26.5px,#0000cc 36.5px,#0000ee 40.5px,#000bff 44.5px,#002aff 50.5px,#0000f8 59.5px,#000eff 64.5px,#0051ff 71.5px,#007bff 74.5px,#0058ff 82.5px,#0094ff 89.5px,#0056ff 93.5px,#004dff 98.5px,#0022ff 104.5px,#0050ff 110.5px,#00b4ff 117.5px,#009cff 120.5px,#007cff 122.5px,#0067ff 129.5px,#000cff 137.5px,#0007ff 148.5px,#0000fa 153.5px,#0000c3 157.5px,#0000c9 162px)"></i><i style="left:111px;background:linear-gradient(#0048ff 0px,#004fff 10.5px,#001bff 19.5px,#0000f0 24.5px,#0000da 29.5px,#0000b2 37.5px,#0000fd 45.5px,#0020ff 52.5px,#0000f3 59.5px,#0001ff 62.5px,#00a0ff 66.5px,#00b4ff 68.5px,#0086ff 72.5px,#0094ff 75.5px,#0077ff 80.5px,#0070ff 84.5px,#005aff 88.5px,#006aff 97.5px,#003bff 102.5px,#0059ff 110.5px,#008eff 115.5px,#008eff 119.5px,#0056ff 123.5px,#001cff 134.5px,#0000f5 138.5px,#0000dd 146.5px,#0000e7 150.5px,#0000b3 158.5px,#0000c5 162px)"></i><i style="left:112px;background:linear-gradient(#008aff 0px,#0094ff 5.5px,#0035ff 12.5px,#0015ff 16.5px,#0022ff 23.5px,#0000fa 28.5px,#0000cc 37.5px,#0009ff 44.5px,#0000f7 53.5px,#0000d1 59.5px,#0004ff 64.5px,#0047ff 67.5px,#0067ff 71.5px,#0090ff 74.5px,#004dff 83.5px,#002eff 86.5px,#0068ff 95.5px,#0052ff 102.5px,#008fff 113.5px,#0037ff 123.5px,#002eff 132.5px,#000bff 137.5px,#0000f8 141.5px,#0000d7 146.5px,#0000eb 151.5px,#0000c2 158.5px,#0000c8 162px)"></i><i style="left:113px;background:linear-gradient(#008aff 0px,#0085ff 4.5px,#0035ff 8.5px,#0006ff 17.5px,#0014ff 28.5px,#0000f2 31.5px,#0000db 34.5px,#0000e0 41.5px,#0000ff 47.5px,#0003ff 51.5px,#001bff 54.5px,#0000ff 56.5px,#0000d3 59.5px,#0008ff 63.5px,#0038ff 67.5px,#0042ff 71.5px,#0076ff 75.5px,#0063ff 82.5px,#0029ff 86.5px,#005eff 103.5px,#007dff 111.5px,#0052ff 117.5px,#0017ff 123.5px,#0018ff 134.5px,#0036ff 138.5px,#005eff 140.5px,#003eff 142.5px,#0000ee 144.5px,#0000c0 145.5px,#0000a6 146.5px,#0000b0 154.5px,#0000ae 162px)"></i><i style="left:114px;background:linear-gradient(#00baff 0px,#00a4ff 4.5px,#0023ff 9.5px,#0020ff 15.5px,#0011ff 20.5px,#0009ff 24.5px,#0058ff 32.5px,#003dff 35.5px,#0000f0 38.5px,#0000b4 41.5px,#0000ef 49.5px,#0000ed 59.5px,#0015ff 65.5px,#0035ff 70.5px,#00aaff 75.5px,#00d3ff 81.5px,#00abff 84.5px,#0072ff 87.5px,#004bff 97.5px,#0071ff 107.5px,#0012ff 123.5px,#004bff 133.5px,#0036ff 140.5px,#0000f9 143.5px,#0000ce 146.5px,#0000c0 157.5px,#0000c9 162px)"></i><i style="left:115px;background:linear-gradient(#0054ff 0px,#0030ff 11.5px,#0048ff 17.5px,#0006ff 25.5px,#0000da 34.5px,#000093 40.5px,#0000a1 43.5px,#0001ff 49.5px,#000aff 54.5px,#0015ff 65.5px,#006aff 69.5px,#00a2ff 73.5px,#00edff 77.5px,#00f0ff 79.5px,#00bcff 81.5px,#0098ff 82.5px,#0056ff 87.5px,#002cff 96.5px,#006eff 103.5px,#0001ff 123.5px,#003aff 131.5px,#0031ff 140.5px,#0000fc 143.5px,#0000db 146.5px,#0000f7 153.5px,#0000e5 162px)"></i><i style="left:116px;background:linear-gradient(#0030ff 0px,#0041ff 8.5px,#000bff 21.5px,#0033ff 28.5px,#0016ff 34.5px,#0000e6 37.5px,#0000b0 41.5px,#0000c3 45.5px,#0000f8 50.5px,#0008ff 57.5px,#001eff 61.5px,#0031ff 66.5px,#0018ff 69.5px,#0093ff 74.5px,#00b5ff 78.5px,#00bfff 80.5px,#0099ff 82.5px,#005bff 84.5px,#0042ff 87.5px,#0048ff 92.5px,#003aff 97.5px,#0065ff 102.5px,#0000f7 117.5px,#0000ed 122.5px,#0017ff 128.5px,#001aff 137.5px,#0058ff 140.5px,#0039ff 143.5px,#0006ff 145.5px,#0000b8 152.5px,#0000cc 157.5px,#0000e7 162px)"></i><i style="left:117px;background:linear-gradient(#0001ff 0px,#0045ff 11.5px,#0027ff 21.5px,#003eff 30.5px,#002aff 35.5px,#0000f5 39.5px,#0000ce 45.5px,#0000c8 55.5px,#0000f6 62.5px,#000aff 68.5px,#003dff 71.5px,#0090ff 74.5px,#00a1ff 78.5px,#0089ff 83.5px,#0055ff 86.5px,#0045ff 95.5px,#0043ff 103.5px,#0000ff 111.5px,#0000f2 112.5px,#0000fc 116.5px,#0000e7 119.5px,#000fff 123.5px,#0032ff 132.5px,#002aff 137.5px,#0041ff 140.5px,#0000fd 144.5px,#0000bf 147.5px,#0000b5 153.5px,#0000cb 155.5px,#0009ff 157.5px,#004dff 160.5px,#0054ff 162px)"></i><i style="left:118px;background:linear-gradient(#000eff 0px,#0037ff 11.5px,#0043ff 25.5px,#0013ff 32.5px,#0000f4 38.5px,#0000bf 49.5px,#00008d 55.5px,#0000b7 60.5px,#0004ff 68.5px,#0030ff 71.5px,#0085ff 75.5px,#00acff 81.5px,#0094ff 83.5px,#0036ff 87.5px,#0040ff 91.5px,#004bff 100.5px,#0019ff 115.5px,#0045ff 123.5px,#0044ff 134.5px,#003dff 138.5px,#0049ff 140.5px,#0000f4 143.5px,#0000d2 146.5px,#0000e1 154.5px,#0000f5 162px)"></i><i style="left:119px;background:linear-gradient(#0000e3 0px,#0006ff 4.5px,#0027ff 9.5px,#001aff 16.5px,#0051ff 22.5px,#0024ff 28.5px,#0000f3 34.5px,#0000ac 42.5px,#0000a9 55.5px,#0004ff 64.5px,#0024ff 67.5px,#0045ff 68.5px,#00bfff 70.5px,#00ecff 71.5px,#27ffd8 73.5px,#53ffac 77.5px,#5effa1 81.5px,#44ffbb 83.5px,#00ffff 85.5px,#0053ff 88.5px,#003cff 89.5px,#0063ff 96.5px,#0079ff 99.5px,#0052ff 106.5px,#0049ff 119.5px,#006cff 124.5px,#003bff 137.5px,#0000f5 142.5px,#0000c7 146.5px,#0000d6 155.5px,#0000ad 162px)"></i><i style="left:120px;background:linear-gradient(#0025ff 0px,#0047ff 9.5px,#003dff 15.5px,#0051ff 17.5px,#0088ff 20.5px,#006aff 23.5px,#0014ff 28.5px,#0000ec 33.5px,#0000c2 38.5px,#0000ed 43.5px,#0000e0 49.5px,#0000e5 54.5px,#0000e7 57.5px,#000aff 67.5px,#003aff 68.5px,#00f2ff 70.5px,#5effa1 72.5px,#9aff65 75.5px,#d4ff2b 80.5px,#b5ff4a 83.5px,#69ff96 85.5px,#30ffcf 86.5px,#00e1ff 87.5px,#0097ff 88.5px,#007bff 89.5px,#0073ff 93.5px,#005cff 96.5px,#0075ff 102.5px,#0044ff 108.5px,#0014ff 113.5px,#0068ff 129.5px,#0000fc 140.5px,#000094 146.5px,#000080 153.5px,#00008f 162px)"></i><i style="left:121px;background:linear-gradient(#0020ff 0px,#0054ff 8.5px,#0052ff 13.5px,#007cff 19.5px,#0044ff 24.5px,#0023ff 28.5px,#0000f8 34.5px,#0000d1 39.5px,#0000d9 45.5px,#0000c0 50.5px,#0006ff 56.5px,#0019ff 60.5px,#0016ff 66.5px,#002cff 68.5px,#00b7ff 73.5px,#07fff8 79.5px,#00fcff 82.5px,#0053ff 87.5px,#003cff 89.5px,#0074ff 102.5px,#0072ff 105.5px,#0018ff 113.5px,#002aff 117.5px,#006cff 125.5px,#004fff 129.5px,#000dff 134.5px,#0000f8 141.5px,#0000a5 147.5px,#000080 152.5px,#00008e 156.5px,#0000cb 162px)"></i><i style="left:122px;background:linear-gradient(#0028ff 0px,#001aff 12.5px,#0048ff 19.5px,#0015ff 29.5px,#0000f2 35.5px,#0000cd 39.5px,#0000fc 51.5px,#0004ff 60.5px,#0010ff 63.5px,#0017ff 69.5px,#0053ff 72.5px,#0092ff 75.5px,#009dff 80.5px,#0070ff 83.5px,#0024ff 86.5px,#0020ff 90.5px,#0078ff 99.5px,#0083ff 102.5px,#004eff 107.5px,#003eff 123.5px,#0061ff 130.5px,#0027ff 140.5px,#0003ff 142.5px,#0000bd 146.5px,#0000a5 155.5px,#0000b8 162px)"></i><i style="left:123px;background:linear-gradient(#00a4ff 0px,#0053ff 5.5px,#0046ff 21.5px,#0000fa 32.5px,#0000dd 39.5px,#000cff 45.5px,#0000f7 51.5px,#0000cf 56.5px,#0000e6 59.5px,#0011ff 60.5px,#0047ff 62.5px,#003dff 64.5px,#0006ff 66.5px,#0000f6 70.5px,#0023ff 72.5px,#0063ff 75.5px,#0067ff 81.5px,#0028ff 86.5px,#0066ff 102.5px,#002eff 114.5px,#0042ff 122.5px,#004fff 128.5px,#0068ff 134.5px,#002dff 141.5px,#0000f6 144.5px,#0000c5 147.5px,#0000ad 152.5px,#0000c9 162px)"></i><i style="left:124px;background:linear-gradient(#009cff 0px,#0018ff 12.5px,#003fff 19.5px,#002fff 26.5px,#0019ff 34.5px,#0000f3 38.5px,#0000f7 42.5px,#001bff 48.5px,#0000fa 51.5px,#0000c4 56.5px,#0000d2 59.5px,#0005ff 61.5px,#0015ff 63.5px,#0000f9 66.5px,#000bff 70.5px,#0063ff 74.5px,#0057ff 80.5px,#002cff 86.5px,#0069ff 91.5px,#0054ff 102.5px,#002bff 106.5px,#003bff 115.5px,#007fff 121.5px,#0048ff 136.5px,#0040ff 140.5px,#0000fa 144.5px,#0000c3 147.5px,#0000aa 150.5px,#0000e6 154.5px,#0000d5 156.5px,#0000c0 157.5px,#0000c9 162px)"></i><i style="left:125px;background:linear-gradient(#009aff 0px,#0032ff 10.5px,#0010ff 14.5px,#002cff 24.5px,#000eff 34.5px,#0000fa 40.5px,#001cff 47.5px,#0000f1 53.5px,#0000ca 57.5px,#0000e6 65.5px,#0002ff 67.5px,#0064ff 71.5px,#00b1ff 74.5px,#0099ff 79.5px,#005cff 85.5px,#009dff 90.5px,#0074ff 98.5px,#001dff 103.5px,#0014ff 107.5px,#006eff 123.5px,#0027ff 133.5px,#004aff 139.5px,#0017ff 142.5px,#0000ff 143.5px,#0000c6 146.5px,#0000c4 149.5px,#0000e2 152.5px,#0000d2 156.5px,#0000e9 162px)"></i><i style="left:126px;background:linear-gradient(#00a6ff 0px,#006cff 5.5px,#0000fe 12.5px,#000bff 16.5px,#0042ff 21.5px,#002aff 26.5px,#0000f9 31.5px,#0000d4 39.5px,#0002ff 42.5px,#0037ff 46.5px,#0030ff 49.5px,#0000ff 52.5px,#0000e3 60.5px,#0008ff 67.5px,#0038ff 70.5px,#00abff 74.5px,#00d6ff 79.5px,#00c3ff 82.5px,#0077ff 85.5px,#0075ff 86.5px,#00aeff 89.5px,#00a0ff 93.5px,#006aff 100.5px,#004eff 103.5px,#0036ff 109.5px,#0026ff 116.5px,#001fff 120.5px,#0050ff 125.5px,#0029ff 129.5px,#0010ff 131.5px,#007cff 136.5px,#005bff 140.5px,#0006ff 143.5px,#0000af 146.5px,#0000a3 150.5px,#0000dd 162px)"></i><i style="left:127px;background:linear-gradient(#00d6ff 0px,#0065ff 5.5px,#001cff 11.5px,#0014ff 15.5px,#005fff 19.5px,#002cff 27.5px,#0002ff 34.5px,#0000de 43.5px,#0003ff 51.5px,#0000f6 67.5px,#0016ff 70.5px,#00aeff 75.5px,#00d3ff 79.5px,#00b8ff 82.5px,#004eff 86.5px,#0039ff 94.5px,#0074ff 99.5px,#003cff 112.5px,#0017ff 119.5px,#004cff 123.5px,#007eff 126.5px,#0077ff 129.5px,#0055ff 133.5px,#0065ff 139.5px,#0008ff 143.5px,#0000be 147.5px,#00009f 162px)"></i><i style="left:128px;background:linear-gradient(#0051ff 0px,#001dff 7.5px,#002bff 13.5px,#005bff 16.5px,#0038ff 19.5px,#001dff 20.5px,#0028ff 26.5px,#0015ff 36.5px,#0004ff 41.5px,#001aff 49.5px,#0000f6 55.5px,#001eff 70.5px,#00a2ff 75.5px,#00ddff 80.5px,#00d0ff 82.5px,#0062ff 86.5px,#0034ff 93.5px,#006bff 107.5px,#0041ff 111.5px,#0007ff 115.5px,#0010ff 119.5px,#007fff 126.5px,#006fff 130.5px,#0063ff 136.5px,#0057ff 140.5px,#0000fb 144.5px,#0000ca 147.5px,#0000dc 156.5px,#0000b3 162px)"></i><i style="left:129px;background:linear-gradient(#0033ff 0px,#0000fc 8.5px,#001aff 17.5px,#0000f9 36.5px,#0000ea 41.5px,#0000f1 54.5px,#0000f4 61.5px,#0000f5 65.5px,#0029ff 70.5px,#0067ff 74.5px,#0088ff 78.5px,#00b8ff 82.5px,#005dff 87.5px,#004cff 95.5px,#0065ff 106.5px,#0024ff 116.5px,#006aff 126.5px,#007eff 135.5px,#0060ff 140.5px,#0029ff 143.5px,#0047ff 147.5px,#0000f5 152.5px,#0000dc 154.5px,#0000fe 160.5px,#0000fe 162px)"></i><i style="left:130px;background:linear-gradient(#003bff 0px,#0003ff 8.5px,#001aff 20.5px,#0000f6 31.5px,#0015ff 37.5px,#0000f2 41.5px,#0000a0 48.5px,#0000b8 52.5px,#0007ff 58.5px,#0041ff 68.5px,#0043ff 79.5px,#0056ff 82.5px,#002aff 87.5px,#0054ff 93.5px,#0020ff 100.5px,#0031ff 103.5px,#005bff 106.5px,#0074ff 118.5px,#0049ff 126.5px,#0065ff 139.5px,#0027ff 143.5px,#003fff 148.5px,#0000fe 155.5px,#0003ff 162px)"></i><i style="left:131px;background:linear-gradient(#002fff 0px,#0002ff 3.5px,#0036ff 26.5px,#000fff 33.5px,#0011ff 39.5px,#0000f4 42.5px,#0000b0 48.5px,#0000be 53.5px,#0001ff 58.5px,#0024ff 63.5px,#0037ff 68.5px,#00b4ff 73.5px,#00baff 76.5px,#0076ff 83.5px,#002bff 87.5px,#0028ff 89.5px,#004eff 93.5px,#002cff 101.5px,#0034ff 102.5px,#00acff 106.5px,#00ceff 109.5px,#00acff 117.5px,#004dff 121.5px,#003dff 126.5px,#004dff 132.5px,#0021ff 138.5px,#0000fa 144.5px,#0000d2 152.5px,#0000ba 160.5px,#0000bc 162px)"></i><i style="left:132px;background:linear-gradient(#0056ff 0px,#0056ff 7.5px,#0065ff 9.5px,#001fff 14.5px,#001eff 18.5px,#0052ff 25.5px,#0029ff 29.5px,#0000f9 32.5px,#0000ea 34.5px,#000fff 36.5px,#0000f9 39.5px,#0000d8 42.5px,#0000ca 51.5px,#0000ea 55.5px,#0003ff 56.5px,#0046ff 59.5px,#0049ff 61.5px,#0021ff 64.5px,#001aff 67.5px,#0040ff 68.5px,#00efff 70.5px,#6aff95 72.5px,#a4ff5b 74.5px,#a4ff5b 78.5px,#8eff71 82.5px,#58ffa7 84.5px,#00edff 86.5px,#0056ff 88.5px,#003cff 89.5px,#0054ff 93.5px,#002dff 100.5px,#0097ff 110.5px,#0062ff 117.5px,#0043ff 122.5px,#0058ff 130.5px,#0000fb 137.5px,#0000ef 148.5px,#0000e3 150.5px,#0000f9 153.5px,#0000af 160.5px,#0000ab 162px)"></i><i style="left:133px;background:linear-gradient(#0036ff 0px,#0031ff 7.5px,#0038ff 13.5px,#0057ff 20.5px,#0041ff 26.5px,#0000fe 34.5px,#0000b7 42.5px,#0000dd 47.5px,#0000fe 51.5px,#0016ff 55.5px,#004eff 59.5px,#002eff 62.5px,#0007ff 64.5px,#001bff 67.5px,#003fff 68.5px,#00cbff 70.5px,#07fff8 71.5px,#5bffa4 73.5px,#88ff77 76.5px,#91ff6e 81.5px,#6dff92 83.5px,#1affe5 85.5px,#00dfff 86.5px,#0061ff 88.5px,#0048ff 89.5px,#005cff 95.5px,#0073ff 99.5px,#008bff 102.5px,#0057ff 107.5px,#007dff 116.5px,#0064ff 125.5px,#0089ff 128.5px,#0079ff 130.5px,#0043ff 132.5px,#000eff 138.5px,#0000f5 142.5px,#0000c8 147.5px,#0000cc 154.5px,#000088 162px)"></i><i style="left:134px;background:linear-gradient(#0029ff 0px,#0027ff 14.5px,#0053ff 23.5px,#0037ff 29.5px,#005aff 32.5px,#0020ff 37.5px,#0000fc 39.5px,#0000c7 43.5px,#0000e4 47.5px,#0006ff 50.5px,#0012ff 56.5px,#0000fb 59.5px,#0015ff 64.5px,#0070ff 70.5px,#00cbff 74.5px,#00cdff 78.5px,#00abff 82.5px,#0055ff 86.5px,#004dff 88.5px,#00acff 91.5px,#00b7ff 93.5px,#0071ff 97.5px,#0072ff 99.5px,#00beff 103.5px,#00b7ff 105.5px,#002cff 110.5px,#0053ff 115.5px,#0071ff 119.5px,#005aff 127.5px,#0044ff 132.5px,#0000fe 140.5px,#0000a9 145.5px,#0000c5 153.5px,#000091 158.5px,#000080 162px)"></i><i style="left:135px;background:linear-gradient(#0012ff 0px,#004cff 9.5px,#000cff 15.5px,#002eff 28.5px,#0067ff 30.5px,#0075ff 32.5px,#005aff 35.5px,#0029ff 41.5px,#0004ff 46.5px,#0000f1 55.5px,#0000f1 60.5px,#0021ff 67.5px,#003fff 70.5px,#00a6ff 74.5px,#00c0ff 78.5px,#00a1ff 82.5px,#0038ff 86.5px,#004dff 94.5px,#0023ff 99.5px,#004fff 104.5px,#000bff 113.5px,#0031ff 117.5px,#005aff 121.5px,#0040ff 131.5px,#002bff 137.5px,#002eff 140.5px,#0000fa 144.5px,#0000b9 151.5px,#000094 157.5px,#000080 160.5px,#000080 162px)"></i><i style="left:136px;background:linear-gradient(#0021ff 0px,#0054ff 6.5px,#000bff 21.5px,#006eff 28.5px,#004cff 31.5px,#0020ff 33.5px,#0028ff 40.5px,#0000f9 45.5px,#0000ca 53.5px,#0005ff 59.5px,#001cff 64.5px,#0021ff 69.5px,#004eff 71.5px,#00b0ff 74.5px,#00d2ff 77.5px,#00c4ff 81.5px,#0070ff 84.5px,#0018ff 87.5px,#0007ff 91.5px,#003aff 99.5px,#008dff 105.5px,#008bff 109.5px,#0040ff 114.5px,#003bff 119.5px,#0055ff 132.5px,#0033ff 140.5px,#0000f6 144.5px,#0000b7 151.5px,#0000a4 156.5px,#000080 160.5px,#000080 162px)"></i><i style="left:137px;background:linear-gradient(#001cff 0px,#004fff 7.5px,#0041ff 18.5px,#002fff 30.5px,#0000f2 35.5px,#0000ba 50.5px,#0000ff 54.5px,#0025ff 63.5px,#0020ff 69.5px,#005bff 72.5px,#008eff 75.5px,#0086ff 82.5px,#0032ff 87.5px,#0025ff 96.5px,#008dff 103.5px,#00a6ff 108.5px,#0088ff 111.5px,#004bff 117.5px,#006bff 129.5px,#0018ff 138.5px,#0000fb 141.5px,#0000bc 146.5px,#0000c8 158.5px,#0000ba 162px)"></i><i style="left:138px;background:linear-gradient(#0025ff 0px,#0044ff 6.5px,#007eff 9.5px,#006aff 11.5px,#003eff 13.5px,#0000f4 23.5px,#0000eb 33.5px,#0000c3 40.5px,#0000c5 49.5px,#0000fe 53.5px,#0008ff 58.5px,#0000f0 69.5px,#000fff 71.5px,#006bff 74.5px,#00bfff 77.5px,#00caff 80.5px,#009dff 82.5px,#0047ff 84.5px,#001cff 87.5px,#0036ff 93.5px,#0067ff 99.5px,#0096ff 105.5px,#007dff 111.5px,#004cff 118.5px,#0043ff 125.5px,#0026ff 133.5px,#000cff 137.5px,#0011ff 141.5px,#0000ed 150.5px,#0000aa 162px)"></i><i style="left:139px;background:linear-gradient(#0051ff 0px,#004aff 13.5px,#0005ff 20.5px,#0000dc 24.5px,#0000fb 35.5px,#0000f9 38.5px,#0000ea 42.5px,#0000c7 52.5px,#0007ff 70.5px,#0065ff 75.5px,#0089ff 81.5px,#0060ff 84.5px,#0029ff 87.5px,#002aff 91.5px,#003dff 95.5px,#0043ff 101.5px,#0067ff 111.5px,#0013ff 126.5px,#004dff 132.5px,#003cff 138.5px,#003bff 141.5px,#0000fa 145.5px,#0000f7 149.5px,#0000fb 153.5px,#0000bf 157.5px,#0000a5 162px)"></i><i style="left:140px;background:linear-gradient(#006cff 0px,#002bff 4.5px,#002eff 13.5px,#0018ff 20.5px,#0007ff 28.5px,#0031ff 35.5px,#0000fb 39.5px,#0000e5 42.5px,#0000d3 46.5px,#0000d1 52.5px,#0000df 55.5px,#000eff 57.5px,#0029ff 59.5px,#0010ff 63.5px,#0028ff 69.5px,#0095ff 75.5px,#00c4ff 81.5px,#00afff 83.5px,#004fff 87.5px,#0052ff 90.5px,#0061ff 94.5px,#0048ff 98.5px,#0069ff 105.5px,#0056ff 112.5px,#0006ff 123.5px,#0025ff 128.5px,#003cff 132.5px,#0040ff 138.5px,#0039ff 141.5px,#0000fb 145.5px,#0000d1 156.5px,#0000e8 162px)"></i><i style="left:141px;background:linear-gradient(#007bff 0px,#0051ff 2.5px,#0017ff 4.5px,#0000f7 10.5px,#0000ef 16.5px,#000aff 23.5px,#0009ff 28.5px,#0037ff 35.5px,#0000f6 42.5px,#0000e5 48.5px,#000eff 58.5px,#0012ff 63.5px,#0003ff 68.5px,#002dff 71.5px,#007aff 74.5px,#00a7ff 80.5px,#009aff 82.5px,#002eff 86.5px,#0024ff 87.5px,#0096ff 91.5px,#00a1ff 93.5px,#0056ff 97.5px,#0053ff 101.5px,#0082ff 107.5px,#0044ff 117.5px,#0034ff 124.5px,#0029ff 130.5px,#0044ff 140.5px,#0003ff 144.5px,#0000d2 149.5px,#0000ba 155.5px,#0000e4 162px)"></i><i style="left:142px;background:linear-gradient(#0049ff 0px,#0023ff 11.5px,#0000fd 16.5px,#000cff 26.5px,#0052ff 31.5px,#0045ff 33.5px,#0013ff 35.5px,#0000f9 47.5px,#0000c7 53.5px,#0007ff 61.5px,#000dff 66.5px,#0000fe 70.5px,#0062ff 75.5px,#006fff 81.5px,#0034ff 84.5px,#0003ff 86.5px,#000cff 89.5px,#0074ff 93.5px,#006cff 95.5px,#003cff 99.5px,#0074ff 110.5px,#0032ff 120.5px,#0040ff 130.5px,#001cff 140.5px,#0000f6 142.5px,#00009c 146.5px,#00008d 151.5px,#0000c3 156.5px,#0008ff 159.5px,#001aff 162px)"></i><i style="left:143px;background:linear-gradient(#001cff 0px,#0031ff 6.5px,#004cff 12.5px,#004fff 19.5px,#0000fb 25.5px,#000aff 32.5px,#0000fc 35.5px,#0000d7 38.5px,#0000e5 47.5px,#0000d4 53.5px,#0004ff 61.5px,#000fff 70.5px,#00a8ff 78.5px,#00c2ff 81.5px,#00aeff 83.5px,#0000fa 88.5px,#0000f0 89.5px,#0011ff 91.5px,#0037ff 93.5px,#0022ff 98.5px,#003fff 104.5px,#0023ff 115.5px,#0011ff 120.5px,#0054ff 127.5px,#0033ff 132.5px,#000fff 137.5px,#0000fa 141.5px,#0000b0 146.5px,#0000b3 151.5px,#0000ee 156.5px,#0000f3 162px)"></i><i style="left:144px;background:linear-gradient(#0033ff 0px,#0021ff 7.5px,#004fff 10.5px,#005aff 17.5px,#0000fe 24.5px,#0000ce 33.5px,#0000be 38.5px,#0000e4 60.5px,#000cff 66.5px,#0030ff 70.5px,#00c6ff 75.5px,#00f4ff 79.5px,#00f2ff 82.5px,#00a2ff 85.5px,#0054ff 88.5px,#003cff 90.5px,#006cff 93.5px,#0033ff 98.5px,#0057ff 105.5px,#001bff 114.5px,#002eff 120.5px,#006eff 128.5px,#0043ff 137.5px,#0040ff 140.5px,#0005ff 144.5px,#0000d4 149.5px,#0000eb 155.5px,#0011ff 160.5px,#0013ff 162px)"></i><i style="left:145px;background:linear-gradient(#0049ff 0px,#0027ff 20.5px,#0000f2 26.5px,#0000c2 34.5px,#0000e8 41.5px,#0000a5 56.5px,#0000f9 64.5px,#0008ff 68.5px,#002bff 70.5px,#00bbff 74.5px,#00ecff 78.5px,#00f2ff 81.5px,#00b2ff 84.5px,#005eff 88.5px,#0087ff 91.5px,#00a0ff 93.5px,#0071ff 95.5px,#001dff 98.5px,#0024ff 104.5px,#0037ff 108.5px,#0000ff 115.5px,#003dff 127.5px,#003cff 140.5px,#0000f5 145.5px,#0000ec 151.5px,#0011ff 157.5px,#0023ff 162px)"></i><i style="left:146px;background:linear-gradient(#0000e0 0px,#000cff 3.5px,#006aff 8.5px,#0077ff 10.5px,#0027ff 15.5px,#0024ff 23.5px,#0000f5 27.5px,#0000d3 32.5px,#0000fb 39.5px,#0000e8 47.5px,#0000e1 52.5px,#0000c6 57.5px,#0000ef 63.5px,#0007ff 68.5px,#0048ff 71.5px,#00a8ff 74.5px,#00c5ff 77.5px,#00baff 82.5px,#005eff 86.5px,#005dff 88.5px,#00baff 92.5px,#00c0ff 93.5px,#0085ff 95.5px,#0036ff 97.5px,#001eff 99.5px,#0017ff 109.5px,#0000fa 128.5px,#002dff 137.5px,#0043ff 142.5px,#0000fe 145.5px,#0000d0 147.5px,#0000d0 162px)"></i><i style="left:147px;background:linear-gradient(#0003ff 0px,#004eff 7.5px,#002eff 14.5px,#001eff 22.5px,#000aff 27.5px,#0000e9 33.5px,#0000f8 39.5px,#0000dd 50.5px,#0000ce 54.5px,#0002ff 56.5px,#000fff 58.5px,#0000f1 60.5px,#0000c9 62.5px,#0000c5 66.5px,#000bff 70.5px,#00a6ff 74.5px,#00ebff 77.5px,#00edff 79.5px,#00acff 82.5px,#0060ff 85.5px,#0055ff 87.5px,#008cff 90.5px,#00cbff 92.5px,#00d7ff 93.5px,#00abff 95.5px,#0055ff 98.5px,#0000fc 107.5px,#000dff 117.5px,#0000ed 127.5px,#0012ff 133.5px,#0043ff 139.5px,#0022ff 141.5px,#0007ff 142.5px,#0000a5 146.5px,#0000c4 155.5px,#0000ee 162px)"></i><i style="left:148px;background:linear-gradient(#001fff 0px,#004dff 9.5px,#0000fb 19.5px,#004dff 28.5px,#0030ff 31.5px,#0000f4 34.5px,#0000ea 37.5px,#0014ff 43.5px,#0010ff 47.5px,#0000e7 52.5px,#0000c8 59.5px,#0000bd 64.5px,#0000ff 69.5px,#0061ff 72.5px,#00d3ff 75.5px,#00f3ff 78.5px,#00d3ff 81.5px,#0071ff 85.5px,#006cff 87.5px,#009eff 90.5px,#00f0ff 93.5px,#00efff 94.5px,#007bff 98.5px,#0000fa 105.5px,#0000dc 109.5px,#0004ff 114.5px,#001bff 117.5px,#0023ff 130.5px,#0013ff 136.5px,#0017ff 140.5px,#0000ee 142.5px,#0000a5 146.5px,#0000b6 153.5px,#0003ff 156.5px,#0047ff 160.5px,#004dff 162px)"></i><i style="left:149px;background:linear-gradient(#0044ff 0px,#0039ff 9.5px,#001bff 14.5px,#001bff 22.5px,#0000f5 35.5px,#0000f0 39.5px,#0015ff 44.5px,#0001ff 52.5px,#0000ec 57.5px,#0000d1 61.5px,#0007ff 67.5px,#002aff 70.5px,#0091ff 74.5px,#0098ff 79.5px,#0088ff 83.5px,#005cff 87.5px,#007cff 90.5px,#00b4ff 92.5px,#00bdff 93.5px,#00aaff 94.5px,#0031ff 97.5px,#0014ff 99.5px,#0017ff 112.5px,#007dff 119.5px,#0078ff 123.5px,#001aff 131.5px,#0019ff 140.5px,#0000eb 143.5px,#0000af 147.5px,#0000a7 152.5px,#0000f7 162px)"></i><i style="left:150px;background:linear-gradient(#0054ff 0px,#0017ff 13.5px,#0033ff 20.5px,#001aff 26.5px,#0026ff 32.5px,#003aff 35.5px,#0004ff 40.5px,#0014ff 45.5px,#0000f2 50.5px,#0000df 58.5px,#000eff 63.5px,#003cff 70.5px,#00d5ff 75.5px,#00e1ff 79.5px,#00b0ff 83.5px,#0033ff 87.5px,#0026ff 88.5px,#0047ff 90.5px,#0091ff 92.5px,#00a3ff 93.5px,#0097ff 94.5px,#0024ff 97.5px,#0000fd 99.5px,#0000e8 104.5px,#000cff 109.5px,#0042ff 116.5px,#0054ff 136.5px,#0038ff 140.5px,#0001ff 143.5px,#0000c3 147.5px,#00009f 162px)"></i><i style="left:151px;background:linear-gradient(#0040ff 0px,#0018ff 14.5px,#0026ff 19.5px,#0000ff 24.5px,#0022ff 31.5px,#0000f5 37.5px,#000cff 42.5px,#000cff 45.5px,#0000eb 47.5px,#0000d2 51.5px,#0000d4 59.5px,#000aff 65.5px,#004bff 70.5px,#00deff 74.5px,#02fffd 76.5px,#0dfff2 80.5px,#00efff 82.5px,#0048ff 86.5px,#001eff 88.5px,#0037ff 90.5px,#0081ff 92.5px,#0092ff 93.5px,#0083ff 94.5px,#0017ff 97.5px,#0000f4 99.5px,#0000db 103.5px,#000dff 108.5px,#001cff 112.5px,#0008ff 117.5px,#0023ff 121.5px,#0069ff 125.5px,#0072ff 129.5px,#003dff 137.5px,#0048ff 140.5px,#0006ff 144.5px,#0000a9 149.5px,#000080 158.5px,#000080 162px)"></i><i style="left:152px;background:linear-gradient(#001fff 0px,#0035ff 8.5px,#0016ff 12.5px,#0022ff 16.5px,#0011ff 26.5px,#005bff 29.5px,#0065ff 31.5px,#0019ff 35.5px,#0000f8 42.5px,#0000d8 45.5px,#000aff 49.5px,#0016ff 52.5px,#0000f1 55.5px,#0000c5 62.5px,#000aff 67.5px,#005fff 70.5px,#00eaff 73.5px,#07fff8 74.5px,#11ffee 80.5px,#00f4ff 82.5px,#0069ff 86.5px,#0056ff 88.5px,#007eff 90.5px,#00cbff 92.5px,#00e0ff 93.5px,#00d0ff 94.5px,#0040ff 97.5px,#0010ff 99.5px,#000fff 102.5px,#002aff 107.5px,#0011ff 117.5px,#0023ff 123.5px,#000eff 129.5px,#000fff 134.5px,#0000f3 140.5px,#000093 146.5px,#00008c 148.5px,#0000b0 151.5px,#000098 153.5px,#000080 154.5px,#000080 162px)"></i><i style="left:153px;background:linear-gradient(#001cff 0px,#0033ff 8.5px,#0004ff 15.5px,#0008ff 27.5px,#0009ff 32.5px,#0000f0 38.5px,#0000f7 42.5px,#0000da 47.5px,#0000fb 53.5px,#0000c2 59.5px,#00009a 62.5px,#0000b3 65.5px,#000cff 68.5px,#0096ff 71.5px,#00fcff 73.5px,#49ffb6 76.5px,#44ffbb 79.5px,#10ffef 82.5px,#00ccff 84.5px,#007fff 87.5px,#0082ff 89.5px,#00bcff 91.5px,#09fff6 93.5px,#02fffd 94.5px,#00d3ff 95.5px,#001dff 98.5px,#0000f5 99.5px,#0000da 108.5px,#000bff 112.5px,#0088ff 116.5px,#009bff 119.5px,#0061ff 122.5px,#002fff 124.5px,#000cff 129.5px,#000eff 135.5px,#0000e3 139.5px,#000087 143.5px,#000085 148.5px,#0000a3 152.5px,#0000a6 157.5px,#0000c0 162px)"></i><i style="left:154px;background:linear-gradient(#004bff 0px,#0062ff 3.5px,#008fff 7.5px,#0079ff 9.5px,#0001ff 13.5px,#0000f7 18.5px,#0021ff 31.5px,#0000f8 34.5px,#0000d2 38.5px,#0000fd 52.5px,#0000ed 59.5px,#0000c0 63.5px,#0000e7 66.5px,#0000ff 67.5px,#0062ff 70.5px,#00f1ff 73.5px,#36ffc9 76.5px,#29ffd6 79.5px,#06fff9 81.5px,#00a5ff 84.5px,#006dff 86.5px,#006aff 88.5px,#00a0ff 90.5px,#00f7ff 92.5px,#07fff8 93.5px,#00efff 94.5px,#0048ff 97.5px,#0014ff 99.5px,#0015ff 107.5px,#0000f8 112.5px,#001cff 115.5px,#0077ff 119.5px,#0073ff 121.5px,#0020ff 124.5px,#0021ff 131.5px,#0035ff 135.5px,#0059ff 137.5px,#0053ff 139.5px,#0012ff 141.5px,#0000c8 143.5px,#0000a2 145.5px,#0000b7 152.5px,#0000b8 156.5px,#0000ef 162px)"></i><i style="left:155px;background:linear-gradient(#0063ff 0px,#0061ff 5.5px,#0055ff 8.5px,#0024ff 11.5px,#003cff 21.5px,#005eff 28.5px,#0041ff 32.5px,#0001ff 35.5px,#0000c4 39.5px,#0000bd 48.5px,#0000e0 56.5px,#0000f4 59.5px,#000dff 66.5px,#004eff 70.5px,#00f6ff 74.5px,#2fffd0 77.5px,#0cfff3 81.5px,#00e8ff 82.5px,#0053ff 85.5px,#002eff 87.5px,#0047ff 89.5px,#00c5ff 92.5px,#00d9ff 93.5px,#00caff 94.5px,#0044ff 97.5px,#0025ff 99.5px,#0041ff 107.5px,#000cff 124.5px,#0028ff 136.5px,#0018ff 140.5px,#0000f0 142.5px,#0000ab 145.5px,#0000b9 150.5px,#0000b9 155.5px,#0000ad 162px)"></i><i style="left:156px;background:linear-gradient(#0071ff 0px,#0048ff 5.5px,#0022ff 8.5px,#0056ff 14.5px,#0047ff 19.5px,#0054ff 24.5px,#005cff 30.5px,#0021ff 34.5px,#0000f4 36.5px,#0000ce 39.5px,#0000c9 47.5px,#0000a4 53.5px,#0000c5 56.5px,#0001ff 59.5px,#0032ff 67.5px,#0072ff 70.5px,#00fcff 74.5px,#4cffb3 79.5px,#3affc5 81.5px,#00f3ff 83.5px,#0067ff 86.5px,#0043ff 88.5px,#0061ff 90.5px,#00b1ff 92.5px,#00c5ff 93.5px,#00baff 94.5px,#004dff 97.5px,#003aff 100.5px,#003fff 111.5px,#0021ff 124.5px,#0000ef 129.5px,#0000da 134.5px,#0006ff 140.5px,#0000e9 143.5px,#0000ff 147.5px,#0000d2 150.5px,#0000c3 155.5px,#000084 162px)"></i><i style="left:157px;background:linear-gradient(#004dff 0px,#0049ff 7.5px,#005dff 12.5px,#0000fb 19.5px,#0018ff 24.5px,#0028ff 29.5px,#0000f2 36.5px,#0000e0 41.5px,#0000e3 49.5px,#0000c6 54.5px,#0009ff 59.5px,#003dff 63.5px,#006dff 70.5px,#00a8ff 72.5px,#00f1ff 74.5px,#33ffcc 77.5px,#3fffc0 80.5px,#00f8ff 83.5px,#0089ff 86.5px,#0075ff 89.5px,#00a8ff 91.5px,#00c9ff 92.5px,#00d5ff 93.5px,#00c2ff 94.5px,#0046ff 97.5px,#0031ff 99.5px,#0067ff 109.5px,#002dff 118.5px,#0000f7 125.5px,#0000d2 131.5px,#000cff 138.5px,#0014ff 141.5px,#0005ff 145.5px,#000aff 148.5px,#000092 162px)"></i><i style="left:158px;background:linear-gradient(#0022ff 0px,#003aff 6.5px,#0059ff 11.5px,#001bff 19.5px,#0026ff 26.5px,#0000fb 35.5px,#0000dd 46.5px,#0000b9 55.5px,#0003ff 62.5px,#005bff 70.5px,#00e9ff 74.5px,#07fff8 75.5px,#33ffcc 78.5px,#0ffff0 81.5px,#00eeff 82.5px,#0073ff 85.5px,#0053ff 87.5px,#0060ff 89.5px,#00b2ff 92.5px,#00baff 93.5px,#007dff 95.5px,#005cff 96.5px,#0063ff 98.5px,#0081ff 101.5px,#005fff 104.5px,#003bff 114.5px,#0000fb 119.5px,#0000c5 124.5px,#0000db 128.5px,#0006ff 132.5px,#0002ff 142.5px,#000eff 145.5px,#0000f4 147.5px,#0000c3 150.5px,#0000a7 155.5px,#0000c9 162px)"></i><i style="left:159px;background:linear-gradient(#000cff 0px,#0039ff 5.5px,#006eff 10.5px,#0044ff 16.5px,#0000fc 27.5px,#0000e9 31.5px,#0000f2 36.5px,#0000a6 52.5px,#0000c7 61.5px,#0000e6 67.5px,#0000fe 69.5px,#004dff 71.5px,#00daff 74.5px,#09fff6 76.5px,#08fff7 79.5px,#00d0ff 82.5px,#005eff 86.5px,#0066ff 89.5px,#00ceff 93.5px,#00abff 95.5px,#0088ff 97.5px,#00a7ff 101.5px,#0050ff 107.5px,#0000f6 116.5px,#0000c0 122.5px,#0000e8 127.5px,#0010ff 130.5px,#0011ff 134.5px,#0000f0 139.5px,#0000da 148.5px,#00009f 151.5px,#0000a9 156.5px,#0000cd 162px)"></i><i style="left:160px;background:linear-gradient(#0023ff 0px,#004cff 8.5px,#0025ff 14.5px,#0002ff 19.5px,#0009ff 27.5px,#0008ff 36.5px,#001cff 40.5px,#0000fa 42.5px,#0000c6 44.5px,#0000ca 56.5px,#0000dc 66.5px,#0003ff 69.5px,#00c5ff 75.5px,#03fffc 80.5px,#00fcff 82.5px,#0060ff 87.5px,#0054ff 90.5px,#0073ff 93.5px,#0014ff 97.5px,#0036ff 103.5px,#0026ff 108.5px,#0000f6 122.5px,#0027ff 135.5px,#0000f7 140.5px,#0000b4 145.5px,#0000cb 157.5px,#0000cd 162px)"></i><i style="left:161px;background:linear-gradient(#003cff 0px,#0032ff 12.5px,#0003ff 18.5px,#001cff 25.5px,#0000f2 33.5px,#0000db 37.5px,#0000f0 43.5px,#0000bc 58.5px,#0000ad 65.5px,#0000d0 68.5px,#0008ff 70.5px,#00b2ff 74.5px,#00e1ff 77.5px,#00eaff 81.5px,#00c0ff 83.5px,#004aff 86.5px,#0028ff 88.5px,#003aff 90.5px,#006aff 92.5px,#0071ff 93.5px,#003eff 95.5px,#0000fe 97.5px,#0000ec 100.5px,#000eff 110.5px,#0024ff 115.5px,#001eff 120.5px,#005cff 128.5px,#0051ff 134.5px,#0000f9 141.5px,#0000b3 147.5px,#0000d4 152.5px,#0000b2 162px)"></i><i style="left:162px;background:linear-gradient(#0047ff 0px,#002fff 15.5px,#0023ff 20.5px,#0033ff 25.5px,#0000f5 33.5px,#0000f8 39.5px,#0000ef 43.5px,#0000c0 48.5px,#0000d3 52.5px,#0000d4 55.5px,#0000dd 61.5px,#0000b6 66.5px,#0000d5 69.5px,#0000f0 70.5px,#0017ff 71.5px,#0093ff 74.5px,#00d7ff 78.5px,#00ebff 82.5px,#00a8ff 84.5px,#0062ff 86.5px,#0049ff 88.5px,#006bff 91.5px,#007eff 93.5px,#004cff 95.5px,#0008ff 97.5px,#0000d9 101.5px,#0000e9 107.5px,#0012ff 111.5px,#0038ff 114.5px,#006eff 117.5px,#0064ff 120.5px,#0042ff 122.5px,#0066ff 126.5px,#0036ff 134.5px,#0000f7 139.5px,#00008f 146.5px,#00008d 151.5px,#0000b4 156.5px,#0000ae 162px)"></i><i style="left:163px;background:linear-gradient(#004dff 0px,#003eff 11.5px,#0046ff 16.5px,#0020ff 22.5px,#000bff 28.5px,#0000ef 32.5px,#0000e4 40.5px,#0000b1 45.5px,#0000c5 49.5px,#0008ff 55.5px,#0010ff 60.5px,#0000e6 65.5px,#0000f1 69.5px,#0001ff 70.5px,#0062ff 74.5px,#008aff 81.5px,#0041ff 87.5px,#0063ff 90.5px,#0089ff 92.5px,#007aff 94.5px,#0000fb 98.5px,#0000da 101.5px,#0009ff 109.5px,#004dff 115.5px,#0036ff 118.5px,#001dff 119.5px,#002bff 129.5px,#0020ff 134.5px,#0059ff 138.5px,#0045ff 140.5px,#0000fc 142.5px,#000098 145.5px,#000090 148.5px,#0000ac 162px)"></i><i style="left:164px;background:linear-gradient(#008fff 0px,#0039ff 8.5px,#003fff 16.5px,#0005ff 29.5px,#000cff 34.5px,#0000d6 42.5px,#0000af 45.5px,#0004ff 59.5px,#0000fc 66.5px,#0033ff 74.5px,#0027ff 79.5px,#002fff 84.5px,#002fff 87.5px,#006bff 90.5px,#00a1ff 92.5px,#00a6ff 94.5px,#0039ff 99.5px,#001dff 104.5px,#0021ff 110.5px,#0049ff 113.5px,#0022ff 121.5px,#0035ff 130.5px,#0006ff 137.5px,#0021ff 140.5px,#0000f0 142.5px,#0000cb 143.5px,#0000a4 147.5px,#000083 153.5px,#0000b5 162px)"></i><i style="left:165px;background:linear-gradient(#0045ff 0px,#004cff 12.5px,#0000fa 21.5px,#0001ff 23.5px,#0058ff 26.5px,#005cff 28.5px,#0000fd 32.5px,#0000d0 35.5px,#0000b2 42.5px,#0000ae 50.5px,#0000b3 54.5px,#0000f9 58.5px,#0016ff 60.5px,#001eff 65.5px,#0051ff 71.5px,#002bff 75.5px,#0008ff 79.5px,#003bff 88.5px,#00a9ff 93.5px,#009cff 100.5px,#0051ff 104.5px,#001eff 108.5px,#0062ff 114.5px,#0045ff 117.5px,#0003ff 121.5px,#000dff 126.5px,#0035ff 130.5px,#0006ff 135.5px,#0000f4 141.5px,#0000a0 146.5px,#000087 159.5px,#00008c 162px)"></i><i style="left:166px;background:linear-gradient(#0000a9 0px,#0006ff 5.5px,#004aff 9.5px,#005cff 15.5px,#0028ff 22.5px,#005bff 27.5px,#0038ff 30.5px,#0000fd 33.5px,#000097 47.5px,#0000a1 55.5px,#0000db 58.5px,#0000f7 62.5px,#005bff 70.5px,#0027ff 75.5px,#0002ff 79.5px,#0000f5 88.5px,#0002ff 89.5px,#006cff 93.5px,#007fff 97.5px,#009bff 100.5px,#0082ff 102.5px,#003eff 104.5px,#0003ff 108.5px,#0009ff 117.5px,#0000f4 126.5px,#0025ff 137.5px,#0007ff 140.5px,#000091 145.5px,#00009f 148.5px,#0000b8 152.5px,#00009c 158.5px,#0000a9 162px)"></i></div><div class="cb" style="left:228px;top:14px;width:11px;height:163px"></div><div class="cb" style="left:520px;top:14px;width:11px;height:163px"></div><div class="cb" style="left:229px;top:243px;width:10px;height:162px"></div><div class="cb" style="left:522px;top:243px;width:10px;height:162px"></div><svg width="550" height="456" viewBox="0 0 550 456" font-family="'Liberation Serif',serif" fill="#3a3a3a"><rect x="328.5" y="14.5" width="187" height="162.5" fill="none" stroke="#b0b0b2" stroke-width="0.8"/><rect x="324.5" y="243.5" width="179" height="161.7" fill="none" stroke="#b0b0b2" stroke-width="0.8"/><text x="129.60" y="10.20" font-size="10.85" text-anchor="middle" font-weight="bold" fill="#1a1a1a">Angle-Doppler Map (Range= 80km)</text><text x="421.50" y="10.20" font-size="10.85" text-anchor="middle" font-weight="bold" fill="#1a1a1a">Angle-Doppler Map (Range= 80km)</text><text x="128.60" y="238.60" font-size="10.85" text-anchor="middle" font-weight="bold" fill="#1a1a1a">Range-Doppler Map (Azimuth= 10°)</text><text x="414.30" y="238.60" font-size="10.85" text-anchor="middle" font-weight="bold" fill="#1a1a1a">Range-Doppler Map (Azimuth= 10°)</text><text x="50.90" y="190.40" font-size="9.6" text-anchor="middle">−0.4</text><text x="70.60" y="190.40" font-size="9.6" text-anchor="middle">−0.3</text><text x="90.30" y="190.40" font-size="9.6" text-anchor="middle">−0.2</text><text x="110.00" y="190.40" font-size="9.6" text-anchor="middle">−0.1</text><text x="129.70" y="190.40" font-size="9.6" text-anchor="middle">0</text><text x="149.40" y="190.40" font-size="9.6" text-anchor="middle">0.1</text><text x="169.10" y="190.40" font-size="9.6" text-anchor="middle">0.2</text><text x="188.80" y="190.40" font-size="9.6" text-anchor="middle">0.3</text><text x="208.50" y="190.40" font-size="9.6" text-anchor="middle">0.4</text><text x="343.06" y="190.40" font-size="9.6" text-anchor="middle">−0.4</text><text x="362.77" y="190.40" font-size="9.6" text-anchor="middle">−0.3</text><text x="382.48" y="190.40" font-size="9.6" text-anchor="middle">−0.2</text><text x="402.19" y="190.40" font-size="9.6" text-anchor="middle">−0.1</text><text x="421.90" y="190.40" font-size="9.6" text-anchor="middle">0</text><text x="441.61" y="190.40" font-size="9.6" text-anchor="middle">0.1</text><text x="461.32" y="190.40" font-size="9.6" text-anchor="middle">0.2</text><text x="481.03" y="190.40" font-size="9.6" text-anchor="middle">0.3</text><text x="500.74" y="190.40" font-size="9.6" text-anchor="middle">0.4</text><text x="48.69" y="418.40" font-size="9.6" text-anchor="middle">−0.4</text><text x="68.58" y="418.40" font-size="9.6" text-anchor="middle">−0.3</text><text x="88.47" y="418.40" font-size="9.6" text-anchor="middle">−0.2</text><text x="108.36" y="418.40" font-size="9.6" text-anchor="middle">−0.1</text><text x="128.25" y="418.40" font-size="9.6" text-anchor="middle">0</text><text x="148.14" y="418.40" font-size="9.6" text-anchor="middle">0.1</text><text x="168.03" y="418.40" font-size="9.6" text-anchor="middle">0.2</text><text x="187.92" y="418.40" font-size="9.6" text-anchor="middle">0.3</text><text x="207.81" y="418.40" font-size="9.6" text-anchor="middle">0.4</text><text x="339.04" y="418.40" font-size="9.6" text-anchor="middle">−0.4</text><text x="357.83" y="418.40" font-size="9.6" text-anchor="middle">−0.3</text><text x="376.62" y="418.40" font-size="9.6" text-anchor="middle">−0.2</text><text x="395.41" y="418.40" font-size="9.6" text-anchor="middle">−0.1</text><text x="414.20" y="418.40" font-size="9.6" text-anchor="middle">0</text><text x="432.99" y="418.40" font-size="9.6" text-anchor="middle">0.1</text><text x="451.78" y="418.40" font-size="9.6" text-anchor="middle">0.2</text><text x="470.57" y="418.40" font-size="9.6" text-anchor="middle">0.3</text><text x="489.36" y="418.40" font-size="9.6" text-anchor="middle">0.4</text><text x="32.40" y="18.50" font-size="9.6" text-anchor="end">1</text><text x="32.40" y="59.25" font-size="9.6" text-anchor="end">0.5</text><text x="32.40" y="100.00" font-size="9.6" text-anchor="end">0</text><text x="32.40" y="140.75" font-size="9.6" text-anchor="end">−0.5</text><text x="32.40" y="181.50" font-size="9.6" text-anchor="end">−1</text><text x="324.40" y="18.50" font-size="9.6" text-anchor="end">1</text><text x="324.40" y="59.25" font-size="9.6" text-anchor="end">0.5</text><text x="324.40" y="100.00" font-size="9.6" text-anchor="end">0</text><text x="324.40" y="140.75" font-size="9.6" text-anchor="end">−0.5</text><text x="324.40" y="181.50" font-size="9.6" text-anchor="end">−1</text><text x="29.20" y="409.80" font-size="9.6" text-anchor="end">0</text><text x="29.20" y="357.57" font-size="9.6" text-anchor="end">50</text><text x="29.20" y="305.35" font-size="9.6" text-anchor="end">100</text><text x="29.20" y="253.12" font-size="9.6" text-anchor="end">150</text><text x="321.20" y="409.80" font-size="9.6" text-anchor="end">0</text><text x="321.20" y="357.57" font-size="9.6" text-anchor="end">50</text><text x="321.20" y="305.35" font-size="9.6" text-anchor="end">100</text><text x="321.20" y="253.12" font-size="9.6" text-anchor="end">150</text><line x1="328.5" y1="14.20" x2="330.3" y2="14.20" stroke="#b0b0b2" stroke-width="0.8"/><line x1="513.7" y1="14.20" x2="515.5" y2="14.20" stroke="#b0b0b2" stroke-width="0.8"/><line x1="328.5" y1="54.95" x2="330.3" y2="54.95" stroke="#b0b0b2" stroke-width="0.8"/><line x1="513.7" y1="54.95" x2="515.5" y2="54.95" stroke="#b0b0b2" stroke-width="0.8"/><line x1="328.5" y1="95.70" x2="330.3" y2="95.70" stroke="#b0b0b2" stroke-width="0.8"/><line x1="513.7" y1="95.70" x2="515.5" y2="95.70" stroke="#b0b0b2" stroke-width="0.8"/><line x1="328.5" y1="136.45" x2="330.3" y2="136.45" stroke="#b0b0b2" stroke-width="0.8"/><line x1="513.7" y1="136.45" x2="515.5" y2="136.45" stroke="#b0b0b2" stroke-width="0.8"/><line x1="328.5" y1="177.20" x2="330.3" y2="177.20" stroke="#b0b0b2" stroke-width="0.8"/><line x1="513.7" y1="177.20" x2="515.5" y2="177.20" stroke="#b0b0b2" stroke-width="0.8"/><line x1="324.5" y1="405.50" x2="326.3" y2="405.50" stroke="#b0b0b2" stroke-width="0.8"/><line x1="501.7" y1="405.50" x2="503.5" y2="405.50" stroke="#b0b0b2" stroke-width="0.8"/><line x1="324.5" y1="353.27" x2="326.3" y2="353.27" stroke="#b0b0b2" stroke-width="0.8"/><line x1="501.7" y1="353.27" x2="503.5" y2="353.27" stroke="#b0b0b2" stroke-width="0.8"/><line x1="324.5" y1="301.05" x2="326.3" y2="301.05" stroke="#b0b0b2" stroke-width="0.8"/><line x1="501.7" y1="301.05" x2="503.5" y2="301.05" stroke="#b0b0b2" stroke-width="0.8"/><line x1="324.5" y1="248.82" x2="326.3" y2="248.82" stroke="#b0b0b2" stroke-width="0.8"/><line x1="501.7" y1="248.82" x2="503.5" y2="248.82" stroke="#b0b0b2" stroke-width="0.8"/><text x="242.00" y="178.70" font-size="9.6" text-anchor="start">−10</text><text x="534.30" y="178.70" font-size="9.6" text-anchor="start">−10</text><text x="242.00" y="156.70" font-size="9.6" text-anchor="start">0</text><text x="534.30" y="156.70" font-size="9.6" text-anchor="start">0</text><text x="242.00" y="134.70" font-size="9.6" text-anchor="start">10</text><text x="534.30" y="134.70" font-size="9.6" text-anchor="start">10</text><text x="242.00" y="112.70" font-size="9.6" text-anchor="start">20</text><text x="534.30" y="112.70" font-size="9.6" text-anchor="start">20</text><text x="242.00" y="90.70" font-size="9.6" text-anchor="start">30</text><text x="534.30" y="90.70" font-size="9.6" text-anchor="start">30</text><text x="242.00" y="68.70" font-size="9.6" text-anchor="start">40</text><text x="534.30" y="68.70" font-size="9.6" text-anchor="start">40</text><text x="242.00" y="46.70" font-size="9.6" text-anchor="start">50</text><text x="534.30" y="46.70" font-size="9.6" text-anchor="start">50</text><text x="242.00" y="24.70" font-size="9.6" text-anchor="start">60</text><text x="534.30" y="24.70" font-size="9.6" text-anchor="start">60</text><text x="242.00" y="397.90" font-size="9.6" text-anchor="start">10</text><text x="535.50" y="397.90" font-size="9.6" text-anchor="start">10</text><text x="242.00" y="377.35" font-size="9.6" text-anchor="start">20</text><text x="535.50" y="377.35" font-size="9.6" text-anchor="start">20</text><text x="242.00" y="356.80" font-size="9.6" text-anchor="start">30</text><text x="535.50" y="356.80" font-size="9.6" text-anchor="start">30</text><text x="242.00" y="336.25" font-size="9.6" text-anchor="start">40</text><text x="535.50" y="336.25" font-size="9.6" text-anchor="start">40</text><text x="242.00" y="315.70" font-size="9.6" text-anchor="start">50</text><text x="535.50" y="315.70" font-size="9.6" text-anchor="start">50</text><text x="242.00" y="295.15" font-size="9.6" text-anchor="start">60</text><text x="535.50" y="295.15" font-size="9.6" text-anchor="start">60</text><text x="242.00" y="274.60" font-size="9.6" text-anchor="start">70</text><text x="535.50" y="274.60" font-size="9.6" text-anchor="start">70</text><text x="242.00" y="254.05" font-size="9.6" text-anchor="start">80</text><text x="535.50" y="254.05" font-size="9.6" text-anchor="start">80</text><text x="129.00" y="202.30" font-size="10.65" text-anchor="middle">Doppler frequency(Hz)</text><text x="421.50" y="202.30" font-size="10.65" text-anchor="middle">Doppler frequency(Hz)</text><text x="128.00" y="429.60" font-size="10.65" text-anchor="middle">Doppler frequency(Hz)</text><text x="414.00" y="429.60" font-size="10.65" text-anchor="middle">Doppler frequency(Hz)</text><text x="0.00" y="0.00" font-size="10.65" text-anchor="middle" transform="translate(10.8 96) rotate(-90)">Azimuth sine</text><text x="0.00" y="0.00" font-size="10.65" text-anchor="middle" transform="translate(303.0 96) rotate(-90)">Azimuth sine</text><text x="0.00" y="0.00" font-size="10.65" text-anchor="middle" transform="translate(10.0 324) rotate(-90)">Range(km)</text><text x="0.00" y="0.00" font-size="10.65" text-anchor="middle" transform="translate(302.2 324) rotate(-90)">Range(km)</text><text x="138.1" y="221.9" font-size="16" text-anchor="middle" fill="#111">(<tspan font-weight="bold">a</tspan>)</text><text x="429.9" y="222.3" font-size="16" text-anchor="middle" fill="#111">(<tspan font-weight="bold">b</tspan>)</text><text x="137.5" y="450.6" font-size="16" text-anchor="middle" fill="#111">(<tspan font-weight="bold">c</tspan>)</text><text x="429.7" y="451.2" font-size="16" text-anchor="middle" fill="#111">(<tspan font-weight="bold">d</tspan>)</text></svg></div></body></html>
